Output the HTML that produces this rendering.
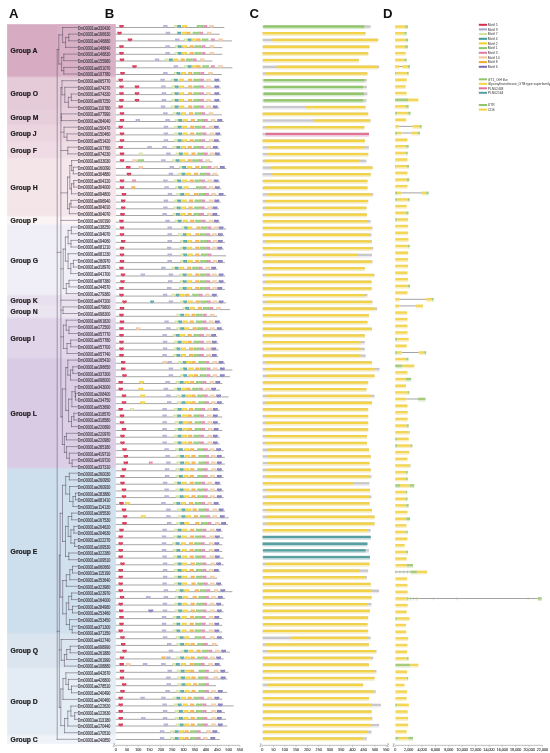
<!DOCTYPE html>
<html><head><meta charset="utf-8"><style>
html,body{margin:0;padding:0;background:#fff;width:550px;height:753px;overflow:hidden;position:relative}
</style></head><body>
<svg width="550" height="753" viewBox="0 0 550 753" style="position:absolute;left:0;top:0;will-change:transform">
<text x="9.1" y="17.5" font-family="Liberation Sans" font-weight="bold" font-size="13.2" fill="#111">A</text>
<text x="104.7" y="17.5" font-family="Liberation Sans" font-weight="bold" font-size="13.2" fill="#111">B</text>
<text x="249.5" y="17.5" font-family="Liberation Sans" font-weight="bold" font-size="13.2" fill="#111">C</text>
<text x="383.1" y="17.5" font-family="Liberation Sans" font-weight="bold" font-size="13.2" fill="#111">D</text>
<defs><linearGradient id="gb" x1="0" y1="0" x2="0" y2="1"><stop offset="0.000%" stop-color="rgb(215,172,194)"/><stop offset="7.129%" stop-color="rgb(215,172,194)"/><stop offset="7.462%" stop-color="rgb(229,202,216)"/><stop offset="11.604%" stop-color="rgb(229,202,216)"/><stop offset="11.937%" stop-color="rgb(231,206,219)"/><stop offset="13.799%" stop-color="rgb(231,206,219)"/><stop offset="14.133%" stop-color="rgb(235,213,223)"/><stop offset="16.134%" stop-color="rgb(235,213,223)"/><stop offset="16.467%" stop-color="rgb(238,219,227)"/><stop offset="18.427%" stop-color="rgb(238,219,227)"/><stop offset="18.760%" stop-color="rgb(244,229,233)"/><stop offset="26.543%" stop-color="rgb(244,229,233)"/><stop offset="26.876%" stop-color="rgb(250,244,245)"/><stop offset="27.654%" stop-color="rgb(250,244,245)"/><stop offset="27.988%" stop-color="rgb(240,238,246)"/><stop offset="37.479%" stop-color="rgb(240,238,246)"/><stop offset="37.813%" stop-color="rgb(232,224,238)"/><stop offset="38.883%" stop-color="rgb(232,224,238)"/><stop offset="39.216%" stop-color="rgb(235,229,241)"/><stop offset="40.661%" stop-color="rgb(235,229,241)"/><stop offset="40.995%" stop-color="rgb(224,213,233)"/><stop offset="46.262%" stop-color="rgb(224,213,233)"/><stop offset="46.595%" stop-color="rgb(218,203,228)"/><stop offset="61.520%" stop-color="rgb(218,203,228)"/><stop offset="61.854%" stop-color="rgb(205,222,236)"/><stop offset="84.505%" stop-color="rgb(205,222,236)"/><stop offset="84.839%" stop-color="rgb(218,229,239)"/><stop offset="89.258%" stop-color="rgb(218,229,239)"/><stop offset="89.591%" stop-color="rgb(227,236,244)"/><stop offset="98.596%" stop-color="rgb(227,236,244)"/><stop offset="98.930%" stop-color="rgb(239,243,248)"/><stop offset="100.000%" stop-color="rgb(239,243,248)"/></linearGradient><linearGradient id="gt" x1="0" y1="0" x2="0" y2="1"><stop offset="0.000%" stop-color="rgb(217,177,198)"/><stop offset="7.129%" stop-color="rgb(217,177,198)"/><stop offset="7.462%" stop-color="rgb(230,205,218)"/><stop offset="11.604%" stop-color="rgb(230,205,218)"/><stop offset="11.937%" stop-color="rgb(232,209,221)"/><stop offset="13.799%" stop-color="rgb(232,209,221)"/><stop offset="14.133%" stop-color="rgb(236,215,225)"/><stop offset="16.134%" stop-color="rgb(236,215,225)"/><stop offset="16.467%" stop-color="rgb(239,221,228)"/><stop offset="18.427%" stop-color="rgb(239,221,228)"/><stop offset="18.760%" stop-color="rgb(244,230,234)"/><stop offset="26.543%" stop-color="rgb(244,230,234)"/><stop offset="26.876%" stop-color="rgb(250,244,245)"/><stop offset="27.654%" stop-color="rgb(250,244,245)"/><stop offset="27.988%" stop-color="rgb(241,239,246)"/><stop offset="37.479%" stop-color="rgb(241,239,246)"/><stop offset="37.813%" stop-color="rgb(233,226,239)"/><stop offset="38.883%" stop-color="rgb(233,226,239)"/><stop offset="39.216%" stop-color="rgb(236,230,241)"/><stop offset="40.661%" stop-color="rgb(236,230,241)"/><stop offset="40.995%" stop-color="rgb(226,215,234)"/><stop offset="46.262%" stop-color="rgb(226,215,234)"/><stop offset="46.595%" stop-color="rgb(220,206,229)"/><stop offset="61.520%" stop-color="rgb(220,206,229)"/><stop offset="61.854%" stop-color="rgb(208,224,237)"/><stop offset="84.505%" stop-color="rgb(208,224,237)"/><stop offset="84.839%" stop-color="rgb(220,230,240)"/><stop offset="89.258%" stop-color="rgb(220,230,240)"/><stop offset="89.591%" stop-color="rgb(228,237,244)"/><stop offset="98.596%" stop-color="rgb(228,237,244)"/><stop offset="98.930%" stop-color="rgb(240,243,248)"/><stop offset="100.000%" stop-color="rgb(240,243,248)"/></linearGradient></defs>
<rect x="7.1" y="24.2" width="108.5" height="719.6" fill="url(#gb)"/>
<rect x="57.2" y="24.2" width="58.4" height="719.6" fill="url(#gt)"/>
<text x="10.6" y="53.2" font-family="Liberation Sans" font-weight="bold" font-size="6.8" fill="#1a1a1a" stroke="#1a1a1a" stroke-width="0.2">Group A</text>
<text x="10.6" y="95.5" font-family="Liberation Sans" font-weight="bold" font-size="6.8" fill="#1a1a1a" stroke="#1a1a1a" stroke-width="0.2">Group O</text>
<text x="10.6" y="119.5" font-family="Liberation Sans" font-weight="bold" font-size="6.8" fill="#1a1a1a" stroke="#1a1a1a" stroke-width="0.2">Group M</text>
<text x="10.6" y="135.8" font-family="Liberation Sans" font-weight="bold" font-size="6.8" fill="#1a1a1a" stroke="#1a1a1a" stroke-width="0.2">Group J</text>
<text x="10.6" y="152.5" font-family="Liberation Sans" font-weight="bold" font-size="6.8" fill="#1a1a1a" stroke="#1a1a1a" stroke-width="0.2">Group F</text>
<text x="10.6" y="189.9" font-family="Liberation Sans" font-weight="bold" font-size="6.8" fill="#1a1a1a" stroke="#1a1a1a" stroke-width="0.2">Group H</text>
<text x="10.6" y="223.1" font-family="Liberation Sans" font-weight="bold" font-size="6.8" fill="#1a1a1a" stroke="#1a1a1a" stroke-width="0.2">Group P</text>
<text x="10.6" y="262.5" font-family="Liberation Sans" font-weight="bold" font-size="6.8" fill="#1a1a1a" stroke="#1a1a1a" stroke-width="0.2">Group G</text>
<text x="10.6" y="302.9" font-family="Liberation Sans" font-weight="bold" font-size="6.8" fill="#1a1a1a" stroke="#1a1a1a" stroke-width="0.2">Group K</text>
<text x="10.6" y="314.3" font-family="Liberation Sans" font-weight="bold" font-size="6.8" fill="#1a1a1a" stroke="#1a1a1a" stroke-width="0.2">Group N</text>
<text x="10.6" y="340.9" font-family="Liberation Sans" font-weight="bold" font-size="6.8" fill="#1a1a1a" stroke="#1a1a1a" stroke-width="0.2">Group I</text>
<text x="10.6" y="415.9" font-family="Liberation Sans" font-weight="bold" font-size="6.8" fill="#1a1a1a" stroke="#1a1a1a" stroke-width="0.2">Group L</text>
<text x="10.6" y="553.5" font-family="Liberation Sans" font-weight="bold" font-size="6.8" fill="#1a1a1a" stroke="#1a1a1a" stroke-width="0.2">Group E</text>
<text x="10.6" y="653.3" font-family="Liberation Sans" font-weight="bold" font-size="6.8" fill="#1a1a1a" stroke="#1a1a1a" stroke-width="0.2">Group Q</text>
<text x="10.6" y="704.0" font-family="Liberation Sans" font-weight="bold" font-size="6.8" fill="#1a1a1a" stroke="#1a1a1a" stroke-width="0.2">Group D</text>
<text x="10.6" y="742.1" font-family="Liberation Sans" font-weight="bold" font-size="6.8" fill="#1a1a1a" stroke="#1a1a1a" stroke-width="0.2">Group C</text>
<path d="M62.6 27.5L77.6 27.5M68.8 34.1L77.6 34.1M68.8 40.8L77.6 40.8M68.8 34.1L68.8 40.8M65.6 47.4L77.6 47.4M65.6 37.4L68.8 37.4M65.6 37.4L65.6 47.4M62.6 42.4L65.6 42.4M62.6 27.5L62.6 42.4M63.8 54.1L77.6 54.1M63.8 60.7L77.6 60.7M63.8 54.1L63.8 60.7M63.8 67.4L77.6 67.4M63.8 74.0L77.6 74.0M63.8 67.4L63.8 74.0M61.6 57.4L63.8 57.4M61.6 70.7L63.8 70.7M61.6 57.4L61.6 70.7M58.8 34.9L62.6 34.9M58.8 64.0L61.6 64.0M58.8 34.9L58.8 64.0M57.2 49.5L58.8 49.5M62.0 80.7L77.6 80.7M64.8 87.3L77.6 87.3M71.3 94.0L77.6 94.0M71.3 100.6L77.6 100.6M71.3 94.0L71.3 100.6M68.4 107.3L77.6 107.3M68.4 97.3L71.3 97.3M68.4 97.3L68.4 107.3M64.8 102.3L68.4 102.3M64.8 87.3L64.8 102.3M62.0 94.8L64.8 94.8M62.0 80.7L62.0 94.8M60.9 87.7L62.0 87.7M61.4 113.9L77.6 113.9M61.4 120.6L77.6 120.6M61.4 113.9L61.4 120.6M60.9 117.3L61.4 117.3M64.0 127.2L77.6 127.2M67.0 133.9L77.6 133.9M67.0 140.6L77.6 140.6M67.0 133.9L67.0 140.6M64.0 137.2L67.0 137.2M64.0 127.2L64.0 137.2M60.9 132.2L64.0 132.2M67.8 147.2L77.6 147.2M67.8 153.9L77.6 153.9M67.8 147.2L67.8 153.9M60.9 150.5L67.8 150.5M71.6 160.5L77.6 160.5M73.3 167.2L77.6 167.2M73.3 173.8L77.6 173.8M73.3 167.2L73.3 173.8M71.6 170.5L73.3 170.5M71.6 160.5L71.6 170.5M73.8 180.5L77.6 180.5M73.8 187.1L77.6 187.1M73.8 180.5L73.8 187.1M71.5 193.8L77.6 193.8M71.5 183.8L73.8 183.8M71.5 183.8L71.5 193.8M69.8 165.5L71.6 165.5M69.8 188.8L71.5 188.8M69.8 165.5L69.8 188.8M71.0 200.4L77.6 200.4M71.0 207.1L77.6 207.1M71.0 200.4L71.0 207.1M69.4 213.7L77.6 213.7M69.4 203.8L71.0 203.8M69.4 203.8L69.4 213.7M67.5 177.1L69.8 177.1M67.5 208.7L69.4 208.7M67.5 177.1L67.5 208.7M60.9 192.9L67.5 192.9M60.9 220.4L77.6 220.4M71.3 227.0L77.6 227.0M71.3 233.7L77.6 233.7M71.3 227.0L71.3 233.7M71.0 240.4L77.6 240.4M71.0 247.0L77.6 247.0M71.0 240.4L71.0 247.0M68.1 230.4L71.3 230.4M68.1 243.7L71.0 243.7M68.1 230.4L68.1 243.7M68.1 253.7L77.6 253.7M73.4 260.3L77.6 260.3M73.4 267.0L77.6 267.0M73.4 260.3L73.4 267.0M70.8 273.6L77.6 273.6M70.8 263.6L73.4 263.6M70.8 263.6L70.8 273.6M68.1 268.6L70.8 268.6M68.1 253.7L68.1 268.6M65.4 237.0L68.1 237.0M65.4 261.1L68.1 261.1M65.4 237.0L65.4 261.1M69.0 280.3L77.6 280.3M69.0 286.9L77.6 286.9M69.0 280.3L69.0 286.9M66.3 293.6L77.6 293.6M66.3 283.6L69.0 283.6M66.3 283.6L66.3 293.6M63.2 249.1L65.4 249.1M63.2 288.6L66.3 288.6M63.2 249.1L63.2 288.6M60.9 268.8L63.2 268.8M60.9 300.2L77.6 300.2M63.0 306.9L77.6 306.9M63.0 313.5L77.6 313.5M63.0 306.9L63.0 313.5M60.9 310.2L63.0 310.2M66.2 320.2L77.6 320.2M69.0 326.8L77.6 326.8M69.0 333.5L77.6 333.5M69.0 326.8L69.0 333.5M66.2 330.2L69.0 330.2M66.2 320.2L66.2 330.2M70.7 340.1L77.6 340.1M70.7 346.8L77.6 346.8M70.7 340.1L70.7 346.8M67.0 353.5L77.6 353.5M67.0 343.5L70.7 343.5M67.0 343.5L67.0 353.5M63.4 325.2L66.2 325.2M63.4 348.5L67.0 348.5M63.4 325.2L63.4 348.5M60.9 336.8L63.4 336.8M67.8 360.1L77.6 360.1M72.8 366.8L77.6 366.8M72.8 373.4L77.6 373.4M72.8 366.8L72.8 373.4M70.5 380.1L77.6 380.1M70.5 370.1L72.8 370.1M70.5 370.1L70.5 380.1M67.8 375.1L70.5 375.1M67.8 360.1L67.8 375.1M75.2 386.7L77.6 386.7M75.5 393.4L77.6 393.4M75.5 400.0L77.6 400.0M75.5 393.4L75.5 400.0M75.2 396.7L75.5 396.7M75.2 386.7L75.2 396.7M71.9 406.7L77.6 406.7M71.9 391.7L75.2 391.7M71.9 391.7L71.9 406.7M73.9 413.3L77.6 413.3M73.9 420.0L77.6 420.0M73.9 413.3L73.9 420.0M71.5 426.6L77.6 426.6M71.5 416.7L73.9 416.7M71.5 416.7L71.5 426.6M68.6 399.2L71.9 399.2M68.6 421.6L71.5 421.6M68.6 399.2L68.6 421.6M65.7 367.6L67.8 367.6M65.7 410.4L68.6 410.4M65.7 367.6L65.7 410.4M66.4 433.3L77.6 433.3M66.4 439.9L77.6 439.9M66.4 433.3L66.4 439.9M66.6 446.6L77.6 446.6M69.3 453.2L77.6 453.2M72.1 459.9L77.6 459.9M72.1 466.6L77.6 466.6M72.1 459.9L72.1 466.6M69.3 463.2L72.1 463.2M69.3 453.2L69.3 463.2M66.6 458.2L69.3 458.2M66.6 446.6L66.6 458.2M64.4 436.6L66.4 436.6M64.4 452.4L66.6 452.4M64.4 436.6L64.4 452.4M62.4 389.0L65.7 389.0M62.4 444.5L64.4 444.5M62.4 389.0L62.4 444.5M60.9 416.8L62.4 416.8M69.3 473.2L77.6 473.2M69.3 479.9L77.6 479.9M69.3 473.2L69.3 479.9M69.6 486.5L77.6 486.5M75.5 493.2L77.6 493.2M75.5 499.8L77.6 499.8M75.5 493.2L75.5 499.8M73.0 506.5L77.6 506.5M73.0 496.5L75.5 496.5M73.0 496.5L73.0 506.5M69.6 501.5L73.0 501.5M69.6 486.5L69.6 501.5M65.7 476.5L69.3 476.5M65.7 494.0L69.6 494.0M65.7 476.5L65.7 494.0M71.7 513.1L77.6 513.1M71.7 519.8L77.6 519.8M71.7 513.1L71.7 519.8M73.9 526.4L77.6 526.4M73.9 533.1L77.6 533.1M73.9 526.4L73.9 533.1M74.6 539.7L77.6 539.7M74.6 546.4L77.6 546.4M74.6 539.7L74.6 546.4M70.9 529.8L73.9 529.8M70.9 543.1L74.6 543.1M70.9 529.8L70.9 543.1M68.2 516.5L71.7 516.5M68.2 536.4L70.9 536.4M68.2 516.5L68.2 536.4M68.8 553.0L77.6 553.0M68.8 559.7L77.6 559.7M68.8 553.0L68.8 559.7M65.5 526.4L68.2 526.4M65.5 556.4L68.8 556.4M65.5 526.4L65.5 556.4M62.5 485.3L65.7 485.3M62.5 541.4L65.5 541.4M62.5 485.3L62.5 541.4M72.5 566.3L77.6 566.3M72.5 573.0L77.6 573.0M72.5 566.3L72.5 573.0M69.8 579.7L77.6 579.7M69.8 569.7L72.5 569.7M69.8 569.7L69.8 579.7M66.3 586.3L77.6 586.3M66.3 574.7L69.8 574.7M66.3 574.7L66.3 586.3M71.6 593.0L77.6 593.0M71.6 599.6L77.6 599.6M71.6 593.0L71.6 599.6M72.5 606.3L77.6 606.3M72.5 612.9L77.6 612.9M72.5 606.3L72.5 612.9M68.7 596.3L71.6 596.3M68.7 609.6L72.5 609.6M68.7 596.3L68.7 609.6M69.5 619.6L77.6 619.6M72.2 626.2L77.6 626.2M72.2 632.9L77.6 632.9M72.2 626.2L72.2 632.9M69.5 629.6L72.2 629.6M69.5 619.6L69.5 629.6M66.3 602.9L68.7 602.9M66.3 624.6L69.5 624.6M66.3 602.9L66.3 624.6M62.7 580.5L66.3 580.5M62.7 613.8L66.3 613.8M62.7 580.5L62.7 613.8M60.2 513.3L62.5 513.3M60.2 597.1L62.7 597.1M60.2 513.3L60.2 597.1M59.3 555.2L60.2 555.2M61.2 639.5L77.6 639.5M70.2 646.2L77.6 646.2M70.2 652.8L77.6 652.8M70.2 646.2L70.2 652.8M66.7 659.5L77.6 659.5M66.7 649.5L70.2 649.5M66.7 649.5L66.7 659.5M64.4 666.1L77.6 666.1M64.4 654.5L66.7 654.5M64.4 654.5L64.4 666.1M61.2 660.3L64.4 660.3M61.2 639.5L61.2 660.3M59.3 649.9L61.2 649.9M65.9 672.8L77.6 672.8M68.4 679.4L77.6 679.4M71.5 686.1L77.6 686.1M71.5 692.8L77.6 692.8M71.5 686.1L71.5 692.8M68.4 689.4L71.5 689.4M68.4 679.4L68.4 689.4M65.9 684.4L68.4 684.4M65.9 672.8L65.9 684.4M63.0 699.4L77.6 699.4M63.0 678.6L65.9 678.6M63.0 678.6L63.0 699.4M70.9 706.1L77.6 706.1M74.7 712.7L77.6 712.7M74.7 719.4L77.6 719.4M74.7 712.7L74.7 719.4M70.9 716.0L74.7 716.0M70.9 706.1L70.9 716.0M67.8 726.0L77.6 726.0M67.8 711.1L70.9 711.1M67.8 711.1L67.8 726.0M64.6 732.7L77.6 732.7M64.6 718.5L67.8 718.5M64.6 718.5L64.6 732.7M60.8 689.0L63.0 689.0M60.8 725.6L64.6 725.6M60.8 689.0L60.8 725.6M59.3 707.3L60.8 707.3M57.2 739.3L77.6 739.3M60.9 87.7L60.9 416.8M57.2 252.3L60.9 252.3M59.3 555.2L59.3 707.3M57.2 631.3L59.3 631.3M57.2 49.5L57.2 739.3" stroke="rgba(75,65,90,0.6)" stroke-width="0.8" fill="none" stroke-linecap="square"/>
<text x="77.8" y="29.8" font-family="Liberation Sans" font-size="4.9" fill="rgb(80,74,84)" stroke="rgb(80,74,84)" stroke-width="0.2" textLength="32.6" lengthAdjust="spacingAndGlyphs">Dm00001ae330430</text>
<text x="77.8" y="36.4" font-family="Liberation Sans" font-size="4.9" fill="rgb(80,74,84)" stroke="rgb(80,74,84)" stroke-width="0.2" textLength="32.6" lengthAdjust="spacingAndGlyphs">Dm00001ae196630</text>
<text x="77.8" y="43.1" font-family="Liberation Sans" font-size="4.9" fill="rgb(80,74,84)" stroke="rgb(80,74,84)" stroke-width="0.2" textLength="32.6" lengthAdjust="spacingAndGlyphs">Dm00001ae146880</text>
<text x="77.8" y="49.7" font-family="Liberation Sans" font-size="4.9" fill="rgb(80,74,84)" stroke="rgb(80,74,84)" stroke-width="0.2" textLength="32.6" lengthAdjust="spacingAndGlyphs">Dm00001ae146840</text>
<text x="77.8" y="56.4" font-family="Liberation Sans" font-size="4.9" fill="rgb(80,74,84)" stroke="rgb(80,74,84)" stroke-width="0.2" textLength="32.6" lengthAdjust="spacingAndGlyphs">Dm00001ae146830</text>
<text x="77.8" y="63.0" font-family="Liberation Sans" font-size="4.9" fill="rgb(80,74,84)" stroke="rgb(80,74,84)" stroke-width="0.2" textLength="32.6" lengthAdjust="spacingAndGlyphs">Dm00001ae155980</text>
<text x="77.8" y="69.7" font-family="Liberation Sans" font-size="4.9" fill="rgb(80,74,84)" stroke="rgb(80,74,84)" stroke-width="0.2" textLength="32.6" lengthAdjust="spacingAndGlyphs">Dm00001ae051070</text>
<text x="77.8" y="76.3" font-family="Liberation Sans" font-size="4.9" fill="rgb(80,74,84)" stroke="rgb(80,74,84)" stroke-width="0.2" textLength="32.6" lengthAdjust="spacingAndGlyphs">Dm00001ae107780</text>
<text x="77.8" y="83.0" font-family="Liberation Sans" font-size="4.9" fill="rgb(80,74,84)" stroke="rgb(80,74,84)" stroke-width="0.2" textLength="32.6" lengthAdjust="spacingAndGlyphs">Dm00001ae065770</text>
<text x="77.8" y="89.6" font-family="Liberation Sans" font-size="4.9" fill="rgb(80,74,84)" stroke="rgb(80,74,84)" stroke-width="0.2" textLength="32.6" lengthAdjust="spacingAndGlyphs">Dm00001ae074370</text>
<text x="77.8" y="96.3" font-family="Liberation Sans" font-size="4.9" fill="rgb(80,74,84)" stroke="rgb(80,74,84)" stroke-width="0.2" textLength="32.6" lengthAdjust="spacingAndGlyphs">Dm00001ae074330</text>
<text x="77.8" y="102.9" font-family="Liberation Sans" font-size="4.9" fill="rgb(80,74,84)" stroke="rgb(80,74,84)" stroke-width="0.2" textLength="32.6" lengthAdjust="spacingAndGlyphs">Dm00001ae067250</text>
<text x="77.8" y="109.6" font-family="Liberation Sans" font-size="4.9" fill="rgb(80,74,84)" stroke="rgb(80,74,84)" stroke-width="0.2" textLength="32.6" lengthAdjust="spacingAndGlyphs">Dm00001ae110780</text>
<text x="77.8" y="116.2" font-family="Liberation Sans" font-size="4.9" fill="rgb(80,74,84)" stroke="rgb(80,74,84)" stroke-width="0.2" textLength="32.6" lengthAdjust="spacingAndGlyphs">Dm00001ae077990</text>
<text x="77.8" y="122.9" font-family="Liberation Sans" font-size="4.9" fill="rgb(80,74,84)" stroke="rgb(80,74,84)" stroke-width="0.2" textLength="32.6" lengthAdjust="spacingAndGlyphs">Dm00001ae284040</text>
<text x="77.8" y="129.5" font-family="Liberation Sans" font-size="4.9" fill="rgb(80,74,84)" stroke="rgb(80,74,84)" stroke-width="0.2" textLength="32.6" lengthAdjust="spacingAndGlyphs">Dm00001ae150470</text>
<text x="77.8" y="136.2" font-family="Liberation Sans" font-size="4.9" fill="rgb(80,74,84)" stroke="rgb(80,74,84)" stroke-width="0.2" textLength="32.6" lengthAdjust="spacingAndGlyphs">Dm00001ae150460</text>
<text x="77.8" y="142.9" font-family="Liberation Sans" font-size="4.9" fill="rgb(80,74,84)" stroke="rgb(80,74,84)" stroke-width="0.2" textLength="32.6" lengthAdjust="spacingAndGlyphs">Dm00001ae051420</text>
<text x="77.8" y="149.5" font-family="Liberation Sans" font-size="4.9" fill="rgb(80,74,84)" stroke="rgb(80,74,84)" stroke-width="0.2" textLength="32.6" lengthAdjust="spacingAndGlyphs">Dm00001ae107760</text>
<text x="77.8" y="156.2" font-family="Liberation Sans" font-size="4.9" fill="rgb(80,74,84)" stroke="rgb(80,74,84)" stroke-width="0.2" textLength="32.6" lengthAdjust="spacingAndGlyphs">Dm00001ae074230</text>
<text x="77.8" y="162.8" font-family="Liberation Sans" font-size="4.9" fill="rgb(80,74,84)" stroke="rgb(80,74,84)" stroke-width="0.2" textLength="32.6" lengthAdjust="spacingAndGlyphs">Dm00001ae033030</text>
<text x="77.8" y="169.5" font-family="Liberation Sans" font-size="4.9" fill="rgb(80,74,84)" stroke="rgb(80,74,84)" stroke-width="0.2" textLength="32.6" lengthAdjust="spacingAndGlyphs">Dm00001ae160090</text>
<text x="77.8" y="176.1" font-family="Liberation Sans" font-size="4.9" fill="rgb(80,74,84)" stroke="rgb(80,74,84)" stroke-width="0.2" textLength="32.6" lengthAdjust="spacingAndGlyphs">Dm00001ae304880</text>
<text x="77.8" y="182.8" font-family="Liberation Sans" font-size="4.9" fill="rgb(80,74,84)" stroke="rgb(80,74,84)" stroke-width="0.2" textLength="32.6" lengthAdjust="spacingAndGlyphs">Dm00001ae304120</text>
<text x="77.8" y="189.4" font-family="Liberation Sans" font-size="4.9" fill="rgb(80,74,84)" stroke="rgb(80,74,84)" stroke-width="0.2" textLength="32.6" lengthAdjust="spacingAndGlyphs">Dm00001ae304000</text>
<text x="77.8" y="196.1" font-family="Liberation Sans" font-size="4.9" fill="rgb(80,74,84)" stroke="rgb(80,74,84)" stroke-width="0.2" textLength="32.6" lengthAdjust="spacingAndGlyphs">Dm00001ae094800</text>
<text x="77.8" y="202.7" font-family="Liberation Sans" font-size="4.9" fill="rgb(80,74,84)" stroke="rgb(80,74,84)" stroke-width="0.2" textLength="32.6" lengthAdjust="spacingAndGlyphs">Dm00001ae096940</text>
<text x="77.8" y="209.4" font-family="Liberation Sans" font-size="4.9" fill="rgb(80,74,84)" stroke="rgb(80,74,84)" stroke-width="0.2" textLength="32.6" lengthAdjust="spacingAndGlyphs">Dm00001ae304010</text>
<text x="77.8" y="216.0" font-family="Liberation Sans" font-size="4.9" fill="rgb(80,74,84)" stroke="rgb(80,74,84)" stroke-width="0.2" textLength="32.6" lengthAdjust="spacingAndGlyphs">Dm00001ae304070</text>
<text x="77.8" y="222.7" font-family="Liberation Sans" font-size="4.9" fill="rgb(80,74,84)" stroke="rgb(80,74,84)" stroke-width="0.2" textLength="32.6" lengthAdjust="spacingAndGlyphs">Dm00001ae100190</text>
<text x="77.8" y="229.3" font-family="Liberation Sans" font-size="4.9" fill="rgb(80,74,84)" stroke="rgb(80,74,84)" stroke-width="0.2" textLength="32.6" lengthAdjust="spacingAndGlyphs">Dm00001ae138250</text>
<text x="77.8" y="236.0" font-family="Liberation Sans" font-size="4.9" fill="rgb(80,74,84)" stroke="rgb(80,74,84)" stroke-width="0.2" textLength="32.6" lengthAdjust="spacingAndGlyphs">Dm00001ae194070</text>
<text x="77.8" y="242.7" font-family="Liberation Sans" font-size="4.9" fill="rgb(80,74,84)" stroke="rgb(80,74,84)" stroke-width="0.2" textLength="32.6" lengthAdjust="spacingAndGlyphs">Dm00001ae194060</text>
<text x="77.8" y="249.3" font-family="Liberation Sans" font-size="4.9" fill="rgb(80,74,84)" stroke="rgb(80,74,84)" stroke-width="0.2" textLength="32.6" lengthAdjust="spacingAndGlyphs">Dm00001ae081210</text>
<text x="77.8" y="256.0" font-family="Liberation Sans" font-size="4.9" fill="rgb(80,74,84)" stroke="rgb(80,74,84)" stroke-width="0.2" textLength="32.6" lengthAdjust="spacingAndGlyphs">Dm00001ae081230</text>
<text x="77.8" y="262.6" font-family="Liberation Sans" font-size="4.9" fill="rgb(80,74,84)" stroke="rgb(80,74,84)" stroke-width="0.2" textLength="32.6" lengthAdjust="spacingAndGlyphs">Dm00001ae280970</text>
<text x="77.8" y="269.3" font-family="Liberation Sans" font-size="4.9" fill="rgb(80,74,84)" stroke="rgb(80,74,84)" stroke-width="0.2" textLength="32.6" lengthAdjust="spacingAndGlyphs">Dm00001ae318970</text>
<text x="77.8" y="275.9" font-family="Liberation Sans" font-size="4.9" fill="rgb(80,74,84)" stroke="rgb(80,74,84)" stroke-width="0.2" textLength="32.6" lengthAdjust="spacingAndGlyphs">Dm00001ae041700</text>
<text x="77.8" y="282.6" font-family="Liberation Sans" font-size="4.9" fill="rgb(80,74,84)" stroke="rgb(80,74,84)" stroke-width="0.2" textLength="32.6" lengthAdjust="spacingAndGlyphs">Dm00001ae087380</text>
<text x="77.8" y="289.2" font-family="Liberation Sans" font-size="4.9" fill="rgb(80,74,84)" stroke="rgb(80,74,84)" stroke-width="0.2" textLength="32.6" lengthAdjust="spacingAndGlyphs">Dm00001ae244570</text>
<text x="77.8" y="295.9" font-family="Liberation Sans" font-size="4.9" fill="rgb(80,74,84)" stroke="rgb(80,74,84)" stroke-width="0.2" textLength="32.6" lengthAdjust="spacingAndGlyphs">Dm00001ae279380</text>
<text x="77.8" y="302.5" font-family="Liberation Sans" font-size="4.9" fill="rgb(80,74,84)" stroke="rgb(80,74,84)" stroke-width="0.2" textLength="32.6" lengthAdjust="spacingAndGlyphs">Dm00001ae047200</text>
<text x="77.8" y="309.2" font-family="Liberation Sans" font-size="4.9" fill="rgb(80,74,84)" stroke="rgb(80,74,84)" stroke-width="0.2" textLength="32.6" lengthAdjust="spacingAndGlyphs">Dm00001ae079800</text>
<text x="77.8" y="315.8" font-family="Liberation Sans" font-size="4.9" fill="rgb(80,74,84)" stroke="rgb(80,74,84)" stroke-width="0.2" textLength="32.6" lengthAdjust="spacingAndGlyphs">Dm00001ae098300</text>
<text x="77.8" y="322.5" font-family="Liberation Sans" font-size="4.9" fill="rgb(80,74,84)" stroke="rgb(80,74,84)" stroke-width="0.2" textLength="32.6" lengthAdjust="spacingAndGlyphs">Dm00001ae061820</text>
<text x="77.8" y="329.1" font-family="Liberation Sans" font-size="4.9" fill="rgb(80,74,84)" stroke="rgb(80,74,84)" stroke-width="0.2" textLength="32.6" lengthAdjust="spacingAndGlyphs">Dm00001ae172500</text>
<text x="77.8" y="335.8" font-family="Liberation Sans" font-size="4.9" fill="rgb(80,74,84)" stroke="rgb(80,74,84)" stroke-width="0.2" textLength="32.6" lengthAdjust="spacingAndGlyphs">Dm00001ae057770</text>
<text x="77.8" y="342.4" font-family="Liberation Sans" font-size="4.9" fill="rgb(80,74,84)" stroke="rgb(80,74,84)" stroke-width="0.2" textLength="32.6" lengthAdjust="spacingAndGlyphs">Dm00001ae057780</text>
<text x="77.8" y="349.1" font-family="Liberation Sans" font-size="4.9" fill="rgb(80,74,84)" stroke="rgb(80,74,84)" stroke-width="0.2" textLength="32.6" lengthAdjust="spacingAndGlyphs">Dm00001ae057700</text>
<text x="77.8" y="355.8" font-family="Liberation Sans" font-size="4.9" fill="rgb(80,74,84)" stroke="rgb(80,74,84)" stroke-width="0.2" textLength="32.6" lengthAdjust="spacingAndGlyphs">Dm00001ae057740</text>
<text x="77.8" y="362.4" font-family="Liberation Sans" font-size="4.9" fill="rgb(80,74,84)" stroke="rgb(80,74,84)" stroke-width="0.2" textLength="32.6" lengthAdjust="spacingAndGlyphs">Dm00001ae165410</text>
<text x="77.8" y="369.1" font-family="Liberation Sans" font-size="4.9" fill="rgb(80,74,84)" stroke="rgb(80,74,84)" stroke-width="0.2" textLength="32.6" lengthAdjust="spacingAndGlyphs">Dm00001ae196650</text>
<text x="77.8" y="375.7" font-family="Liberation Sans" font-size="4.9" fill="rgb(80,74,84)" stroke="rgb(80,74,84)" stroke-width="0.2" textLength="32.6" lengthAdjust="spacingAndGlyphs">Dm00001ae337300</text>
<text x="77.8" y="382.4" font-family="Liberation Sans" font-size="4.9" fill="rgb(80,74,84)" stroke="rgb(80,74,84)" stroke-width="0.2" textLength="32.6" lengthAdjust="spacingAndGlyphs">Dm00001ae098000</text>
<text x="77.8" y="389.0" font-family="Liberation Sans" font-size="4.9" fill="rgb(80,74,84)" stroke="rgb(80,74,84)" stroke-width="0.2" textLength="32.6" lengthAdjust="spacingAndGlyphs">Dm00001ae343000</text>
<text x="77.8" y="395.7" font-family="Liberation Sans" font-size="4.9" fill="rgb(80,74,84)" stroke="rgb(80,74,84)" stroke-width="0.2" textLength="32.6" lengthAdjust="spacingAndGlyphs">Dm00001ae208400</text>
<text x="77.8" y="402.3" font-family="Liberation Sans" font-size="4.9" fill="rgb(80,74,84)" stroke="rgb(80,74,84)" stroke-width="0.2" textLength="32.6" lengthAdjust="spacingAndGlyphs">Dm00001ae234750</text>
<text x="77.8" y="409.0" font-family="Liberation Sans" font-size="4.9" fill="rgb(80,74,84)" stroke="rgb(80,74,84)" stroke-width="0.2" textLength="32.6" lengthAdjust="spacingAndGlyphs">Dm00001ae053690</text>
<text x="77.8" y="415.6" font-family="Liberation Sans" font-size="4.9" fill="rgb(80,74,84)" stroke="rgb(80,74,84)" stroke-width="0.2" textLength="32.6" lengthAdjust="spacingAndGlyphs">Dm00001ae318570</text>
<text x="77.8" y="422.3" font-family="Liberation Sans" font-size="4.9" fill="rgb(80,74,84)" stroke="rgb(80,74,84)" stroke-width="0.2" textLength="32.6" lengthAdjust="spacingAndGlyphs">Dm00001ae318580</text>
<text x="77.8" y="428.9" font-family="Liberation Sans" font-size="4.9" fill="rgb(80,74,84)" stroke="rgb(80,74,84)" stroke-width="0.2" textLength="32.6" lengthAdjust="spacingAndGlyphs">Dm00001ae220690</text>
<text x="77.8" y="435.6" font-family="Liberation Sans" font-size="4.9" fill="rgb(80,74,84)" stroke="rgb(80,74,84)" stroke-width="0.2" textLength="32.6" lengthAdjust="spacingAndGlyphs">Dm00001ae220970</text>
<text x="77.8" y="442.2" font-family="Liberation Sans" font-size="4.9" fill="rgb(80,74,84)" stroke="rgb(80,74,84)" stroke-width="0.2" textLength="32.6" lengthAdjust="spacingAndGlyphs">Dm00001ae220980</text>
<text x="77.8" y="448.9" font-family="Liberation Sans" font-size="4.9" fill="rgb(80,74,84)" stroke="rgb(80,74,84)" stroke-width="0.2" textLength="32.6" lengthAdjust="spacingAndGlyphs">Dm00001ae285180</text>
<text x="77.8" y="455.5" font-family="Liberation Sans" font-size="4.9" fill="rgb(80,74,84)" stroke="rgb(80,74,84)" stroke-width="0.2" textLength="32.6" lengthAdjust="spacingAndGlyphs">Dm00001ae419710</text>
<text x="77.8" y="462.2" font-family="Liberation Sans" font-size="4.9" fill="rgb(80,74,84)" stroke="rgb(80,74,84)" stroke-width="0.2" textLength="32.6" lengthAdjust="spacingAndGlyphs">Dm00001ae419720</text>
<text x="77.8" y="468.9" font-family="Liberation Sans" font-size="4.9" fill="rgb(80,74,84)" stroke="rgb(80,74,84)" stroke-width="0.2" textLength="32.6" lengthAdjust="spacingAndGlyphs">Dm00001ae337310</text>
<text x="77.8" y="475.5" font-family="Liberation Sans" font-size="4.9" fill="rgb(80,74,84)" stroke="rgb(80,74,84)" stroke-width="0.2" textLength="32.6" lengthAdjust="spacingAndGlyphs">Dm00001ae260030</text>
<text x="77.8" y="482.2" font-family="Liberation Sans" font-size="4.9" fill="rgb(80,74,84)" stroke="rgb(80,74,84)" stroke-width="0.2" textLength="32.6" lengthAdjust="spacingAndGlyphs">Dm00001ae260950</text>
<text x="77.8" y="488.8" font-family="Liberation Sans" font-size="4.9" fill="rgb(80,74,84)" stroke="rgb(80,74,84)" stroke-width="0.2" textLength="32.6" lengthAdjust="spacingAndGlyphs">Dm00001ae260930</text>
<text x="77.8" y="495.5" font-family="Liberation Sans" font-size="4.9" fill="rgb(80,74,84)" stroke="rgb(80,74,84)" stroke-width="0.2" textLength="32.6" lengthAdjust="spacingAndGlyphs">Dm00001ae283880</text>
<text x="77.8" y="502.1" font-family="Liberation Sans" font-size="4.9" fill="rgb(80,74,84)" stroke="rgb(80,74,84)" stroke-width="0.2" textLength="32.6" lengthAdjust="spacingAndGlyphs">Dm00001ae081410</text>
<text x="77.8" y="508.8" font-family="Liberation Sans" font-size="4.9" fill="rgb(80,74,84)" stroke="rgb(80,74,84)" stroke-width="0.2" textLength="32.6" lengthAdjust="spacingAndGlyphs">Dm00001ae114130</text>
<text x="77.8" y="515.4" font-family="Liberation Sans" font-size="4.9" fill="rgb(80,74,84)" stroke="rgb(80,74,84)" stroke-width="0.2" textLength="32.6" lengthAdjust="spacingAndGlyphs">Dm00001ae165530</text>
<text x="77.8" y="522.1" font-family="Liberation Sans" font-size="4.9" fill="rgb(80,74,84)" stroke="rgb(80,74,84)" stroke-width="0.2" textLength="32.6" lengthAdjust="spacingAndGlyphs">Dm00001ae167530</text>
<text x="77.8" y="528.7" font-family="Liberation Sans" font-size="4.9" fill="rgb(80,74,84)" stroke="rgb(80,74,84)" stroke-width="0.2" textLength="32.6" lengthAdjust="spacingAndGlyphs">Dm00001ae204620</text>
<text x="77.8" y="535.4" font-family="Liberation Sans" font-size="4.9" fill="rgb(80,74,84)" stroke="rgb(80,74,84)" stroke-width="0.2" textLength="32.6" lengthAdjust="spacingAndGlyphs">Dm00001ae204630</text>
<text x="77.8" y="542.0" font-family="Liberation Sans" font-size="4.9" fill="rgb(80,74,84)" stroke="rgb(80,74,84)" stroke-width="0.2" textLength="32.6" lengthAdjust="spacingAndGlyphs">Dm00001ae322270</text>
<text x="77.8" y="548.7" font-family="Liberation Sans" font-size="4.9" fill="rgb(80,74,84)" stroke="rgb(80,74,84)" stroke-width="0.2" textLength="32.6" lengthAdjust="spacingAndGlyphs">Dm00001ae109530</text>
<text x="77.8" y="555.3" font-family="Liberation Sans" font-size="4.9" fill="rgb(80,74,84)" stroke="rgb(80,74,84)" stroke-width="0.2" textLength="32.6" lengthAdjust="spacingAndGlyphs">Dm00001ae322280</text>
<text x="77.8" y="562.0" font-family="Liberation Sans" font-size="4.9" fill="rgb(80,74,84)" stroke="rgb(80,74,84)" stroke-width="0.2" textLength="32.6" lengthAdjust="spacingAndGlyphs">Dm00001ae109510</text>
<text x="77.8" y="568.6" font-family="Liberation Sans" font-size="4.9" fill="rgb(80,74,84)" stroke="rgb(80,74,84)" stroke-width="0.2" textLength="32.6" lengthAdjust="spacingAndGlyphs">Dm00001ae060660</text>
<text x="77.8" y="575.3" font-family="Liberation Sans" font-size="4.9" fill="rgb(80,74,84)" stroke="rgb(80,74,84)" stroke-width="0.2" textLength="32.6" lengthAdjust="spacingAndGlyphs">Dm00001ae115190</text>
<text x="77.8" y="582.0" font-family="Liberation Sans" font-size="4.9" fill="rgb(80,74,84)" stroke="rgb(80,74,84)" stroke-width="0.2" textLength="32.6" lengthAdjust="spacingAndGlyphs">Dm00001ae353640</text>
<text x="77.8" y="588.6" font-family="Liberation Sans" font-size="4.9" fill="rgb(80,74,84)" stroke="rgb(80,74,84)" stroke-width="0.2" textLength="32.6" lengthAdjust="spacingAndGlyphs">Dm00001ae323980</text>
<text x="77.8" y="595.3" font-family="Liberation Sans" font-size="4.9" fill="rgb(80,74,84)" stroke="rgb(80,74,84)" stroke-width="0.2" textLength="32.6" lengthAdjust="spacingAndGlyphs">Dm00001ae323970</text>
<text x="77.8" y="601.9" font-family="Liberation Sans" font-size="4.9" fill="rgb(80,74,84)" stroke="rgb(80,74,84)" stroke-width="0.2" textLength="32.6" lengthAdjust="spacingAndGlyphs">Dm00001ae164000</text>
<text x="77.8" y="608.6" font-family="Liberation Sans" font-size="4.9" fill="rgb(80,74,84)" stroke="rgb(80,74,84)" stroke-width="0.2" textLength="32.6" lengthAdjust="spacingAndGlyphs">Dm00001ae284980</text>
<text x="77.8" y="615.2" font-family="Liberation Sans" font-size="4.9" fill="rgb(80,74,84)" stroke="rgb(80,74,84)" stroke-width="0.2" textLength="32.6" lengthAdjust="spacingAndGlyphs">Dm00001ae253460</text>
<text x="77.8" y="621.9" font-family="Liberation Sans" font-size="4.9" fill="rgb(80,74,84)" stroke="rgb(80,74,84)" stroke-width="0.2" textLength="32.6" lengthAdjust="spacingAndGlyphs">Dm00001ae253450</text>
<text x="77.8" y="628.5" font-family="Liberation Sans" font-size="4.9" fill="rgb(80,74,84)" stroke="rgb(80,74,84)" stroke-width="0.2" textLength="32.6" lengthAdjust="spacingAndGlyphs">Dm00001ae371300</text>
<text x="77.8" y="635.2" font-family="Liberation Sans" font-size="4.9" fill="rgb(80,74,84)" stroke="rgb(80,74,84)" stroke-width="0.2" textLength="32.6" lengthAdjust="spacingAndGlyphs">Dm00001ae371350</text>
<text x="77.8" y="641.8" font-family="Liberation Sans" font-size="4.9" fill="rgb(80,74,84)" stroke="rgb(80,74,84)" stroke-width="0.2" textLength="32.6" lengthAdjust="spacingAndGlyphs">Dm00001ae432740</text>
<text x="77.8" y="648.5" font-family="Liberation Sans" font-size="4.9" fill="rgb(80,74,84)" stroke="rgb(80,74,84)" stroke-width="0.2" textLength="32.6" lengthAdjust="spacingAndGlyphs">Dm00001ae098990</text>
<text x="77.8" y="655.1" font-family="Liberation Sans" font-size="4.9" fill="rgb(80,74,84)" stroke="rgb(80,74,84)" stroke-width="0.2" textLength="32.6" lengthAdjust="spacingAndGlyphs">Dm00001ae261880</text>
<text x="77.8" y="661.8" font-family="Liberation Sans" font-size="4.9" fill="rgb(80,74,84)" stroke="rgb(80,74,84)" stroke-width="0.2" textLength="32.6" lengthAdjust="spacingAndGlyphs">Dm00001ae261990</text>
<text x="77.8" y="668.4" font-family="Liberation Sans" font-size="4.9" fill="rgb(80,74,84)" stroke="rgb(80,74,84)" stroke-width="0.2" textLength="32.6" lengthAdjust="spacingAndGlyphs">Dm00001ae108880</text>
<text x="77.8" y="675.1" font-family="Liberation Sans" font-size="4.9" fill="rgb(80,74,84)" stroke="rgb(80,74,84)" stroke-width="0.2" textLength="32.6" lengthAdjust="spacingAndGlyphs">Dm00001ae042670</text>
<text x="77.8" y="681.7" font-family="Liberation Sans" font-size="4.9" fill="rgb(80,74,84)" stroke="rgb(80,74,84)" stroke-width="0.2" textLength="32.6" lengthAdjust="spacingAndGlyphs">Dm00001ae426800</text>
<text x="77.8" y="688.4" font-family="Liberation Sans" font-size="4.9" fill="rgb(80,74,84)" stroke="rgb(80,74,84)" stroke-width="0.2" textLength="32.6" lengthAdjust="spacingAndGlyphs">Dm00001ae278510</text>
<text x="77.8" y="695.1" font-family="Liberation Sans" font-size="4.9" fill="rgb(80,74,84)" stroke="rgb(80,74,84)" stroke-width="0.2" textLength="32.6" lengthAdjust="spacingAndGlyphs">Dm00001ae240490</text>
<text x="77.8" y="701.7" font-family="Liberation Sans" font-size="4.9" fill="rgb(80,74,84)" stroke="rgb(80,74,84)" stroke-width="0.2" textLength="32.6" lengthAdjust="spacingAndGlyphs">Dm00001ae240460</text>
<text x="77.8" y="708.4" font-family="Liberation Sans" font-size="4.9" fill="rgb(80,74,84)" stroke="rgb(80,74,84)" stroke-width="0.2" textLength="32.6" lengthAdjust="spacingAndGlyphs">Dm00001ae122620</text>
<text x="77.8" y="715.0" font-family="Liberation Sans" font-size="4.9" fill="rgb(80,74,84)" stroke="rgb(80,74,84)" stroke-width="0.2" textLength="32.6" lengthAdjust="spacingAndGlyphs">Dm00001ae122630</text>
<text x="77.8" y="721.7" font-family="Liberation Sans" font-size="4.9" fill="rgb(80,74,84)" stroke="rgb(80,74,84)" stroke-width="0.2" textLength="32.6" lengthAdjust="spacingAndGlyphs">Dm00001ae113180</text>
<text x="77.8" y="728.3" font-family="Liberation Sans" font-size="4.9" fill="rgb(80,74,84)" stroke="rgb(80,74,84)" stroke-width="0.2" textLength="32.6" lengthAdjust="spacingAndGlyphs">Dm00001ae170440</text>
<text x="77.8" y="735.0" font-family="Liberation Sans" font-size="4.9" fill="rgb(80,74,84)" stroke="rgb(80,74,84)" stroke-width="0.2" textLength="32.6" lengthAdjust="spacingAndGlyphs">Dm00001ae170510</text>
<text x="77.8" y="741.6" font-family="Liberation Sans" font-size="4.9" fill="rgb(80,74,84)" stroke="rgb(80,74,84)" stroke-width="0.2" textLength="32.6" lengthAdjust="spacingAndGlyphs">Dm00001ae240850</text>
<path d="M115.8 27.5H224.3M115.8 34.2H219.8M115.8 40.9H231.9M115.8 47.6H222.3M115.8 54.3H222.3M115.8 61.0H212.3M115.8 67.8H232.4M115.8 74.5H221.8M115.8 81.2H220.7M115.8 87.9H220.7M115.8 94.6H220.7M115.8 101.3H220.7M115.8 108.1H219.3M115.8 114.8H221.8M115.8 121.5H223.7M115.8 128.2H220.2M115.8 134.9H221.7M115.8 141.6H220.2M115.8 148.4H219.2M115.8 155.1H221.2M115.8 161.8H212.3M115.8 168.5H226.2M115.8 175.2H218.6M115.8 181.9H220.0M115.8 188.7H221.2M115.8 195.4H226.1M115.8 202.1H220.7M115.8 208.8H218.9M115.8 215.5H219.8M115.8 222.2H220.2M115.8 229.0H226.1M115.8 235.7H224.2M115.8 242.4H224.9M115.8 249.1H223.7M115.8 255.8H226.1M115.8 262.6H224.9M115.8 269.3H217.5M115.8 276.0H225.4M115.8 282.7H225.4M115.8 289.4H224.9M115.8 296.1H218.2M115.8 302.9H226.1M115.8 309.6H229.9M115.8 316.3H217.3M115.8 323.0H221.2M115.8 329.7H223.6M115.8 336.4H217.5M115.8 343.2H218.6M115.8 349.9H218.6M115.8 356.6H218.2M115.8 363.3H225.0M115.8 370.0H232.4M115.8 376.7H229.9M115.8 383.5H222.3M115.8 390.2H219.8M115.8 396.9H228.6M115.8 403.6H223.6M115.8 410.3H219.8M115.8 417.0H222.3M115.8 423.8H220.3M115.8 430.5H222.3M115.8 437.2H219.8M115.8 443.9H219.8M115.8 450.6H223.6M115.8 457.3H224.9M115.8 464.1H224.9M115.8 470.8H223.6M115.8 477.5H223.6M115.8 484.2H221.2M115.8 490.9H223.6M115.8 497.6H223.6M115.8 504.4H220.0M115.8 511.1H225.0M115.8 517.8H228.6M115.8 524.5H227.9M115.8 531.2H222.5M115.8 537.9H223.6M115.8 544.7H222.3M115.8 551.4H222.3M115.8 558.1H223.6M115.8 564.8H223.6M115.8 571.5H220.2M115.8 578.2H217.3M115.8 585.0H222.5M115.8 591.7H232.4M115.8 598.4H224.9M115.8 605.1H223.6M115.8 611.8H223.6M115.8 618.6H222.3M115.8 625.3H222.3M115.8 632.0H222.3M115.8 638.7H223.6M115.8 645.4H218.1M115.8 652.1H229.9M115.8 658.9H223.6M115.8 665.6H221.1M115.8 672.3H228.6M115.8 679.0H227.4M115.8 685.7H216.1M115.8 692.4H227.4M115.8 699.2H222.3M115.8 705.9H233.6M115.8 712.6H224.9M115.8 719.3H226.1M115.8 726.0H227.4M115.8 732.7H219.8M115.8 739.5H219.8" stroke="rgb(105,105,105)" stroke-width="0.6" fill="none"/>
<path d="M119.3 25.0H121.1L121.5 25.5L121.8 25.0H123.7V26.8L121.5 28.0L119.3 26.8Z" fill="rgb(214,45,80)"/>
<path d="M163.2 25.0H165.0L165.4 25.5L165.7 25.0H167.6V26.8L165.4 28.0L163.2 26.8Z" fill="rgb(177,174,211)"/>
<path d="M173.9 25.0H175.6L175.9 25.5L176.2 25.0H177.9V26.8L175.9 28.0L173.9 26.8Z" fill="rgb(211,229,164)"/>
<path d="M177.3 25.0H178.9L179.2 25.5L179.5 25.0H181.1V26.8L179.2 28.0L177.3 26.8Z" fill="rgb(82,164,165)"/>
<path d="M182.2 25.0H184.3L184.7 25.5L185.1 25.0H187.2V26.8L184.7 28.0L182.2 26.8Z" fill="rgb(243,211,63)"/>
<path d="M196.8 25.0H199.5L200.1 25.5L200.6 25.0H203.4V26.8L200.1 28.0L196.8 26.8Z" fill="rgb(151,205,120)"/>
<path d="M203.4 25.0H204.9L205.3 25.5L205.6 25.0H207.2V26.8L205.3 28.0L203.4 26.8Z" fill="rgb(227,135,176)"/>
<path d="M209.3 25.0H211.2L211.6 25.5L211.9 25.0H213.8V26.8L211.6 28.0L209.3 26.8Z" fill="rgb(243,201,164)"/>
<path d="M117.3 31.7H119.1L119.5 32.2L119.8 31.7H121.7V33.5L119.5 34.7L117.3 33.5Z" fill="rgb(214,45,80)"/>
<path d="M165.7 31.7H167.5L167.9 32.2L168.3 31.7H170.1V33.5L167.9 34.7L165.7 33.5Z" fill="rgb(177,174,211)"/>
<path d="M177.3 31.7H178.9L179.2 32.2L179.5 31.7H181.1V33.5L179.2 34.7L177.3 33.5Z" fill="rgb(82,164,165)"/>
<path d="M181.7 31.7H183.8L184.2 32.2L184.6 31.7H186.7V33.5L184.2 34.7L181.7 33.5Z" fill="rgb(243,211,63)"/>
<path d="M186.5 31.7H188.2L188.5 32.2L188.8 31.7H190.5V33.5L188.5 34.7L186.5 33.5Z" fill="rgb(241,176,70)"/>
<path d="M192.7 31.7H195.5L196.0 32.2L196.6 31.7H199.3V33.5L196.0 34.7L192.7 33.5Z" fill="rgb(151,205,120)"/>
<path d="M199.3 31.7H200.9L201.2 32.2L201.5 31.7H203.1V33.5L201.2 34.7L199.3 33.5Z" fill="rgb(227,135,176)"/>
<path d="M207.0 31.7H208.9L209.3 32.2L209.7 31.7H211.5V33.5L209.3 34.7L207.0 33.5Z" fill="rgb(243,201,164)"/>
<path d="M127.8 38.4H129.7L130.0 38.9L130.4 38.4H132.2V40.2L130.0 41.4L127.8 40.2Z" fill="rgb(214,45,80)"/>
<path d="M175.0 38.4H176.8L177.2 38.9L177.5 38.4H179.4V40.2L177.2 41.4L175.0 40.2Z" fill="rgb(177,174,211)"/>
<path d="M184.0 38.4H185.6L186.0 38.9L186.3 38.4H188.0V40.2L186.0 41.4L184.0 40.2Z" fill="rgb(211,229,164)"/>
<path d="M187.8 38.4H189.4L189.7 38.9L190.0 38.4H191.6V40.2L189.7 41.4L187.8 40.2Z" fill="rgb(82,164,165)"/>
<path d="M191.7 38.4H193.8L194.2 38.9L194.6 38.4H196.7V40.2L194.2 41.4L191.7 40.2Z" fill="rgb(243,211,63)"/>
<path d="M196.5 38.4H198.2L198.5 38.9L198.8 38.4H200.5V40.2L198.5 41.4L196.5 40.2Z" fill="rgb(241,176,70)"/>
<path d="M201.8 38.4H204.5L205.1 38.9L205.6 38.4H208.4V40.2L205.1 41.4L201.8 40.2Z" fill="rgb(151,205,120)"/>
<path d="M210.9 38.4H212.5L212.8 38.9L213.1 38.4H214.7V40.2L212.8 41.4L210.9 40.2Z" fill="rgb(227,135,176)"/>
<path d="M218.3 38.4H220.2L220.6 38.9L220.9 38.4H222.8V40.2L220.6 41.4L218.3 40.2Z" fill="rgb(243,201,164)"/>
<path d="M119.3 45.2H121.1L121.5 45.7L121.8 45.2H123.7V47.0L121.5 48.2L119.3 47.0Z" fill="rgb(214,45,80)"/>
<path d="M165.4 45.2H167.3L167.6 45.7L168.0 45.2H169.8V47.0L167.6 48.2L165.4 47.0Z" fill="rgb(177,174,211)"/>
<path d="M174.7 45.2H176.4L176.7 45.7L177.0 45.2H178.7V47.0L176.7 48.2L174.7 47.0Z" fill="rgb(211,229,164)"/>
<path d="M177.8 45.2H179.4L179.7 45.7L180.0 45.2H181.6V47.0L179.7 48.2L177.8 47.0Z" fill="rgb(82,164,165)"/>
<path d="M182.2 45.2H184.3L184.7 45.7L185.1 45.2H187.2V47.0L184.7 48.2L182.2 47.0Z" fill="rgb(243,211,63)"/>
<path d="M189.7 45.2H191.4L191.7 45.7L192.1 45.2H193.7V47.0L191.7 48.2L189.7 47.0Z" fill="rgb(241,176,70)"/>
<path d="M194.7 45.2H197.5L198.0 45.7L198.6 45.2H201.3V47.0L198.0 48.2L194.7 47.0Z" fill="rgb(151,205,120)"/>
<path d="M201.6 45.2H203.2L203.5 45.7L203.8 45.2H205.4V47.0L203.5 48.2L201.6 47.0Z" fill="rgb(227,135,176)"/>
<path d="M209.6 45.2H211.4L211.8 45.7L212.2 45.2H214.1V47.0L211.8 48.2L209.6 47.0Z" fill="rgb(243,201,164)"/>
<path d="M119.3 51.9H121.1L121.5 52.4L121.8 51.9H123.7V53.7L121.5 54.9L119.3 53.7Z" fill="rgb(214,45,80)"/>
<path d="M165.4 51.9H167.3L167.6 52.4L168.0 51.9H169.8V53.7L167.6 54.9L165.4 53.7Z" fill="rgb(177,174,211)"/>
<path d="M174.7 51.9H176.4L176.7 52.4L177.0 51.9H178.7V53.7L176.7 54.9L174.7 53.7Z" fill="rgb(211,229,164)"/>
<path d="M177.8 51.9H179.4L179.7 52.4L180.0 51.9H181.6V53.7L179.7 54.9L177.8 53.7Z" fill="rgb(82,164,165)"/>
<path d="M182.2 51.9H184.3L184.7 52.4L185.1 51.9H187.2V53.7L184.7 54.9L182.2 53.7Z" fill="rgb(243,211,63)"/>
<path d="M189.7 51.9H191.4L191.7 52.4L192.1 51.9H193.7V53.7L191.7 54.9L189.7 53.7Z" fill="rgb(241,176,70)"/>
<path d="M194.7 51.9H197.5L198.0 52.4L198.6 51.9H201.3V53.7L198.0 54.9L194.7 53.7Z" fill="rgb(151,205,120)"/>
<path d="M201.6 51.9H203.2L203.5 52.4L203.8 51.9H205.4V53.7L203.5 54.9L201.6 53.7Z" fill="rgb(227,135,176)"/>
<path d="M209.6 51.9H211.4L211.8 52.4L212.2 51.9H214.1V53.7L211.8 54.9L209.6 53.7Z" fill="rgb(243,201,164)"/>
<path d="M119.8 58.6H121.6L122.0 59.1L122.3 58.6H124.2V60.4L122.0 61.6L119.8 60.4Z" fill="rgb(214,45,80)"/>
<path d="M154.9 58.6H156.8L157.1 59.1L157.5 58.6H159.3V60.4L157.1 61.6L154.9 60.4Z" fill="rgb(177,174,211)"/>
<path d="M164.6 58.6H166.3L166.6 59.1L167.0 58.6H168.6V60.4L166.6 61.6L164.6 60.4Z" fill="rgb(211,229,164)"/>
<path d="M169.0 58.6H170.6L170.9 59.1L171.2 58.6H172.8V60.4L170.9 61.6L169.0 60.4Z" fill="rgb(82,164,165)"/>
<path d="M173.4 58.6H175.5L175.9 59.1L176.3 58.6H178.4V60.4L175.9 61.6L173.4 60.4Z" fill="rgb(243,211,63)"/>
<path d="M180.7 58.6H182.4L182.7 59.1L183.0 58.6H184.7V60.4L182.7 61.6L180.7 60.4Z" fill="rgb(241,176,70)"/>
<path d="M186.0 58.6H188.7L189.3 59.1L189.8 58.6H192.6V60.4L189.3 61.6L186.0 60.4Z" fill="rgb(151,205,120)"/>
<path d="M192.8 58.6H194.4L194.7 59.1L195.0 58.6H196.6V60.4L194.7 61.6L192.8 60.4Z" fill="rgb(227,135,176)"/>
<path d="M200.0 58.6H201.9L202.3 59.1L202.6 58.6H204.5V60.4L202.3 61.6L200.0 60.4Z" fill="rgb(243,201,164)"/>
<path d="M132.3 65.3H134.2L134.5 65.8L134.9 65.3H136.7V67.1L134.5 68.3L132.3 67.1Z" fill="rgb(214,45,80)"/>
<path d="M173.7 65.3H175.6L175.9 65.8L176.3 65.3H178.1V67.1L175.9 68.3L173.7 67.1Z" fill="rgb(177,174,211)"/>
<path d="M184.0 65.3H185.6L186.0 65.8L186.3 65.3H188.0V67.1L186.0 68.3L184.0 67.1Z" fill="rgb(211,229,164)"/>
<path d="M187.8 65.3H189.4L189.7 65.8L190.0 65.3H191.6V67.1L189.7 68.3L187.8 67.1Z" fill="rgb(82,164,165)"/>
<path d="M192.2 65.3H194.3L194.7 65.8L195.1 65.3H197.2V67.1L194.7 68.3L192.2 67.1Z" fill="rgb(243,211,63)"/>
<path d="M196.5 65.3H198.2L198.5 65.8L198.8 65.3H200.5V67.1L198.5 68.3L196.5 67.1Z" fill="rgb(241,176,70)"/>
<path d="M202.3 65.3H205.0L205.6 65.8L206.1 65.3H208.9V67.1L205.6 68.3L202.3 67.1Z" fill="rgb(151,205,120)"/>
<path d="M210.9 65.3H212.5L212.8 65.8L213.1 65.3H214.7V67.1L212.8 68.3L210.9 67.1Z" fill="rgb(227,135,176)"/>
<path d="M218.3 65.3H220.2L220.6 65.8L220.9 65.3H222.8V67.1L220.6 68.3L218.3 67.1Z" fill="rgb(243,201,164)"/>
<path d="M120.3 72.0H122.1L122.5 72.5L122.8 72.0H124.7V73.8L122.5 75.0L120.3 73.8Z" fill="rgb(214,45,80)"/>
<path d="M163.2 72.0H165.0L165.4 72.5L165.7 72.0H167.6V73.8L165.4 75.0L163.2 73.8Z" fill="rgb(177,174,211)"/>
<path d="M173.9 72.0H175.6L175.9 72.5L176.2 72.0H177.9V73.8L175.9 75.0L173.9 73.8Z" fill="rgb(211,229,164)"/>
<path d="M176.5 72.0H178.1L178.4 72.5L178.7 72.0H180.3V73.8L178.4 75.0L176.5 73.8Z" fill="rgb(82,164,165)"/>
<path d="M181.0 72.0H183.1L183.5 72.5L183.9 72.0H186.0V73.8L183.5 75.0L181.0 73.8Z" fill="rgb(243,211,63)"/>
<path d="M188.2 72.0H189.9L190.2 72.5L190.5 72.0H192.2V73.8L190.2 75.0L188.2 73.8Z" fill="rgb(241,176,70)"/>
<path d="M193.5 72.0H196.3L196.8 72.5L197.3 72.0H200.1V73.8L196.8 75.0L193.5 73.8Z" fill="rgb(151,205,120)"/>
<path d="M200.4 72.0H202.0L202.3 72.5L202.6 72.0H204.2V73.8L202.3 75.0L200.4 73.8Z" fill="rgb(227,135,176)"/>
<path d="M208.3 72.0H210.2L210.6 72.5L210.9 72.0H212.8V73.8L210.6 75.0L208.3 73.8Z" fill="rgb(243,201,164)"/>
<path d="M118.5 78.7H120.4L120.7 79.2L121.1 78.7H122.9V80.5L120.7 81.7L118.5 80.5Z" fill="rgb(214,45,80)"/>
<path d="M160.4 78.7H162.3L162.6 79.2L163.0 78.7H164.8V80.5L162.6 81.7L160.4 80.5Z" fill="rgb(177,174,211)"/>
<path d="M170.7 78.7H172.3L172.7 79.2L173.0 78.7H174.7V80.5L172.7 81.7L170.7 80.5Z" fill="rgb(211,229,164)"/>
<path d="M174.0 78.7H175.6L175.9 79.2L176.2 78.7H177.8V80.5L175.9 81.7L174.0 80.5Z" fill="rgb(82,164,165)"/>
<path d="M178.9 78.7H181.0L181.4 79.2L181.8 78.7H183.9V80.5L181.4 81.7L178.9 80.5Z" fill="rgb(243,211,63)"/>
<path d="M188.2 78.7H189.9L190.2 79.2L190.5 78.7H192.2V80.5L190.2 81.7L188.2 80.5Z" fill="rgb(241,176,70)"/>
<path d="M193.5 78.7H196.3L196.8 79.2L197.3 78.7H200.1V80.5L196.8 81.7L193.5 80.5Z" fill="rgb(151,205,120)"/>
<path d="M200.1 78.7H201.7L202.0 79.2L202.3 78.7H203.9V80.5L202.0 81.7L200.1 80.5Z" fill="rgb(227,135,176)"/>
<path d="M206.3 78.7H208.2L208.5 79.2L208.9 78.7H210.8V80.5L208.5 81.7L206.3 80.5Z" fill="rgb(243,201,164)"/>
<path d="M214.4 78.7H216.4L216.8 79.2L217.2 78.7H219.2V80.5L216.8 81.7L214.4 80.5Z" fill="rgb(131,122,189)"/>
<path d="M119.3 85.5H121.1L121.5 86.0L121.8 85.5H123.7V87.3L121.5 88.5L119.3 87.3Z" fill="rgb(214,45,80)"/>
<path d="M134.8 85.5H136.7L137.0 86.0L137.4 85.5H139.2V87.3L137.0 88.5L134.8 87.3Z" fill="rgb(214,45,80)"/>
<path d="M161.2 85.5H163.0L163.4 86.0L163.7 85.5H165.6V87.3L163.4 88.5L161.2 87.3Z" fill="rgb(177,174,211)"/>
<path d="M171.4 85.5H173.1L173.4 86.0L173.7 85.5H175.4V87.3L173.4 88.5L171.4 87.3Z" fill="rgb(211,229,164)"/>
<path d="M174.8 85.5H176.4L176.7 86.0L177.0 85.5H178.6V87.3L176.7 88.5L174.8 87.3Z" fill="rgb(82,164,165)"/>
<path d="M179.2 85.5H181.3L181.7 86.0L182.1 85.5H184.2V87.3L181.7 88.5L179.2 87.3Z" fill="rgb(243,211,63)"/>
<path d="M188.2 85.5H189.9L190.2 86.0L190.5 85.5H192.2V87.3L190.2 88.5L188.2 87.3Z" fill="rgb(241,176,70)"/>
<path d="M193.5 85.5H196.3L196.8 86.0L197.3 85.5H200.1V87.3L196.8 88.5L193.5 87.3Z" fill="rgb(151,205,120)"/>
<path d="M200.1 85.5H201.7L202.0 86.0L202.3 85.5H203.9V87.3L202.0 88.5L200.1 87.3Z" fill="rgb(227,135,176)"/>
<path d="M206.3 85.5H208.2L208.5 86.0L208.9 85.5H210.8V87.3L208.5 88.5L206.3 87.3Z" fill="rgb(243,201,164)"/>
<path d="M214.4 85.5H216.4L216.8 86.0L217.2 85.5H219.2V87.3L216.8 88.5L214.4 87.3Z" fill="rgb(131,122,189)"/>
<path d="M119.3 92.2H121.1L121.5 92.7L121.8 92.2H123.7V94.0L121.5 95.2L119.3 94.0Z" fill="rgb(214,45,80)"/>
<path d="M134.8 92.2H136.7L137.0 92.7L137.4 92.2H139.2V94.0L137.0 95.2L134.8 94.0Z" fill="rgb(214,45,80)"/>
<path d="M161.7 92.2H163.5L163.9 92.7L164.2 92.2H166.1V94.0L163.9 95.2L161.7 94.0Z" fill="rgb(177,174,211)"/>
<path d="M171.4 92.2H173.1L173.4 92.7L173.7 92.2H175.4V94.0L173.4 95.2L171.4 94.0Z" fill="rgb(211,229,164)"/>
<path d="M174.8 92.2H176.4L176.7 92.7L177.0 92.2H178.6V94.0L176.7 95.2L174.8 94.0Z" fill="rgb(82,164,165)"/>
<path d="M179.2 92.2H181.3L181.7 92.7L182.1 92.2H184.2V94.0L181.7 95.2L179.2 94.0Z" fill="rgb(243,211,63)"/>
<path d="M188.2 92.2H189.9L190.2 92.7L190.5 92.2H192.2V94.0L190.2 95.2L188.2 94.0Z" fill="rgb(241,176,70)"/>
<path d="M193.5 92.2H196.3L196.8 92.7L197.3 92.2H200.1V94.0L196.8 95.2L193.5 94.0Z" fill="rgb(151,205,120)"/>
<path d="M200.1 92.2H201.7L202.0 92.7L202.3 92.2H203.9V94.0L202.0 95.2L200.1 94.0Z" fill="rgb(227,135,176)"/>
<path d="M206.3 92.2H208.2L208.5 92.7L208.9 92.2H210.8V94.0L208.5 95.2L206.3 94.0Z" fill="rgb(243,201,164)"/>
<path d="M214.4 92.2H216.4L216.8 92.7L217.2 92.2H219.2V94.0L216.8 95.2L214.4 94.0Z" fill="rgb(131,122,189)"/>
<path d="M119.3 98.9H121.1L121.5 99.4L121.8 98.9H123.7V100.7L121.5 101.9L119.3 100.7Z" fill="rgb(214,45,80)"/>
<path d="M134.8 98.9H136.7L137.0 99.4L137.4 98.9H139.2V100.7L137.0 101.9L134.8 100.7Z" fill="rgb(214,45,80)"/>
<path d="M161.7 98.9H163.5L163.9 99.4L164.2 98.9H166.1V100.7L163.9 101.9L161.7 100.7Z" fill="rgb(177,174,211)"/>
<path d="M171.4 98.9H173.1L173.4 99.4L173.7 98.9H175.4V100.7L173.4 101.9L171.4 100.7Z" fill="rgb(211,229,164)"/>
<path d="M174.8 98.9H176.4L176.7 99.4L177.0 98.9H178.6V100.7L176.7 101.9L174.8 100.7Z" fill="rgb(82,164,165)"/>
<path d="M179.2 98.9H181.3L181.7 99.4L182.1 98.9H184.2V100.7L181.7 101.9L179.2 100.7Z" fill="rgb(243,211,63)"/>
<path d="M188.2 98.9H189.9L190.2 99.4L190.5 98.9H192.2V100.7L190.2 101.9L188.2 100.7Z" fill="rgb(241,176,70)"/>
<path d="M193.5 98.9H196.3L196.8 99.4L197.3 98.9H200.1V100.7L196.8 101.9L193.5 100.7Z" fill="rgb(151,205,120)"/>
<path d="M200.1 98.9H201.7L202.0 99.4L202.3 98.9H203.9V100.7L202.0 101.9L200.1 100.7Z" fill="rgb(227,135,176)"/>
<path d="M206.3 98.9H208.2L208.5 99.4L208.9 98.9H210.8V100.7L208.5 101.9L206.3 100.7Z" fill="rgb(243,201,164)"/>
<path d="M214.4 98.9H216.4L216.8 99.4L217.2 98.9H219.2V100.7L216.8 101.9L214.4 100.7Z" fill="rgb(131,122,189)"/>
<path d="M118.5 105.6H120.4L120.7 106.1L121.1 105.6H122.9V107.4L120.7 108.6L118.5 107.4Z" fill="rgb(214,45,80)"/>
<path d="M160.9 105.6H162.8L163.1 106.1L163.5 105.6H165.3V107.4L163.1 108.6L160.9 107.4Z" fill="rgb(177,174,211)"/>
<path d="M170.7 105.6H172.3L172.7 106.1L173.0 105.6H174.7V107.4L172.7 108.6L170.7 107.4Z" fill="rgb(211,229,164)"/>
<path d="M174.8 105.6H176.4L176.7 106.1L177.0 105.6H178.6V107.4L176.7 108.6L174.8 107.4Z" fill="rgb(82,164,165)"/>
<path d="M179.2 105.6H181.3L181.7 106.1L182.1 105.6H184.2V107.4L181.7 108.6L179.2 107.4Z" fill="rgb(243,211,63)"/>
<path d="M188.2 105.6H189.9L190.2 106.1L190.5 105.6H192.2V107.4L190.2 108.6L188.2 107.4Z" fill="rgb(241,176,70)"/>
<path d="M193.5 105.6H196.3L196.8 106.1L197.3 105.6H200.1V107.4L196.8 108.6L193.5 107.4Z" fill="rgb(151,205,120)"/>
<path d="M200.1 105.6H201.7L202.0 106.1L202.3 105.6H203.9V107.4L202.0 108.6L200.1 107.4Z" fill="rgb(227,135,176)"/>
<path d="M206.3 105.6H208.2L208.5 106.1L208.9 105.6H210.8V107.4L208.5 108.6L206.3 107.4Z" fill="rgb(243,201,164)"/>
<path d="M212.9 105.6H214.9L215.3 106.1L215.7 105.6H217.7V107.4L215.3 108.6L212.9 107.4Z" fill="rgb(131,122,189)"/>
<path d="M119.8 112.3H121.6L122.0 112.8L122.3 112.3H124.2V114.1L122.0 115.3L119.8 114.1Z" fill="rgb(214,45,80)"/>
<path d="M163.2 112.3H165.0L165.4 112.8L165.7 112.3H167.6V114.1L165.4 115.3L163.2 114.1Z" fill="rgb(177,174,211)"/>
<path d="M172.7 112.3H174.4L174.7 112.8L175.0 112.3H176.7V114.1L174.7 115.3L172.7 114.1Z" fill="rgb(211,229,164)"/>
<path d="M176.5 112.3H178.1L178.4 112.8L178.7 112.3H180.3V114.1L178.4 115.3L176.5 114.1Z" fill="rgb(82,164,165)"/>
<path d="M181.0 112.3H183.1L183.5 112.8L183.9 112.3H186.0V114.1L183.5 115.3L181.0 114.1Z" fill="rgb(243,211,63)"/>
<path d="M189.0 112.3H190.7L191.0 112.8L191.3 112.3H193.0V114.1L191.0 115.3L189.0 114.1Z" fill="rgb(241,176,70)"/>
<path d="M194.7 112.3H197.5L198.0 112.8L198.6 112.3H201.3V114.1L198.0 115.3L194.7 114.1Z" fill="rgb(151,205,120)"/>
<path d="M201.3 112.3H202.9L203.2 112.8L203.5 112.3H205.1V114.1L203.2 115.3L201.3 114.1Z" fill="rgb(227,135,176)"/>
<path d="M208.8 112.3H210.7L211.1 112.8L211.4 112.3H213.3V114.1L211.1 115.3L208.8 114.1Z" fill="rgb(243,201,164)"/>
<path d="M119.8 119.0H121.6L122.0 119.5L122.3 119.0H124.2V120.8L122.0 122.0L119.8 120.8Z" fill="rgb(214,45,80)"/>
<path d="M135.6 119.0H137.4L137.8 119.5L138.1 119.0H140.0V120.8L137.8 122.0L135.6 120.8Z" fill="rgb(177,174,211)"/>
<path d="M165.4 119.0H167.3L167.6 119.5L168.0 119.0H169.8V120.8L167.6 122.0L165.4 120.8Z" fill="rgb(177,174,211)"/>
<path d="M174.7 119.0H176.4L176.7 119.5L177.0 119.0H178.7V120.8L176.7 122.0L174.7 120.8Z" fill="rgb(211,229,164)"/>
<path d="M178.3 119.0H179.9L180.2 119.5L180.5 119.0H182.1V120.8L180.2 122.0L178.3 120.8Z" fill="rgb(82,164,165)"/>
<path d="M182.7 119.0H184.8L185.2 119.5L185.6 119.0H187.7V120.8L185.2 122.0L182.7 120.8Z" fill="rgb(243,211,63)"/>
<path d="M190.7 119.0H192.4L192.7 119.5L193.1 119.0H194.7V120.8L192.7 122.0L190.7 120.8Z" fill="rgb(241,176,70)"/>
<path d="M197.3 119.0H200.0L200.6 119.5L201.1 119.0H203.9V120.8L200.6 122.0L197.3 120.8Z" fill="rgb(151,205,120)"/>
<path d="M203.9 119.0H205.4L205.8 119.5L206.1 119.0H207.7V120.8L205.8 122.0L203.9 120.8Z" fill="rgb(227,135,176)"/>
<path d="M210.8 119.0H212.7L213.1 119.5L213.4 119.0H215.3V120.8L213.1 122.0L210.8 120.8Z" fill="rgb(243,201,164)"/>
<path d="M217.4 119.0H219.4L219.8 119.5L220.2 119.0H222.2V120.8L219.8 122.0L217.4 120.8Z" fill="rgb(131,122,189)"/>
<path d="M118.5 125.8H120.4L120.7 126.3L121.1 125.8H122.9V127.6L120.7 128.8L118.5 127.6Z" fill="rgb(214,45,80)"/>
<path d="M163.7 125.8H165.5L165.9 126.3L166.2 125.8H168.1V127.6L165.9 128.8L163.7 127.6Z" fill="rgb(177,174,211)"/>
<path d="M173.9 125.8H175.6L175.9 126.3L176.2 125.8H177.9V127.6L175.9 128.8L173.9 127.6Z" fill="rgb(211,229,164)"/>
<path d="M177.8 125.8H179.4L179.7 126.3L180.0 125.8H181.6V127.6L179.7 128.8L177.8 127.6Z" fill="rgb(82,164,165)"/>
<path d="M182.2 125.8H184.3L184.7 126.3L185.1 125.8H187.2V127.6L184.7 128.8L182.2 127.6Z" fill="rgb(243,211,63)"/>
<path d="M190.2 125.8H191.9L192.2 126.3L192.6 125.8H194.2V127.6L192.2 128.8L190.2 127.6Z" fill="rgb(241,176,70)"/>
<path d="M194.7 125.8H197.5L198.0 126.3L198.6 125.8H201.3V127.6L198.0 128.8L194.7 127.6Z" fill="rgb(151,205,120)"/>
<path d="M201.6 125.8H203.2L203.5 126.3L203.8 125.8H205.4V127.6L203.5 128.8L201.6 127.6Z" fill="rgb(227,135,176)"/>
<path d="M208.8 125.8H210.7L211.1 126.3L211.4 125.8H213.3V127.6L211.1 128.8L208.8 127.6Z" fill="rgb(243,201,164)"/>
<path d="M213.9 125.8H215.9L216.3 126.3L216.7 125.8H218.7V127.6L216.3 128.8L213.9 127.6Z" fill="rgb(131,122,189)"/>
<path d="M119.8 132.5H121.6L122.0 133.0L122.3 132.5H124.2V134.3L122.0 135.5L119.8 134.3Z" fill="rgb(214,45,80)"/>
<path d="M163.7 132.5H165.5L165.9 133.0L166.2 132.5H168.1V134.3L165.9 135.5L163.7 134.3Z" fill="rgb(177,174,211)"/>
<path d="M173.9 132.5H175.6L175.9 133.0L176.2 132.5H177.9V134.3L175.9 135.5L173.9 134.3Z" fill="rgb(211,229,164)"/>
<path d="M178.3 132.5H179.9L180.2 133.0L180.5 132.5H182.1V134.3L180.2 135.5L178.3 134.3Z" fill="rgb(82,164,165)"/>
<path d="M182.7 132.5H184.8L185.2 133.0L185.6 132.5H187.7V134.3L185.2 135.5L182.7 134.3Z" fill="rgb(243,211,63)"/>
<path d="M190.2 132.5H191.9L192.2 133.0L192.6 132.5H194.2V134.3L192.2 135.5L190.2 134.3Z" fill="rgb(241,176,70)"/>
<path d="M196.0 132.5H198.8L199.3 133.0L199.8 132.5H202.6V134.3L199.3 135.5L196.0 134.3Z" fill="rgb(151,205,120)"/>
<path d="M202.6 132.5H204.2L204.5 133.0L204.8 132.5H206.4V134.3L204.5 135.5L202.6 134.3Z" fill="rgb(227,135,176)"/>
<path d="M209.6 132.5H211.4L211.8 133.0L212.2 132.5H214.1V134.3L211.8 135.5L209.6 134.3Z" fill="rgb(243,201,164)"/>
<path d="M215.4 132.5H217.4L217.8 133.0L218.2 132.5H220.2V134.3L217.8 135.5L215.4 134.3Z" fill="rgb(131,122,189)"/>
<path d="M119.8 139.2H121.6L122.0 139.7L122.3 139.2H124.2V141.0L122.0 142.2L119.8 141.0Z" fill="rgb(214,45,80)"/>
<path d="M163.7 139.2H165.5L165.9 139.7L166.2 139.2H168.1V141.0L165.9 142.2L163.7 141.0Z" fill="rgb(177,174,211)"/>
<path d="M173.9 139.2H175.6L175.9 139.7L176.2 139.2H177.9V141.0L175.9 142.2L173.9 141.0Z" fill="rgb(211,229,164)"/>
<path d="M177.8 139.2H179.4L179.7 139.7L180.0 139.2H181.6V141.0L179.7 142.2L177.8 141.0Z" fill="rgb(82,164,165)"/>
<path d="M182.2 139.2H184.3L184.7 139.7L185.1 139.2H187.2V141.0L184.7 142.2L182.2 141.0Z" fill="rgb(243,211,63)"/>
<path d="M189.7 139.2H191.4L191.7 139.7L192.1 139.2H193.7V141.0L191.7 142.2L189.7 141.0Z" fill="rgb(241,176,70)"/>
<path d="M194.7 139.2H197.5L198.0 139.7L198.6 139.2H201.3V141.0L198.0 142.2L194.7 141.0Z" fill="rgb(151,205,120)"/>
<path d="M201.3 139.2H202.9L203.2 139.7L203.5 139.2H205.1V141.0L203.2 142.2L201.3 141.0Z" fill="rgb(227,135,176)"/>
<path d="M208.8 139.2H210.7L211.1 139.7L211.4 139.2H213.3V141.0L211.1 142.2L208.8 141.0Z" fill="rgb(243,201,164)"/>
<path d="M213.9 139.2H215.9L216.3 139.7L216.7 139.2H218.7V141.0L216.3 142.2L213.9 141.0Z" fill="rgb(131,122,189)"/>
<path d="M118.5 145.9H120.4L120.7 146.4L121.1 145.9H122.9V147.7L120.7 148.9L118.5 147.7Z" fill="rgb(214,45,80)"/>
<path d="M147.4 145.9H149.2L149.6 146.4L149.9 145.9H151.8V147.7L149.6 148.9L147.4 147.7Z" fill="rgb(177,174,211)"/>
<path d="M162.4 145.9H164.3L164.6 146.4L165.0 145.9H166.8V147.7L164.6 148.9L162.4 147.7Z" fill="rgb(177,174,211)"/>
<path d="M172.7 145.9H174.4L174.7 146.4L175.0 145.9H176.7V147.7L174.7 148.9L172.7 147.7Z" fill="rgb(211,229,164)"/>
<path d="M176.5 145.9H178.1L178.4 146.4L178.7 145.9H180.3V147.7L178.4 148.9L176.5 147.7Z" fill="rgb(82,164,165)"/>
<path d="M181.0 145.9H183.1L183.5 146.4L183.9 145.9H186.0V147.7L183.5 148.9L181.0 147.7Z" fill="rgb(243,211,63)"/>
<path d="M187.7 145.9H189.4L189.7 146.4L190.0 145.9H191.7V147.7L189.7 148.9L187.7 147.7Z" fill="rgb(241,176,70)"/>
<path d="M193.5 145.9H196.3L196.8 146.4L197.3 145.9H200.1V147.7L196.8 148.9L193.5 147.7Z" fill="rgb(151,205,120)"/>
<path d="M200.1 145.9H201.7L202.0 146.4L202.3 145.9H203.9V147.7L202.0 148.9L200.1 147.7Z" fill="rgb(227,135,176)"/>
<path d="M206.3 145.9H208.2L208.5 146.4L208.9 145.9H210.8V147.7L208.5 148.9L206.3 147.7Z" fill="rgb(243,201,164)"/>
<path d="M212.9 145.9H214.9L215.3 146.4L215.7 145.9H217.7V147.7L215.3 148.9L212.9 147.7Z" fill="rgb(131,122,189)"/>
<path d="M119.8 152.6H121.6L122.0 153.1L122.3 152.6H124.2V154.4L122.0 155.6L119.8 154.4Z" fill="rgb(214,45,80)"/>
<path d="M138.8 152.6H140.5L140.8 153.1L141.1 152.6H142.8V154.4L140.8 155.6L138.8 154.4Z" fill="rgb(211,229,164)"/>
<path d="M166.2 152.6H168.1L168.4 153.1L168.8 152.6H170.6V154.4L168.4 155.6L166.2 154.4Z" fill="rgb(177,174,211)"/>
<path d="M175.7 152.6H177.4L177.7 153.1L178.0 152.6H179.7V154.4L177.7 155.6L175.7 154.4Z" fill="rgb(211,229,164)"/>
<path d="M179.0 152.6H180.6L180.9 153.1L181.3 152.6H182.8V154.4L180.9 155.6L179.0 154.4Z" fill="rgb(82,164,165)"/>
<path d="M183.5 152.6H185.6L186.0 153.1L186.4 152.6H188.5V154.4L186.0 155.6L183.5 154.4Z" fill="rgb(243,211,63)"/>
<path d="M191.5 152.6H193.2L193.5 153.1L193.8 152.6H195.5V154.4L193.5 155.6L191.5 154.4Z" fill="rgb(241,176,70)"/>
<path d="M197.3 152.6H200.0L200.6 153.1L201.1 152.6H203.9V154.4L200.6 155.6L197.3 154.4Z" fill="rgb(151,205,120)"/>
<path d="M203.9 152.6H205.4L205.8 153.1L206.1 152.6H207.7V154.4L205.8 155.6L203.9 154.4Z" fill="rgb(227,135,176)"/>
<path d="M209.7 152.6H211.6L212.0 153.1L212.3 152.6H214.2V154.4L212.0 155.6L209.7 154.4Z" fill="rgb(243,201,164)"/>
<path d="M214.9 152.6H216.9L217.3 153.1L217.7 152.6H219.7V154.4L217.3 155.6L214.9 154.4Z" fill="rgb(131,122,189)"/>
<path d="M119.8 159.3H121.6L122.0 159.8L122.3 159.3H124.2V161.1L122.0 162.3L119.8 161.1Z" fill="rgb(214,45,80)"/>
<path d="M132.3 159.3H134.2L134.5 159.8L134.9 159.3H136.8V161.1L134.5 162.3L132.3 161.1Z" fill="rgb(243,201,164)"/>
<path d="M137.5 159.3H140.3L140.8 159.8L141.3 159.3H144.1V161.1L140.8 162.3L137.5 161.1Z" fill="rgb(151,205,120)"/>
<path d="M161.2 159.3H163.0L163.4 159.8L163.7 159.3H165.6V161.1L163.4 162.3L161.2 161.1Z" fill="rgb(177,174,211)"/>
<path d="M172.2 159.3H173.9L174.2 159.8L174.5 159.3H176.2V161.1L174.2 162.3L172.2 161.1Z" fill="rgb(211,229,164)"/>
<path d="M175.8 159.3H177.4L177.7 159.8L178.0 159.3H179.6V161.1L177.7 162.3L175.8 161.1Z" fill="rgb(82,164,165)"/>
<path d="M180.2 159.3H182.3L182.7 159.8L183.1 159.3H185.2V161.1L182.7 162.3L180.2 161.1Z" fill="rgb(243,211,63)"/>
<path d="M187.7 159.3H189.4L189.7 159.8L190.0 159.3H191.7V161.1L189.7 162.3L187.7 161.1Z" fill="rgb(241,176,70)"/>
<path d="M192.2 159.3H195.0L195.5 159.8L196.1 159.3H198.8V161.1L195.5 162.3L192.2 161.1Z" fill="rgb(151,205,120)"/>
<path d="M198.8 159.3H200.4L200.7 159.8L201.0 159.3H202.6V161.1L200.7 162.3L198.8 161.1Z" fill="rgb(227,135,176)"/>
<path d="M205.5 159.3H207.4L207.8 159.8L208.2 159.3H210.0V161.1L207.8 162.3L205.5 161.1Z" fill="rgb(243,201,164)"/>
<path d="M126.1 166.1H127.9L128.3 166.6L128.6 166.1H130.5V167.9L128.3 169.1L126.1 167.9Z" fill="rgb(214,45,80)"/>
<path d="M138.6 166.1H140.4L140.8 166.6L141.2 166.1H143.1V167.9L140.8 169.1L138.6 167.9Z" fill="rgb(243,201,164)"/>
<path d="M169.5 166.1H171.3L171.7 166.6L172.0 166.1H173.9V167.9L171.7 169.1L169.5 167.9Z" fill="rgb(177,174,211)"/>
<path d="M178.9 166.1H180.6L180.9 166.6L181.3 166.1H182.9V167.9L180.9 169.1L178.9 167.9Z" fill="rgb(211,229,164)"/>
<path d="M182.3 166.1H183.9L184.2 166.6L184.5 166.1H186.1V167.9L184.2 169.1L182.3 167.9Z" fill="rgb(82,164,165)"/>
<path d="M187.2 166.1H189.3L189.7 166.6L190.1 166.1H192.2V167.9L189.7 169.1L187.2 167.9Z" fill="rgb(243,211,63)"/>
<path d="M195.3 166.1H196.9L197.3 166.6L197.6 166.1H199.3V167.9L197.3 169.1L195.3 167.9Z" fill="rgb(241,176,70)"/>
<path d="M201.0 166.1H203.8L204.3 166.6L204.8 166.1H207.6V167.9L204.3 169.1L201.0 167.9Z" fill="rgb(151,205,120)"/>
<path d="M207.6 166.1H209.2L209.5 166.6L209.8 166.1H211.4V167.9L209.5 169.1L207.6 167.9Z" fill="rgb(227,135,176)"/>
<path d="M213.5 166.1H215.4L215.7 166.6L216.1 166.1H218.0V167.9L215.7 169.1L213.5 167.9Z" fill="rgb(243,201,164)"/>
<path d="M219.9 166.1H222.0L222.3 166.6L222.7 166.1H224.7V167.9L222.3 169.1L219.9 167.9Z" fill="rgb(131,122,189)"/>
<path d="M126.8 172.8H128.7L129.0 173.3L129.4 172.8H131.2V174.6L129.0 175.8L126.8 174.6Z" fill="rgb(214,45,80)"/>
<path d="M168.7 172.8H170.6L170.9 173.3L171.3 172.8H173.1V174.6L170.9 175.8L168.7 174.6Z" fill="rgb(177,174,211)"/>
<path d="M177.7 172.8H179.4L179.7 173.3L180.0 172.8H181.7V174.6L179.7 175.8L177.7 174.6Z" fill="rgb(211,229,164)"/>
<path d="M181.6 172.8H183.2L183.5 173.3L183.8 172.8H185.4V174.6L183.5 175.8L181.6 174.6Z" fill="rgb(82,164,165)"/>
<path d="M186.0 172.8H188.1L188.5 173.3L188.9 172.8H191.0V174.6L188.5 175.8L186.0 174.6Z" fill="rgb(243,211,63)"/>
<path d="M194.0 172.8H195.7L196.0 173.3L196.3 172.8H198.0V174.6L196.0 175.8L194.0 174.6Z" fill="rgb(241,176,70)"/>
<path d="M199.8 172.8H202.5L203.1 173.3L203.6 172.8H206.4V174.6L203.1 175.8L199.8 174.6Z" fill="rgb(151,205,120)"/>
<path d="M206.4 172.8H208.0L208.3 173.3L208.6 172.8H210.2V174.6L208.3 175.8L206.4 174.6Z" fill="rgb(227,135,176)"/>
<path d="M212.6 172.8H214.5L214.8 173.3L215.2 172.8H217.1V174.6L214.8 175.8L212.6 174.6Z" fill="rgb(243,201,164)"/>
<path d="M119.8 179.5H121.6L122.0 180.0L122.3 179.5H124.2V181.3L122.0 182.5L119.8 181.3Z" fill="rgb(214,45,80)"/>
<path d="M132.1 179.5H133.7L134.0 180.0L134.3 179.5H135.9V181.3L134.0 182.5L132.1 181.3Z" fill="rgb(227,135,176)"/>
<path d="M163.2 179.5H165.0L165.4 180.0L165.7 179.5H167.6V181.3L165.4 182.5L163.2 181.3Z" fill="rgb(177,174,211)"/>
<path d="M173.9 179.5H175.6L175.9 180.0L176.2 179.5H177.9V181.3L175.9 182.5L173.9 181.3Z" fill="rgb(211,229,164)"/>
<path d="M177.3 179.5H178.9L179.2 180.0L179.5 179.5H181.1V181.3L179.2 182.5L177.3 181.3Z" fill="rgb(82,164,165)"/>
<path d="M182.2 179.5H184.3L184.7 180.0L185.1 179.5H187.2V181.3L184.7 182.5L182.2 181.3Z" fill="rgb(243,211,63)"/>
<path d="M189.7 179.5H191.4L191.7 180.0L192.1 179.5H193.7V181.3L191.7 182.5L189.7 181.3Z" fill="rgb(241,176,70)"/>
<path d="M194.7 179.5H197.5L198.0 180.0L198.6 179.5H201.3V181.3L198.0 182.5L194.7 181.3Z" fill="rgb(151,205,120)"/>
<path d="M201.3 179.5H202.9L203.2 180.0L203.5 179.5H205.1V181.3L203.2 182.5L201.3 181.3Z" fill="rgb(227,135,176)"/>
<path d="M207.5 179.5H209.4L209.8 180.0L210.2 179.5H212.0V181.3L209.8 182.5L207.5 181.3Z" fill="rgb(243,201,164)"/>
<path d="M213.7 179.5H215.7L216.1 180.0L216.5 179.5H218.5V181.3L216.1 182.5L213.7 181.3Z" fill="rgb(131,122,189)"/>
<path d="M119.8 186.2H121.6L122.0 186.7L122.3 186.2H124.2V188.0L122.0 189.2L119.8 188.0Z" fill="rgb(214,45,80)"/>
<path d="M131.3 186.2H133.0L133.3 186.7L133.6 186.2H135.3V188.0L133.3 189.2L131.3 188.0Z" fill="rgb(241,176,70)"/>
<path d="M164.4 186.2H166.3L166.6 186.7L167.0 186.2H168.8V188.0L166.6 189.2L164.4 188.0Z" fill="rgb(177,174,211)"/>
<path d="M175.2 186.2H176.9L177.2 186.7L177.5 186.2H179.2V188.0L177.2 189.2L175.2 188.0Z" fill="rgb(211,229,164)"/>
<path d="M178.3 186.2H179.9L180.2 186.7L180.5 186.2H182.1V188.0L180.2 189.2L178.3 188.0Z" fill="rgb(82,164,165)"/>
<path d="M183.5 186.2H185.6L186.0 186.7L186.4 186.2H188.5V188.0L186.0 189.2L183.5 188.0Z" fill="rgb(243,211,63)"/>
<path d="M196.0 186.2H198.8L199.3 186.7L199.8 186.2H202.6V188.0L199.3 189.2L196.0 188.0Z" fill="rgb(151,205,120)"/>
<path d="M202.6 186.2H204.2L204.5 186.7L204.8 186.2H206.4V188.0L204.5 189.2L202.6 188.0Z" fill="rgb(227,135,176)"/>
<path d="M208.8 186.2H210.7L211.1 186.7L211.4 186.2H213.3V188.0L211.1 189.2L208.8 188.0Z" fill="rgb(243,201,164)"/>
<path d="M214.9 186.2H216.9L217.3 186.7L217.7 186.2H219.7V188.0L217.3 189.2L214.9 188.0Z" fill="rgb(131,122,189)"/>
<path d="M121.8 192.9H123.6L124.0 193.4L124.3 192.9H126.2V194.7L124.0 195.9L121.8 194.7Z" fill="rgb(214,45,80)"/>
<path d="M167.7 192.9H169.6L169.9 193.4L170.3 192.9H172.1V194.7L169.9 195.9L167.7 194.7Z" fill="rgb(177,174,211)"/>
<path d="M176.4 192.9H178.1L178.4 193.4L178.8 192.9H180.4V194.7L178.4 195.9L176.4 194.7Z" fill="rgb(211,229,164)"/>
<path d="M180.3 192.9H181.9L182.2 193.4L182.5 192.9H184.1V194.7L182.2 195.9L180.3 194.7Z" fill="rgb(82,164,165)"/>
<path d="M184.7 192.9H186.8L187.2 193.4L187.6 192.9H189.7V194.7L187.2 195.9L184.7 194.7Z" fill="rgb(243,211,63)"/>
<path d="M194.0 192.9H195.7L196.0 193.4L196.3 192.9H198.0V194.7L196.0 195.9L194.0 194.7Z" fill="rgb(241,176,70)"/>
<path d="M198.5 192.9H201.3L201.8 193.4L202.3 192.9H205.1V194.7L201.8 195.9L198.5 194.7Z" fill="rgb(151,205,120)"/>
<path d="M205.1 192.9H206.7L207.0 193.4L207.3 192.9H208.9V194.7L207.0 195.9L205.1 194.7Z" fill="rgb(227,135,176)"/>
<path d="M211.3 192.9H213.2L213.6 193.4L213.9 192.9H215.8V194.7L213.6 195.9L211.3 194.7Z" fill="rgb(243,201,164)"/>
<path d="M218.7 192.9H220.7L221.1 193.4L221.5 192.9H223.5V194.7L221.1 195.9L218.7 194.7Z" fill="rgb(131,122,189)"/>
<path d="M121.0 199.6H122.9L123.2 200.1L123.6 199.6H125.4V201.4L123.2 202.6L121.0 201.4Z" fill="rgb(214,45,80)"/>
<path d="M163.7 199.6H165.5L165.9 200.1L166.2 199.6H168.1V201.4L165.9 202.6L163.7 201.4Z" fill="rgb(177,174,211)"/>
<path d="M173.9 199.6H175.6L175.9 200.1L176.2 199.6H177.9V201.4L175.9 202.6L173.9 201.4Z" fill="rgb(211,229,164)"/>
<path d="M177.3 199.6H178.9L179.2 200.1L179.5 199.6H181.1V201.4L179.2 202.6L177.3 201.4Z" fill="rgb(82,164,165)"/>
<path d="M181.7 199.6H183.8L184.2 200.1L184.6 199.6H186.7V201.4L184.2 202.6L181.7 201.4Z" fill="rgb(243,211,63)"/>
<path d="M189.0 199.6H190.7L191.0 200.1L191.3 199.6H193.0V201.4L191.0 202.6L189.0 201.4Z" fill="rgb(241,176,70)"/>
<path d="M194.7 199.6H197.5L198.0 200.1L198.6 199.6H201.3V201.4L198.0 202.6L194.7 201.4Z" fill="rgb(151,205,120)"/>
<path d="M201.3 199.6H202.9L203.2 200.1L203.5 199.6H205.1V201.4L203.2 202.6L201.3 201.4Z" fill="rgb(227,135,176)"/>
<path d="M208.8 199.6H210.7L211.1 200.1L211.4 199.6H213.3V201.4L211.1 202.6L208.8 201.4Z" fill="rgb(243,201,164)"/>
<path d="M214.4 199.6H216.4L216.8 200.1L217.2 199.6H219.2V201.4L216.8 202.6L214.4 201.4Z" fill="rgb(131,122,189)"/>
<path d="M121.0 206.4H122.9L123.2 206.9L123.6 206.4H125.4V208.2L123.2 209.4L121.0 208.2Z" fill="rgb(214,45,80)"/>
<path d="M163.2 206.4H165.0L165.4 206.9L165.7 206.4H167.6V208.2L165.4 209.4L163.2 208.2Z" fill="rgb(177,174,211)"/>
<path d="M173.4 206.4H175.1L175.4 206.9L175.7 206.4H177.4V208.2L175.4 209.4L173.4 208.2Z" fill="rgb(211,229,164)"/>
<path d="M176.8 206.4H178.4L178.7 206.9L179.0 206.4H180.6V208.2L178.7 209.4L176.8 208.2Z" fill="rgb(82,164,165)"/>
<path d="M181.2 206.4H183.3L183.7 206.9L184.1 206.4H186.2V208.2L183.7 209.4L181.2 208.2Z" fill="rgb(243,211,63)"/>
<path d="M188.5 206.4H190.2L190.5 206.9L190.8 206.4H192.5V208.2L190.5 209.4L188.5 208.2Z" fill="rgb(241,176,70)"/>
<path d="M194.2 206.4H197.0L197.5 206.9L198.1 206.4H200.8V208.2L197.5 209.4L194.2 208.2Z" fill="rgb(151,205,120)"/>
<path d="M200.8 206.4H202.4L202.7 206.9L203.0 206.4H204.6V208.2L202.7 209.4L200.8 208.2Z" fill="rgb(227,135,176)"/>
<path d="M207.5 206.4H209.4L209.8 206.9L210.2 206.4H212.0V208.2L209.8 209.4L207.5 208.2Z" fill="rgb(243,201,164)"/>
<path d="M212.6 206.4H214.7L215.0 206.9L215.4 206.4H217.4V208.2L215.0 209.4L212.6 208.2Z" fill="rgb(131,122,189)"/>
<path d="M120.3 213.1H122.1L122.5 213.6L122.8 213.1H124.7V214.9L122.5 216.1L120.3 214.9Z" fill="rgb(214,45,80)"/>
<path d="M162.4 213.1H164.3L164.6 213.6L165.0 213.1H166.8V214.9L164.6 216.1L162.4 214.9Z" fill="rgb(177,174,211)"/>
<path d="M172.7 213.1H174.4L174.7 213.6L175.0 213.1H176.7V214.9L174.7 216.1L172.7 214.9Z" fill="rgb(211,229,164)"/>
<path d="M176.0 213.1H177.6L177.9 213.6L178.2 213.1H179.8V214.9L177.9 216.1L176.0 214.9Z" fill="rgb(82,164,165)"/>
<path d="M180.5 213.1H182.6L183.0 213.6L183.4 213.1H185.5V214.9L183.0 216.1L180.5 214.9Z" fill="rgb(243,211,63)"/>
<path d="M187.7 213.1H189.4L189.7 213.6L190.0 213.1H191.7V214.9L189.7 216.1L187.7 214.9Z" fill="rgb(241,176,70)"/>
<path d="M193.5 213.1H196.3L196.8 213.6L197.3 213.1H200.1V214.9L196.8 216.1L193.5 214.9Z" fill="rgb(151,205,120)"/>
<path d="M200.1 213.1H201.7L202.0 213.6L202.3 213.1H203.9V214.9L202.0 216.1L200.1 214.9Z" fill="rgb(227,135,176)"/>
<path d="M207.0 213.1H208.9L209.3 213.6L209.7 213.1H211.5V214.9L209.3 216.1L207.0 214.9Z" fill="rgb(243,201,164)"/>
<path d="M212.4 213.1H214.4L214.8 213.6L215.2 213.1H217.2V214.9L214.8 216.1L212.4 214.9Z" fill="rgb(131,122,189)"/>
<path d="M119.3 219.8H121.1L121.5 220.3L121.8 219.8H123.7V221.6L121.5 222.8L119.3 221.6Z" fill="rgb(214,45,80)"/>
<path d="M165.4 219.8H167.3L167.6 220.3L168.0 219.8H169.8V221.6L167.6 222.8L165.4 221.6Z" fill="rgb(177,174,211)"/>
<path d="M174.7 219.8H176.4L176.7 220.3L177.0 219.8H178.7V221.6L176.7 222.8L174.7 221.6Z" fill="rgb(211,229,164)"/>
<path d="M177.8 219.8H179.4L179.7 220.3L180.0 219.8H181.6V221.6L179.7 222.8L177.8 221.6Z" fill="rgb(82,164,165)"/>
<path d="M182.7 219.8H184.8L185.2 220.3L185.6 219.8H187.7V221.6L185.2 222.8L182.7 221.6Z" fill="rgb(243,211,63)"/>
<path d="M190.2 219.8H191.9L192.2 220.3L192.6 219.8H194.2V221.6L192.2 222.8L190.2 221.6Z" fill="rgb(241,176,70)"/>
<path d="M195.2 219.8H198.0L198.5 220.3L199.1 219.8H201.8V221.6L198.5 222.8L195.2 221.6Z" fill="rgb(151,205,120)"/>
<path d="M201.8 219.8H203.4L203.7 220.3L204.1 219.8H205.6V221.6L203.7 222.8L201.8 221.6Z" fill="rgb(227,135,176)"/>
<path d="M208.8 219.8H210.7L211.1 220.3L211.4 219.8H213.3V221.6L211.1 222.8L208.8 221.6Z" fill="rgb(243,201,164)"/>
<path d="M213.9 219.8H215.9L216.3 220.3L216.7 219.8H218.7V221.6L216.3 222.8L213.9 221.6Z" fill="rgb(131,122,189)"/>
<path d="M119.8 226.5H121.6L122.0 227.0L122.3 226.5H124.2V228.3L122.0 229.5L119.8 228.3Z" fill="rgb(214,45,80)"/>
<path d="M167.5 226.5H169.3L169.7 227.0L170.0 226.5H171.9V228.3L169.7 229.5L167.5 228.3Z" fill="rgb(177,174,211)"/>
<path d="M181.5 226.5H183.1L183.5 227.0L183.8 226.5H185.5V228.3L183.5 229.5L181.5 228.3Z" fill="rgb(211,229,164)"/>
<path d="M184.1 226.5H185.7L186.0 227.0L186.3 226.5H187.9V228.3L186.0 229.5L184.1 228.3Z" fill="rgb(82,164,165)"/>
<path d="M187.2 226.5H189.3L189.7 227.0L190.1 226.5H192.2V228.3L189.7 229.5L187.2 228.3Z" fill="rgb(243,211,63)"/>
<path d="M196.5 226.5H198.2L198.5 227.0L198.8 226.5H200.5V228.3L198.5 229.5L196.5 228.3Z" fill="rgb(241,176,70)"/>
<path d="M201.0 226.5H203.8L204.3 227.0L204.8 226.5H207.6V228.3L204.3 229.5L201.0 228.3Z" fill="rgb(151,205,120)"/>
<path d="M207.6 226.5H209.2L209.5 227.0L209.8 226.5H211.4V228.3L209.5 229.5L207.6 228.3Z" fill="rgb(227,135,176)"/>
<path d="M213.5 226.5H215.4L215.7 227.0L216.1 226.5H218.0V228.3L215.7 229.5L213.5 228.3Z" fill="rgb(243,201,164)"/>
<path d="M218.7 226.5H220.7L221.1 227.0L221.5 226.5H223.5V228.3L221.1 229.5L218.7 228.3Z" fill="rgb(131,122,189)"/>
<path d="M119.8 233.2H121.6L122.0 233.7L122.3 233.2H124.2V235.0L122.0 236.2L119.8 235.0Z" fill="rgb(214,45,80)"/>
<path d="M167.5 233.2H169.3L169.7 233.7L170.0 233.2H171.9V235.0L169.7 236.2L167.5 235.0Z" fill="rgb(177,174,211)"/>
<path d="M177.7 233.2H179.4L179.7 233.7L180.0 233.2H181.7V235.0L179.7 236.2L177.7 235.0Z" fill="rgb(211,229,164)"/>
<path d="M182.8 233.2H184.4L184.7 233.7L185.0 233.2H186.6V235.0L184.7 236.2L182.8 235.0Z" fill="rgb(82,164,165)"/>
<path d="M186.0 233.2H188.1L188.5 233.7L188.9 233.2H191.0V235.0L188.5 236.2L186.0 235.0Z" fill="rgb(243,211,63)"/>
<path d="M195.3 233.2H196.9L197.3 233.7L197.6 233.2H199.3V235.0L197.3 236.2L195.3 235.0Z" fill="rgb(241,176,70)"/>
<path d="M199.8 233.2H202.5L203.1 233.7L203.6 233.2H206.4V235.0L203.1 236.2L199.8 235.0Z" fill="rgb(151,205,120)"/>
<path d="M206.4 233.2H208.0L208.3 233.7L208.6 233.2H210.2V235.0L208.3 236.2L206.4 235.0Z" fill="rgb(227,135,176)"/>
<path d="M212.2 233.2H214.1L214.5 233.7L214.8 233.2H216.7V235.0L214.5 236.2L212.2 235.0Z" fill="rgb(243,201,164)"/>
<path d="M217.9 233.2H220.0L220.3 233.7L220.7 233.2H222.7V235.0L220.3 236.2L217.9 235.0Z" fill="rgb(131,122,189)"/>
<path d="M121.0 239.9H122.9L123.2 240.4L123.6 239.9H125.4V241.7L123.2 242.9L121.0 241.7Z" fill="rgb(214,45,80)"/>
<path d="M167.5 239.9H169.3L169.7 240.4L170.0 239.9H171.9V241.7L169.7 242.9L167.5 241.7Z" fill="rgb(177,174,211)"/>
<path d="M180.2 239.9H181.9L182.2 240.4L182.5 239.9H184.2V241.7L182.2 242.9L180.2 241.7Z" fill="rgb(211,229,164)"/>
<path d="M183.3 239.9H184.9L185.2 240.4L185.5 239.9H187.1V241.7L185.2 242.9L183.3 241.7Z" fill="rgb(82,164,165)"/>
<path d="M187.2 239.9H189.3L189.7 240.4L190.1 239.9H192.2V241.7L189.7 242.9L187.2 241.7Z" fill="rgb(243,211,63)"/>
<path d="M195.3 239.9H196.9L197.3 240.4L197.6 239.9H199.3V241.7L197.3 242.9L195.3 241.7Z" fill="rgb(241,176,70)"/>
<path d="M200.3 239.9H203.0L203.6 240.4L204.1 239.9H206.9V241.7L203.6 242.9L200.3 241.7Z" fill="rgb(151,205,120)"/>
<path d="M206.9 239.9H208.5L208.8 240.4L209.1 239.9H210.7V241.7L208.8 242.9L206.9 241.7Z" fill="rgb(227,135,176)"/>
<path d="M212.7 239.9H214.6L215.0 240.4L215.3 239.9H217.2V241.7L215.0 242.9L212.7 241.7Z" fill="rgb(243,201,164)"/>
<path d="M217.9 239.9H220.0L220.3 240.4L220.7 239.9H222.7V241.7L220.3 242.9L217.9 241.7Z" fill="rgb(131,122,189)"/>
<path d="M119.8 246.7H121.6L122.0 247.2L122.3 246.7H124.2V248.5L122.0 249.7L119.8 248.5Z" fill="rgb(214,45,80)"/>
<path d="M167.0 246.7H168.8L169.2 247.2L169.5 246.7H171.4V248.5L169.2 249.7L167.0 248.5Z" fill="rgb(177,174,211)"/>
<path d="M179.7 246.7H181.4L181.7 247.2L182.0 246.7H183.7V248.5L181.7 249.7L179.7 248.5Z" fill="rgb(211,229,164)"/>
<path d="M182.8 246.7H184.4L184.7 247.2L185.0 246.7H186.6V248.5L184.7 249.7L182.8 248.5Z" fill="rgb(82,164,165)"/>
<path d="M187.2 246.7H189.3L189.7 247.2L190.1 246.7H192.2V248.5L189.7 249.7L187.2 248.5Z" fill="rgb(243,211,63)"/>
<path d="M195.3 246.7H196.9L197.3 247.2L197.6 246.7H199.3V248.5L197.3 249.7L195.3 248.5Z" fill="rgb(241,176,70)"/>
<path d="M199.8 246.7H202.5L203.1 247.2L203.6 246.7H206.4V248.5L203.1 249.7L199.8 248.5Z" fill="rgb(151,205,120)"/>
<path d="M206.4 246.7H208.0L208.3 247.2L208.6 246.7H210.2V248.5L208.3 249.7L206.4 248.5Z" fill="rgb(227,135,176)"/>
<path d="M212.2 246.7H214.1L214.5 247.2L214.8 246.7H216.7V248.5L214.5 249.7L212.2 248.5Z" fill="rgb(243,201,164)"/>
<path d="M217.4 246.7H219.4L219.8 247.2L220.2 246.7H222.2V248.5L219.8 249.7L217.4 248.5Z" fill="rgb(131,122,189)"/>
<path d="M119.8 253.4H121.6L122.0 253.9L122.3 253.4H124.2V255.2L122.0 256.4L119.8 255.2Z" fill="rgb(214,45,80)"/>
<path d="M167.5 253.4H169.3L169.7 253.9L170.0 253.4H171.9V255.2L169.7 256.4L167.5 255.2Z" fill="rgb(177,174,211)"/>
<path d="M180.2 253.4H181.9L182.2 253.9L182.5 253.4H184.2V255.2L182.2 256.4L180.2 255.2Z" fill="rgb(211,229,164)"/>
<path d="M183.3 253.4H184.9L185.2 253.9L185.5 253.4H187.1V255.2L185.2 256.4L183.3 255.2Z" fill="rgb(82,164,165)"/>
<path d="M187.7 253.4H189.8L190.2 253.9L190.6 253.4H192.7V255.2L190.2 256.4L187.7 255.2Z" fill="rgb(243,211,63)"/>
<path d="M195.3 253.4H196.9L197.3 253.9L197.6 253.4H199.3V255.2L197.3 256.4L195.3 255.2Z" fill="rgb(241,176,70)"/>
<path d="M201.0 253.4H203.8L204.3 253.9L204.8 253.4H207.6V255.2L204.3 256.4L201.0 255.2Z" fill="rgb(151,205,120)"/>
<path d="M207.6 253.4H209.2L209.5 253.9L209.8 253.4H211.4V255.2L209.5 256.4L207.6 255.2Z" fill="rgb(227,135,176)"/>
<path d="M119.8 260.1H121.6L122.0 260.6L122.3 260.1H124.2V261.9L122.0 263.1L119.8 261.9Z" fill="rgb(214,45,80)"/>
<path d="M167.5 260.1H169.3L169.7 260.6L170.0 260.1H171.9V261.9L169.7 263.1L167.5 261.9Z" fill="rgb(177,174,211)"/>
<path d="M180.2 260.1H181.9L182.2 260.6L182.5 260.1H184.2V261.9L182.2 263.1L180.2 261.9Z" fill="rgb(211,229,164)"/>
<path d="M183.3 260.1H184.9L185.2 260.6L185.5 260.1H187.1V261.9L185.2 263.1L183.3 261.9Z" fill="rgb(82,164,165)"/>
<path d="M187.7 260.1H189.8L190.2 260.6L190.6 260.1H192.7V261.9L190.2 263.1L187.7 261.9Z" fill="rgb(243,211,63)"/>
<path d="M195.3 260.1H196.9L197.3 260.6L197.6 260.1H199.3V261.9L197.3 263.1L195.3 261.9Z" fill="rgb(241,176,70)"/>
<path d="M200.3 260.1H203.0L203.6 260.6L204.1 260.1H206.9V261.9L203.6 263.1L200.3 261.9Z" fill="rgb(151,205,120)"/>
<path d="M206.9 260.1H208.5L208.8 260.6L209.1 260.1H210.7V261.9L208.8 263.1L206.9 261.9Z" fill="rgb(227,135,176)"/>
<path d="M212.7 260.1H214.6L215.0 260.6L215.3 260.1H217.2V261.9L215.0 263.1L212.7 261.9Z" fill="rgb(243,201,164)"/>
<path d="M217.9 260.1H220.0L220.3 260.6L220.7 260.1H222.7V261.9L220.3 263.1L217.9 261.9Z" fill="rgb(131,122,189)"/>
<path d="M119.3 266.8H121.1L121.5 267.3L121.8 266.8H123.7V268.6L121.5 269.8L119.3 268.6Z" fill="rgb(214,45,80)"/>
<path d="M161.2 266.8H163.0L163.4 267.3L163.7 266.8H165.6V268.6L163.4 269.8L161.2 268.6Z" fill="rgb(177,174,211)"/>
<path d="M171.4 266.8H173.1L173.4 267.3L173.7 266.8H175.4V268.6L173.4 269.8L171.4 268.6Z" fill="rgb(211,229,164)"/>
<path d="M174.8 266.8H176.4L176.7 267.3L177.0 266.8H178.6V268.6L176.7 269.8L174.8 268.6Z" fill="rgb(82,164,165)"/>
<path d="M179.2 266.8H181.3L181.7 267.3L182.1 266.8H184.2V268.6L181.7 269.8L179.2 268.6Z" fill="rgb(243,211,63)"/>
<path d="M187.2 266.8H188.9L189.2 267.3L189.5 266.8H191.2V268.6L189.2 269.8L187.2 268.6Z" fill="rgb(241,176,70)"/>
<path d="M192.2 266.8H195.0L195.5 267.3L196.1 266.8H198.8V268.6L195.5 269.8L192.2 268.6Z" fill="rgb(151,205,120)"/>
<path d="M198.8 266.8H200.4L200.7 267.3L201.0 266.8H202.6V268.6L200.7 269.8L198.8 268.6Z" fill="rgb(227,135,176)"/>
<path d="M205.5 266.8H207.4L207.8 267.3L208.2 266.8H210.0V268.6L207.8 269.8L205.5 268.6Z" fill="rgb(243,201,164)"/>
<path d="M211.2 266.8H213.2L213.6 267.3L213.9 266.8H216.0V268.6L213.6 269.8L211.2 268.6Z" fill="rgb(131,122,189)"/>
<path d="M120.8 273.5H122.6L123.0 274.0L123.3 273.5H125.2V275.3L123.0 276.5L120.8 275.3Z" fill="rgb(214,45,80)"/>
<path d="M140.6 273.5H142.5L142.8 274.0L143.2 273.5H145.0V275.3L142.8 276.5L140.6 275.3Z" fill="rgb(177,174,211)"/>
<path d="M168.7 273.5H170.6L170.9 274.0L171.3 273.5H173.1V275.3L170.9 276.5L168.7 275.3Z" fill="rgb(177,174,211)"/>
<path d="M178.9 273.5H180.6L180.9 274.0L181.3 273.5H182.9V275.3L180.9 276.5L178.9 275.3Z" fill="rgb(211,229,164)"/>
<path d="M182.8 273.5H184.4L184.7 274.0L185.0 273.5H186.6V275.3L184.7 276.5L182.8 275.3Z" fill="rgb(82,164,165)"/>
<path d="M187.2 273.5H189.3L189.7 274.0L190.1 273.5H192.2V275.3L189.7 276.5L187.2 275.3Z" fill="rgb(243,211,63)"/>
<path d="M195.3 273.5H196.9L197.3 274.0L197.6 273.5H199.3V275.3L197.3 276.5L195.3 275.3Z" fill="rgb(241,176,70)"/>
<path d="M199.8 273.5H202.5L203.1 274.0L203.6 273.5H206.4V275.3L203.1 276.5L199.8 275.3Z" fill="rgb(151,205,120)"/>
<path d="M206.4 273.5H208.0L208.3 274.0L208.6 273.5H210.2V275.3L208.3 276.5L206.4 275.3Z" fill="rgb(227,135,176)"/>
<path d="M212.2 273.5H214.1L214.5 274.0L214.8 273.5H216.7V275.3L214.5 276.5L212.2 275.3Z" fill="rgb(243,201,164)"/>
<path d="M218.7 273.5H220.7L221.1 274.0L221.5 273.5H223.5V275.3L221.1 276.5L218.7 275.3Z" fill="rgb(131,122,189)"/>
<path d="M120.3 280.3H122.1L122.5 280.8L122.8 280.3H124.7V282.1L122.5 283.3L120.3 282.1Z" fill="rgb(214,45,80)"/>
<path d="M168.0 280.3H169.8L170.2 280.8L170.5 280.3H172.4V282.1L170.2 283.3L168.0 282.1Z" fill="rgb(177,174,211)"/>
<path d="M179.7 280.3H181.4L181.7 280.8L182.0 280.3H183.7V282.1L181.7 283.3L179.7 282.1Z" fill="rgb(211,229,164)"/>
<path d="M182.8 280.3H184.4L184.7 280.8L185.0 280.3H186.6V282.1L184.7 283.3L182.8 282.1Z" fill="rgb(82,164,165)"/>
<path d="M187.2 280.3H189.3L189.7 280.8L190.1 280.3H192.2V282.1L189.7 283.3L187.2 282.1Z" fill="rgb(243,211,63)"/>
<path d="M195.3 280.3H196.9L197.3 280.8L197.6 280.3H199.3V282.1L197.3 283.3L195.3 282.1Z" fill="rgb(241,176,70)"/>
<path d="M199.8 280.3H202.5L203.1 280.8L203.6 280.3H206.4V282.1L203.1 283.3L199.8 282.1Z" fill="rgb(151,205,120)"/>
<path d="M206.4 280.3H208.0L208.3 280.8L208.6 280.3H210.2V282.1L208.3 283.3L206.4 282.1Z" fill="rgb(227,135,176)"/>
<path d="M212.2 280.3H214.1L214.5 280.8L214.8 280.3H216.7V282.1L214.5 283.3L212.2 282.1Z" fill="rgb(243,201,164)"/>
<path d="M218.7 280.3H220.7L221.1 280.8L221.5 280.3H223.5V282.1L221.1 283.3L218.7 282.1Z" fill="rgb(131,122,189)"/>
<path d="M119.3 287.0H121.1L121.5 287.5L121.8 287.0H123.7V288.8L121.5 290.0L119.3 288.8Z" fill="rgb(214,45,80)"/>
<path d="M167.0 287.0H168.8L169.2 287.5L169.5 287.0H171.4V288.8L169.2 290.0L167.0 288.8Z" fill="rgb(177,174,211)"/>
<path d="M178.9 287.0H180.6L180.9 287.5L181.3 287.0H182.9V288.8L180.9 290.0L178.9 288.8Z" fill="rgb(211,229,164)"/>
<path d="M182.8 287.0H184.4L184.7 287.5L185.0 287.0H186.6V288.8L184.7 290.0L182.8 288.8Z" fill="rgb(82,164,165)"/>
<path d="M187.2 287.0H189.3L189.7 287.5L190.1 287.0H192.2V288.8L189.7 290.0L187.2 288.8Z" fill="rgb(243,211,63)"/>
<path d="M195.3 287.0H196.9L197.3 287.5L197.6 287.0H199.3V288.8L197.3 290.0L195.3 288.8Z" fill="rgb(241,176,70)"/>
<path d="M199.8 287.0H202.5L203.1 287.5L203.6 287.0H206.4V288.8L203.1 290.0L199.8 288.8Z" fill="rgb(151,205,120)"/>
<path d="M206.4 287.0H208.0L208.3 287.5L208.6 287.0H210.2V288.8L208.3 290.0L206.4 288.8Z" fill="rgb(227,135,176)"/>
<path d="M212.2 287.0H214.1L214.5 287.5L214.8 287.0H216.7V288.8L214.5 290.0L212.2 288.8Z" fill="rgb(243,201,164)"/>
<path d="M217.4 287.0H219.4L219.8 287.5L220.2 287.0H222.2V288.8L219.8 290.0L217.4 288.8Z" fill="rgb(131,122,189)"/>
<path d="M119.3 293.7H121.1L121.5 294.2L121.8 293.7H123.7V295.5L121.5 296.7L119.3 295.5Z" fill="rgb(214,45,80)"/>
<path d="M162.9 293.7H164.8L165.1 294.2L165.5 293.7H167.3V295.5L165.1 296.7L162.9 295.5Z" fill="rgb(177,174,211)"/>
<path d="M171.4 293.7H173.1L173.4 294.2L173.7 293.7H175.4V295.5L173.4 296.7L171.4 295.5Z" fill="rgb(211,229,164)"/>
<path d="M175.8 293.7H177.4L177.7 294.2L178.0 293.7H179.6V295.5L177.7 296.7L175.8 295.5Z" fill="rgb(82,164,165)"/>
<path d="M179.7 293.7H181.8L182.2 294.2L182.6 293.7H184.7V295.5L182.2 296.7L179.7 295.5Z" fill="rgb(243,211,63)"/>
<path d="M185.2 293.7H186.9L187.2 294.2L187.5 293.7H189.2V295.5L187.2 296.7L185.2 295.5Z" fill="rgb(241,176,70)"/>
<path d="M192.2 293.7H195.0L195.5 294.2L196.1 293.7H198.8V295.5L195.5 296.7L192.2 295.5Z" fill="rgb(151,205,120)"/>
<path d="M198.8 293.7H200.4L200.7 294.2L201.0 293.7H202.6V295.5L200.7 296.7L198.8 295.5Z" fill="rgb(227,135,176)"/>
<path d="M205.0 293.7H206.9L207.3 294.2L207.6 293.7H209.5V295.5L207.3 296.7L205.0 295.5Z" fill="rgb(243,201,164)"/>
<path d="M211.9 293.7H213.9L214.3 294.2L214.7 293.7H216.7V295.5L214.3 296.7L211.9 295.5Z" fill="rgb(131,122,189)"/>
<path d="M122.3 300.4H124.1L124.5 300.9L124.9 300.4H126.7V302.2L124.5 303.4L122.3 302.2Z" fill="rgb(214,45,80)"/>
<path d="M150.2 300.4H151.8L152.1 300.9L152.4 300.4H154.0V302.2L152.1 303.4L150.2 302.2Z" fill="rgb(82,164,165)"/>
<path d="M168.7 300.4H170.6L170.9 300.9L171.3 300.4H173.1V302.2L170.9 303.4L168.7 302.2Z" fill="rgb(177,174,211)"/>
<path d="M180.2 300.4H181.9L182.2 300.9L182.5 300.4H184.2V302.2L182.2 303.4L180.2 302.2Z" fill="rgb(211,229,164)"/>
<path d="M183.3 300.4H184.9L185.2 300.9L185.5 300.4H187.1V302.2L185.2 303.4L183.3 302.2Z" fill="rgb(82,164,165)"/>
<path d="M187.7 300.4H189.8L190.2 300.9L190.6 300.4H192.7V302.2L190.2 303.4L187.7 302.2Z" fill="rgb(243,211,63)"/>
<path d="M195.8 300.4H197.4L197.8 300.9L198.1 300.4H199.8V302.2L197.8 303.4L195.8 302.2Z" fill="rgb(241,176,70)"/>
<path d="M200.3 300.4H203.0L203.6 300.9L204.1 300.4H206.9V302.2L203.6 303.4L200.3 302.2Z" fill="rgb(151,205,120)"/>
<path d="M206.9 300.4H208.5L208.8 300.9L209.1 300.4H210.7V302.2L208.8 303.4L206.9 302.2Z" fill="rgb(227,135,176)"/>
<path d="M212.7 300.4H214.6L215.0 300.9L215.3 300.4H217.2V302.2L215.0 303.4L212.7 302.2Z" fill="rgb(243,201,164)"/>
<path d="M218.7 300.4H220.7L221.1 300.9L221.5 300.4H223.5V302.2L221.1 303.4L218.7 302.2Z" fill="rgb(131,122,189)"/>
<path d="M119.8 307.1H121.6L122.0 307.6L122.3 307.1H124.2V308.9L122.0 310.1L119.8 308.9Z" fill="rgb(214,45,80)"/>
<path d="M182.7 307.1H184.4L184.7 307.6L185.0 307.1H186.7V308.9L184.7 310.1L182.7 308.9Z" fill="rgb(211,229,164)"/>
<path d="M185.3 307.1H186.9L187.2 307.6L187.5 307.1H189.1V308.9L187.2 310.1L185.3 308.9Z" fill="rgb(82,164,165)"/>
<path d="M189.7 307.1H191.8L192.2 307.6L192.6 307.1H194.7V308.9L192.2 310.1L189.7 308.9Z" fill="rgb(243,211,63)"/>
<path d="M197.8 307.1H199.4L199.8 307.6L200.1 307.1H201.8V308.9L199.8 310.1L197.8 308.9Z" fill="rgb(241,176,70)"/>
<path d="M202.8 307.1H205.5L206.1 307.6L206.6 307.1H209.4V308.9L206.1 310.1L202.8 308.9Z" fill="rgb(151,205,120)"/>
<path d="M209.4 307.1H211.0L211.3 307.6L211.6 307.1H213.2V308.9L211.3 310.1L209.4 308.9Z" fill="rgb(227,135,176)"/>
<path d="M216.3 307.1H218.2L218.6 307.6L218.9 307.1H220.8V308.9L218.6 310.1L216.3 308.9Z" fill="rgb(243,201,164)"/>
<path d="M119.3 313.8H121.1L121.5 314.3L121.8 313.8H123.7V315.6L121.5 316.8L119.3 315.6Z" fill="rgb(214,45,80)"/>
<path d="M176.4 313.8H178.1L178.4 314.3L178.8 313.8H180.4V315.6L178.4 316.8L176.4 315.6Z" fill="rgb(211,229,164)"/>
<path d="M180.3 313.8H181.9L182.2 314.3L182.5 313.8H184.1V315.6L182.2 316.8L180.3 315.6Z" fill="rgb(82,164,165)"/>
<path d="M184.7 313.8H186.8L187.2 314.3L187.6 313.8H189.7V315.6L187.2 316.8L184.7 315.6Z" fill="rgb(243,211,63)"/>
<path d="M191.5 313.8H193.2L193.5 314.3L193.8 313.8H195.5V315.6L193.5 316.8L191.5 315.6Z" fill="rgb(241,176,70)"/>
<path d="M196.0 313.8H198.8L199.3 314.3L199.8 313.8H202.6V315.6L199.3 316.8L196.0 315.6Z" fill="rgb(151,205,120)"/>
<path d="M202.9 313.8H204.5L204.8 314.3L205.1 313.8H206.7V315.6L204.8 316.8L202.9 315.6Z" fill="rgb(227,135,176)"/>
<path d="M210.1 313.8H211.9L212.3 314.3L212.7 313.8H214.6V315.6L212.3 316.8L210.1 315.6Z" fill="rgb(243,201,164)"/>
<path d="M119.8 320.6H121.6L122.0 321.1L122.3 320.6H124.2V322.4L122.0 323.6L119.8 322.4Z" fill="rgb(214,45,80)"/>
<path d="M164.4 320.6H166.3L166.6 321.1L167.0 320.6H168.8V322.4L166.6 323.6L164.4 322.4Z" fill="rgb(177,174,211)"/>
<path d="M174.7 320.6H176.4L176.7 321.1L177.0 320.6H178.7V322.4L176.7 323.6L174.7 322.4Z" fill="rgb(211,229,164)"/>
<path d="M178.3 320.6H179.9L180.2 321.1L180.5 320.6H182.1V322.4L180.2 323.6L178.3 322.4Z" fill="rgb(82,164,165)"/>
<path d="M182.7 320.6H184.8L185.2 321.1L185.6 320.6H187.7V322.4L185.2 323.6L182.7 322.4Z" fill="rgb(243,211,63)"/>
<path d="M189.7 320.6H191.4L191.7 321.1L192.1 320.6H193.7V322.4L191.7 323.6L189.7 322.4Z" fill="rgb(241,176,70)"/>
<path d="M196.0 320.6H198.8L199.3 321.1L199.8 320.6H202.6V322.4L199.3 323.6L196.0 322.4Z" fill="rgb(151,205,120)"/>
<path d="M202.6 320.6H204.2L204.5 321.1L204.8 320.6H206.4V322.4L204.5 323.6L202.6 322.4Z" fill="rgb(227,135,176)"/>
<path d="M208.8 320.6H210.7L211.1 321.1L211.4 320.6H213.3V322.4L211.1 323.6L208.8 322.4Z" fill="rgb(243,201,164)"/>
<path d="M214.9 320.6H216.9L217.3 321.1L217.7 320.6H219.7V322.4L217.3 323.6L214.9 322.4Z" fill="rgb(131,122,189)"/>
<path d="M119.3 327.3H121.1L121.5 327.8L121.8 327.3H123.7V329.1L121.5 330.3L119.3 329.1Z" fill="rgb(214,45,80)"/>
<path d="M136.0 327.3H137.9L138.3 327.8L138.7 327.3H140.5V329.1L138.3 330.3L136.0 329.1Z" fill="rgb(243,201,164)"/>
<path d="M166.2 327.3H168.1L168.4 327.8L168.8 327.3H170.6V329.1L168.4 330.3L166.2 329.1Z" fill="rgb(177,174,211)"/>
<path d="M176.4 327.3H178.1L178.4 327.8L178.8 327.3H180.4V329.1L178.4 330.3L176.4 329.1Z" fill="rgb(211,229,164)"/>
<path d="M180.3 327.3H181.9L182.2 327.8L182.5 327.3H184.1V329.1L182.2 330.3L180.3 329.1Z" fill="rgb(82,164,165)"/>
<path d="M184.2 327.3H186.3L186.7 327.8L187.1 327.3H189.2V329.1L186.7 330.3L184.2 329.1Z" fill="rgb(243,211,63)"/>
<path d="M192.7 327.3H194.4L194.7 327.8L195.1 327.3H196.7V329.1L194.7 330.3L192.7 329.1Z" fill="rgb(241,176,70)"/>
<path d="M197.3 327.3H200.0L200.6 327.8L201.1 327.3H203.9V329.1L200.6 330.3L197.3 329.1Z" fill="rgb(151,205,120)"/>
<path d="M203.9 327.3H205.4L205.8 327.8L206.1 327.3H207.7V329.1L205.8 330.3L203.9 329.1Z" fill="rgb(227,135,176)"/>
<path d="M210.1 327.3H211.9L212.3 327.8L212.7 327.3H214.6V329.1L212.3 330.3L210.1 329.1Z" fill="rgb(243,201,164)"/>
<path d="M216.9 327.3H218.9L219.3 327.8L219.7 327.3H221.7V329.1L219.3 330.3L216.9 329.1Z" fill="rgb(131,122,189)"/>
<path d="M119.3 334.0H121.1L121.5 334.5L121.8 334.0H123.7V335.8L121.5 337.0L119.3 335.8Z" fill="rgb(214,45,80)"/>
<path d="M162.4 334.0H164.3L164.6 334.5L165.0 334.0H166.8V335.8L164.6 337.0L162.4 335.8Z" fill="rgb(177,174,211)"/>
<path d="M172.7 334.0H174.4L174.7 334.5L175.0 334.0H176.7V335.8L174.7 337.0L172.7 335.8Z" fill="rgb(211,229,164)"/>
<path d="M175.8 334.0H177.4L177.7 334.5L178.0 334.0H179.6V335.8L177.7 337.0L175.8 335.8Z" fill="rgb(82,164,165)"/>
<path d="M180.2 334.0H182.3L182.7 334.5L183.1 334.0H185.2V335.8L182.7 337.0L180.2 335.8Z" fill="rgb(243,211,63)"/>
<path d="M187.7 334.0H189.4L189.7 334.5L190.0 334.0H191.7V335.8L189.7 337.0L187.7 335.8Z" fill="rgb(241,176,70)"/>
<path d="M193.5 334.0H196.3L196.8 334.5L197.3 334.0H200.1V335.8L196.8 337.0L193.5 335.8Z" fill="rgb(151,205,120)"/>
<path d="M200.1 334.0H201.7L202.0 334.5L202.3 334.0H203.9V335.8L202.0 337.0L200.1 335.8Z" fill="rgb(227,135,176)"/>
<path d="M205.9 334.0H207.8L208.2 334.5L208.6 334.0H210.4V335.8L208.2 337.0L205.9 335.8Z" fill="rgb(243,201,164)"/>
<path d="M211.2 334.0H213.2L213.6 334.5L213.9 334.0H216.0V335.8L213.6 337.0L211.2 335.8Z" fill="rgb(131,122,189)"/>
<path d="M119.3 340.7H121.1L121.5 341.2L121.8 340.7H123.7V342.5L121.5 343.7L119.3 342.5Z" fill="rgb(214,45,80)"/>
<path d="M162.9 340.7H164.8L165.1 341.2L165.5 340.7H167.3V342.5L165.1 343.7L162.9 342.5Z" fill="rgb(177,174,211)"/>
<path d="M173.9 340.7H175.6L175.9 341.2L176.2 340.7H177.9V342.5L175.9 343.7L173.9 342.5Z" fill="rgb(211,229,164)"/>
<path d="M177.8 340.7H179.4L179.7 341.2L180.0 340.7H181.6V342.5L179.7 343.7L177.8 342.5Z" fill="rgb(82,164,165)"/>
<path d="M182.2 340.7H184.3L184.7 341.2L185.1 340.7H187.2V342.5L184.7 343.7L182.2 342.5Z" fill="rgb(243,211,63)"/>
<path d="M187.7 340.7H189.4L189.7 341.2L190.0 340.7H191.7V342.5L189.7 343.7L187.7 342.5Z" fill="rgb(241,176,70)"/>
<path d="M193.5 340.7H196.3L196.8 341.2L197.3 340.7H200.1V342.5L196.8 343.7L193.5 342.5Z" fill="rgb(151,205,120)"/>
<path d="M200.1 340.7H201.7L202.0 341.2L202.3 340.7H203.9V342.5L202.0 343.7L200.1 342.5Z" fill="rgb(227,135,176)"/>
<path d="M206.3 340.7H208.2L208.5 341.2L208.9 340.7H210.8V342.5L208.5 343.7L206.3 342.5Z" fill="rgb(243,201,164)"/>
<path d="M211.9 340.7H213.9L214.3 341.2L214.7 340.7H216.7V342.5L214.3 343.7L211.9 342.5Z" fill="rgb(131,122,189)"/>
<path d="M119.3 347.4H121.1L121.5 347.9L121.8 347.4H123.7V349.2L121.5 350.4L119.3 349.2Z" fill="rgb(214,45,80)"/>
<path d="M162.9 347.4H164.8L165.1 347.9L165.5 347.4H167.3V349.2L165.1 350.4L162.9 349.2Z" fill="rgb(177,174,211)"/>
<path d="M173.9 347.4H175.6L175.9 347.9L176.2 347.4H177.9V349.2L175.9 350.4L173.9 349.2Z" fill="rgb(211,229,164)"/>
<path d="M176.5 347.4H178.1L178.4 347.9L178.7 347.4H180.3V349.2L178.4 350.4L176.5 349.2Z" fill="rgb(82,164,165)"/>
<path d="M181.0 347.4H183.1L183.5 347.9L183.9 347.4H186.0V349.2L183.5 350.4L181.0 349.2Z" fill="rgb(243,211,63)"/>
<path d="M189.0 347.4H190.7L191.0 347.9L191.3 347.4H193.0V349.2L191.0 350.4L189.0 349.2Z" fill="rgb(241,176,70)"/>
<path d="M193.5 347.4H196.3L196.8 347.9L197.3 347.4H200.1V349.2L196.8 350.4L193.5 349.2Z" fill="rgb(151,205,120)"/>
<path d="M200.1 347.4H201.7L202.0 347.9L202.3 347.4H203.9V349.2L202.0 350.4L200.1 349.2Z" fill="rgb(227,135,176)"/>
<path d="M206.3 347.4H208.2L208.5 347.9L208.9 347.4H210.8V349.2L208.5 350.4L206.3 349.2Z" fill="rgb(243,201,164)"/>
<path d="M211.4 347.4H213.4L213.8 347.9L214.2 347.4H216.2V349.2L213.8 350.4L211.4 349.2Z" fill="rgb(131,122,189)"/>
<path d="M119.3 354.1H121.1L121.5 354.6L121.8 354.1H123.7V355.9L121.5 357.1L119.3 355.9Z" fill="rgb(214,45,80)"/>
<path d="M162.4 354.1H164.3L164.6 354.6L165.0 354.1H166.8V355.9L164.6 357.1L162.4 355.9Z" fill="rgb(177,174,211)"/>
<path d="M173.2 354.1H174.9L175.2 354.6L175.5 354.1H177.2V355.9L175.2 357.1L173.2 355.9Z" fill="rgb(211,229,164)"/>
<path d="M176.5 354.1H178.1L178.4 354.6L178.7 354.1H180.3V355.9L178.4 357.1L176.5 355.9Z" fill="rgb(82,164,165)"/>
<path d="M181.0 354.1H183.1L183.5 354.6L183.9 354.1H186.0V355.9L183.5 357.1L181.0 355.9Z" fill="rgb(243,211,63)"/>
<path d="M189.0 354.1H190.7L191.0 354.6L191.3 354.1H193.0V355.9L191.0 357.1L189.0 355.9Z" fill="rgb(241,176,70)"/>
<path d="M193.5 354.1H196.3L196.8 354.6L197.3 354.1H200.1V355.9L196.8 357.1L193.5 355.9Z" fill="rgb(151,205,120)"/>
<path d="M200.1 354.1H201.7L202.0 354.6L202.3 354.1H203.9V355.9L202.0 357.1L200.1 355.9Z" fill="rgb(227,135,176)"/>
<path d="M206.3 354.1H208.2L208.5 354.6L208.9 354.1H210.8V355.9L208.5 357.1L206.3 355.9Z" fill="rgb(243,201,164)"/>
<path d="M211.9 354.1H213.9L214.3 354.6L214.7 354.1H216.7V355.9L214.3 357.1L211.9 355.9Z" fill="rgb(131,122,189)"/>
<path d="M121.0 360.9H122.9L123.2 361.4L123.6 360.9H125.4V362.7L123.2 363.9L121.0 362.7Z" fill="rgb(214,45,80)"/>
<path d="M162.4 360.9H164.3L164.6 361.4L165.0 360.9H166.9V362.7L164.6 363.9L162.4 362.7Z" fill="rgb(243,201,164)"/>
<path d="M167.5 360.9H169.3L169.7 361.4L170.0 360.9H171.9V362.7L169.7 363.9L167.5 362.7Z" fill="rgb(177,174,211)"/>
<path d="M177.7 360.9H179.4L179.7 361.4L180.0 360.9H181.7V362.7L179.7 363.9L177.7 362.7Z" fill="rgb(211,229,164)"/>
<path d="M182.8 360.9H184.4L184.7 361.4L185.0 360.9H186.6V362.7L184.7 363.9L182.8 362.7Z" fill="rgb(82,164,165)"/>
<path d="M186.0 360.9H188.1L188.5 361.4L188.9 360.9H191.0V362.7L188.5 363.9L186.0 362.7Z" fill="rgb(243,211,63)"/>
<path d="M191.5 360.9H193.2L193.5 361.4L193.8 360.9H195.5V362.7L193.5 363.9L191.5 362.7Z" fill="rgb(241,176,70)"/>
<path d="M198.5 360.9H201.3L201.8 361.4L202.3 360.9H205.1V362.7L201.8 363.9L198.5 362.7Z" fill="rgb(151,205,120)"/>
<path d="M205.4 360.9H207.0L207.3 361.4L207.6 360.9H209.2V362.7L207.3 363.9L205.4 362.7Z" fill="rgb(227,135,176)"/>
<path d="M212.6 360.9H214.5L214.8 361.4L215.2 360.9H217.1V362.7L214.8 363.9L212.6 362.7Z" fill="rgb(243,201,164)"/>
<path d="M218.7 360.9H220.7L221.1 361.4L221.5 360.9H223.5V362.7L221.1 363.9L218.7 362.7Z" fill="rgb(131,122,189)"/>
<path d="M121.0 367.6H122.9L123.2 368.1L123.6 367.6H125.4V369.4L123.2 370.6L121.0 369.4Z" fill="rgb(214,45,80)"/>
<path d="M168.7 367.6H170.6L170.9 368.1L171.3 367.6H173.1V369.4L170.9 370.6L168.7 369.4Z" fill="rgb(177,174,211)"/>
<path d="M180.2 367.6H181.9L182.2 368.1L182.5 367.6H184.2V369.4L182.2 370.6L180.2 369.4Z" fill="rgb(211,229,164)"/>
<path d="M183.3 367.6H184.9L185.2 368.1L185.5 367.6H187.1V369.4L185.2 370.6L183.3 369.4Z" fill="rgb(82,164,165)"/>
<path d="M188.5 367.6H190.6L191.0 368.1L191.4 367.6H193.5V369.4L191.0 370.6L188.5 369.4Z" fill="rgb(243,211,63)"/>
<path d="M195.3 367.6H196.9L197.3 368.1L197.6 367.6H199.3V369.4L197.3 370.6L195.3 369.4Z" fill="rgb(241,176,70)"/>
<path d="M199.8 367.6H202.5L203.1 368.1L203.6 367.6H206.4V369.4L203.1 370.6L199.8 369.4Z" fill="rgb(151,205,120)"/>
<path d="M206.6 367.6H208.2L208.5 368.1L208.8 367.6H210.4V369.4L208.5 370.6L206.6 369.4Z" fill="rgb(227,135,176)"/>
<path d="M213.1 367.6H215.0L215.3 368.1L215.7 367.6H217.6V369.4L215.3 370.6L213.1 369.4Z" fill="rgb(243,201,164)"/>
<path d="M219.9 367.6H222.0L222.3 368.1L222.7 367.6H224.7V369.4L222.3 370.6L219.9 369.4Z" fill="rgb(131,122,189)"/>
<path d="M122.3 374.3H124.1L124.5 374.8L124.9 374.3H126.7V376.1L124.5 377.3L122.3 376.1Z" fill="rgb(214,45,80)"/>
<path d="M168.7 374.3H170.6L170.9 374.8L171.3 374.3H173.1V376.1L170.9 377.3L168.7 376.1Z" fill="rgb(177,174,211)"/>
<path d="M180.2 374.3H181.9L182.2 374.8L182.5 374.3H184.2V376.1L182.2 377.3L180.2 376.1Z" fill="rgb(211,229,164)"/>
<path d="M183.3 374.3H184.9L185.2 374.8L185.5 374.3H187.1V376.1L185.2 377.3L183.3 376.1Z" fill="rgb(82,164,165)"/>
<path d="M188.5 374.3H190.6L191.0 374.8L191.4 374.3H193.5V376.1L191.0 377.3L188.5 376.1Z" fill="rgb(243,211,63)"/>
<path d="M194.0 374.3H195.7L196.0 374.8L196.3 374.3H198.0V376.1L196.0 377.3L194.0 376.1Z" fill="rgb(241,176,70)"/>
<path d="M199.8 374.3H202.5L203.1 374.8L203.6 374.3H206.4V376.1L203.1 377.3L199.8 376.1Z" fill="rgb(151,205,120)"/>
<path d="M206.6 374.3H208.2L208.5 374.8L208.8 374.3H210.4V376.1L208.5 377.3L206.6 376.1Z" fill="rgb(227,135,176)"/>
<path d="M212.6 374.3H214.5L214.8 374.8L215.2 374.3H217.1V376.1L214.8 377.3L212.6 376.1Z" fill="rgb(243,201,164)"/>
<path d="M219.9 374.3H222.0L222.3 374.8L222.7 374.3H224.7V376.1L222.3 377.3L219.9 376.1Z" fill="rgb(131,122,189)"/>
<path d="M118.5 381.0H120.4L120.7 381.5L121.1 381.0H122.9V382.8L120.7 384.0L118.5 382.8Z" fill="rgb(214,45,80)"/>
<path d="M139.1 381.0H141.2L141.6 381.5L142.0 381.0H144.1V382.8L141.6 384.0L139.1 382.8Z" fill="rgb(243,211,63)"/>
<path d="M165.4 381.0H167.3L167.6 381.5L168.0 381.0H169.8V382.8L167.6 384.0L165.4 382.8Z" fill="rgb(177,174,211)"/>
<path d="M175.7 381.0H177.4L177.7 381.5L178.0 381.0H179.7V382.8L177.7 384.0L175.7 382.8Z" fill="rgb(211,229,164)"/>
<path d="M179.8 381.0H181.4L181.7 381.5L182.0 381.0H183.6V382.8L181.7 384.0L179.8 382.8Z" fill="rgb(82,164,165)"/>
<path d="M184.2 381.0H186.3L186.7 381.5L187.1 381.0H189.2V382.8L186.7 384.0L184.2 382.8Z" fill="rgb(243,211,63)"/>
<path d="M190.2 381.0H191.9L192.2 381.5L192.6 381.0H194.2V382.8L192.2 384.0L190.2 382.8Z" fill="rgb(241,176,70)"/>
<path d="M196.0 381.0H198.8L199.3 381.5L199.8 381.0H202.6V382.8L199.3 384.0L196.0 382.8Z" fill="rgb(151,205,120)"/>
<path d="M202.6 381.0H204.2L204.5 381.5L204.8 381.0H206.4V382.8L204.5 384.0L202.6 382.8Z" fill="rgb(227,135,176)"/>
<path d="M209.6 381.0H211.4L211.8 381.5L212.2 381.0H214.1V382.8L211.8 384.0L209.6 382.8Z" fill="rgb(243,201,164)"/>
<path d="M215.4 381.0H217.4L217.8 381.5L218.2 381.0H220.2V382.8L217.8 384.0L215.4 382.8Z" fill="rgb(131,122,189)"/>
<path d="M118.5 387.7H120.4L120.7 388.2L121.1 387.7H122.9V389.5L120.7 390.7L118.5 389.5Z" fill="rgb(214,45,80)"/>
<path d="M138.3 387.7H140.4L140.8 388.2L141.2 387.7H143.3V389.5L140.8 390.7L138.3 389.5Z" fill="rgb(243,211,63)"/>
<path d="M163.7 387.7H165.5L165.9 388.2L166.2 387.7H168.1V389.5L165.9 390.7L163.7 389.5Z" fill="rgb(177,174,211)"/>
<path d="M173.9 387.7H175.6L175.9 388.2L176.2 387.7H177.9V389.5L175.9 390.7L173.9 389.5Z" fill="rgb(211,229,164)"/>
<path d="M177.3 387.7H178.9L179.2 388.2L179.5 387.7H181.1V389.5L179.2 390.7L177.3 389.5Z" fill="rgb(82,164,165)"/>
<path d="M181.7 387.7H183.8L184.2 388.2L184.6 387.7H186.7V389.5L184.2 390.7L181.7 389.5Z" fill="rgb(243,211,63)"/>
<path d="M186.5 387.7H188.2L188.5 388.2L188.8 387.7H190.5V389.5L188.5 390.7L186.5 389.5Z" fill="rgb(241,176,70)"/>
<path d="M192.2 387.7H195.0L195.5 388.2L196.1 387.7H198.8V389.5L195.5 390.7L192.2 389.5Z" fill="rgb(151,205,120)"/>
<path d="M199.1 387.7H200.7L201.0 388.2L201.3 387.7H202.9V389.5L201.0 390.7L199.1 389.5Z" fill="rgb(227,135,176)"/>
<path d="M205.5 387.7H207.4L207.8 388.2L208.2 387.7H210.0V389.5L207.8 390.7L205.5 389.5Z" fill="rgb(243,201,164)"/>
<path d="M211.2 387.7H213.2L213.6 388.2L213.9 387.7H216.0V389.5L213.6 390.7L211.2 389.5Z" fill="rgb(131,122,189)"/>
<path d="M121.8 394.4H123.6L124.0 394.9L124.3 394.4H126.2V396.2L124.0 397.4L121.8 396.2Z" fill="rgb(214,45,80)"/>
<path d="M140.1 394.4H142.2L142.6 394.9L143.0 394.4H145.1V396.2L142.6 397.4L140.1 396.2Z" fill="rgb(243,211,63)"/>
<path d="M166.2 394.4H168.1L168.4 394.9L168.8 394.4H170.6V396.2L168.4 397.4L166.2 396.2Z" fill="rgb(177,174,211)"/>
<path d="M176.4 394.4H178.1L178.4 394.9L178.8 394.4H180.4V396.2L178.4 397.4L176.4 396.2Z" fill="rgb(211,229,164)"/>
<path d="M181.6 394.4H183.2L183.5 394.9L183.8 394.4H185.4V396.2L183.5 397.4L181.6 396.2Z" fill="rgb(82,164,165)"/>
<path d="M186.0 394.4H188.1L188.5 394.9L188.9 394.4H191.0V396.2L188.5 397.4L186.0 396.2Z" fill="rgb(243,211,63)"/>
<path d="M191.5 394.4H193.2L193.5 394.9L193.8 394.4H195.5V396.2L193.5 397.4L191.5 396.2Z" fill="rgb(241,176,70)"/>
<path d="M197.3 394.4H200.0L200.6 394.9L201.1 394.4H203.9V396.2L200.6 397.4L197.3 396.2Z" fill="rgb(151,205,120)"/>
<path d="M203.9 394.4H205.4L205.8 394.9L206.1 394.4H207.7V396.2L205.8 397.4L203.9 396.2Z" fill="rgb(227,135,176)"/>
<path d="M210.1 394.4H211.9L212.3 394.9L212.7 394.4H214.6V396.2L212.3 397.4L210.1 396.2Z" fill="rgb(243,201,164)"/>
<path d="M216.2 394.4H218.2L218.6 394.9L219.0 394.4H221.0V396.2L218.6 397.4L216.2 396.2Z" fill="rgb(131,122,189)"/>
<path d="M121.8 401.2H123.6L124.0 401.7L124.3 401.2H126.2V403.0L124.0 404.2L121.8 403.0Z" fill="rgb(214,45,80)"/>
<path d="M140.1 401.2H142.2L142.6 401.7L143.0 401.2H145.1V403.0L142.6 404.2L140.1 403.0Z" fill="rgb(243,211,63)"/>
<path d="M167.0 401.2H168.8L169.2 401.7L169.5 401.2H171.4V403.0L169.2 404.2L167.0 403.0Z" fill="rgb(177,174,211)"/>
<path d="M177.2 401.2H178.9L179.2 401.7L179.5 401.2H181.2V403.0L179.2 404.2L177.2 403.0Z" fill="rgb(211,229,164)"/>
<path d="M181.6 401.2H183.2L183.5 401.7L183.8 401.2H185.4V403.0L183.5 404.2L181.6 403.0Z" fill="rgb(82,164,165)"/>
<path d="M186.0 401.2H188.1L188.5 401.7L188.9 401.2H191.0V403.0L188.5 404.2L186.0 403.0Z" fill="rgb(243,211,63)"/>
<path d="M191.5 401.2H193.2L193.5 401.7L193.8 401.2H195.5V403.0L193.5 404.2L191.5 403.0Z" fill="rgb(241,176,70)"/>
<path d="M198.5 401.2H201.3L201.8 401.7L202.3 401.2H205.1V403.0L201.8 404.2L198.5 403.0Z" fill="rgb(151,205,120)"/>
<path d="M205.1 401.2H206.7L207.0 401.7L207.3 401.2H208.9V403.0L207.0 404.2L205.1 403.0Z" fill="rgb(227,135,176)"/>
<path d="M211.0 401.2H212.8L213.2 401.7L213.6 401.2H215.5V403.0L213.2 404.2L211.0 403.0Z" fill="rgb(243,201,164)"/>
<path d="M216.9 401.2H218.9L219.3 401.7L219.7 401.2H221.7V403.0L219.3 404.2L216.9 403.0Z" fill="rgb(131,122,189)"/>
<path d="M118.5 407.9H120.4L120.7 408.4L121.1 407.9H122.9V409.7L120.7 410.9L118.5 409.7Z" fill="rgb(214,45,80)"/>
<path d="M130.0 407.9H131.7L132.0 408.4L132.3 407.9H134.0V409.7L132.0 410.9L130.0 409.7Z" fill="rgb(211,229,164)"/>
<path d="M162.4 407.9H164.3L164.6 408.4L165.0 407.9H166.8V409.7L164.6 410.9L162.4 409.7Z" fill="rgb(177,174,211)"/>
<path d="M173.9 407.9H175.6L175.9 408.4L176.2 407.9H177.9V409.7L175.9 410.9L173.9 409.7Z" fill="rgb(211,229,164)"/>
<path d="M177.8 407.9H179.4L179.7 408.4L180.0 407.9H181.6V409.7L179.7 410.9L177.8 409.7Z" fill="rgb(82,164,165)"/>
<path d="M182.2 407.9H184.3L184.7 408.4L185.1 407.9H187.2V409.7L184.7 410.9L182.2 409.7Z" fill="rgb(243,211,63)"/>
<path d="M189.0 407.9H190.7L191.0 408.4L191.3 407.9H193.0V409.7L191.0 410.9L189.0 409.7Z" fill="rgb(241,176,70)"/>
<path d="M194.7 407.9H197.5L198.0 408.4L198.6 407.9H201.3V409.7L198.0 410.9L194.7 409.7Z" fill="rgb(151,205,120)"/>
<path d="M201.3 407.9H202.9L203.2 408.4L203.5 407.9H205.1V409.7L203.2 410.9L201.3 409.7Z" fill="rgb(227,135,176)"/>
<path d="M207.5 407.9H209.4L209.8 408.4L210.2 407.9H212.0V409.7L209.8 410.9L207.5 409.7Z" fill="rgb(243,201,164)"/>
<path d="M212.9 407.9H214.9L215.3 408.4L215.7 407.9H217.7V409.7L215.3 410.9L212.9 409.7Z" fill="rgb(131,122,189)"/>
<path d="M119.8 414.6H121.6L122.0 415.1L122.3 414.6H124.2V416.4L122.0 417.6L119.8 416.4Z" fill="rgb(214,45,80)"/>
<path d="M162.4 414.6H164.3L164.6 415.1L165.0 414.6H166.8V416.4L164.6 417.6L162.4 416.4Z" fill="rgb(177,174,211)"/>
<path d="M173.2 414.6H174.9L175.2 415.1L175.5 414.6H177.2V416.4L175.2 417.6L173.2 416.4Z" fill="rgb(211,229,164)"/>
<path d="M177.3 414.6H178.9L179.2 415.1L179.5 414.6H181.1V416.4L179.2 417.6L177.3 416.4Z" fill="rgb(82,164,165)"/>
<path d="M182.2 414.6H184.3L184.7 415.1L185.1 414.6H187.2V416.4L184.7 417.6L182.2 416.4Z" fill="rgb(243,211,63)"/>
<path d="M187.7 414.6H189.4L189.7 415.1L190.0 414.6H191.7V416.4L189.7 417.6L187.7 416.4Z" fill="rgb(241,176,70)"/>
<path d="M193.5 414.6H196.3L196.8 415.1L197.3 414.6H200.1V416.4L196.8 417.6L193.5 416.4Z" fill="rgb(151,205,120)"/>
<path d="M200.1 414.6H201.7L202.0 415.1L202.3 414.6H203.9V416.4L202.0 417.6L200.1 416.4Z" fill="rgb(227,135,176)"/>
<path d="M207.0 414.6H208.9L209.3 415.1L209.7 414.6H211.5V416.4L209.3 417.6L207.0 416.4Z" fill="rgb(243,201,164)"/>
<path d="M212.9 414.6H214.9L215.3 415.1L215.7 414.6H217.7V416.4L215.3 417.6L212.9 416.4Z" fill="rgb(131,122,189)"/>
<path d="M119.8 421.3H121.6L122.0 421.8L122.3 421.3H124.2V423.1L122.0 424.3L119.8 423.1Z" fill="rgb(214,45,80)"/>
<path d="M162.4 421.3H164.3L164.6 421.8L165.0 421.3H166.8V423.1L164.6 424.3L162.4 423.1Z" fill="rgb(177,174,211)"/>
<path d="M174.7 421.3H176.4L176.7 421.8L177.0 421.3H178.7V423.1L176.7 424.3L174.7 423.1Z" fill="rgb(211,229,164)"/>
<path d="M179.0 421.3H180.6L180.9 421.8L181.3 421.3H182.8V423.1L180.9 424.3L179.0 423.1Z" fill="rgb(82,164,165)"/>
<path d="M182.7 421.3H184.8L185.2 421.8L185.6 421.3H187.7V423.1L185.2 424.3L182.7 423.1Z" fill="rgb(243,211,63)"/>
<path d="M188.2 421.3H189.9L190.2 421.8L190.5 421.3H192.2V423.1L190.2 424.3L188.2 423.1Z" fill="rgb(241,176,70)"/>
<path d="M194.7 421.3H197.5L198.0 421.8L198.6 421.3H201.3V423.1L198.0 424.3L194.7 423.1Z" fill="rgb(151,205,120)"/>
<path d="M201.3 421.3H202.9L203.2 421.8L203.5 421.3H205.1V423.1L203.2 424.3L201.3 423.1Z" fill="rgb(227,135,176)"/>
<path d="M207.5 421.3H209.4L209.8 421.8L210.2 421.3H212.0V423.1L209.8 424.3L207.5 423.1Z" fill="rgb(243,201,164)"/>
<path d="M212.9 421.3H214.9L215.3 421.8L215.7 421.3H217.7V423.1L215.3 424.3L212.9 423.1Z" fill="rgb(131,122,189)"/>
<path d="M121.8 428.0H123.6L124.0 428.5L124.3 428.0H126.2V429.8L124.0 431.0L121.8 429.8Z" fill="rgb(214,45,80)"/>
<path d="M162.4 428.0H164.3L164.6 428.5L165.0 428.0H166.8V429.8L164.6 431.0L162.4 429.8Z" fill="rgb(177,174,211)"/>
<path d="M174.7 428.0H176.4L176.7 428.5L177.0 428.0H178.7V429.8L176.7 431.0L174.7 429.8Z" fill="rgb(211,229,164)"/>
<path d="M178.3 428.0H179.9L180.2 428.5L180.5 428.0H182.1V429.8L180.2 431.0L178.3 429.8Z" fill="rgb(82,164,165)"/>
<path d="M182.7 428.0H184.8L185.2 428.5L185.6 428.0H187.7V429.8L185.2 431.0L182.7 429.8Z" fill="rgb(243,211,63)"/>
<path d="M188.2 428.0H189.9L190.2 428.5L190.5 428.0H192.2V429.8L190.2 431.0L188.2 429.8Z" fill="rgb(241,176,70)"/>
<path d="M194.7 428.0H197.5L198.0 428.5L198.6 428.0H201.3V429.8L198.0 431.0L194.7 429.8Z" fill="rgb(151,205,120)"/>
<path d="M201.3 428.0H202.9L203.2 428.5L203.5 428.0H205.1V429.8L203.2 431.0L201.3 429.8Z" fill="rgb(227,135,176)"/>
<path d="M208.0 428.0H209.9L210.3 428.5L210.7 428.0H212.5V429.8L210.3 431.0L208.0 429.8Z" fill="rgb(243,201,164)"/>
<path d="M213.7 428.0H215.7L216.1 428.5L216.5 428.0H218.5V429.8L216.1 431.0L213.7 429.8Z" fill="rgb(131,122,189)"/>
<path d="M120.3 434.7H122.1L122.5 435.2L122.8 434.7H124.7V436.5L122.5 437.7L120.3 436.5Z" fill="rgb(214,45,80)"/>
<path d="M162.4 434.7H164.3L164.6 435.2L165.0 434.7H166.8V436.5L164.6 437.7L162.4 436.5Z" fill="rgb(177,174,211)"/>
<path d="M173.9 434.7H175.6L175.9 435.2L176.2 434.7H177.9V436.5L175.9 437.7L173.9 436.5Z" fill="rgb(211,229,164)"/>
<path d="M177.8 434.7H179.4L179.7 435.2L180.0 434.7H181.6V436.5L179.7 437.7L177.8 436.5Z" fill="rgb(82,164,165)"/>
<path d="M182.2 434.7H184.3L184.7 435.2L185.1 434.7H187.2V436.5L184.7 437.7L182.2 436.5Z" fill="rgb(243,211,63)"/>
<path d="M188.2 434.7H189.9L190.2 435.2L190.5 434.7H192.2V436.5L190.2 437.7L188.2 436.5Z" fill="rgb(241,176,70)"/>
<path d="M193.5 434.7H196.3L196.8 435.2L197.3 434.7H200.1V436.5L196.8 437.7L193.5 436.5Z" fill="rgb(151,205,120)"/>
<path d="M200.1 434.7H201.7L202.0 435.2L202.3 434.7H203.9V436.5L202.0 437.7L200.1 436.5Z" fill="rgb(227,135,176)"/>
<path d="M207.5 434.7H209.4L209.8 435.2L210.2 434.7H212.0V436.5L209.8 437.7L207.5 436.5Z" fill="rgb(243,201,164)"/>
<path d="M212.9 434.7H214.9L215.3 435.2L215.7 434.7H217.7V436.5L215.3 437.7L212.9 436.5Z" fill="rgb(131,122,189)"/>
<path d="M120.3 441.5H122.1L122.5 442.0L122.8 441.5H124.7V443.3L122.5 444.5L120.3 443.3Z" fill="rgb(214,45,80)"/>
<path d="M162.4 441.5H164.3L164.6 442.0L165.0 441.5H166.8V443.3L164.6 444.5L162.4 443.3Z" fill="rgb(177,174,211)"/>
<path d="M173.9 441.5H175.6L175.9 442.0L176.2 441.5H177.9V443.3L175.9 444.5L173.9 443.3Z" fill="rgb(211,229,164)"/>
<path d="M177.8 441.5H179.4L179.7 442.0L180.0 441.5H181.6V443.3L179.7 444.5L177.8 443.3Z" fill="rgb(82,164,165)"/>
<path d="M182.2 441.5H184.3L184.7 442.0L185.1 441.5H187.2V443.3L184.7 444.5L182.2 443.3Z" fill="rgb(243,211,63)"/>
<path d="M188.2 441.5H189.9L190.2 442.0L190.5 441.5H192.2V443.3L190.2 444.5L188.2 443.3Z" fill="rgb(241,176,70)"/>
<path d="M193.5 441.5H196.3L196.8 442.0L197.3 441.5H200.1V443.3L196.8 444.5L193.5 443.3Z" fill="rgb(151,205,120)"/>
<path d="M200.1 441.5H201.7L202.0 442.0L202.3 441.5H203.9V443.3L202.0 444.5L200.1 443.3Z" fill="rgb(227,135,176)"/>
<path d="M207.5 441.5H209.4L209.8 442.0L210.2 441.5H212.0V443.3L209.8 444.5L207.5 443.3Z" fill="rgb(243,201,164)"/>
<path d="M212.9 441.5H214.9L215.3 442.0L215.7 441.5H217.7V443.3L215.3 444.5L212.9 443.3Z" fill="rgb(131,122,189)"/>
<path d="M122.3 448.2H124.1L124.5 448.7L124.9 448.2H126.7V450.0L124.5 451.2L122.3 450.0Z" fill="rgb(214,45,80)"/>
<path d="M164.4 448.2H166.3L166.6 448.7L167.0 448.2H168.8V450.0L166.6 451.2L164.4 450.0Z" fill="rgb(177,174,211)"/>
<path d="M175.2 448.2H176.9L177.2 448.7L177.5 448.2H179.2V450.0L177.2 451.2L175.2 450.0Z" fill="rgb(211,229,164)"/>
<path d="M179.0 448.2H180.6L180.9 448.7L181.3 448.2H182.8V450.0L180.9 451.2L179.0 450.0Z" fill="rgb(82,164,165)"/>
<path d="M184.2 448.2H186.3L186.7 448.7L187.1 448.2H189.2V450.0L186.7 451.2L184.2 450.0Z" fill="rgb(243,211,63)"/>
<path d="M190.2 448.2H191.9L192.2 448.7L192.6 448.2H194.2V450.0L192.2 451.2L190.2 450.0Z" fill="rgb(241,176,70)"/>
<path d="M197.3 448.2H200.0L200.6 448.7L201.1 448.2H203.9V450.0L200.6 451.2L197.3 450.0Z" fill="rgb(151,205,120)"/>
<path d="M203.9 448.2H205.4L205.8 448.7L206.1 448.2H207.7V450.0L205.8 451.2L203.9 450.0Z" fill="rgb(227,135,176)"/>
<path d="M209.7 448.2H211.6L212.0 448.7L212.3 448.2H214.2V450.0L212.0 451.2L209.7 450.0Z" fill="rgb(243,201,164)"/>
<path d="M216.2 448.2H218.2L218.6 448.7L219.0 448.2H221.0V450.0L218.6 451.2L216.2 450.0Z" fill="rgb(131,122,189)"/>
<path d="M123.6 454.9H125.4L125.8 455.4L126.1 454.9H128.0V456.7L125.8 457.9L123.6 456.7Z" fill="rgb(214,45,80)"/>
<path d="M165.4 454.9H167.3L167.6 455.4L168.0 454.9H169.8V456.7L167.6 457.9L165.4 456.7Z" fill="rgb(177,174,211)"/>
<path d="M176.4 454.9H178.1L178.4 455.4L178.8 454.9H180.4V456.7L178.4 457.9L176.4 456.7Z" fill="rgb(211,229,164)"/>
<path d="M180.3 454.9H181.9L182.2 455.4L182.5 454.9H184.1V456.7L182.2 457.9L180.3 456.7Z" fill="rgb(82,164,165)"/>
<path d="M184.7 454.9H186.8L187.2 455.4L187.6 454.9H189.7V456.7L187.2 457.9L184.7 456.7Z" fill="rgb(243,211,63)"/>
<path d="M191.5 454.9H193.2L193.5 455.4L193.8 454.9H195.5V456.7L193.5 457.9L191.5 456.7Z" fill="rgb(241,176,70)"/>
<path d="M198.5 454.9H201.3L201.8 455.4L202.3 454.9H205.1V456.7L201.8 457.9L198.5 456.7Z" fill="rgb(151,205,120)"/>
<path d="M205.1 454.9H206.7L207.0 455.4L207.3 454.9H208.9V456.7L207.0 457.9L205.1 456.7Z" fill="rgb(227,135,176)"/>
<path d="M211.0 454.9H212.8L213.2 455.4L213.6 454.9H215.5V456.7L213.2 457.9L211.0 456.7Z" fill="rgb(243,201,164)"/>
<path d="M216.9 454.9H218.9L219.3 455.4L219.7 454.9H221.7V456.7L219.3 457.9L216.9 456.7Z" fill="rgb(131,122,189)"/>
<path d="M123.6 461.6H125.4L125.8 462.1L126.1 461.6H128.0V463.4L125.8 464.6L123.6 463.4Z" fill="rgb(214,45,80)"/>
<path d="M148.9 461.6H150.5L150.8 462.1L151.1 461.6H152.7V463.4L150.8 464.6L148.9 463.4Z" fill="rgb(227,135,176)"/>
<path d="M166.2 461.6H168.1L168.4 462.1L168.8 461.6H170.6V463.4L168.4 464.6L166.2 463.4Z" fill="rgb(177,174,211)"/>
<path d="M176.4 461.6H178.1L178.4 462.1L178.8 461.6H180.4V463.4L178.4 464.6L176.4 463.4Z" fill="rgb(211,229,164)"/>
<path d="M180.3 461.6H181.9L182.2 462.1L182.5 461.6H184.1V463.4L182.2 464.6L180.3 463.4Z" fill="rgb(82,164,165)"/>
<path d="M184.7 461.6H186.8L187.2 462.1L187.6 461.6H189.7V463.4L187.2 464.6L184.7 463.4Z" fill="rgb(243,211,63)"/>
<path d="M191.5 461.6H193.2L193.5 462.1L193.8 461.6H195.5V463.4L193.5 464.6L191.5 463.4Z" fill="rgb(241,176,70)"/>
<path d="M198.5 461.6H201.3L201.8 462.1L202.3 461.6H205.1V463.4L201.8 464.6L198.5 463.4Z" fill="rgb(151,205,120)"/>
<path d="M205.1 461.6H206.7L207.0 462.1L207.3 461.6H208.9V463.4L207.0 464.6L205.1 463.4Z" fill="rgb(227,135,176)"/>
<path d="M211.0 461.6H212.8L213.2 462.1L213.6 461.6H215.5V463.4L213.2 464.6L211.0 463.4Z" fill="rgb(243,201,164)"/>
<path d="M216.9 461.6H218.9L219.3 462.1L219.7 461.6H221.7V463.4L219.3 464.6L216.9 463.4Z" fill="rgb(131,122,189)"/>
<path d="M121.8 468.3H123.6L124.0 468.8L124.3 468.3H126.2V470.1L124.0 471.3L121.8 470.1Z" fill="rgb(214,45,80)"/>
<path d="M164.9 468.3H166.8L167.1 468.8L167.5 468.3H169.3V470.1L167.1 471.3L164.9 470.1Z" fill="rgb(177,174,211)"/>
<path d="M175.7 468.3H177.4L177.7 468.8L178.0 468.3H179.7V470.1L177.7 471.3L175.7 470.1Z" fill="rgb(211,229,164)"/>
<path d="M179.8 468.3H181.4L181.7 468.8L182.0 468.3H183.6V470.1L181.7 471.3L179.8 470.1Z" fill="rgb(82,164,165)"/>
<path d="M184.2 468.3H186.3L186.7 468.8L187.1 468.3H189.2V470.1L186.7 471.3L184.2 470.1Z" fill="rgb(243,211,63)"/>
<path d="M190.2 468.3H191.9L192.2 468.8L192.6 468.3H194.2V470.1L192.2 471.3L190.2 470.1Z" fill="rgb(241,176,70)"/>
<path d="M197.3 468.3H200.0L200.6 468.8L201.1 468.3H203.9V470.1L200.6 471.3L197.3 470.1Z" fill="rgb(151,205,120)"/>
<path d="M203.9 468.3H205.4L205.8 468.8L206.1 468.3H207.7V470.1L205.8 471.3L203.9 470.1Z" fill="rgb(227,135,176)"/>
<path d="M211.3 468.3H213.2L213.6 468.8L213.9 468.3H215.8V470.1L213.6 471.3L211.3 470.1Z" fill="rgb(243,201,164)"/>
<path d="M216.9 468.3H218.9L219.3 468.8L219.7 468.3H221.7V470.1L219.3 471.3L216.9 470.1Z" fill="rgb(131,122,189)"/>
<path d="M120.3 475.0H122.1L122.5 475.5L122.8 475.0H124.7V476.8L122.5 478.0L120.3 476.8Z" fill="rgb(214,45,80)"/>
<path d="M164.9 475.0H166.8L167.1 475.5L167.5 475.0H169.3V476.8L167.1 478.0L164.9 476.8Z" fill="rgb(177,174,211)"/>
<path d="M175.7 475.0H177.4L177.7 475.5L178.0 475.0H179.7V476.8L177.7 478.0L175.7 476.8Z" fill="rgb(211,229,164)"/>
<path d="M179.0 475.0H180.6L180.9 475.5L181.3 475.0H182.8V476.8L180.9 478.0L179.0 476.8Z" fill="rgb(82,164,165)"/>
<path d="M183.5 475.0H185.6L186.0 475.5L186.4 475.0H188.5V476.8L186.0 478.0L183.5 476.8Z" fill="rgb(243,211,63)"/>
<path d="M189.7 475.0H191.4L191.7 475.5L192.1 475.0H193.7V476.8L191.7 478.0L189.7 476.8Z" fill="rgb(241,176,70)"/>
<path d="M197.3 475.0H200.0L200.6 475.5L201.1 475.0H203.9V476.8L200.6 478.0L197.3 476.8Z" fill="rgb(151,205,120)"/>
<path d="M203.9 475.0H205.4L205.8 475.5L206.1 475.0H207.7V476.8L205.8 478.0L203.9 476.8Z" fill="rgb(227,135,176)"/>
<path d="M210.1 475.0H211.9L212.3 475.5L212.7 475.0H214.6V476.8L212.3 478.0L210.1 476.8Z" fill="rgb(243,201,164)"/>
<path d="M216.9 475.0H218.9L219.3 475.5L219.7 475.0H221.7V476.8L219.3 478.0L216.9 476.8Z" fill="rgb(131,122,189)"/>
<path d="M120.3 481.8H122.1L122.5 482.3L122.8 481.8H124.7V483.6L122.5 484.8L120.3 483.6Z" fill="rgb(214,45,80)"/>
<path d="M162.9 481.8H164.8L165.1 482.3L165.5 481.8H167.3V483.6L165.1 484.8L162.9 483.6Z" fill="rgb(177,174,211)"/>
<path d="M173.9 481.8H175.6L175.9 482.3L176.2 481.8H177.9V483.6L175.9 484.8L173.9 483.6Z" fill="rgb(211,229,164)"/>
<path d="M177.3 481.8H178.9L179.2 482.3L179.5 481.8H181.1V483.6L179.2 484.8L177.3 483.6Z" fill="rgb(82,164,165)"/>
<path d="M181.7 481.8H183.8L184.2 482.3L184.6 481.8H186.7V483.6L184.2 484.8L181.7 483.6Z" fill="rgb(243,211,63)"/>
<path d="M189.7 481.8H191.4L191.7 482.3L192.1 481.8H193.7V483.6L191.7 484.8L189.7 483.6Z" fill="rgb(241,176,70)"/>
<path d="M194.7 481.8H197.5L198.0 482.3L198.6 481.8H201.3V483.6L198.0 484.8L194.7 483.6Z" fill="rgb(151,205,120)"/>
<path d="M201.3 481.8H202.9L203.2 482.3L203.5 481.8H205.1V483.6L203.2 484.8L201.3 483.6Z" fill="rgb(227,135,176)"/>
<path d="M207.5 481.8H209.4L209.8 482.3L210.2 481.8H212.0V483.6L209.8 484.8L207.5 483.6Z" fill="rgb(243,201,164)"/>
<path d="M214.9 481.8H216.9L217.3 482.3L217.7 481.8H219.7V483.6L217.3 484.8L214.9 483.6Z" fill="rgb(131,122,189)"/>
<path d="M121.8 488.5H123.6L124.0 489.0L124.3 488.5H126.2V490.3L124.0 491.5L121.8 490.3Z" fill="rgb(214,45,80)"/>
<path d="M164.4 488.5H166.3L166.6 489.0L167.0 488.5H168.8V490.3L166.6 491.5L164.4 490.3Z" fill="rgb(177,174,211)"/>
<path d="M175.7 488.5H177.4L177.7 489.0L178.0 488.5H179.7V490.3L177.7 491.5L175.7 490.3Z" fill="rgb(211,229,164)"/>
<path d="M179.8 488.5H181.4L181.7 489.0L182.0 488.5H183.6V490.3L181.7 491.5L179.8 490.3Z" fill="rgb(82,164,165)"/>
<path d="M184.2 488.5H186.3L186.7 489.0L187.1 488.5H189.2V490.3L186.7 491.5L184.2 490.3Z" fill="rgb(243,211,63)"/>
<path d="M191.5 488.5H193.2L193.5 489.0L193.8 488.5H195.5V490.3L193.5 491.5L191.5 490.3Z" fill="rgb(241,176,70)"/>
<path d="M197.3 488.5H200.0L200.6 489.0L201.1 488.5H203.9V490.3L200.6 491.5L197.3 490.3Z" fill="rgb(151,205,120)"/>
<path d="M203.9 488.5H205.4L205.8 489.0L206.1 488.5H207.7V490.3L205.8 491.5L203.9 490.3Z" fill="rgb(227,135,176)"/>
<path d="M210.1 488.5H211.9L212.3 489.0L212.7 488.5H214.6V490.3L212.3 491.5L210.1 490.3Z" fill="rgb(243,201,164)"/>
<path d="M216.9 488.5H218.9L219.3 489.0L219.7 488.5H221.7V490.3L219.3 491.5L216.9 490.3Z" fill="rgb(131,122,189)"/>
<path d="M121.8 495.2H123.6L124.0 495.7L124.3 495.2H126.2V497.0L124.0 498.2L121.8 497.0Z" fill="rgb(214,45,80)"/>
<path d="M164.4 495.2H166.3L166.6 495.7L167.0 495.2H168.8V497.0L166.6 498.2L164.4 497.0Z" fill="rgb(177,174,211)"/>
<path d="M175.7 495.2H177.4L177.7 495.7L178.0 495.2H179.7V497.0L177.7 498.2L175.7 497.0Z" fill="rgb(211,229,164)"/>
<path d="M179.8 495.2H181.4L181.7 495.7L182.0 495.2H183.6V497.0L181.7 498.2L179.8 497.0Z" fill="rgb(82,164,165)"/>
<path d="M184.2 495.2H186.3L186.7 495.7L187.1 495.2H189.2V497.0L186.7 498.2L184.2 497.0Z" fill="rgb(243,211,63)"/>
<path d="M191.5 495.2H193.2L193.5 495.7L193.8 495.2H195.5V497.0L193.5 498.2L191.5 497.0Z" fill="rgb(241,176,70)"/>
<path d="M197.3 495.2H200.0L200.6 495.7L201.1 495.2H203.9V497.0L200.6 498.2L197.3 497.0Z" fill="rgb(151,205,120)"/>
<path d="M203.9 495.2H205.4L205.8 495.7L206.1 495.2H207.7V497.0L205.8 498.2L203.9 497.0Z" fill="rgb(227,135,176)"/>
<path d="M210.1 495.2H211.9L212.3 495.7L212.7 495.2H214.6V497.0L212.3 498.2L210.1 497.0Z" fill="rgb(243,201,164)"/>
<path d="M216.9 495.2H218.9L219.3 495.7L219.7 495.2H221.7V497.0L219.3 498.2L216.9 497.0Z" fill="rgb(131,122,189)"/>
<path d="M119.3 501.9H121.1L121.5 502.4L121.8 501.9H123.7V503.7L121.5 504.9L119.3 503.7Z" fill="rgb(214,45,80)"/>
<path d="M125.0 501.9H127.1L127.5 502.4L127.9 501.9H130.0V503.7L127.5 504.9L125.0 503.7Z" fill="rgb(243,211,63)"/>
<path d="M161.2 501.9H163.0L163.4 502.4L163.7 501.9H165.6V503.7L163.4 504.9L161.2 503.7Z" fill="rgb(177,174,211)"/>
<path d="M172.7 501.9H174.4L174.7 502.4L175.0 501.9H176.7V503.7L174.7 504.9L172.7 503.7Z" fill="rgb(211,229,164)"/>
<path d="M176.5 501.9H178.1L178.4 502.4L178.7 501.9H180.3V503.7L178.4 504.9L176.5 503.7Z" fill="rgb(82,164,165)"/>
<path d="M181.0 501.9H183.1L183.5 502.4L183.9 501.9H186.0V503.7L183.5 504.9L181.0 503.7Z" fill="rgb(243,211,63)"/>
<path d="M189.0 501.9H190.7L191.0 502.4L191.3 501.9H193.0V503.7L191.0 504.9L189.0 503.7Z" fill="rgb(241,176,70)"/>
<path d="M194.7 501.9H197.5L198.0 502.4L198.6 501.9H201.3V503.7L198.0 504.9L194.7 503.7Z" fill="rgb(151,205,120)"/>
<path d="M201.3 501.9H202.9L203.2 502.4L203.5 501.9H205.1V503.7L203.2 504.9L201.3 503.7Z" fill="rgb(227,135,176)"/>
<path d="M207.5 501.9H209.4L209.8 502.4L210.2 501.9H212.0V503.7L209.8 504.9L207.5 503.7Z" fill="rgb(243,201,164)"/>
<path d="M213.7 501.9H215.7L216.1 502.4L216.5 501.9H218.5V503.7L216.1 504.9L213.7 503.7Z" fill="rgb(131,122,189)"/>
<path d="M121.8 508.6H123.6L124.0 509.1L124.3 508.6H126.2V510.4L124.0 511.6L121.8 510.4Z" fill="rgb(214,45,80)"/>
<path d="M166.2 508.6H168.1L168.4 509.1L168.8 508.6H170.6V510.4L168.4 511.6L166.2 510.4Z" fill="rgb(177,174,211)"/>
<path d="M177.2 508.6H178.9L179.2 509.1L179.5 508.6H181.2V510.4L179.2 511.6L177.2 510.4Z" fill="rgb(211,229,164)"/>
<path d="M181.6 508.6H183.2L183.5 509.1L183.8 508.6H185.4V510.4L183.5 511.6L181.6 510.4Z" fill="rgb(82,164,165)"/>
<path d="M186.0 508.6H188.1L188.5 509.1L188.9 508.6H191.0V510.4L188.5 511.6L186.0 510.4Z" fill="rgb(243,211,63)"/>
<path d="M192.7 508.6H194.4L194.7 509.1L195.1 508.6H196.7V510.4L194.7 511.6L192.7 510.4Z" fill="rgb(241,176,70)"/>
<path d="M198.5 508.6H201.3L201.8 509.1L202.3 508.6H205.1V510.4L201.8 511.6L198.5 510.4Z" fill="rgb(151,205,120)"/>
<path d="M205.1 508.6H206.7L207.0 509.1L207.3 508.6H208.9V510.4L207.0 511.6L205.1 510.4Z" fill="rgb(227,135,176)"/>
<path d="M212.6 508.6H214.5L214.8 509.1L215.2 508.6H217.1V510.4L214.8 511.6L212.6 510.4Z" fill="rgb(243,201,164)"/>
<path d="M218.7 508.6H220.7L221.1 509.1L221.5 508.6H223.5V510.4L221.1 511.6L218.7 510.4Z" fill="rgb(131,122,189)"/>
<path d="M122.8 515.3H124.6L125.0 515.8L125.4 515.3H127.2V517.1L125.0 518.3L122.8 517.1Z" fill="rgb(214,45,80)"/>
<path d="M140.8 515.3H142.9L143.3 515.8L143.7 515.3H145.8V517.1L143.3 518.3L140.8 517.1Z" fill="rgb(243,211,63)"/>
<path d="M166.2 515.3H168.1L168.4 515.8L168.8 515.3H170.6V517.1L168.4 518.3L166.2 517.1Z" fill="rgb(177,174,211)"/>
<path d="M177.7 515.3H179.4L179.7 515.8L180.0 515.3H181.7V517.1L179.7 518.3L177.7 517.1Z" fill="rgb(211,229,164)"/>
<path d="M181.6 515.3H183.2L183.5 515.8L183.8 515.3H185.4V517.1L183.5 518.3L181.6 517.1Z" fill="rgb(82,164,165)"/>
<path d="M186.0 515.3H188.1L188.5 515.8L188.9 515.3H191.0V517.1L188.5 518.3L186.0 517.1Z" fill="rgb(243,211,63)"/>
<path d="M194.0 515.3H195.7L196.0 515.8L196.3 515.3H198.0V517.1L196.0 518.3L194.0 517.1Z" fill="rgb(241,176,70)"/>
<path d="M199.8 515.3H202.5L203.1 515.8L203.6 515.3H206.4V517.1L203.1 518.3L199.8 517.1Z" fill="rgb(151,205,120)"/>
<path d="M206.4 515.3H208.0L208.3 515.8L208.6 515.3H210.2V517.1L208.3 518.3L206.4 517.1Z" fill="rgb(227,135,176)"/>
<path d="M212.6 515.3H214.5L214.8 515.8L215.2 515.3H217.1V517.1L214.8 518.3L212.6 517.1Z" fill="rgb(243,201,164)"/>
<path d="M219.9 515.3H222.0L222.3 515.8L222.7 515.3H224.7V517.1L222.3 518.3L219.9 517.1Z" fill="rgb(131,122,189)"/>
<path d="M122.3 522.1H124.1L124.5 522.6L124.9 522.1H126.7V523.9L124.5 525.1L122.3 523.9Z" fill="rgb(214,45,80)"/>
<path d="M167.0 522.1H168.8L169.2 522.6L169.5 522.1H171.4V523.9L169.2 525.1L167.0 523.9Z" fill="rgb(177,174,211)"/>
<path d="M176.4 522.1H178.1L178.4 522.6L178.8 522.1H180.4V523.9L178.4 525.1L176.4 523.9Z" fill="rgb(211,229,164)"/>
<path d="M180.3 522.1H181.9L182.2 522.6L182.5 522.1H184.1V523.9L182.2 525.1L180.3 523.9Z" fill="rgb(82,164,165)"/>
<path d="M184.2 522.1H186.3L186.7 522.6L187.1 522.1H189.2V523.9L186.7 525.1L184.2 523.9Z" fill="rgb(243,211,63)"/>
<path d="M195.3 522.1H196.9L197.3 522.6L197.6 522.1H199.3V523.9L197.3 525.1L195.3 523.9Z" fill="rgb(241,176,70)"/>
<path d="M201.0 522.1H203.8L204.3 522.6L204.8 522.1H207.6V523.9L204.3 525.1L201.0 523.9Z" fill="rgb(151,205,120)"/>
<path d="M207.6 522.1H209.2L209.5 522.6L209.8 522.1H211.4V523.9L209.5 525.1L207.6 523.9Z" fill="rgb(227,135,176)"/>
<path d="M215.1 522.1H217.0L217.3 522.6L217.7 522.1H219.6V523.9L217.3 525.1L215.1 523.9Z" fill="rgb(243,201,164)"/>
<path d="M221.2 522.1H223.2L223.6 522.6L224.0 522.1H226.0V523.9L223.6 525.1L221.2 523.9Z" fill="rgb(131,122,189)"/>
<path d="M119.3 528.8H121.1L121.5 529.3L121.8 528.8H123.7V530.6L121.5 531.8L119.3 530.6Z" fill="rgb(214,45,80)"/>
<path d="M162.4 528.8H164.3L164.6 529.3L165.0 528.8H166.8V530.6L164.6 531.8L162.4 530.6Z" fill="rgb(177,174,211)"/>
<path d="M173.9 528.8H175.6L175.9 529.3L176.2 528.8H177.9V530.6L175.9 531.8L173.9 530.6Z" fill="rgb(211,229,164)"/>
<path d="M177.8 528.8H179.4L179.7 529.3L180.0 528.8H181.6V530.6L179.7 531.8L177.8 530.6Z" fill="rgb(82,164,165)"/>
<path d="M182.2 528.8H184.3L184.7 529.3L185.1 528.8H187.2V530.6L184.7 531.8L182.2 530.6Z" fill="rgb(243,211,63)"/>
<path d="M190.2 528.8H191.9L192.2 529.3L192.6 528.8H194.2V530.6L192.2 531.8L190.2 530.6Z" fill="rgb(241,176,70)"/>
<path d="M196.0 528.8H198.8L199.3 529.3L199.8 528.8H202.6V530.6L199.3 531.8L196.0 530.6Z" fill="rgb(151,205,120)"/>
<path d="M202.6 528.8H204.2L204.5 529.3L204.8 528.8H206.4V530.6L204.5 531.8L202.6 530.6Z" fill="rgb(227,135,176)"/>
<path d="M210.1 528.8H211.9L212.3 529.3L212.7 528.8H214.6V530.6L212.3 531.8L210.1 530.6Z" fill="rgb(243,201,164)"/>
<path d="M216.2 528.8H218.2L218.6 529.3L219.0 528.8H221.0V530.6L218.6 531.8L216.2 530.6Z" fill="rgb(131,122,189)"/>
<path d="M118.5 535.5H120.4L120.7 536.0L121.1 535.5H122.9V537.3L120.7 538.5L118.5 537.3Z" fill="rgb(214,45,80)"/>
<path d="M161.9 535.5H163.8L164.1 536.0L164.5 535.5H166.3V537.3L164.1 538.5L161.9 537.3Z" fill="rgb(177,174,211)"/>
<path d="M173.2 535.5H174.9L175.2 536.0L175.5 535.5H177.2V537.3L175.2 538.5L173.2 537.3Z" fill="rgb(211,229,164)"/>
<path d="M177.3 535.5H178.9L179.2 536.0L179.5 535.5H181.1V537.3L179.2 538.5L177.3 537.3Z" fill="rgb(82,164,165)"/>
<path d="M181.7 535.5H183.8L184.2 536.0L184.6 535.5H186.7V537.3L184.2 538.5L181.7 537.3Z" fill="rgb(243,211,63)"/>
<path d="M190.2 535.5H191.9L192.2 536.0L192.6 535.5H194.2V537.3L192.2 538.5L190.2 537.3Z" fill="rgb(241,176,70)"/>
<path d="M195.2 535.5H198.0L198.5 536.0L199.1 535.5H201.8V537.3L198.5 538.5L195.2 537.3Z" fill="rgb(151,205,120)"/>
<path d="M201.8 535.5H203.4L203.7 536.0L204.1 535.5H205.6V537.3L203.7 538.5L201.8 537.3Z" fill="rgb(227,135,176)"/>
<path d="M209.6 535.5H211.4L211.8 536.0L212.2 535.5H214.1V537.3L211.8 538.5L209.6 537.3Z" fill="rgb(243,201,164)"/>
<path d="M214.9 535.5H216.9L217.3 536.0L217.7 535.5H219.7V537.3L217.3 538.5L214.9 537.3Z" fill="rgb(131,122,189)"/>
<path d="M118.5 542.2H120.4L120.7 542.7L121.1 542.2H122.9V544.0L120.7 545.2L118.5 544.0Z" fill="rgb(214,45,80)"/>
<path d="M161.9 542.2H163.8L164.1 542.7L164.5 542.2H166.3V544.0L164.1 545.2L161.9 544.0Z" fill="rgb(177,174,211)"/>
<path d="M172.2 542.2H173.9L174.2 542.7L174.5 542.2H176.2V544.0L174.2 545.2L172.2 544.0Z" fill="rgb(211,229,164)"/>
<path d="M175.8 542.2H177.4L177.7 542.7L178.0 542.2H179.6V544.0L177.7 545.2L175.8 544.0Z" fill="rgb(82,164,165)"/>
<path d="M181.0 542.2H183.1L183.5 542.7L183.9 542.2H186.0V544.0L183.5 545.2L181.0 544.0Z" fill="rgb(243,211,63)"/>
<path d="M189.0 542.2H190.7L191.0 542.7L191.3 542.2H193.0V544.0L191.0 545.2L189.0 544.0Z" fill="rgb(241,176,70)"/>
<path d="M194.2 542.2H197.0L197.5 542.7L198.1 542.2H200.8V544.0L197.5 545.2L194.2 544.0Z" fill="rgb(151,205,120)"/>
<path d="M200.8 542.2H202.4L202.7 542.7L203.0 542.2H204.6V544.0L202.7 545.2L200.8 544.0Z" fill="rgb(227,135,176)"/>
<path d="M208.8 542.2H210.7L211.1 542.7L211.4 542.2H213.3V544.0L211.1 545.2L208.8 544.0Z" fill="rgb(243,201,164)"/>
<path d="M214.4 542.2H216.4L216.8 542.7L217.2 542.2H219.2V544.0L216.8 545.2L214.4 544.0Z" fill="rgb(131,122,189)"/>
<path d="M118.5 548.9H120.4L120.7 549.4L121.1 548.9H122.9V550.7L120.7 551.9L118.5 550.7Z" fill="rgb(214,45,80)"/>
<path d="M161.9 548.9H163.8L164.1 549.4L164.5 548.9H166.3V550.7L164.1 551.9L161.9 550.7Z" fill="rgb(177,174,211)"/>
<path d="M172.7 548.9H174.4L174.7 549.4L175.0 548.9H176.7V550.7L174.7 551.9L172.7 550.7Z" fill="rgb(211,229,164)"/>
<path d="M176.5 548.9H178.1L178.4 549.4L178.7 548.9H180.3V550.7L178.4 551.9L176.5 550.7Z" fill="rgb(82,164,165)"/>
<path d="M181.7 548.9H183.8L184.2 549.4L184.6 548.9H186.7V550.7L184.2 551.9L181.7 550.7Z" fill="rgb(243,211,63)"/>
<path d="M189.7 548.9H191.4L191.7 549.4L192.1 548.9H193.7V550.7L191.7 551.9L189.7 550.7Z" fill="rgb(241,176,70)"/>
<path d="M194.7 548.9H197.5L198.0 549.4L198.6 548.9H201.3V550.7L198.0 551.9L194.7 550.7Z" fill="rgb(151,205,120)"/>
<path d="M201.3 548.9H202.9L203.2 549.4L203.5 548.9H205.1V550.7L203.2 551.9L201.3 550.7Z" fill="rgb(227,135,176)"/>
<path d="M208.8 548.9H210.7L211.1 549.4L211.4 548.9H213.3V550.7L211.1 551.9L208.8 550.7Z" fill="rgb(243,201,164)"/>
<path d="M214.4 548.9H216.4L216.8 549.4L217.2 548.9H219.2V550.7L216.8 551.9L214.4 550.7Z" fill="rgb(131,122,189)"/>
<path d="M118.5 555.6H120.4L120.7 556.1L121.1 555.6H122.9V557.4L120.7 558.6L118.5 557.4Z" fill="rgb(214,45,80)"/>
<path d="M162.4 555.6H164.3L164.6 556.1L165.0 555.6H166.8V557.4L164.6 558.6L162.4 557.4Z" fill="rgb(177,174,211)"/>
<path d="M173.2 555.6H174.9L175.2 556.1L175.5 555.6H177.2V557.4L175.2 558.6L173.2 557.4Z" fill="rgb(211,229,164)"/>
<path d="M177.3 555.6H178.9L179.2 556.1L179.5 555.6H181.1V557.4L179.2 558.6L177.3 557.4Z" fill="rgb(82,164,165)"/>
<path d="M182.2 555.6H184.3L184.7 556.1L185.1 555.6H187.2V557.4L184.7 558.6L182.2 557.4Z" fill="rgb(243,211,63)"/>
<path d="M189.7 555.6H191.4L191.7 556.1L192.1 555.6H193.7V557.4L191.7 558.6L189.7 557.4Z" fill="rgb(241,176,70)"/>
<path d="M195.2 555.6H198.0L198.5 556.1L199.1 555.6H201.8V557.4L198.5 558.6L195.2 557.4Z" fill="rgb(151,205,120)"/>
<path d="M201.8 555.6H203.4L203.7 556.1L204.1 555.6H205.6V557.4L203.7 558.6L201.8 557.4Z" fill="rgb(227,135,176)"/>
<path d="M209.6 555.6H211.4L211.8 556.1L212.2 555.6H214.1V557.4L211.8 558.6L209.6 557.4Z" fill="rgb(243,201,164)"/>
<path d="M214.9 555.6H216.9L217.3 556.1L217.7 555.6H219.7V557.4L217.3 558.6L214.9 557.4Z" fill="rgb(131,122,189)"/>
<path d="M120.3 562.4H122.1L122.5 562.9L122.8 562.4H124.7V564.2L122.5 565.4L120.3 564.2Z" fill="rgb(214,45,80)"/>
<path d="M162.9 562.4H164.8L165.1 562.9L165.5 562.4H167.3V564.2L165.1 565.4L162.9 564.2Z" fill="rgb(177,174,211)"/>
<path d="M173.9 562.4H175.6L175.9 562.9L176.2 562.4H177.9V564.2L175.9 565.4L173.9 564.2Z" fill="rgb(211,229,164)"/>
<path d="M177.8 562.4H179.4L179.7 562.9L180.0 562.4H181.6V564.2L179.7 565.4L177.8 564.2Z" fill="rgb(82,164,165)"/>
<path d="M182.2 562.4H184.3L184.7 562.9L185.1 562.4H187.2V564.2L184.7 565.4L182.2 564.2Z" fill="rgb(243,211,63)"/>
<path d="M190.7 562.4H192.4L192.7 562.9L193.1 562.4H194.7V564.2L192.7 565.4L190.7 564.2Z" fill="rgb(241,176,70)"/>
<path d="M196.0 562.4H198.8L199.3 562.9L199.8 562.4H202.6V564.2L199.3 565.4L196.0 564.2Z" fill="rgb(151,205,120)"/>
<path d="M202.6 562.4H204.2L204.5 562.9L204.8 562.4H206.4V564.2L204.5 565.4L202.6 564.2Z" fill="rgb(227,135,176)"/>
<path d="M210.6 562.4H212.4L212.8 562.9L213.2 562.4H215.1V564.2L212.8 565.4L210.6 564.2Z" fill="rgb(243,201,164)"/>
<path d="M216.2 562.4H218.2L218.6 562.9L219.0 562.4H221.0V564.2L218.6 565.4L216.2 564.2Z" fill="rgb(131,122,189)"/>
<path d="M118.5 569.1H120.4L120.7 569.6L121.1 569.1H122.9V570.9L120.7 572.1L118.5 570.9Z" fill="rgb(214,45,80)"/>
<path d="M162.9 569.1H164.8L165.1 569.6L165.5 569.1H167.3V570.9L165.1 572.1L162.9 570.9Z" fill="rgb(177,174,211)"/>
<path d="M173.9 569.1H175.6L175.9 569.6L176.2 569.1H177.9V570.9L175.9 572.1L173.9 570.9Z" fill="rgb(211,229,164)"/>
<path d="M177.8 569.1H179.4L179.7 569.6L180.0 569.1H181.6V570.9L179.7 572.1L177.8 570.9Z" fill="rgb(82,164,165)"/>
<path d="M182.2 569.1H184.3L184.7 569.6L185.1 569.1H187.2V570.9L184.7 572.1L182.2 570.9Z" fill="rgb(243,211,63)"/>
<path d="M189.7 569.1H191.4L191.7 569.6L192.1 569.1H193.7V570.9L191.7 572.1L189.7 570.9Z" fill="rgb(241,176,70)"/>
<path d="M196.0 569.1H198.8L199.3 569.6L199.8 569.1H202.6V570.9L199.3 572.1L196.0 570.9Z" fill="rgb(151,205,120)"/>
<path d="M202.6 569.1H204.2L204.5 569.6L204.8 569.1H206.4V570.9L204.5 572.1L202.6 570.9Z" fill="rgb(227,135,176)"/>
<path d="M208.8 569.1H210.7L211.1 569.6L211.4 569.1H213.3V570.9L211.1 572.1L208.8 570.9Z" fill="rgb(243,201,164)"/>
<path d="M213.9 569.1H215.9L216.3 569.6L216.7 569.1H218.7V570.9L216.3 572.1L213.9 570.9Z" fill="rgb(131,122,189)"/>
<path d="M118.5 575.8H120.4L120.7 576.3L121.1 575.8H122.9V577.6L120.7 578.8L118.5 577.6Z" fill="rgb(214,45,80)"/>
<path d="M162.9 575.8H164.8L165.1 576.3L165.5 575.8H167.3V577.6L165.1 578.8L162.9 577.6Z" fill="rgb(177,174,211)"/>
<path d="M173.9 575.8H175.6L175.9 576.3L176.2 575.8H177.9V577.6L175.9 578.8L173.9 577.6Z" fill="rgb(211,229,164)"/>
<path d="M177.8 575.8H179.4L179.7 576.3L180.0 575.8H181.6V577.6L179.7 578.8L177.8 577.6Z" fill="rgb(82,164,165)"/>
<path d="M182.2 575.8H184.3L184.7 576.3L185.1 575.8H187.2V577.6L184.7 578.8L182.2 577.6Z" fill="rgb(243,211,63)"/>
<path d="M190.7 575.8H192.4L192.7 576.3L193.1 575.8H194.7V577.6L192.7 578.8L190.7 577.6Z" fill="rgb(241,176,70)"/>
<path d="M196.0 575.8H198.8L199.3 576.3L199.8 575.8H202.6V577.6L199.3 578.8L196.0 577.6Z" fill="rgb(151,205,120)"/>
<path d="M202.6 575.8H204.2L204.5 576.3L204.8 575.8H206.4V577.6L204.5 578.8L202.6 577.6Z" fill="rgb(227,135,176)"/>
<path d="M210.1 575.8H211.9L212.3 576.3L212.7 575.8H214.6V577.6L212.3 578.8L210.1 577.6Z" fill="rgb(243,201,164)"/>
<path d="M118.5 582.5H120.4L120.7 583.0L121.1 582.5H122.9V584.3L120.7 585.5L118.5 584.3Z" fill="rgb(214,45,80)"/>
<path d="M162.4 582.5H164.3L164.6 583.0L165.0 582.5H166.8V584.3L164.6 585.5L162.4 584.3Z" fill="rgb(177,174,211)"/>
<path d="M173.9 582.5H175.6L175.9 583.0L176.2 582.5H177.9V584.3L175.9 585.5L173.9 584.3Z" fill="rgb(211,229,164)"/>
<path d="M177.8 582.5H179.4L179.7 583.0L180.0 582.5H181.6V584.3L179.7 585.5L177.8 584.3Z" fill="rgb(82,164,165)"/>
<path d="M182.2 582.5H184.3L184.7 583.0L185.1 582.5H187.2V584.3L184.7 585.5L182.2 584.3Z" fill="rgb(243,211,63)"/>
<path d="M191.5 582.5H193.2L193.5 583.0L193.8 582.5H195.5V584.3L193.5 585.5L191.5 584.3Z" fill="rgb(241,176,70)"/>
<path d="M197.3 582.5H200.0L200.6 583.0L201.1 582.5H203.9V584.3L200.6 585.5L197.3 584.3Z" fill="rgb(151,205,120)"/>
<path d="M203.9 582.5H205.4L205.8 583.0L206.1 582.5H207.7V584.3L205.8 585.5L203.9 584.3Z" fill="rgb(227,135,176)"/>
<path d="M210.1 582.5H211.9L212.3 583.0L212.7 582.5H214.6V584.3L212.3 585.5L210.1 584.3Z" fill="rgb(243,201,164)"/>
<path d="M216.2 582.5H218.2L218.6 583.0L219.0 582.5H221.0V584.3L218.6 585.5L216.2 584.3Z" fill="rgb(131,122,189)"/>
<path d="M118.5 589.2H120.4L120.7 589.7L121.1 589.2H122.9V591.0L120.7 592.2L118.5 591.0Z" fill="rgb(214,45,80)"/>
<path d="M163.7 589.2H165.5L165.9 589.7L166.2 589.2H168.1V591.0L165.9 592.2L163.7 591.0Z" fill="rgb(177,174,211)"/>
<path d="M175.7 589.2H177.4L177.7 589.7L178.0 589.2H179.7V591.0L177.7 592.2L175.7 591.0Z" fill="rgb(211,229,164)"/>
<path d="M179.8 589.2H181.4L181.7 589.7L182.0 589.2H183.6V591.0L181.7 592.2L179.8 591.0Z" fill="rgb(82,164,165)"/>
<path d="M184.2 589.2H186.3L186.7 589.7L187.1 589.2H189.2V591.0L186.7 592.2L184.2 591.0Z" fill="rgb(243,211,63)"/>
<path d="M194.8 589.2H196.4L196.8 589.7L197.1 589.2H198.8V591.0L196.8 592.2L194.8 591.0Z" fill="rgb(241,176,70)"/>
<path d="M199.8 589.2H202.5L203.1 589.7L203.6 589.2H206.4V591.0L203.1 592.2L199.8 591.0Z" fill="rgb(151,205,120)"/>
<path d="M206.4 589.2H208.0L208.3 589.7L208.6 589.2H210.2V591.0L208.3 592.2L206.4 591.0Z" fill="rgb(227,135,176)"/>
<path d="M213.8 589.2H215.7L216.1 589.7L216.4 589.2H218.3V591.0L216.1 592.2L213.8 591.0Z" fill="rgb(243,201,164)"/>
<path d="M220.4 589.2H222.5L222.8 589.7L223.2 589.2H225.2V591.0L222.8 592.2L220.4 591.0Z" fill="rgb(131,122,189)"/>
<path d="M119.8 595.9H121.6L122.0 596.4L122.3 595.9H124.2V597.7L122.0 598.9L119.8 597.7Z" fill="rgb(214,45,80)"/>
<path d="M146.1 595.9H148.0L148.3 596.4L148.7 595.9H150.5V597.7L148.3 598.9L146.1 597.7Z" fill="rgb(177,174,211)"/>
<path d="M163.7 595.9H165.5L165.9 596.4L166.2 595.9H168.1V597.7L165.9 598.9L163.7 597.7Z" fill="rgb(177,174,211)"/>
<path d="M174.7 595.9H176.4L176.7 596.4L177.0 595.9H178.7V597.7L176.7 598.9L174.7 597.7Z" fill="rgb(211,229,164)"/>
<path d="M178.3 595.9H179.9L180.2 596.4L180.5 595.9H182.1V597.7L180.2 598.9L178.3 597.7Z" fill="rgb(82,164,165)"/>
<path d="M182.7 595.9H184.8L185.2 596.4L185.6 595.9H187.7V597.7L185.2 598.9L182.7 597.7Z" fill="rgb(243,211,63)"/>
<path d="M192.7 595.9H194.4L194.7 596.4L195.1 595.9H196.7V597.7L194.7 598.9L192.7 597.7Z" fill="rgb(241,176,70)"/>
<path d="M198.5 595.9H201.3L201.8 596.4L202.3 595.9H205.1V597.7L201.8 598.9L198.5 597.7Z" fill="rgb(151,205,120)"/>
<path d="M205.1 595.9H206.7L207.0 596.4L207.3 595.9H208.9V597.7L207.0 598.9L205.1 597.7Z" fill="rgb(227,135,176)"/>
<path d="M211.3 595.9H213.2L213.6 596.4L213.9 595.9H215.8V597.7L213.6 598.9L211.3 597.7Z" fill="rgb(243,201,164)"/>
<path d="M217.9 595.9H220.0L220.3 596.4L220.7 595.9H222.7V597.7L220.3 598.9L217.9 597.7Z" fill="rgb(131,122,189)"/>
<path d="M118.5 602.7H120.4L120.7 603.2L121.1 602.7H122.9V604.5L120.7 605.7L118.5 604.5Z" fill="rgb(214,45,80)"/>
<path d="M162.7 602.7H164.5L164.9 603.2L165.2 602.7H167.1V604.5L164.9 605.7L162.7 604.5Z" fill="rgb(177,174,211)"/>
<path d="M174.2 602.7H175.9L176.2 603.2L176.5 602.7H178.2V604.5L176.2 605.7L174.2 604.5Z" fill="rgb(211,229,164)"/>
<path d="M177.8 602.7H179.4L179.7 603.2L180.0 602.7H181.6V604.5L179.7 605.7L177.8 604.5Z" fill="rgb(82,164,165)"/>
<path d="M182.5 602.7H184.6L185.0 603.2L185.4 602.7H187.5V604.5L185.0 605.7L182.5 604.5Z" fill="rgb(243,211,63)"/>
<path d="M190.7 602.7H192.4L192.7 603.2L193.1 602.7H194.7V604.5L192.7 605.7L190.7 604.5Z" fill="rgb(241,176,70)"/>
<path d="M196.5 602.7H199.3L199.8 603.2L200.3 602.7H203.1V604.5L199.8 605.7L196.5 604.5Z" fill="rgb(151,205,120)"/>
<path d="M203.1 602.7H204.7L205.0 603.2L205.3 602.7H206.9V604.5L205.0 605.7L203.1 604.5Z" fill="rgb(227,135,176)"/>
<path d="M209.8 602.7H211.7L212.1 603.2L212.4 602.7H214.3V604.5L212.1 605.7L209.8 604.5Z" fill="rgb(243,201,164)"/>
<path d="M216.2 602.7H218.2L218.6 603.2L219.0 602.7H221.0V604.5L218.6 605.7L216.2 604.5Z" fill="rgb(131,122,189)"/>
<path d="M119.0 609.4H120.9L121.2 609.9L121.6 609.4H123.4V611.2L121.2 612.4L119.0 611.2Z" fill="rgb(214,45,80)"/>
<path d="M148.4 609.4H150.5L150.8 609.9L151.2 609.4H153.2V611.2L150.8 612.4L148.4 611.2Z" fill="rgb(131,122,189)"/>
<path d="M162.7 609.4H164.5L164.9 609.9L165.2 609.4H167.1V611.2L164.9 612.4L162.7 611.2Z" fill="rgb(177,174,211)"/>
<path d="M174.7 609.4H176.4L176.7 609.9L177.0 609.4H178.7V611.2L176.7 612.4L174.7 611.2Z" fill="rgb(211,229,164)"/>
<path d="M178.3 609.4H179.9L180.2 609.9L180.5 609.4H182.1V611.2L180.2 612.4L178.3 611.2Z" fill="rgb(82,164,165)"/>
<path d="M182.7 609.4H184.8L185.2 609.9L185.6 609.4H187.7V611.2L185.2 612.4L182.7 611.2Z" fill="rgb(243,211,63)"/>
<path d="M190.7 609.4H192.4L192.7 609.9L193.1 609.4H194.7V611.2L192.7 612.4L190.7 611.2Z" fill="rgb(241,176,70)"/>
<path d="M196.0 609.4H198.8L199.3 609.9L199.8 609.4H202.6V611.2L199.3 612.4L196.0 611.2Z" fill="rgb(151,205,120)"/>
<path d="M202.6 609.4H204.2L204.5 609.9L204.8 609.4H206.4V611.2L204.5 612.4L202.6 611.2Z" fill="rgb(227,135,176)"/>
<path d="M210.1 609.4H211.9L212.3 609.9L212.7 609.4H214.6V611.2L212.3 612.4L210.1 611.2Z" fill="rgb(243,201,164)"/>
<path d="M216.9 609.4H218.9L219.3 609.9L219.7 609.4H221.7V611.2L219.3 612.4L216.9 611.2Z" fill="rgb(131,122,189)"/>
<path d="M119.3 616.1H121.1L121.5 616.6L121.8 616.1H123.7V617.9L121.5 619.1L119.3 617.9Z" fill="rgb(214,45,80)"/>
<path d="M161.9 616.1H163.8L164.1 616.6L164.5 616.1H166.3V617.9L164.1 619.1L161.9 617.9Z" fill="rgb(177,174,211)"/>
<path d="M172.7 616.1H174.4L174.7 616.6L175.0 616.1H176.7V617.9L174.7 619.1L172.7 617.9Z" fill="rgb(211,229,164)"/>
<path d="M176.5 616.1H178.1L178.4 616.6L178.7 616.1H180.3V617.9L178.4 619.1L176.5 617.9Z" fill="rgb(82,164,165)"/>
<path d="M181.7 616.1H183.8L184.2 616.6L184.6 616.1H186.7V617.9L184.2 619.1L181.7 617.9Z" fill="rgb(243,211,63)"/>
<path d="M190.2 616.1H191.9L192.2 616.6L192.6 616.1H194.2V617.9L192.2 619.1L190.2 617.9Z" fill="rgb(241,176,70)"/>
<path d="M195.2 616.1H198.0L198.5 616.6L199.1 616.1H201.8V617.9L198.5 619.1L195.2 617.9Z" fill="rgb(151,205,120)"/>
<path d="M201.8 616.1H203.4L203.7 616.6L204.1 616.1H205.6V617.9L203.7 619.1L201.8 617.9Z" fill="rgb(227,135,176)"/>
<path d="M208.8 616.1H210.7L211.1 616.6L211.4 616.1H213.3V617.9L211.1 619.1L208.8 617.9Z" fill="rgb(243,201,164)"/>
<path d="M214.4 616.1H216.4L216.8 616.6L217.2 616.1H219.2V617.9L216.8 619.1L214.4 617.9Z" fill="rgb(131,122,189)"/>
<path d="M119.3 622.8H121.1L121.5 623.3L121.8 622.8H123.7V624.6L121.5 625.8L119.3 624.6Z" fill="rgb(214,45,80)"/>
<path d="M161.9 622.8H163.8L164.1 623.3L164.5 622.8H166.3V624.6L164.1 625.8L161.9 624.6Z" fill="rgb(177,174,211)"/>
<path d="M172.7 622.8H174.4L174.7 623.3L175.0 622.8H176.7V624.6L174.7 625.8L172.7 624.6Z" fill="rgb(211,229,164)"/>
<path d="M176.5 622.8H178.1L178.4 623.3L178.7 622.8H180.3V624.6L178.4 625.8L176.5 624.6Z" fill="rgb(82,164,165)"/>
<path d="M181.7 622.8H183.8L184.2 623.3L184.6 622.8H186.7V624.6L184.2 625.8L181.7 624.6Z" fill="rgb(243,211,63)"/>
<path d="M189.7 622.8H191.4L191.7 623.3L192.1 622.8H193.7V624.6L191.7 625.8L189.7 624.6Z" fill="rgb(241,176,70)"/>
<path d="M195.2 622.8H198.0L198.5 623.3L199.1 622.8H201.8V624.6L198.5 625.8L195.2 624.6Z" fill="rgb(151,205,120)"/>
<path d="M201.8 622.8H203.4L203.7 623.3L204.1 622.8H205.6V624.6L203.7 625.8L201.8 624.6Z" fill="rgb(227,135,176)"/>
<path d="M208.8 622.8H210.7L211.1 623.3L211.4 622.8H213.3V624.6L211.1 625.8L208.8 624.6Z" fill="rgb(243,201,164)"/>
<path d="M214.4 622.8H216.4L216.8 623.3L217.2 622.8H219.2V624.6L216.8 625.8L214.4 624.6Z" fill="rgb(131,122,189)"/>
<path d="M118.5 629.5H120.4L120.7 630.0L121.1 629.5H122.9V631.3L120.7 632.5L118.5 631.3Z" fill="rgb(214,45,80)"/>
<path d="M161.9 629.5H163.8L164.1 630.0L164.5 629.5H166.3V631.3L164.1 632.5L161.9 631.3Z" fill="rgb(177,174,211)"/>
<path d="M172.7 629.5H174.4L174.7 630.0L175.0 629.5H176.7V631.3L174.7 632.5L172.7 631.3Z" fill="rgb(211,229,164)"/>
<path d="M176.5 629.5H178.1L178.4 630.0L178.7 629.5H180.3V631.3L178.4 632.5L176.5 631.3Z" fill="rgb(82,164,165)"/>
<path d="M181.7 629.5H183.8L184.2 630.0L184.6 629.5H186.7V631.3L184.2 632.5L181.7 631.3Z" fill="rgb(243,211,63)"/>
<path d="M189.7 629.5H191.4L191.7 630.0L192.1 629.5H193.7V631.3L191.7 632.5L189.7 631.3Z" fill="rgb(241,176,70)"/>
<path d="M194.7 629.5H197.5L198.0 630.0L198.6 629.5H201.3V631.3L198.0 632.5L194.7 631.3Z" fill="rgb(151,205,120)"/>
<path d="M201.3 629.5H202.9L203.2 630.0L203.5 629.5H205.1V631.3L203.2 632.5L201.3 631.3Z" fill="rgb(227,135,176)"/>
<path d="M208.8 629.5H210.7L211.1 630.0L211.4 629.5H213.3V631.3L211.1 632.5L208.8 631.3Z" fill="rgb(243,201,164)"/>
<path d="M214.4 629.5H216.4L216.8 630.0L217.2 629.5H219.2V631.3L216.8 632.5L214.4 631.3Z" fill="rgb(131,122,189)"/>
<path d="M120.3 636.3H122.1L122.5 636.8L122.8 636.3H124.7V638.1L122.5 639.3L120.3 638.1Z" fill="rgb(214,45,80)"/>
<path d="M162.9 636.3H164.8L165.1 636.8L165.5 636.3H167.3V638.1L165.1 639.3L162.9 638.1Z" fill="rgb(177,174,211)"/>
<path d="M175.7 636.3H177.4L177.7 636.8L178.0 636.3H179.7V638.1L177.7 639.3L175.7 638.1Z" fill="rgb(211,229,164)"/>
<path d="M179.8 636.3H181.4L181.7 636.8L182.0 636.3H183.6V638.1L181.7 639.3L179.8 638.1Z" fill="rgb(82,164,165)"/>
<path d="M184.2 636.3H186.3L186.7 636.8L187.1 636.3H189.2V638.1L186.7 639.3L184.2 638.1Z" fill="rgb(243,211,63)"/>
<path d="M194.7 636.3H197.5L198.0 636.8L198.6 636.3H201.3V638.1L198.0 639.3L194.7 638.1Z" fill="rgb(151,205,120)"/>
<path d="M201.6 636.3H203.2L203.5 636.8L203.8 636.3H205.4V638.1L203.5 639.3L201.6 638.1Z" fill="rgb(227,135,176)"/>
<path d="M210.1 636.3H211.9L212.3 636.8L212.7 636.3H214.6V638.1L212.3 639.3L210.1 638.1Z" fill="rgb(243,201,164)"/>
<path d="M216.9 636.3H218.9L219.3 636.8L219.7 636.3H221.7V638.1L219.3 639.3L216.9 638.1Z" fill="rgb(131,122,189)"/>
<path d="M121.0 643.0H122.9L123.2 643.5L123.6 643.0H125.4V644.8L123.2 646.0L121.0 644.8Z" fill="rgb(214,45,80)"/>
<path d="M167.0 643.0H168.8L169.2 643.5L169.5 643.0H171.4V644.8L169.2 646.0L167.0 644.8Z" fill="rgb(177,174,211)"/>
<path d="M176.4 643.0H178.1L178.4 643.5L178.8 643.0H180.4V644.8L178.4 646.0L176.4 644.8Z" fill="rgb(211,229,164)"/>
<path d="M180.3 643.0H181.9L182.2 643.5L182.5 643.0H184.1V644.8L182.2 646.0L180.3 644.8Z" fill="rgb(82,164,165)"/>
<path d="M184.7 643.0H186.8L187.2 643.5L187.6 643.0H189.7V644.8L187.2 646.0L184.7 644.8Z" fill="rgb(243,211,63)"/>
<path d="M190.7 643.0H192.4L192.7 643.5L193.1 643.0H194.7V644.8L192.7 646.0L190.7 644.8Z" fill="rgb(241,176,70)"/>
<path d="M197.3 643.0H200.0L200.6 643.5L201.1 643.0H203.9V644.8L200.6 646.0L197.3 644.8Z" fill="rgb(151,205,120)"/>
<path d="M203.9 643.0H205.4L205.8 643.5L206.1 643.0H207.7V644.8L205.8 646.0L203.9 644.8Z" fill="rgb(227,135,176)"/>
<path d="M212.1 643.0H214.0L214.3 643.5L214.7 643.0H216.6V644.8L214.3 646.0L212.1 644.8Z" fill="rgb(243,201,164)"/>
<path d="M122.3 649.7H124.1L124.5 650.2L124.9 649.7H126.7V651.5L124.5 652.7L122.3 651.5Z" fill="rgb(214,45,80)"/>
<path d="M168.7 649.7H170.6L170.9 650.2L171.3 649.7H173.1V651.5L170.9 652.7L168.7 651.5Z" fill="rgb(177,174,211)"/>
<path d="M180.7 649.7H182.4L182.7 650.2L183.0 649.7H184.7V651.5L182.7 652.7L180.7 651.5Z" fill="rgb(211,229,164)"/>
<path d="M184.1 649.7H185.7L186.0 650.2L186.3 649.7H187.9V651.5L186.0 652.7L184.1 651.5Z" fill="rgb(82,164,165)"/>
<path d="M188.5 649.7H190.6L191.0 650.2L191.4 649.7H193.5V651.5L191.0 652.7L188.5 651.5Z" fill="rgb(243,211,63)"/>
<path d="M196.5 649.7H198.2L198.5 650.2L198.8 649.7H200.5V651.5L198.5 652.7L196.5 651.5Z" fill="rgb(241,176,70)"/>
<path d="M201.8 649.7H204.5L205.1 650.2L205.6 649.7H208.4V651.5L205.1 652.7L201.8 651.5Z" fill="rgb(151,205,120)"/>
<path d="M208.4 649.7H210.0L210.3 650.2L210.6 649.7H212.2V651.5L210.3 652.7L208.4 651.5Z" fill="rgb(227,135,176)"/>
<path d="M215.1 649.7H217.0L217.3 650.2L217.7 649.7H219.6V651.5L217.3 652.7L215.1 651.5Z" fill="rgb(243,201,164)"/>
<path d="M221.2 649.7H223.2L223.6 650.2L224.0 649.7H226.0V651.5L223.6 652.7L221.2 651.5Z" fill="rgb(131,122,189)"/>
<path d="M119.8 656.4H121.6L122.0 656.9L122.3 656.4H124.2V658.2L122.0 659.4L119.8 658.2Z" fill="rgb(214,45,80)"/>
<path d="M161.4 656.4H163.1L163.4 656.9L163.7 656.4H165.4V658.2L163.4 659.4L161.4 658.2Z" fill="rgb(241,176,70)"/>
<path d="M166.2 656.4H168.1L168.4 656.9L168.8 656.4H170.6V658.2L168.4 659.4L166.2 658.2Z" fill="rgb(177,174,211)"/>
<path d="M176.4 656.4H178.1L178.4 656.9L178.8 656.4H180.4V658.2L178.4 659.4L176.4 658.2Z" fill="rgb(211,229,164)"/>
<path d="M180.3 656.4H181.9L182.2 656.9L182.5 656.4H184.1V658.2L182.2 659.4L180.3 658.2Z" fill="rgb(82,164,165)"/>
<path d="M184.7 656.4H186.8L187.2 656.9L187.6 656.4H189.7V658.2L187.2 659.4L184.7 658.2Z" fill="rgb(243,211,63)"/>
<path d="M190.7 656.4H192.4L192.7 656.9L193.1 656.4H194.7V658.2L192.7 659.4L190.7 658.2Z" fill="rgb(241,176,70)"/>
<path d="M197.3 656.4H200.0L200.6 656.9L201.1 656.4H203.9V658.2L200.6 659.4L197.3 658.2Z" fill="rgb(151,205,120)"/>
<path d="M203.9 656.4H205.4L205.8 656.9L206.1 656.4H207.7V658.2L205.8 659.4L203.9 658.2Z" fill="rgb(227,135,176)"/>
<path d="M210.1 656.4H211.9L212.3 656.9L212.7 656.4H214.6V658.2L212.3 659.4L210.1 658.2Z" fill="rgb(243,201,164)"/>
<path d="M216.2 656.4H218.2L218.6 656.9L219.0 656.4H221.0V658.2L218.6 659.4L216.2 658.2Z" fill="rgb(131,122,189)"/>
<path d="M119.5 663.1H121.4L121.7 663.6L122.1 663.1H123.9V664.9L121.7 666.1L119.5 664.9Z" fill="rgb(214,45,80)"/>
<path d="M126.0 663.1H127.9L128.3 663.6L128.6 663.1H130.5V664.9L128.3 666.1L126.0 664.9Z" fill="rgb(243,201,164)"/>
<path d="M142.9 663.1H144.7L145.1 663.6L145.4 663.1H147.3V664.9L145.1 666.1L142.9 664.9Z" fill="rgb(177,174,211)"/>
<path d="M161.2 663.1H163.0L163.4 663.6L163.7 663.1H165.6V664.9L163.4 666.1L161.2 664.9Z" fill="rgb(177,174,211)"/>
<path d="M172.2 663.1H173.9L174.2 663.6L174.5 663.1H176.2V664.9L174.2 666.1L172.2 664.9Z" fill="rgb(211,229,164)"/>
<path d="M176.0 663.1H177.6L177.9 663.6L178.2 663.1H179.8V664.9L177.9 666.1L176.0 664.9Z" fill="rgb(82,164,165)"/>
<path d="M181.0 663.1H183.1L183.5 663.6L183.9 663.1H186.0V664.9L183.5 666.1L181.0 664.9Z" fill="rgb(243,211,63)"/>
<path d="M189.7 663.1H191.4L191.7 663.6L192.1 663.1H193.7V664.9L191.7 666.1L189.7 664.9Z" fill="rgb(241,176,70)"/>
<path d="M194.2 663.1H197.0L197.5 663.6L198.1 663.1H200.8V664.9L197.5 666.1L194.2 664.9Z" fill="rgb(151,205,120)"/>
<path d="M200.8 663.1H202.4L202.7 663.6L203.0 663.1H204.6V664.9L202.7 666.1L200.8 664.9Z" fill="rgb(227,135,176)"/>
<path d="M208.3 663.1H210.2L210.6 663.6L210.9 663.1H212.8V664.9L210.6 666.1L208.3 664.9Z" fill="rgb(243,201,164)"/>
<path d="M214.7 663.1H216.7L217.1 663.6L217.5 663.1H219.5V664.9L217.1 666.1L214.7 664.9Z" fill="rgb(131,122,189)"/>
<path d="M119.8 669.8H121.6L122.0 670.3L122.3 669.8H124.2V671.6L122.0 672.8L119.8 671.6Z" fill="rgb(214,45,80)"/>
<path d="M167.5 669.8H169.3L169.7 670.3L170.0 669.8H171.9V671.6L169.7 672.8L167.5 671.6Z" fill="rgb(177,174,211)"/>
<path d="M176.7 669.8H178.4L178.7 670.3L179.0 669.8H180.7V671.6L178.7 672.8L176.7 671.6Z" fill="rgb(211,229,164)"/>
<path d="M180.8 669.8H182.4L182.7 670.3L183.0 669.8H184.6V671.6L182.7 672.8L180.8 671.6Z" fill="rgb(82,164,165)"/>
<path d="M185.0 669.8H187.1L187.5 670.3L187.9 669.8H190.0V671.6L187.5 672.8L185.0 671.6Z" fill="rgb(243,211,63)"/>
<path d="M190.2 669.8H191.9L192.2 670.3L192.6 669.8H194.2V671.6L192.2 672.8L190.2 671.6Z" fill="rgb(241,176,70)"/>
<path d="M198.5 669.8H201.3L201.8 670.3L202.3 669.8H205.1V671.6L201.8 672.8L198.5 671.6Z" fill="rgb(151,205,120)"/>
<path d="M205.1 669.8H206.7L207.0 670.3L207.3 669.8H208.9V671.6L207.0 672.8L205.1 671.6Z" fill="rgb(227,135,176)"/>
<path d="M213.8 669.8H215.7L216.1 670.3L216.4 669.8H218.3V671.6L216.1 672.8L213.8 671.6Z" fill="rgb(243,201,164)"/>
<path d="M220.4 669.8H222.5L222.8 670.3L223.2 669.8H225.2V671.6L222.8 672.8L220.4 671.6Z" fill="rgb(131,122,189)"/>
<path d="M119.8 676.6H121.6L122.0 677.1L122.3 676.6H124.2V678.4L122.0 679.6L119.8 678.4Z" fill="rgb(214,45,80)"/>
<path d="M166.2 676.6H168.1L168.4 677.1L168.8 676.6H170.6V678.4L168.4 679.6L166.2 678.4Z" fill="rgb(177,174,211)"/>
<path d="M177.2 676.6H178.9L179.2 677.1L179.5 676.6H181.2V678.4L179.2 679.6L177.2 678.4Z" fill="rgb(211,229,164)"/>
<path d="M181.1 676.6H182.6L183.0 677.1L183.3 676.6H184.9V678.4L183.0 679.6L181.1 678.4Z" fill="rgb(82,164,165)"/>
<path d="M185.5 676.6H187.6L188.0 677.1L188.4 676.6H190.5V678.4L188.0 679.6L185.5 678.4Z" fill="rgb(243,211,63)"/>
<path d="M191.5 676.6H193.2L193.5 677.1L193.8 676.6H195.5V678.4L193.5 679.6L191.5 678.4Z" fill="rgb(241,176,70)"/>
<path d="M198.0 676.6H200.8L201.3 677.1L201.8 676.6H204.6V678.4L201.3 679.6L198.0 678.4Z" fill="rgb(151,205,120)"/>
<path d="M204.6 676.6H206.2L206.5 677.1L206.8 676.6H208.4V678.4L206.5 679.6L204.6 678.4Z" fill="rgb(227,135,176)"/>
<path d="M213.6 676.6H215.5L215.8 677.1L216.2 676.6H218.1V678.4L215.8 679.6L213.6 678.4Z" fill="rgb(243,201,164)"/>
<path d="M220.7 676.6H222.7L223.1 677.1L223.5 676.6H225.5V678.4L223.1 679.6L220.7 678.4Z" fill="rgb(131,122,189)"/>
<path d="M122.0 683.3H123.9L124.2 683.8L124.6 683.3H126.4V685.1L124.2 686.3L122.0 685.1Z" fill="rgb(214,45,80)"/>
<path d="M166.5 683.3H168.3L168.7 683.8L169.0 683.3H170.9V685.1L168.7 686.3L166.5 685.1Z" fill="rgb(177,174,211)"/>
<path d="M177.4 683.3H179.1L179.4 683.8L179.8 683.3H181.4V685.1L179.4 686.3L177.4 685.1Z" fill="rgb(211,229,164)"/>
<path d="M181.6 683.3H183.2L183.5 683.8L183.8 683.3H185.4V685.1L183.5 686.3L181.6 685.1Z" fill="rgb(82,164,165)"/>
<path d="M186.0 683.3H188.1L188.5 683.8L188.9 683.3H191.0V685.1L188.5 686.3L186.0 685.1Z" fill="rgb(243,211,63)"/>
<path d="M193.2 683.3H194.9L195.2 683.8L195.6 683.3H197.2V685.1L195.2 686.3L193.2 685.1Z" fill="rgb(241,176,70)"/>
<path d="M198.5 683.3H201.3L201.8 683.8L202.3 683.3H205.1V685.1L201.8 686.3L198.5 685.1Z" fill="rgb(151,205,120)"/>
<path d="M205.1 683.3H206.7L207.0 683.8L207.3 683.3H208.9V685.1L207.0 686.3L205.1 685.1Z" fill="rgb(227,135,176)"/>
<path d="M120.3 690.0H122.1L122.5 690.5L122.8 690.0H124.7V691.8L122.5 693.0L120.3 691.8Z" fill="rgb(214,45,80)"/>
<path d="M165.4 690.0H167.3L167.6 690.5L168.0 690.0H169.8V691.8L167.6 693.0L165.4 691.8Z" fill="rgb(177,174,211)"/>
<path d="M175.7 690.0H177.4L177.7 690.5L178.0 690.0H179.7V691.8L177.7 693.0L175.7 691.8Z" fill="rgb(211,229,164)"/>
<path d="M180.3 690.0H181.9L182.2 690.5L182.5 690.0H184.1V691.8L182.2 693.0L180.3 691.8Z" fill="rgb(82,164,165)"/>
<path d="M184.7 690.0H186.8L187.2 690.5L187.6 690.0H189.7V691.8L187.2 693.0L184.7 691.8Z" fill="rgb(243,211,63)"/>
<path d="M191.5 690.0H193.2L193.5 690.5L193.8 690.0H195.5V691.8L193.5 693.0L191.5 691.8Z" fill="rgb(241,176,70)"/>
<path d="M198.5 690.0H201.3L201.8 690.5L202.3 690.0H205.1V691.8L201.8 693.0L198.5 691.8Z" fill="rgb(151,205,120)"/>
<path d="M205.1 690.0H206.7L207.0 690.5L207.3 690.0H208.9V691.8L207.0 693.0L205.1 691.8Z" fill="rgb(227,135,176)"/>
<path d="M211.3 690.0H213.2L213.6 690.5L213.9 690.0H215.8V691.8L213.6 693.0L211.3 691.8Z" fill="rgb(243,201,164)"/>
<path d="M217.9 690.0H220.0L220.3 690.5L220.7 690.0H222.7V691.8L220.3 693.0L217.9 691.8Z" fill="rgb(131,122,189)"/>
<path d="M118.5 696.7H120.4L120.7 697.2L121.1 696.7H122.9V698.5L120.7 699.7L118.5 698.5Z" fill="rgb(214,45,80)"/>
<path d="M140.4 696.7H142.2L142.6 697.2L142.9 696.7H144.8V698.5L142.6 699.7L140.4 698.5Z" fill="rgb(177,174,211)"/>
<path d="M161.2 696.7H163.0L163.4 697.2L163.7 696.7H165.6V698.5L163.4 699.7L161.2 698.5Z" fill="rgb(177,174,211)"/>
<path d="M172.7 696.7H174.4L174.7 697.2L175.0 696.7H176.7V698.5L174.7 699.7L172.7 698.5Z" fill="rgb(211,229,164)"/>
<path d="M176.5 696.7H178.1L178.4 697.2L178.7 696.7H180.3V698.5L178.4 699.7L176.5 698.5Z" fill="rgb(82,164,165)"/>
<path d="M181.0 696.7H183.1L183.5 697.2L183.9 696.7H186.0V698.5L183.5 699.7L181.0 698.5Z" fill="rgb(243,211,63)"/>
<path d="M187.7 696.7H189.4L189.7 697.2L190.0 696.7H191.7V698.5L189.7 699.7L187.7 698.5Z" fill="rgb(241,176,70)"/>
<path d="M193.5 696.7H196.3L196.8 697.2L197.3 696.7H200.1V698.5L196.8 699.7L193.5 698.5Z" fill="rgb(151,205,120)"/>
<path d="M200.1 696.7H201.7L202.0 697.2L202.3 696.7H203.9V698.5L202.0 699.7L200.1 698.5Z" fill="rgb(227,135,176)"/>
<path d="M207.5 696.7H209.4L209.8 697.2L210.2 696.7H212.0V698.5L209.8 699.7L207.5 698.5Z" fill="rgb(243,201,164)"/>
<path d="M214.4 696.7H216.4L216.8 697.2L217.2 696.7H219.2V698.5L216.8 699.7L214.4 698.5Z" fill="rgb(131,122,189)"/>
<path d="M118.5 703.4H120.4L120.7 703.9L121.1 703.4H122.9V705.2L120.7 706.4L118.5 705.2Z" fill="rgb(214,45,80)"/>
<path d="M162.4 703.4H164.3L164.6 703.9L165.0 703.4H166.8V705.2L164.6 706.4L162.4 705.2Z" fill="rgb(177,174,211)"/>
<path d="M173.9 703.4H175.6L175.9 703.9L176.2 703.4H177.9V705.2L175.9 706.4L173.9 705.2Z" fill="rgb(211,229,164)"/>
<path d="M177.8 703.4H179.4L179.7 703.9L180.0 703.4H181.6V705.2L179.7 706.4L177.8 705.2Z" fill="rgb(82,164,165)"/>
<path d="M182.7 703.4H184.8L185.2 703.9L185.6 703.4H187.7V705.2L185.2 706.4L182.7 705.2Z" fill="rgb(243,211,63)"/>
<path d="M190.2 703.4H191.9L192.2 703.9L192.6 703.4H194.2V705.2L192.2 706.4L190.2 705.2Z" fill="rgb(241,176,70)"/>
<path d="M196.0 703.4H198.8L199.3 703.9L199.8 703.4H202.6V705.2L199.3 706.4L196.0 705.2Z" fill="rgb(151,205,120)"/>
<path d="M202.6 703.4H204.2L204.5 703.9L204.8 703.4H206.4V705.2L204.5 706.4L202.6 705.2Z" fill="rgb(227,135,176)"/>
<path d="M211.3 703.4H213.2L213.6 703.9L213.9 703.4H215.8V705.2L213.6 706.4L211.3 705.2Z" fill="rgb(243,201,164)"/>
<path d="M217.9 703.4H220.0L220.3 703.9L220.7 703.4H222.7V705.2L220.3 706.4L217.9 705.2Z" fill="rgb(131,122,189)"/>
<path d="M118.5 710.1H120.4L120.7 710.6L121.1 710.1H122.9V711.9L120.7 713.1L118.5 711.9Z" fill="rgb(214,45,80)"/>
<path d="M162.9 710.1H164.8L165.1 710.6L165.5 710.1H167.3V711.9L165.1 713.1L162.9 711.9Z" fill="rgb(177,174,211)"/>
<path d="M174.7 710.1H176.4L176.7 710.6L177.0 710.1H178.7V711.9L176.7 713.1L174.7 711.9Z" fill="rgb(211,229,164)"/>
<path d="M179.0 710.1H180.6L180.9 710.6L181.3 710.1H182.8V711.9L180.9 713.1L179.0 711.9Z" fill="rgb(82,164,165)"/>
<path d="M183.5 710.1H185.6L186.0 710.6L186.4 710.1H188.5V711.9L186.0 713.1L183.5 711.9Z" fill="rgb(243,211,63)"/>
<path d="M190.2 710.1H191.9L192.2 710.6L192.6 710.1H194.2V711.9L192.2 713.1L190.2 711.9Z" fill="rgb(241,176,70)"/>
<path d="M196.0 710.1H198.8L199.3 710.6L199.8 710.1H202.6V711.9L199.3 713.1L196.0 711.9Z" fill="rgb(151,205,120)"/>
<path d="M202.6 710.1H204.2L204.5 710.6L204.8 710.1H206.4V711.9L204.5 713.1L202.6 711.9Z" fill="rgb(227,135,176)"/>
<path d="M211.3 710.1H213.2L213.6 710.6L213.9 710.1H215.8V711.9L213.6 713.1L211.3 711.9Z" fill="rgb(243,201,164)"/>
<path d="M216.9 710.1H218.9L219.3 710.6L219.7 710.1H221.7V711.9L219.3 713.1L216.9 711.9Z" fill="rgb(131,122,189)"/>
<path d="M118.5 716.9H120.4L120.7 717.4L121.1 716.9H122.9V718.7L120.7 719.9L118.5 718.7Z" fill="rgb(214,45,80)"/>
<path d="M141.1 716.9H143.0L143.3 717.4L143.7 716.9H145.5V718.7L143.3 719.9L141.1 718.7Z" fill="rgb(177,174,211)"/>
<path d="M162.9 716.9H164.8L165.1 717.4L165.5 716.9H167.3V718.7L165.1 719.9L162.9 718.7Z" fill="rgb(177,174,211)"/>
<path d="M174.7 716.9H176.4L176.7 717.4L177.0 716.9H178.7V718.7L176.7 719.9L174.7 718.7Z" fill="rgb(211,229,164)"/>
<path d="M179.0 716.9H180.6L180.9 717.4L181.3 716.9H182.8V718.7L180.9 719.9L179.0 718.7Z" fill="rgb(82,164,165)"/>
<path d="M183.5 716.9H185.6L186.0 717.4L186.4 716.9H188.5V718.7L186.0 719.9L183.5 718.7Z" fill="rgb(243,211,63)"/>
<path d="M190.7 716.9H192.4L192.7 717.4L193.1 716.9H194.7V718.7L192.7 719.9L190.7 718.7Z" fill="rgb(241,176,70)"/>
<path d="M196.8 716.9H199.5L200.1 717.4L200.6 716.9H203.4V718.7L200.1 719.9L196.8 718.7Z" fill="rgb(151,205,120)"/>
<path d="M203.4 716.9H204.9L205.3 717.4L205.6 716.9H207.2V718.7L205.3 719.9L203.4 718.7Z" fill="rgb(227,135,176)"/>
<path d="M211.3 716.9H213.2L213.6 717.4L213.9 716.9H215.8V718.7L213.6 719.9L211.3 718.7Z" fill="rgb(243,201,164)"/>
<path d="M216.9 716.9H218.9L219.3 717.4L219.7 716.9H221.7V718.7L219.3 719.9L216.9 718.7Z" fill="rgb(131,122,189)"/>
<path d="M118.5 723.6H120.4L120.7 724.1L121.1 723.6H122.9V725.4L120.7 726.6L118.5 725.4Z" fill="rgb(214,45,80)"/>
<path d="M163.7 723.6H165.5L165.9 724.1L166.2 723.6H168.1V725.4L165.9 726.6L163.7 725.4Z" fill="rgb(177,174,211)"/>
<path d="M175.7 723.6H177.4L177.7 724.1L178.0 723.6H179.7V725.4L177.7 726.6L175.7 725.4Z" fill="rgb(211,229,164)"/>
<path d="M179.8 723.6H181.4L181.7 724.1L182.0 723.6H183.6V725.4L181.7 726.6L179.8 725.4Z" fill="rgb(82,164,165)"/>
<path d="M184.2 723.6H186.3L186.7 724.1L187.1 723.6H189.2V725.4L186.7 726.6L184.2 725.4Z" fill="rgb(243,211,63)"/>
<path d="M190.7 723.6H192.4L192.7 724.1L193.1 723.6H194.7V725.4L192.7 726.6L190.7 725.4Z" fill="rgb(241,176,70)"/>
<path d="M197.3 723.6H200.0L200.6 724.1L201.1 723.6H203.9V725.4L200.6 726.6L197.3 725.4Z" fill="rgb(151,205,120)"/>
<path d="M203.9 723.6H205.4L205.8 724.1L206.1 723.6H207.7V725.4L205.8 726.6L203.9 725.4Z" fill="rgb(227,135,176)"/>
<path d="M211.3 723.6H213.2L213.6 724.1L213.9 723.6H215.8V725.4L213.6 726.6L211.3 725.4Z" fill="rgb(243,201,164)"/>
<path d="M217.9 723.6H220.0L220.3 724.1L220.7 723.6H222.7V725.4L220.3 726.6L217.9 725.4Z" fill="rgb(131,122,189)"/>
<path d="M159.9 730.3H161.8L162.1 730.8L162.5 730.3H164.3V732.1L162.1 733.3L159.9 732.1Z" fill="rgb(177,174,211)"/>
<path d="M170.2 730.3H171.8L172.2 730.8L172.5 730.3H174.2V732.1L172.2 733.3L170.2 732.1Z" fill="rgb(211,229,164)"/>
<path d="M174.8 730.3H176.4L176.7 730.8L177.0 730.3H178.6V732.1L176.7 733.3L174.8 732.1Z" fill="rgb(82,164,165)"/>
<path d="M179.2 730.3H181.3L181.7 730.8L182.1 730.3H184.2V732.1L181.7 733.3L179.2 732.1Z" fill="rgb(243,211,63)"/>
<path d="M184.7 730.3H186.4L186.7 730.8L187.0 730.3H188.7V732.1L186.7 733.3L184.7 732.1Z" fill="rgb(241,176,70)"/>
<path d="M190.2 730.3H193.0L193.5 730.8L194.1 730.3H196.8V732.1L193.5 733.3L190.2 732.1Z" fill="rgb(151,205,120)"/>
<path d="M196.8 730.3H198.4L198.7 730.8L199.0 730.3H200.6V732.1L198.7 733.3L196.8 732.1Z" fill="rgb(227,135,176)"/>
<path d="M206.3 730.3H208.2L208.5 730.8L208.9 730.3H210.8V732.1L208.5 733.3L206.3 732.1Z" fill="rgb(243,201,164)"/>
<path d="M212.4 730.3H214.4L214.8 730.8L215.2 730.3H217.2V732.1L214.8 733.3L212.4 732.1Z" fill="rgb(131,122,189)"/>
<path d="M159.9 737.0H161.8L162.1 737.5L162.5 737.0H164.3V738.8L162.1 740.0L159.9 738.8Z" fill="rgb(177,174,211)"/>
<path d="M170.2 737.0H171.8L172.2 737.5L172.5 737.0H174.2V738.8L172.2 740.0L170.2 738.8Z" fill="rgb(211,229,164)"/>
<path d="M174.8 737.0H176.4L176.7 737.5L177.0 737.0H178.6V738.8L176.7 740.0L174.8 738.8Z" fill="rgb(82,164,165)"/>
<path d="M179.2 737.0H181.3L181.7 737.5L182.1 737.0H184.2V738.8L181.7 740.0L179.2 738.8Z" fill="rgb(243,211,63)"/>
<path d="M184.7 737.0H186.4L186.7 737.5L187.0 737.0H188.7V738.8L186.7 740.0L184.7 738.8Z" fill="rgb(241,176,70)"/>
<path d="M190.2 737.0H193.0L193.5 737.5L194.1 737.0H196.8V738.8L193.5 740.0L190.2 738.8Z" fill="rgb(151,205,120)"/>
<path d="M196.8 737.0H198.4L198.7 737.5L199.0 737.0H200.6V738.8L198.7 740.0L196.8 738.8Z" fill="rgb(227,135,176)"/>
<path d="M203.0 737.0H204.9L205.3 737.5L205.6 737.0H207.5V738.8L205.3 740.0L203.0 738.8Z" fill="rgb(243,201,164)"/>
<path d="M210.4 737.0H212.4L212.8 737.5L213.2 737.0H215.2V738.8L212.8 740.0L210.4 738.8Z" fill="rgb(131,122,189)"/>
<path d="M120.3 25.7L121.5 27.4L122.7 25.7M164.2 25.7L165.4 27.4L166.6 25.7M174.8 25.7L175.9 27.4L177.0 25.7M178.1 25.7L179.2 27.4L180.3 25.7M183.3 25.7L184.7 27.4L186.1 25.7M198.2 25.7L200.1 27.4L201.9 25.7M204.2 25.7L205.3 27.4L206.3 25.7M210.3 25.7L211.6 27.4L212.8 25.7M118.2 32.4L119.5 34.1L120.7 32.4M166.7 32.4L167.9 34.1L169.1 32.4M178.1 32.4L179.2 34.1L180.3 32.4M182.8 32.4L184.2 34.1L185.6 32.4M187.4 32.4L188.5 34.1L189.6 32.4M194.2 32.4L196.0 34.1L197.9 32.4M200.2 32.4L201.2 34.1L202.3 32.4M208.0 32.4L209.3 34.1L210.6 32.4M128.8 39.1L130.0 40.8L131.3 39.1M176.0 39.1L177.2 40.8L178.4 39.1M184.8 39.1L186.0 40.8L187.1 39.1M188.7 39.1L189.7 40.8L190.8 39.1M192.8 39.1L194.2 40.8L195.6 39.1M197.4 39.1L198.5 40.8L199.6 39.1M203.2 39.1L205.1 40.8L206.9 39.1M211.7 39.1L212.8 40.8L213.9 39.1M219.3 39.1L220.6 40.8L221.8 39.1M120.3 45.9L121.5 47.6L122.7 45.9M166.4 45.9L167.6 47.6L168.9 45.9M175.6 45.9L176.7 47.6L177.8 45.9M178.6 45.9L179.7 47.6L180.8 45.9M183.3 45.9L184.7 47.6L186.1 45.9M190.6 45.9L191.7 47.6L192.9 45.9M196.2 45.9L198.0 47.6L199.9 45.9M202.5 45.9L203.5 47.6L204.6 45.9M210.5 45.9L211.8 47.6L213.1 45.9M120.3 52.6L121.5 54.3L122.7 52.6M166.4 52.6L167.6 54.3L168.9 52.6M175.6 52.6L176.7 54.3L177.8 52.6M178.6 52.6L179.7 54.3L180.8 52.6M183.3 52.6L184.7 54.3L186.1 52.6M190.6 52.6L191.7 54.3L192.9 52.6M196.2 52.6L198.0 54.3L199.9 52.6M202.5 52.6L203.5 54.3L204.6 52.6M210.5 52.6L211.8 54.3L213.1 52.6M120.8 59.3L122.0 61.0L123.2 59.3M155.9 59.3L157.1 61.0L158.3 59.3M165.5 59.3L166.6 61.0L167.8 59.3M169.8 59.3L170.9 61.0L172.0 59.3M174.5 59.3L175.9 61.0L177.3 59.3M181.6 59.3L182.7 61.0L183.8 59.3M187.4 59.3L189.3 61.0L191.1 59.3M193.7 59.3L194.7 61.0L195.8 59.3M201.0 59.3L202.3 61.0L203.5 59.3M133.3 66.0L134.5 67.7L135.8 66.0M174.7 66.0L175.9 67.7L177.2 66.0M184.8 66.0L186.0 67.7L187.1 66.0M188.7 66.0L189.7 67.7L190.8 66.0M193.3 66.0L194.7 67.7L196.1 66.0M197.4 66.0L198.5 67.7L199.6 66.0M203.7 66.0L205.6 67.7L207.4 66.0M211.7 66.0L212.8 67.7L213.9 66.0M219.3 66.0L220.6 67.7L221.8 66.0M121.3 72.7L122.5 74.4L123.7 72.7M164.2 72.7L165.4 74.4L166.6 72.7M174.8 72.7L175.9 74.4L177.0 72.7M177.4 72.7L178.4 74.4L179.5 72.7M182.1 72.7L183.5 74.4L184.9 72.7M189.1 72.7L190.2 74.4L191.3 72.7M194.9 72.7L196.8 74.4L198.6 72.7M201.2 72.7L202.3 74.4L203.3 72.7M209.3 72.7L210.6 74.4L211.8 72.7M119.5 79.4L120.7 81.1L122.0 79.4M161.4 79.4L162.6 81.1L163.9 79.4M171.5 79.4L172.7 81.1L173.8 79.4M174.9 79.4L175.9 81.1L177.0 79.4M180.0 79.4L181.4 81.1L182.8 79.4M189.1 79.4L190.2 81.1L191.3 79.4M194.9 79.4L196.8 81.1L198.6 79.4M200.9 79.4L202.0 81.1L203.1 79.4M207.3 79.4L208.5 81.1L209.8 79.4M215.5 79.4L216.8 81.1L218.2 79.4M120.3 86.2L121.5 87.9L122.7 86.2M135.8 86.2L137.0 87.9L138.3 86.2M162.2 86.2L163.4 87.9L164.6 86.2M172.3 86.2L173.4 87.9L174.5 86.2M175.6 86.2L176.7 87.9L177.7 86.2M180.3 86.2L181.7 87.9L183.1 86.2M189.1 86.2L190.2 87.9L191.3 86.2M194.9 86.2L196.8 87.9L198.6 86.2M200.9 86.2L202.0 87.9L203.1 86.2M207.3 86.2L208.5 87.9L209.8 86.2M215.5 86.2L216.8 87.9L218.2 86.2M120.3 92.9L121.5 94.6L122.7 92.9M135.8 92.9L137.0 94.6L138.3 92.9M162.7 92.9L163.9 94.6L165.1 92.9M172.3 92.9L173.4 94.6L174.5 92.9M175.6 92.9L176.7 94.6L177.7 92.9M180.3 92.9L181.7 94.6L183.1 92.9M189.1 92.9L190.2 94.6L191.3 92.9M194.9 92.9L196.8 94.6L198.6 92.9M200.9 92.9L202.0 94.6L203.1 92.9M207.3 92.9L208.5 94.6L209.8 92.9M215.5 92.9L216.8 94.6L218.2 92.9M120.3 99.6L121.5 101.3L122.7 99.6M135.8 99.6L137.0 101.3L138.3 99.6M162.7 99.6L163.9 101.3L165.1 99.6M172.3 99.6L173.4 101.3L174.5 99.6M175.6 99.6L176.7 101.3L177.7 99.6M180.3 99.6L181.7 101.3L183.1 99.6M189.1 99.6L190.2 101.3L191.3 99.6M194.9 99.6L196.8 101.3L198.6 99.6M200.9 99.6L202.0 101.3L203.1 99.6M207.3 99.6L208.5 101.3L209.8 99.6M215.5 99.6L216.8 101.3L218.2 99.6M119.5 106.3L120.7 108.0L122.0 106.3M161.9 106.3L163.1 108.0L164.4 106.3M171.5 106.3L172.7 108.0L173.8 106.3M175.6 106.3L176.7 108.0L177.7 106.3M180.3 106.3L181.7 108.0L183.1 106.3M189.1 106.3L190.2 108.0L191.3 106.3M194.9 106.3L196.8 108.0L198.6 106.3M200.9 106.3L202.0 108.0L203.1 106.3M207.3 106.3L208.5 108.0L209.8 106.3M214.0 106.3L215.3 108.0L216.7 106.3M120.8 113.0L122.0 114.7L123.2 113.0M164.2 113.0L165.4 114.7L166.6 113.0M173.6 113.0L174.7 114.7L175.8 113.0M177.4 113.0L178.4 114.7L179.5 113.0M182.1 113.0L183.5 114.7L184.9 113.0M189.9 113.0L191.0 114.7L192.1 113.0M196.2 113.0L198.0 114.7L199.9 113.0M202.2 113.0L203.2 114.7L204.3 113.0M209.8 113.0L211.1 114.7L212.3 113.0M120.8 119.7L122.0 121.4L123.2 119.7M136.6 119.7L137.8 121.4L139.0 119.7M166.4 119.7L167.6 121.4L168.9 119.7M175.6 119.7L176.7 121.4L177.8 119.7M179.1 119.7L180.2 121.4L181.3 119.7M183.8 119.7L185.2 121.4L186.6 119.7M191.6 119.7L192.7 121.4L193.9 119.7M198.7 119.7L200.6 121.4L202.4 119.7M204.7 119.7L205.8 121.4L206.8 119.7M211.8 119.7L213.1 121.4L214.3 119.7M218.5 119.7L219.8 121.4L221.2 119.7M119.5 126.5L120.7 128.2L122.0 126.5M164.7 126.5L165.9 128.2L167.1 126.5M174.8 126.5L175.9 128.2L177.0 126.5M178.6 126.5L179.7 128.2L180.8 126.5M183.3 126.5L184.7 128.2L186.1 126.5M191.1 126.5L192.2 128.2L193.4 126.5M196.2 126.5L198.0 128.2L199.9 126.5M202.5 126.5L203.5 128.2L204.6 126.5M209.8 126.5L211.1 128.2L212.3 126.5M215.0 126.5L216.3 128.2L217.6 126.5M120.8 133.2L122.0 134.9L123.2 133.2M164.7 133.2L165.9 134.9L167.1 133.2M174.8 133.2L175.9 134.9L177.0 133.2M179.1 133.2L180.2 134.9L181.3 133.2M183.8 133.2L185.2 134.9L186.6 133.2M191.1 133.2L192.2 134.9L193.4 133.2M197.5 133.2L199.3 134.9L201.1 133.2M203.4 133.2L204.5 134.9L205.6 133.2M210.5 133.2L211.8 134.9L213.1 133.2M216.5 133.2L217.8 134.9L219.2 133.2M120.8 139.9L122.0 141.6L123.2 139.9M164.7 139.9L165.9 141.6L167.1 139.9M174.8 139.9L175.9 141.6L177.0 139.9M178.6 139.9L179.7 141.6L180.8 139.9M183.3 139.9L184.7 141.6L186.1 139.9M190.6 139.9L191.7 141.6L192.9 139.9M196.2 139.9L198.0 141.6L199.9 139.9M202.2 139.9L203.2 141.6L204.3 139.9M209.8 139.9L211.1 141.6L212.3 139.9M215.0 139.9L216.3 141.6L217.6 139.9M119.5 146.6L120.7 148.3L122.0 146.6M148.4 146.6L149.6 148.3L150.8 146.6M163.4 146.6L164.6 148.3L165.9 146.6M173.6 146.6L174.7 148.3L175.8 146.6M177.4 146.6L178.4 148.3L179.5 146.6M182.1 146.6L183.5 148.3L184.9 146.6M188.6 146.6L189.7 148.3L190.8 146.6M194.9 146.6L196.8 148.3L198.6 146.6M200.9 146.6L202.0 148.3L203.1 146.6M207.3 146.6L208.5 148.3L209.8 146.6M214.0 146.6L215.3 148.3L216.7 146.6M120.8 153.3L122.0 155.0L123.2 153.3M139.7 153.3L140.8 155.0L141.9 153.3M167.2 153.3L168.4 155.0L169.6 153.3M176.6 153.3L177.7 155.0L178.8 153.3M179.9 153.3L180.9 155.0L182.0 153.3M184.6 153.3L186.0 155.0L187.4 153.3M192.4 153.3L193.5 155.0L194.6 153.3M198.7 153.3L200.6 155.0L202.4 153.3M204.7 153.3L205.8 155.0L206.8 153.3M210.7 153.3L212.0 155.0L213.2 153.3M216.0 153.3L217.3 155.0L218.7 153.3M120.8 160.0L122.0 161.7L123.2 160.0M133.3 160.0L134.5 161.7L135.8 160.0M139.0 160.0L140.8 161.7L142.7 160.0M162.2 160.0L163.4 161.7L164.6 160.0M173.1 160.0L174.2 161.7L175.3 160.0M176.6 160.0L177.7 161.7L178.7 160.0M181.3 160.0L182.7 161.7L184.1 160.0M188.6 160.0L189.7 161.7L190.8 160.0M193.7 160.0L195.5 161.7L197.4 160.0M199.7 160.0L200.7 161.7L201.8 160.0M206.5 160.0L207.8 161.7L209.1 160.0M127.0 166.8L128.3 168.5L129.5 166.8M139.5 166.8L140.8 168.5L142.1 166.8M170.4 166.8L171.7 168.5L172.9 166.8M179.8 166.8L180.9 168.5L182.1 166.8M183.1 166.8L184.2 168.5L185.3 166.8M188.3 166.8L189.7 168.5L191.1 166.8M196.1 166.8L197.3 168.5L198.4 166.8M202.5 166.8L204.3 168.5L206.2 166.8M208.5 166.8L209.5 168.5L210.6 166.8M214.5 166.8L215.7 168.5L217.0 166.8M221.0 166.8L222.3 168.5L223.7 166.8M127.8 173.5L129.0 175.2L130.2 173.5M169.7 173.5L170.9 175.2L172.1 173.5M178.6 173.5L179.7 175.2L180.8 173.5M182.4 173.5L183.5 175.2L184.5 173.5M187.1 173.5L188.5 175.2L189.9 173.5M194.9 173.5L196.0 175.2L197.1 173.5M201.2 173.5L203.1 175.2L204.9 173.5M207.2 173.5L208.3 175.2L209.3 173.5M213.6 173.5L214.8 175.2L216.1 173.5M120.8 180.2L122.0 181.9L123.2 180.2M133.0 180.2L134.0 181.9L135.1 180.2M164.2 180.2L165.4 181.9L166.6 180.2M174.8 180.2L175.9 181.9L177.0 180.2M178.1 180.2L179.2 181.9L180.3 180.2M183.3 180.2L184.7 181.9L186.1 180.2M190.6 180.2L191.7 181.9L192.9 180.2M196.2 180.2L198.0 181.9L199.9 180.2M202.2 180.2L203.2 181.9L204.3 180.2M208.5 180.2L209.8 181.9L211.1 180.2M214.7 180.2L216.1 181.9L217.4 180.2M120.8 186.9L122.0 188.6L123.2 186.9M132.2 186.9L133.3 188.6L134.4 186.9M165.4 186.9L166.6 188.6L167.9 186.9M176.1 186.9L177.2 188.6L178.3 186.9M179.1 186.9L180.2 188.6L181.3 186.9M184.6 186.9L186.0 188.6L187.4 186.9M197.5 186.9L199.3 188.6L201.1 186.9M203.4 186.9L204.5 188.6L205.6 186.9M209.8 186.9L211.1 188.6L212.3 186.9M216.0 186.9L217.3 188.6L218.7 186.9M122.8 193.6L124.0 195.3L125.2 193.6M168.7 193.6L169.9 195.3L171.1 193.6M177.3 193.6L178.4 195.3L179.6 193.6M181.1 193.6L182.2 195.3L183.3 193.6M185.8 193.6L187.2 195.3L188.6 193.6M194.9 193.6L196.0 195.3L197.1 193.6M200.0 193.6L201.8 195.3L203.7 193.6M205.9 193.6L207.0 195.3L208.1 193.6M212.3 193.6L213.6 195.3L214.8 193.6M219.7 193.6L221.1 195.3L222.4 193.6M122.0 200.3L123.2 202.0L124.5 200.3M164.7 200.3L165.9 202.0L167.1 200.3M174.8 200.3L175.9 202.0L177.0 200.3M178.1 200.3L179.2 202.0L180.3 200.3M182.8 200.3L184.2 202.0L185.6 200.3M189.9 200.3L191.0 202.0L192.1 200.3M196.2 200.3L198.0 202.0L199.9 200.3M202.2 200.3L203.2 202.0L204.3 200.3M209.8 200.3L211.1 202.0L212.3 200.3M215.5 200.3L216.8 202.0L218.2 200.3M122.0 207.1L123.2 208.8L124.5 207.1M164.2 207.1L165.4 208.8L166.6 207.1M174.3 207.1L175.4 208.8L176.5 207.1M177.6 207.1L178.7 208.8L179.8 207.1M182.3 207.1L183.7 208.8L185.1 207.1M189.4 207.1L190.5 208.8L191.6 207.1M195.7 207.1L197.5 208.8L199.4 207.1M201.7 207.1L202.7 208.8L203.8 207.1M208.5 207.1L209.8 208.8L211.1 207.1M213.7 207.1L215.0 208.8L216.4 207.1M121.3 213.8L122.5 215.5L123.7 213.8M163.4 213.8L164.6 215.5L165.9 213.8M173.6 213.8L174.7 215.5L175.8 213.8M176.9 213.8L177.9 215.5L179.0 213.8M181.6 213.8L183.0 215.5L184.4 213.8M188.6 213.8L189.7 215.5L190.8 213.8M194.9 213.8L196.8 215.5L198.6 213.8M200.9 213.8L202.0 215.5L203.1 213.8M208.0 213.8L209.3 215.5L210.6 213.8M213.5 213.8L214.8 215.5L216.2 213.8M120.3 220.5L121.5 222.2L122.7 220.5M166.4 220.5L167.6 222.2L168.9 220.5M175.6 220.5L176.7 222.2L177.8 220.5M178.6 220.5L179.7 222.2L180.8 220.5M183.8 220.5L185.2 222.2L186.6 220.5M191.1 220.5L192.2 222.2L193.4 220.5M196.7 220.5L198.5 222.2L200.4 220.5M202.7 220.5L203.7 222.2L204.8 220.5M209.8 220.5L211.1 222.2L212.3 220.5M215.0 220.5L216.3 222.2L217.6 220.5M120.8 227.2L122.0 228.9L123.2 227.2M168.4 227.2L169.7 228.9L170.9 227.2M182.3 227.2L183.5 228.9L184.6 227.2M184.9 227.2L186.0 228.9L187.0 227.2M188.3 227.2L189.7 228.9L191.1 227.2M197.4 227.2L198.5 228.9L199.6 227.2M202.5 227.2L204.3 228.9L206.2 227.2M208.5 227.2L209.5 228.9L210.6 227.2M214.5 227.2L215.7 228.9L217.0 227.2M219.7 227.2L221.1 228.9L222.4 227.2M120.8 233.9L122.0 235.6L123.2 233.9M168.4 233.9L169.7 235.6L170.9 233.9M178.6 233.9L179.7 235.6L180.8 233.9M183.6 233.9L184.7 235.6L185.8 233.9M187.1 233.9L188.5 235.6L189.9 233.9M196.1 233.9L197.3 235.6L198.4 233.9M201.2 233.9L203.1 235.6L204.9 233.9M207.2 233.9L208.3 235.6L209.3 233.9M213.2 233.9L214.5 235.6L215.7 233.9M219.0 233.9L220.3 235.6L221.7 233.9M122.0 240.6L123.2 242.3L124.5 240.6M168.4 240.6L169.7 242.3L170.9 240.6M181.1 240.6L182.2 242.3L183.3 240.6M184.1 240.6L185.2 242.3L186.3 240.6M188.3 240.6L189.7 242.3L191.1 240.6M196.1 240.6L197.3 242.3L198.4 240.6M201.7 240.6L203.6 242.3L205.4 240.6M207.7 240.6L208.8 242.3L209.8 240.6M213.7 240.6L215.0 242.3L216.2 240.6M219.0 240.6L220.3 242.3L221.7 240.6M120.8 247.4L122.0 249.1L123.2 247.4M167.9 247.4L169.2 249.1L170.4 247.4M180.6 247.4L181.7 249.1L182.8 247.4M183.6 247.4L184.7 249.1L185.8 247.4M188.3 247.4L189.7 249.1L191.1 247.4M196.1 247.4L197.3 249.1L198.4 247.4M201.2 247.4L203.1 249.1L204.9 247.4M207.2 247.4L208.3 249.1L209.3 247.4M213.2 247.4L214.5 249.1L215.7 247.4M218.5 247.4L219.8 249.1L221.2 247.4M120.8 254.1L122.0 255.8L123.2 254.1M168.4 254.1L169.7 255.8L170.9 254.1M181.1 254.1L182.2 255.8L183.3 254.1M184.1 254.1L185.2 255.8L186.3 254.1M188.8 254.1L190.2 255.8L191.6 254.1M196.1 254.1L197.3 255.8L198.4 254.1M202.5 254.1L204.3 255.8L206.2 254.1M208.5 254.1L209.5 255.8L210.6 254.1M120.8 260.8L122.0 262.5L123.2 260.8M168.4 260.8L169.7 262.5L170.9 260.8M181.1 260.8L182.2 262.5L183.3 260.8M184.1 260.8L185.2 262.5L186.3 260.8M188.8 260.8L190.2 262.5L191.6 260.8M196.1 260.8L197.3 262.5L198.4 260.8M201.7 260.8L203.6 262.5L205.4 260.8M207.7 260.8L208.8 262.5L209.8 260.8M213.7 260.8L215.0 262.5L216.2 260.8M219.0 260.8L220.3 262.5L221.7 260.8M120.3 267.5L121.5 269.2L122.7 267.5M162.2 267.5L163.4 269.2L164.6 267.5M172.3 267.5L173.4 269.2L174.5 267.5M175.6 267.5L176.7 269.2L177.7 267.5M180.3 267.5L181.7 269.2L183.1 267.5M188.1 267.5L189.2 269.2L190.3 267.5M193.7 267.5L195.5 269.2L197.4 267.5M199.7 267.5L200.7 269.2L201.8 267.5M206.5 267.5L207.8 269.2L209.1 267.5M212.2 267.5L213.6 269.2L214.9 267.5M121.8 274.2L123.0 275.9L124.2 274.2M141.6 274.2L142.8 275.9L144.0 274.2M169.7 274.2L170.9 275.9L172.1 274.2M179.8 274.2L180.9 275.9L182.1 274.2M183.6 274.2L184.7 275.9L185.8 274.2M188.3 274.2L189.7 275.9L191.1 274.2M196.1 274.2L197.3 275.9L198.4 274.2M201.2 274.2L203.1 275.9L204.9 274.2M207.2 274.2L208.3 275.9L209.3 274.2M213.2 274.2L214.5 275.9L215.7 274.2M219.7 274.2L221.1 275.9L222.4 274.2M121.3 281.0L122.5 282.7L123.7 281.0M168.9 281.0L170.2 282.7L171.4 281.0M180.6 281.0L181.7 282.7L182.8 281.0M183.6 281.0L184.7 282.7L185.8 281.0M188.3 281.0L189.7 282.7L191.1 281.0M196.1 281.0L197.3 282.7L198.4 281.0M201.2 281.0L203.1 282.7L204.9 281.0M207.2 281.0L208.3 282.7L209.3 281.0M213.2 281.0L214.5 282.7L215.7 281.0M219.7 281.0L221.1 282.7L222.4 281.0M120.3 287.7L121.5 289.4L122.7 287.7M167.9 287.7L169.2 289.4L170.4 287.7M179.8 287.7L180.9 289.4L182.1 287.7M183.6 287.7L184.7 289.4L185.8 287.7M188.3 287.7L189.7 289.4L191.1 287.7M196.1 287.7L197.3 289.4L198.4 287.7M201.2 287.7L203.1 289.4L204.9 287.7M207.2 287.7L208.3 289.4L209.3 287.7M213.2 287.7L214.5 289.4L215.7 287.7M218.5 287.7L219.8 289.4L221.2 287.7M120.3 294.4L121.5 296.1L122.7 294.4M163.9 294.4L165.1 296.1L166.4 294.4M172.3 294.4L173.4 296.1L174.5 294.4M176.6 294.4L177.7 296.1L178.7 294.4M180.8 294.4L182.2 296.1L183.6 294.4M186.1 294.4L187.2 296.1L188.3 294.4M193.7 294.4L195.5 296.1L197.4 294.4M199.7 294.4L200.7 296.1L201.8 294.4M206.0 294.4L207.3 296.1L208.5 294.4M213.0 294.4L214.3 296.1L215.7 294.4M123.3 301.1L124.5 302.8L125.7 301.1M151.0 301.1L152.1 302.8L153.2 301.1M169.7 301.1L170.9 302.8L172.1 301.1M181.1 301.1L182.2 302.8L183.3 301.1M184.1 301.1L185.2 302.8L186.3 301.1M188.8 301.1L190.2 302.8L191.6 301.1M196.6 301.1L197.8 302.8L198.9 301.1M201.7 301.1L203.6 302.8L205.4 301.1M207.7 301.1L208.8 302.8L209.8 301.1M213.7 301.1L215.0 302.8L216.2 301.1M219.7 301.1L221.1 302.8L222.4 301.1M120.8 307.8L122.0 309.5L123.2 307.8M183.6 307.8L184.7 309.5L185.8 307.8M186.2 307.8L187.2 309.5L188.3 307.8M190.8 307.8L192.2 309.5L193.6 307.8M198.6 307.8L199.8 309.5L200.9 307.8M204.2 307.8L206.1 309.5L207.9 307.8M210.2 307.8L211.3 309.5L212.3 307.8M217.3 307.8L218.6 309.5L219.8 307.8M120.3 314.5L121.5 316.2L122.7 314.5M177.3 314.5L178.4 316.2L179.6 314.5M181.1 314.5L182.2 316.2L183.3 314.5M185.8 314.5L187.2 316.2L188.6 314.5M192.4 314.5L193.5 316.2L194.6 314.5M197.5 314.5L199.3 316.2L201.1 314.5M203.7 314.5L204.8 316.2L205.8 314.5M211.0 314.5L212.3 316.2L213.6 314.5M120.8 321.3L122.0 323.0L123.2 321.3M165.4 321.3L166.6 323.0L167.9 321.3M175.6 321.3L176.7 323.0L177.8 321.3M179.1 321.3L180.2 323.0L181.3 321.3M183.8 321.3L185.2 323.0L186.6 321.3M190.6 321.3L191.7 323.0L192.9 321.3M197.5 321.3L199.3 323.0L201.1 321.3M203.4 321.3L204.5 323.0L205.6 321.3M209.8 321.3L211.1 323.0L212.3 321.3M216.0 321.3L217.3 323.0L218.7 321.3M120.3 328.0L121.5 329.7L122.7 328.0M137.0 328.0L138.3 329.7L139.6 328.0M167.2 328.0L168.4 329.7L169.6 328.0M177.3 328.0L178.4 329.7L179.6 328.0M181.1 328.0L182.2 329.7L183.3 328.0M185.3 328.0L186.7 329.7L188.1 328.0M193.6 328.0L194.7 329.7L195.9 328.0M198.7 328.0L200.6 329.7L202.4 328.0M204.7 328.0L205.8 329.7L206.8 328.0M211.0 328.0L212.3 329.7L213.6 328.0M218.0 328.0L219.3 329.7L220.7 328.0M120.3 334.7L121.5 336.4L122.7 334.7M163.4 334.7L164.6 336.4L165.9 334.7M173.6 334.7L174.7 336.4L175.8 334.7M176.6 334.7L177.7 336.4L178.7 334.7M181.3 334.7L182.7 336.4L184.1 334.7M188.6 334.7L189.7 336.4L190.8 334.7M194.9 334.7L196.8 336.4L198.6 334.7M200.9 334.7L202.0 336.4L203.1 334.7M206.9 334.7L208.2 336.4L209.5 334.7M212.2 334.7L213.6 336.4L214.9 334.7M120.3 341.4L121.5 343.1L122.7 341.4M163.9 341.4L165.1 343.1L166.4 341.4M174.8 341.4L175.9 343.1L177.0 341.4M178.6 341.4L179.7 343.1L180.8 341.4M183.3 341.4L184.7 343.1L186.1 341.4M188.6 341.4L189.7 343.1L190.8 341.4M194.9 341.4L196.8 343.1L198.6 341.4M200.9 341.4L202.0 343.1L203.1 341.4M207.3 341.4L208.5 343.1L209.8 341.4M213.0 341.4L214.3 343.1L215.7 341.4M120.3 348.1L121.5 349.8L122.7 348.1M163.9 348.1L165.1 349.8L166.4 348.1M174.8 348.1L175.9 349.8L177.0 348.1M177.4 348.1L178.4 349.8L179.5 348.1M182.1 348.1L183.5 349.8L184.9 348.1M189.9 348.1L191.0 349.8L192.1 348.1M194.9 348.1L196.8 349.8L198.6 348.1M200.9 348.1L202.0 349.8L203.1 348.1M207.3 348.1L208.5 349.8L209.8 348.1M212.4 348.1L213.8 349.8L215.1 348.1M120.3 354.8L121.5 356.5L122.7 354.8M163.4 354.8L164.6 356.5L165.9 354.8M174.1 354.8L175.2 356.5L176.3 354.8M177.4 354.8L178.4 356.5L179.5 354.8M182.1 354.8L183.5 356.5L184.9 354.8M189.9 354.8L191.0 356.5L192.1 354.8M194.9 354.8L196.8 356.5L198.6 354.8M200.9 354.8L202.0 356.5L203.1 354.8M207.3 354.8L208.5 356.5L209.8 354.8M213.0 354.8L214.3 356.5L215.7 354.8M122.0 361.6L123.2 363.3L124.5 361.6M163.4 361.6L164.6 363.3L165.9 361.6M168.4 361.6L169.7 363.3L170.9 361.6M178.6 361.6L179.7 363.3L180.8 361.6M183.6 361.6L184.7 363.3L185.8 361.6M187.1 361.6L188.5 363.3L189.9 361.6M192.4 361.6L193.5 363.3L194.6 361.6M200.0 361.6L201.8 363.3L203.7 361.6M206.2 361.6L207.3 363.3L208.4 361.6M213.6 361.6L214.8 363.3L216.1 361.6M219.7 361.6L221.1 363.3L222.4 361.6M122.0 368.3L123.2 370.0L124.5 368.3M169.7 368.3L170.9 370.0L172.1 368.3M181.1 368.3L182.2 370.0L183.3 368.3M184.1 368.3L185.2 370.0L186.3 368.3M189.6 368.3L191.0 370.0L192.4 368.3M196.1 368.3L197.3 370.0L198.4 368.3M201.2 368.3L203.1 370.0L204.9 368.3M207.5 368.3L208.5 370.0L209.6 368.3M214.1 368.3L215.3 370.0L216.6 368.3M221.0 368.3L222.3 370.0L223.7 368.3M123.3 375.0L124.5 376.7L125.7 375.0M169.7 375.0L170.9 376.7L172.1 375.0M181.1 375.0L182.2 376.7L183.3 375.0M184.1 375.0L185.2 376.7L186.3 375.0M189.6 375.0L191.0 376.7L192.4 375.0M194.9 375.0L196.0 376.7L197.1 375.0M201.2 375.0L203.1 376.7L204.9 375.0M207.5 375.0L208.5 376.7L209.6 375.0M213.6 375.0L214.8 376.7L216.1 375.0M221.0 375.0L222.3 376.7L223.7 375.0M119.5 381.7L120.7 383.4L122.0 381.7M140.2 381.7L141.6 383.4L143.0 381.7M166.4 381.7L167.6 383.4L168.9 381.7M176.6 381.7L177.7 383.4L178.8 381.7M180.6 381.7L181.7 383.4L182.8 381.7M185.3 381.7L186.7 383.4L188.1 381.7M191.1 381.7L192.2 383.4L193.4 381.7M197.5 381.7L199.3 383.4L201.1 381.7M203.4 381.7L204.5 383.4L205.6 381.7M210.5 381.7L211.8 383.4L213.1 381.7M216.5 381.7L217.8 383.4L219.2 381.7M119.5 388.4L120.7 390.1L122.0 388.4M139.4 388.4L140.8 390.1L142.2 388.4M164.7 388.4L165.9 390.1L167.1 388.4M174.8 388.4L175.9 390.1L177.0 388.4M178.1 388.4L179.2 390.1L180.3 388.4M182.8 388.4L184.2 390.1L185.6 388.4M187.4 388.4L188.5 390.1L189.6 388.4M193.7 388.4L195.5 390.1L197.4 388.4M200.0 388.4L201.0 390.1L202.1 388.4M206.5 388.4L207.8 390.1L209.1 388.4M212.2 388.4L213.6 390.1L214.9 388.4M122.8 395.1L124.0 396.8L125.2 395.1M141.2 395.1L142.6 396.8L144.0 395.1M167.2 395.1L168.4 396.8L169.6 395.1M177.3 395.1L178.4 396.8L179.6 395.1M182.4 395.1L183.5 396.8L184.5 395.1M187.1 395.1L188.5 396.8L189.9 395.1M192.4 395.1L193.5 396.8L194.6 395.1M198.7 395.1L200.6 396.8L202.4 395.1M204.7 395.1L205.8 396.8L206.8 395.1M211.0 395.1L212.3 396.8L213.6 395.1M217.2 395.1L218.6 396.8L219.9 395.1M122.8 401.9L124.0 403.6L125.2 401.9M141.2 401.9L142.6 403.6L144.0 401.9M167.9 401.9L169.2 403.6L170.4 401.9M178.1 401.9L179.2 403.6L180.3 401.9M182.4 401.9L183.5 403.6L184.5 401.9M187.1 401.9L188.5 403.6L189.9 401.9M192.4 401.9L193.5 403.6L194.6 401.9M200.0 401.9L201.8 403.6L203.7 401.9M205.9 401.9L207.0 403.6L208.1 401.9M211.9 401.9L213.2 403.6L214.5 401.9M218.0 401.9L219.3 403.6L220.7 401.9M119.5 408.6L120.7 410.3L122.0 408.6M130.9 408.6L132.0 410.3L133.1 408.6M163.4 408.6L164.6 410.3L165.9 408.6M174.8 408.6L175.9 410.3L177.0 408.6M178.6 408.6L179.7 410.3L180.8 408.6M183.3 408.6L184.7 410.3L186.1 408.6M189.9 408.6L191.0 410.3L192.1 408.6M196.2 408.6L198.0 410.3L199.9 408.6M202.2 408.6L203.2 410.3L204.3 408.6M208.5 408.6L209.8 410.3L211.1 408.6M214.0 408.6L215.3 410.3L216.7 408.6M120.8 415.3L122.0 417.0L123.2 415.3M163.4 415.3L164.6 417.0L165.9 415.3M174.1 415.3L175.2 417.0L176.3 415.3M178.1 415.3L179.2 417.0L180.3 415.3M183.3 415.3L184.7 417.0L186.1 415.3M188.6 415.3L189.7 417.0L190.8 415.3M194.9 415.3L196.8 417.0L198.6 415.3M200.9 415.3L202.0 417.0L203.1 415.3M208.0 415.3L209.3 417.0L210.6 415.3M214.0 415.3L215.3 417.0L216.7 415.3M120.8 422.0L122.0 423.7L123.2 422.0M163.4 422.0L164.6 423.7L165.9 422.0M175.6 422.0L176.7 423.7L177.8 422.0M179.9 422.0L180.9 423.7L182.0 422.0M183.8 422.0L185.2 423.7L186.6 422.0M189.1 422.0L190.2 423.7L191.3 422.0M196.2 422.0L198.0 423.7L199.9 422.0M202.2 422.0L203.2 423.7L204.3 422.0M208.5 422.0L209.8 423.7L211.1 422.0M214.0 422.0L215.3 423.7L216.7 422.0M122.8 428.7L124.0 430.4L125.2 428.7M163.4 428.7L164.6 430.4L165.9 428.7M175.6 428.7L176.7 430.4L177.8 428.7M179.1 428.7L180.2 430.4L181.3 428.7M183.8 428.7L185.2 430.4L186.6 428.7M189.1 428.7L190.2 430.4L191.3 428.7M196.2 428.7L198.0 430.4L199.9 428.7M202.2 428.7L203.2 430.4L204.3 428.7M209.0 428.7L210.3 430.4L211.6 428.7M214.7 428.7L216.1 430.4L217.4 428.7M121.3 435.4L122.5 437.1L123.7 435.4M163.4 435.4L164.6 437.1L165.9 435.4M174.8 435.4L175.9 437.1L177.0 435.4M178.6 435.4L179.7 437.1L180.8 435.4M183.3 435.4L184.7 437.1L186.1 435.4M189.1 435.4L190.2 437.1L191.3 435.4M194.9 435.4L196.8 437.1L198.6 435.4M200.9 435.4L202.0 437.1L203.1 435.4M208.5 435.4L209.8 437.1L211.1 435.4M214.0 435.4L215.3 437.1L216.7 435.4M121.3 442.2L122.5 443.9L123.7 442.2M163.4 442.2L164.6 443.9L165.9 442.2M174.8 442.2L175.9 443.9L177.0 442.2M178.6 442.2L179.7 443.9L180.8 442.2M183.3 442.2L184.7 443.9L186.1 442.2M189.1 442.2L190.2 443.9L191.3 442.2M194.9 442.2L196.8 443.9L198.6 442.2M200.9 442.2L202.0 443.9L203.1 442.2M208.5 442.2L209.8 443.9L211.1 442.2M214.0 442.2L215.3 443.9L216.7 442.2M123.3 448.9L124.5 450.6L125.7 448.9M165.4 448.9L166.6 450.6L167.9 448.9M176.1 448.9L177.2 450.6L178.3 448.9M179.9 448.9L180.9 450.6L182.0 448.9M185.3 448.9L186.7 450.6L188.1 448.9M191.1 448.9L192.2 450.6L193.4 448.9M198.7 448.9L200.6 450.6L202.4 448.9M204.7 448.9L205.8 450.6L206.8 448.9M210.7 448.9L212.0 450.6L213.2 448.9M217.2 448.9L218.6 450.6L219.9 448.9M124.5 455.6L125.8 457.3L127.0 455.6M166.4 455.6L167.6 457.3L168.9 455.6M177.3 455.6L178.4 457.3L179.6 455.6M181.1 455.6L182.2 457.3L183.3 455.6M185.8 455.6L187.2 457.3L188.6 455.6M192.4 455.6L193.5 457.3L194.6 455.6M200.0 455.6L201.8 457.3L203.7 455.6M205.9 455.6L207.0 457.3L208.1 455.6M211.9 455.6L213.2 457.3L214.5 455.6M218.0 455.6L219.3 457.3L220.7 455.6M124.5 462.3L125.8 464.0L127.0 462.3M149.8 462.3L150.8 464.0L151.9 462.3M167.2 462.3L168.4 464.0L169.6 462.3M177.3 462.3L178.4 464.0L179.6 462.3M181.1 462.3L182.2 464.0L183.3 462.3M185.8 462.3L187.2 464.0L188.6 462.3M192.4 462.3L193.5 464.0L194.6 462.3M200.0 462.3L201.8 464.0L203.7 462.3M205.9 462.3L207.0 464.0L208.1 462.3M211.9 462.3L213.2 464.0L214.5 462.3M218.0 462.3L219.3 464.0L220.7 462.3M122.8 469.0L124.0 470.7L125.2 469.0M165.9 469.0L167.1 470.7L168.4 469.0M176.6 469.0L177.7 470.7L178.8 469.0M180.6 469.0L181.7 470.7L182.8 469.0M185.3 469.0L186.7 470.7L188.1 469.0M191.1 469.0L192.2 470.7L193.4 469.0M198.7 469.0L200.6 470.7L202.4 469.0M204.7 469.0L205.8 470.7L206.8 469.0M212.3 469.0L213.6 470.7L214.8 469.0M218.0 469.0L219.3 470.7L220.7 469.0M121.3 475.7L122.5 477.4L123.7 475.7M165.9 475.7L167.1 477.4L168.4 475.7M176.6 475.7L177.7 477.4L178.8 475.7M179.9 475.7L180.9 477.4L182.0 475.7M184.6 475.7L186.0 477.4L187.4 475.7M190.6 475.7L191.7 477.4L192.9 475.7M198.7 475.7L200.6 477.4L202.4 475.7M204.7 475.7L205.8 477.4L206.8 475.7M211.0 475.7L212.3 477.4L213.6 475.7M218.0 475.7L219.3 477.4L220.7 475.7M121.3 482.5L122.5 484.2L123.7 482.5M163.9 482.5L165.1 484.2L166.4 482.5M174.8 482.5L175.9 484.2L177.0 482.5M178.1 482.5L179.2 484.2L180.3 482.5M182.8 482.5L184.2 484.2L185.6 482.5M190.6 482.5L191.7 484.2L192.9 482.5M196.2 482.5L198.0 484.2L199.9 482.5M202.2 482.5L203.2 484.2L204.3 482.5M208.5 482.5L209.8 484.2L211.1 482.5M216.0 482.5L217.3 484.2L218.7 482.5M122.8 489.2L124.0 490.9L125.2 489.2M165.4 489.2L166.6 490.9L167.9 489.2M176.6 489.2L177.7 490.9L178.8 489.2M180.6 489.2L181.7 490.9L182.8 489.2M185.3 489.2L186.7 490.9L188.1 489.2M192.4 489.2L193.5 490.9L194.6 489.2M198.7 489.2L200.6 490.9L202.4 489.2M204.7 489.2L205.8 490.9L206.8 489.2M211.0 489.2L212.3 490.9L213.6 489.2M218.0 489.2L219.3 490.9L220.7 489.2M122.8 495.9L124.0 497.6L125.2 495.9M165.4 495.9L166.6 497.6L167.9 495.9M176.6 495.9L177.7 497.6L178.8 495.9M180.6 495.9L181.7 497.6L182.8 495.9M185.3 495.9L186.7 497.6L188.1 495.9M192.4 495.9L193.5 497.6L194.6 495.9M198.7 495.9L200.6 497.6L202.4 495.9M204.7 495.9L205.8 497.6L206.8 495.9M211.0 495.9L212.3 497.6L213.6 495.9M218.0 495.9L219.3 497.6L220.7 495.9M120.3 502.6L121.5 504.3L122.7 502.6M126.1 502.6L127.5 504.3L128.9 502.6M162.2 502.6L163.4 504.3L164.6 502.6M173.6 502.6L174.7 504.3L175.8 502.6M177.4 502.6L178.4 504.3L179.5 502.6M182.1 502.6L183.5 504.3L184.9 502.6M189.9 502.6L191.0 504.3L192.1 502.6M196.2 502.6L198.0 504.3L199.9 502.6M202.2 502.6L203.2 504.3L204.3 502.6M208.5 502.6L209.8 504.3L211.1 502.6M214.7 502.6L216.1 504.3L217.4 502.6M122.8 509.3L124.0 511.0L125.2 509.3M167.2 509.3L168.4 511.0L169.6 509.3M178.1 509.3L179.2 511.0L180.3 509.3M182.4 509.3L183.5 511.0L184.5 509.3M187.1 509.3L188.5 511.0L189.9 509.3M193.6 509.3L194.7 511.0L195.9 509.3M200.0 509.3L201.8 511.0L203.7 509.3M205.9 509.3L207.0 511.0L208.1 509.3M213.6 509.3L214.8 511.0L216.1 509.3M219.7 509.3L221.1 511.0L222.4 509.3M123.8 516.0L125.0 517.7L126.2 516.0M141.9 516.0L143.3 517.7L144.7 516.0M167.2 516.0L168.4 517.7L169.6 516.0M178.6 516.0L179.7 517.7L180.8 516.0M182.4 516.0L183.5 517.7L184.5 516.0M187.1 516.0L188.5 517.7L189.9 516.0M194.9 516.0L196.0 517.7L197.1 516.0M201.2 516.0L203.1 517.7L204.9 516.0M207.2 516.0L208.3 517.7L209.3 516.0M213.6 516.0L214.8 517.7L216.1 516.0M221.0 516.0L222.3 517.7L223.7 516.0M123.3 522.8L124.5 524.5L125.7 522.8M167.9 522.8L169.2 524.5L170.4 522.8M177.3 522.8L178.4 524.5L179.6 522.8M181.1 522.8L182.2 524.5L183.3 522.8M185.3 522.8L186.7 524.5L188.1 522.8M196.1 522.8L197.3 524.5L198.4 522.8M202.5 522.8L204.3 524.5L206.2 522.8M208.5 522.8L209.5 524.5L210.6 522.8M216.1 522.8L217.3 524.5L218.6 522.8M222.3 522.8L223.6 524.5L224.9 522.8M120.3 529.5L121.5 531.2L122.7 529.5M163.4 529.5L164.6 531.2L165.9 529.5M174.8 529.5L175.9 531.2L177.0 529.5M178.6 529.5L179.7 531.2L180.8 529.5M183.3 529.5L184.7 531.2L186.1 529.5M191.1 529.5L192.2 531.2L193.4 529.5M197.5 529.5L199.3 531.2L201.1 529.5M203.4 529.5L204.5 531.2L205.6 529.5M211.0 529.5L212.3 531.2L213.6 529.5M217.2 529.5L218.6 531.2L219.9 529.5M119.5 536.2L120.7 537.9L122.0 536.2M162.9 536.2L164.1 537.9L165.4 536.2M174.1 536.2L175.2 537.9L176.3 536.2M178.1 536.2L179.2 537.9L180.3 536.2M182.8 536.2L184.2 537.9L185.6 536.2M191.1 536.2L192.2 537.9L193.4 536.2M196.7 536.2L198.5 537.9L200.4 536.2M202.7 536.2L203.7 537.9L204.8 536.2M210.5 536.2L211.8 537.9L213.1 536.2M216.0 536.2L217.3 537.9L218.7 536.2M119.5 542.9L120.7 544.6L122.0 542.9M162.9 542.9L164.1 544.6L165.4 542.9M173.1 542.9L174.2 544.6L175.3 542.9M176.6 542.9L177.7 544.6L178.7 542.9M182.1 542.9L183.5 544.6L184.9 542.9M189.9 542.9L191.0 544.6L192.1 542.9M195.7 542.9L197.5 544.6L199.4 542.9M201.7 542.9L202.7 544.6L203.8 542.9M209.8 542.9L211.1 544.6L212.3 542.9M215.5 542.9L216.8 544.6L218.2 542.9M119.5 549.6L120.7 551.3L122.0 549.6M162.9 549.6L164.1 551.3L165.4 549.6M173.6 549.6L174.7 551.3L175.8 549.6M177.4 549.6L178.4 551.3L179.5 549.6M182.8 549.6L184.2 551.3L185.6 549.6M190.6 549.6L191.7 551.3L192.9 549.6M196.2 549.6L198.0 551.3L199.9 549.6M202.2 549.6L203.2 551.3L204.3 549.6M209.8 549.6L211.1 551.3L212.3 549.6M215.5 549.6L216.8 551.3L218.2 549.6M119.5 556.3L120.7 558.0L122.0 556.3M163.4 556.3L164.6 558.0L165.9 556.3M174.1 556.3L175.2 558.0L176.3 556.3M178.1 556.3L179.2 558.0L180.3 556.3M183.3 556.3L184.7 558.0L186.1 556.3M190.6 556.3L191.7 558.0L192.9 556.3M196.7 556.3L198.5 558.0L200.4 556.3M202.7 556.3L203.7 558.0L204.8 556.3M210.5 556.3L211.8 558.0L213.1 556.3M216.0 556.3L217.3 558.0L218.7 556.3M121.3 563.1L122.5 564.8L123.7 563.1M163.9 563.1L165.1 564.8L166.4 563.1M174.8 563.1L175.9 564.8L177.0 563.1M178.6 563.1L179.7 564.8L180.8 563.1M183.3 563.1L184.7 564.8L186.1 563.1M191.6 563.1L192.7 564.8L193.9 563.1M197.5 563.1L199.3 564.8L201.1 563.1M203.4 563.1L204.5 564.8L205.6 563.1M211.5 563.1L212.8 564.8L214.1 563.1M217.2 563.1L218.6 564.8L219.9 563.1M119.5 569.8L120.7 571.5L122.0 569.8M163.9 569.8L165.1 571.5L166.4 569.8M174.8 569.8L175.9 571.5L177.0 569.8M178.6 569.8L179.7 571.5L180.8 569.8M183.3 569.8L184.7 571.5L186.1 569.8M190.6 569.8L191.7 571.5L192.9 569.8M197.5 569.8L199.3 571.5L201.1 569.8M203.4 569.8L204.5 571.5L205.6 569.8M209.8 569.8L211.1 571.5L212.3 569.8M215.0 569.8L216.3 571.5L217.6 569.8M119.5 576.5L120.7 578.2L122.0 576.5M163.9 576.5L165.1 578.2L166.4 576.5M174.8 576.5L175.9 578.2L177.0 576.5M178.6 576.5L179.7 578.2L180.8 576.5M183.3 576.5L184.7 578.2L186.1 576.5M191.6 576.5L192.7 578.2L193.9 576.5M197.5 576.5L199.3 578.2L201.1 576.5M203.4 576.5L204.5 578.2L205.6 576.5M211.0 576.5L212.3 578.2L213.6 576.5M119.5 583.2L120.7 584.9L122.0 583.2M163.4 583.2L164.6 584.9L165.9 583.2M174.8 583.2L175.9 584.9L177.0 583.2M178.6 583.2L179.7 584.9L180.8 583.2M183.3 583.2L184.7 584.9L186.1 583.2M192.4 583.2L193.5 584.9L194.6 583.2M198.7 583.2L200.6 584.9L202.4 583.2M204.7 583.2L205.8 584.9L206.8 583.2M211.0 583.2L212.3 584.9L213.6 583.2M217.2 583.2L218.6 584.9L219.9 583.2M119.5 589.9L120.7 591.6L122.0 589.9M164.7 589.9L165.9 591.6L167.1 589.9M176.6 589.9L177.7 591.6L178.8 589.9M180.6 589.9L181.7 591.6L182.8 589.9M185.3 589.9L186.7 591.6L188.1 589.9M195.6 589.9L196.8 591.6L197.9 589.9M201.2 589.9L203.1 591.6L204.9 589.9M207.2 589.9L208.3 591.6L209.3 589.9M214.8 589.9L216.1 591.6L217.3 589.9M221.5 589.9L222.8 591.6L224.2 589.9M120.8 596.6L122.0 598.3L123.2 596.6M147.1 596.6L148.3 598.3L149.6 596.6M164.7 596.6L165.9 598.3L167.1 596.6M175.6 596.6L176.7 598.3L177.8 596.6M179.1 596.6L180.2 598.3L181.3 596.6M183.8 596.6L185.2 598.3L186.6 596.6M193.6 596.6L194.7 598.3L195.9 596.6M200.0 596.6L201.8 598.3L203.7 596.6M205.9 596.6L207.0 598.3L208.1 596.6M212.3 596.6L213.6 598.3L214.8 596.6M219.0 596.6L220.3 598.3L221.7 596.6M119.5 603.4L120.7 605.1L122.0 603.4M163.7 603.4L164.9 605.1L166.1 603.4M175.1 603.4L176.2 605.1L177.3 603.4M178.6 603.4L179.7 605.1L180.8 603.4M183.6 603.4L185.0 605.1L186.4 603.4M191.6 603.4L192.7 605.1L193.9 603.4M198.0 603.4L199.8 605.1L201.6 603.4M203.9 603.4L205.0 605.1L206.1 603.4M210.8 603.4L212.1 605.1L213.3 603.4M217.2 603.4L218.6 605.1L219.9 603.4M120.0 610.1L121.2 611.8L122.5 610.1M149.5 610.1L150.8 611.8L152.2 610.1M163.7 610.1L164.9 611.8L166.1 610.1M175.6 610.1L176.7 611.8L177.8 610.1M179.1 610.1L180.2 611.8L181.3 610.1M183.8 610.1L185.2 611.8L186.6 610.1M191.6 610.1L192.7 611.8L193.9 610.1M197.5 610.1L199.3 611.8L201.1 610.1M203.4 610.1L204.5 611.8L205.6 610.1M211.0 610.1L212.3 611.8L213.6 610.1M218.0 610.1L219.3 611.8L220.7 610.1M120.3 616.8L121.5 618.5L122.7 616.8M162.9 616.8L164.1 618.5L165.4 616.8M173.6 616.8L174.7 618.5L175.8 616.8M177.4 616.8L178.4 618.5L179.5 616.8M182.8 616.8L184.2 618.5L185.6 616.8M191.1 616.8L192.2 618.5L193.4 616.8M196.7 616.8L198.5 618.5L200.4 616.8M202.7 616.8L203.7 618.5L204.8 616.8M209.8 616.8L211.1 618.5L212.3 616.8M215.5 616.8L216.8 618.5L218.2 616.8M120.3 623.5L121.5 625.2L122.7 623.5M162.9 623.5L164.1 625.2L165.4 623.5M173.6 623.5L174.7 625.2L175.8 623.5M177.4 623.5L178.4 625.2L179.5 623.5M182.8 623.5L184.2 625.2L185.6 623.5M190.6 623.5L191.7 625.2L192.9 623.5M196.7 623.5L198.5 625.2L200.4 623.5M202.7 623.5L203.7 625.2L204.8 623.5M209.8 623.5L211.1 625.2L212.3 623.5M215.5 623.5L216.8 625.2L218.2 623.5M119.5 630.2L120.7 631.9L122.0 630.2M162.9 630.2L164.1 631.9L165.4 630.2M173.6 630.2L174.7 631.9L175.8 630.2M177.4 630.2L178.4 631.9L179.5 630.2M182.8 630.2L184.2 631.9L185.6 630.2M190.6 630.2L191.7 631.9L192.9 630.2M196.2 630.2L198.0 631.9L199.9 630.2M202.2 630.2L203.2 631.9L204.3 630.2M209.8 630.2L211.1 631.9L212.3 630.2M215.5 630.2L216.8 631.9L218.2 630.2M121.3 637.0L122.5 638.7L123.7 637.0M163.9 637.0L165.1 638.7L166.4 637.0M176.6 637.0L177.7 638.7L178.8 637.0M180.6 637.0L181.7 638.7L182.8 637.0M185.3 637.0L186.7 638.7L188.1 637.0M196.2 637.0L198.0 638.7L199.9 637.0M202.5 637.0L203.5 638.7L204.6 637.0M211.0 637.0L212.3 638.7L213.6 637.0M218.0 637.0L219.3 638.7L220.7 637.0M122.0 643.7L123.2 645.4L124.5 643.7M167.9 643.7L169.2 645.4L170.4 643.7M177.3 643.7L178.4 645.4L179.6 643.7M181.1 643.7L182.2 645.4L183.3 643.7M185.8 643.7L187.2 645.4L188.6 643.7M191.6 643.7L192.7 645.4L193.9 643.7M198.7 643.7L200.6 645.4L202.4 643.7M204.7 643.7L205.8 645.4L206.8 643.7M213.1 643.7L214.3 645.4L215.6 643.7M123.3 650.4L124.5 652.1L125.7 650.4M169.7 650.4L170.9 652.1L172.1 650.4M181.6 650.4L182.7 652.1L183.8 650.4M184.9 650.4L186.0 652.1L187.0 650.4M189.6 650.4L191.0 652.1L192.4 650.4M197.4 650.4L198.5 652.1L199.6 650.4M203.2 650.4L205.1 652.1L206.9 650.4M209.2 650.4L210.3 652.1L211.3 650.4M216.1 650.4L217.3 652.1L218.6 650.4M222.3 650.4L223.6 652.1L224.9 650.4M120.8 657.1L122.0 658.8L123.2 657.1M162.3 657.1L163.4 658.8L164.5 657.1M167.2 657.1L168.4 658.8L169.6 657.1M177.3 657.1L178.4 658.8L179.6 657.1M181.1 657.1L182.2 658.8L183.3 657.1M185.8 657.1L187.2 658.8L188.6 657.1M191.6 657.1L192.7 658.8L193.9 657.1M198.7 657.1L200.6 658.8L202.4 657.1M204.7 657.1L205.8 658.8L206.8 657.1M211.0 657.1L212.3 658.8L213.6 657.1M217.2 657.1L218.6 658.8L219.9 657.1M120.5 663.8L121.7 665.5L123.0 663.8M127.0 663.8L128.3 665.5L129.5 663.8M143.8 663.8L145.1 665.5L146.3 663.8M162.2 663.8L163.4 665.5L164.6 663.8M173.1 663.8L174.2 665.5L175.3 663.8M176.9 663.8L177.9 665.5L179.0 663.8M182.1 663.8L183.5 665.5L184.9 663.8M190.6 663.8L191.7 665.5L192.9 663.8M195.7 663.8L197.5 665.5L199.4 663.8M201.7 663.8L202.7 665.5L203.8 663.8M209.3 663.8L210.6 665.5L211.8 663.8M215.7 663.8L217.1 665.5L218.4 663.8M120.8 670.5L122.0 672.2L123.2 670.5M168.4 670.5L169.7 672.2L170.9 670.5M177.6 670.5L178.7 672.2L179.8 670.5M181.6 670.5L182.7 672.2L183.8 670.5M186.1 670.5L187.5 672.2L188.9 670.5M191.1 670.5L192.2 672.2L193.4 670.5M200.0 670.5L201.8 672.2L203.7 670.5M205.9 670.5L207.0 672.2L208.1 670.5M214.8 670.5L216.1 672.2L217.3 670.5M221.5 670.5L222.8 672.2L224.2 670.5M120.8 677.3L122.0 679.0L123.2 677.3M167.2 677.3L168.4 679.0L169.6 677.3M178.1 677.3L179.2 679.0L180.3 677.3M181.9 677.3L183.0 679.0L184.0 677.3M186.6 677.3L188.0 679.0L189.4 677.3M192.4 677.3L193.5 679.0L194.6 677.3M199.5 677.3L201.3 679.0L203.2 677.3M205.4 677.3L206.5 679.0L207.6 677.3M214.6 677.3L215.8 679.0L217.1 677.3M221.7 677.3L223.1 679.0L224.4 677.3M123.0 684.0L124.2 685.7L125.5 684.0M167.4 684.0L168.7 685.7L169.9 684.0M178.3 684.0L179.4 685.7L180.6 684.0M182.4 684.0L183.5 685.7L184.5 684.0M187.1 684.0L188.5 685.7L189.9 684.0M194.1 684.0L195.2 685.7L196.4 684.0M200.0 684.0L201.8 685.7L203.7 684.0M205.9 684.0L207.0 685.7L208.1 684.0M121.3 690.7L122.5 692.4L123.7 690.7M166.4 690.7L167.6 692.4L168.9 690.7M176.6 690.7L177.7 692.4L178.8 690.7M181.1 690.7L182.2 692.4L183.3 690.7M185.8 690.7L187.2 692.4L188.6 690.7M192.4 690.7L193.5 692.4L194.6 690.7M200.0 690.7L201.8 692.4L203.7 690.7M205.9 690.7L207.0 692.4L208.1 690.7M212.3 690.7L213.6 692.4L214.8 690.7M219.0 690.7L220.3 692.4L221.7 690.7M119.5 697.4L120.7 699.1L122.0 697.4M141.3 697.4L142.6 699.1L143.8 697.4M162.2 697.4L163.4 699.1L164.6 697.4M173.6 697.4L174.7 699.1L175.8 697.4M177.4 697.4L178.4 699.1L179.5 697.4M182.1 697.4L183.5 699.1L184.9 697.4M188.6 697.4L189.7 699.1L190.8 697.4M194.9 697.4L196.8 699.1L198.6 697.4M200.9 697.4L202.0 699.1L203.1 697.4M208.5 697.4L209.8 699.1L211.1 697.4M215.5 697.4L216.8 699.1L218.2 697.4M119.5 704.1L120.7 705.8L122.0 704.1M163.4 704.1L164.6 705.8L165.9 704.1M174.8 704.1L175.9 705.8L177.0 704.1M178.6 704.1L179.7 705.8L180.8 704.1M183.8 704.1L185.2 705.8L186.6 704.1M191.1 704.1L192.2 705.8L193.4 704.1M197.5 704.1L199.3 705.8L201.1 704.1M203.4 704.1L204.5 705.8L205.6 704.1M212.3 704.1L213.6 705.8L214.8 704.1M219.0 704.1L220.3 705.8L221.7 704.1M119.5 710.8L120.7 712.5L122.0 710.8M163.9 710.8L165.1 712.5L166.4 710.8M175.6 710.8L176.7 712.5L177.8 710.8M179.9 710.8L180.9 712.5L182.0 710.8M184.6 710.8L186.0 712.5L187.4 710.8M191.1 710.8L192.2 712.5L193.4 710.8M197.5 710.8L199.3 712.5L201.1 710.8M203.4 710.8L204.5 712.5L205.6 710.8M212.3 710.8L213.6 712.5L214.8 710.8M218.0 710.8L219.3 712.5L220.7 710.8M119.5 717.6L120.7 719.3L122.0 717.6M142.1 717.6L143.3 719.3L144.5 717.6M163.9 717.6L165.1 719.3L166.4 717.6M175.6 717.6L176.7 719.3L177.8 717.6M179.9 717.6L180.9 719.3L182.0 717.6M184.6 717.6L186.0 719.3L187.4 717.6M191.6 717.6L192.7 719.3L193.9 717.6M198.2 717.6L200.1 719.3L201.9 717.6M204.2 717.6L205.3 719.3L206.3 717.6M212.3 717.6L213.6 719.3L214.8 717.6M218.0 717.6L219.3 719.3L220.7 717.6M119.5 724.3L120.7 726.0L122.0 724.3M164.7 724.3L165.9 726.0L167.1 724.3M176.6 724.3L177.7 726.0L178.8 724.3M180.6 724.3L181.7 726.0L182.8 724.3M185.3 724.3L186.7 726.0L188.1 724.3M191.6 724.3L192.7 726.0L193.9 724.3M198.7 724.3L200.6 726.0L202.4 724.3M204.7 724.3L205.8 726.0L206.8 724.3M212.3 724.3L213.6 726.0L214.8 724.3M219.0 724.3L220.3 726.0L221.7 724.3M160.9 731.0L162.1 732.7L163.4 731.0M171.0 731.0L172.2 732.7L173.3 731.0M175.6 731.0L176.7 732.7L177.7 731.0M180.3 731.0L181.7 732.7L183.1 731.0M185.6 731.0L186.7 732.7L187.8 731.0M191.7 731.0L193.5 732.7L195.4 731.0M197.7 731.0L198.7 732.7L199.8 731.0M207.3 731.0L208.5 732.7L209.8 731.0M213.5 731.0L214.8 732.7L216.2 731.0M160.9 737.7L162.1 739.4L163.4 737.7M171.0 737.7L172.2 739.4L173.3 737.7M175.6 737.7L176.7 739.4L177.7 737.7M180.3 737.7L181.7 739.4L183.1 737.7M185.6 737.7L186.7 739.4L187.8 737.7M191.7 737.7L193.5 739.4L195.4 737.7M197.7 737.7L198.7 739.4L199.8 737.7M204.0 737.7L205.3 739.4L206.5 737.7M211.5 737.7L212.8 739.4L214.2 737.7" stroke="rgba(255,255,255,0.4)" stroke-width="0.5" fill="none"/>
<rect x="262.6" y="25.3" width="108.1" height="2.5" fill="rgb(200,200,202)"/>
<rect x="262.6" y="27.8" width="108.1" height="1.3" fill="rgb(236,236,240)"/>
<rect x="263.4" y="25.3" width="101.0" height="2.5" fill="rgb(146,198,108)"/>
<rect x="263.4" y="27.8" width="101.0" height="1.3" fill="rgb(216,235,203)"/>
<rect x="262.6" y="32.0" width="103.0" height="2.5" fill="rgb(200,200,202)"/>
<rect x="262.6" y="34.5" width="103.0" height="1.3" fill="rgb(236,236,240)"/>
<rect x="262.6" y="32.0" width="102.2" height="2.5" fill="rgb(242,210,70)"/>
<rect x="262.6" y="34.5" width="102.2" height="1.3" fill="rgb(250,239,190)"/>
<rect x="262.6" y="38.7" width="115.7" height="2.5" fill="rgb(200,200,202)"/>
<rect x="262.6" y="41.2" width="115.7" height="1.3" fill="rgb(236,236,240)"/>
<rect x="272.3" y="38.7" width="104.8" height="2.5" fill="rgb(242,210,70)"/>
<rect x="272.3" y="41.2" width="104.8" height="1.3" fill="rgb(250,239,190)"/>
<rect x="262.6" y="45.5" width="106.8" height="2.5" fill="rgb(200,200,202)"/>
<rect x="262.6" y="48.0" width="106.8" height="1.3" fill="rgb(236,236,240)"/>
<rect x="263.1" y="45.5" width="106.3" height="2.5" fill="rgb(242,210,70)"/>
<rect x="263.1" y="48.0" width="106.3" height="1.3" fill="rgb(250,239,190)"/>
<rect x="262.6" y="52.2" width="105.6" height="2.5" fill="rgb(200,200,202)"/>
<rect x="262.6" y="54.7" width="105.6" height="1.3" fill="rgb(236,236,240)"/>
<rect x="262.6" y="52.2" width="105.6" height="2.5" fill="rgb(242,210,70)"/>
<rect x="262.6" y="54.7" width="105.6" height="1.3" fill="rgb(250,239,190)"/>
<rect x="262.6" y="58.9" width="96.1" height="2.5" fill="rgb(200,200,202)"/>
<rect x="262.6" y="61.4" width="96.1" height="1.3" fill="rgb(236,236,240)"/>
<rect x="263.1" y="58.9" width="95.6" height="2.5" fill="rgb(242,210,70)"/>
<rect x="263.1" y="61.4" width="95.6" height="1.3" fill="rgb(250,239,190)"/>
<rect x="262.6" y="65.6" width="116.5" height="2.5" fill="rgb(200,200,202)"/>
<rect x="262.6" y="68.1" width="116.5" height="1.3" fill="rgb(236,236,240)"/>
<rect x="276.6" y="65.6" width="100.5" height="2.5" fill="rgb(242,210,70)"/>
<rect x="276.6" y="68.1" width="100.5" height="1.3" fill="rgb(250,239,190)"/>
<rect x="262.6" y="72.3" width="104.8" height="2.5" fill="rgb(200,200,202)"/>
<rect x="262.6" y="74.8" width="104.8" height="1.3" fill="rgb(236,236,240)"/>
<rect x="265.1" y="72.3" width="102.2" height="2.5" fill="rgb(242,210,70)"/>
<rect x="265.1" y="74.8" width="102.2" height="1.3" fill="rgb(250,239,190)"/>
<rect x="262.6" y="79.0" width="104.3" height="2.5" fill="rgb(200,200,202)"/>
<rect x="262.6" y="81.5" width="104.3" height="1.3" fill="rgb(236,236,240)"/>
<rect x="263.9" y="79.0" width="100.5" height="2.5" fill="rgb(146,198,108)"/>
<rect x="263.9" y="81.5" width="100.5" height="1.3" fill="rgb(216,235,203)"/>
<rect x="262.6" y="85.8" width="104.3" height="2.5" fill="rgb(200,200,202)"/>
<rect x="262.6" y="88.3" width="104.3" height="1.3" fill="rgb(236,236,240)"/>
<rect x="263.9" y="85.8" width="99.2" height="2.5" fill="rgb(146,198,108)"/>
<rect x="263.9" y="88.3" width="99.2" height="1.3" fill="rgb(216,235,203)"/>
<rect x="262.6" y="92.5" width="104.8" height="2.5" fill="rgb(200,200,202)"/>
<rect x="262.6" y="95.0" width="104.8" height="1.3" fill="rgb(236,236,240)"/>
<rect x="263.9" y="92.5" width="100.0" height="2.5" fill="rgb(146,198,108)"/>
<rect x="263.9" y="95.0" width="100.0" height="1.3" fill="rgb(216,235,203)"/>
<rect x="262.6" y="99.2" width="103.8" height="2.5" fill="rgb(200,200,202)"/>
<rect x="262.6" y="101.7" width="103.8" height="1.3" fill="rgb(236,236,240)"/>
<rect x="263.9" y="99.2" width="99.2" height="2.5" fill="rgb(146,198,108)"/>
<rect x="263.9" y="101.7" width="99.2" height="1.3" fill="rgb(216,235,203)"/>
<rect x="262.6" y="105.9" width="103.0" height="2.5" fill="rgb(200,200,202)"/>
<rect x="262.6" y="108.4" width="103.0" height="1.3" fill="rgb(236,236,240)"/>
<rect x="305.8" y="105.9" width="59.0" height="2.5" fill="rgb(242,210,70)"/>
<rect x="305.8" y="108.4" width="59.0" height="1.3" fill="rgb(250,239,190)"/>
<rect x="262.6" y="112.6" width="105.6" height="2.5" fill="rgb(200,200,202)"/>
<rect x="262.6" y="115.1" width="105.6" height="1.3" fill="rgb(236,236,240)"/>
<rect x="262.6" y="112.6" width="105.6" height="2.5" fill="rgb(242,210,70)"/>
<rect x="262.6" y="115.1" width="105.6" height="1.3" fill="rgb(250,239,190)"/>
<rect x="262.6" y="119.3" width="108.1" height="2.5" fill="rgb(200,200,202)"/>
<rect x="262.6" y="121.8" width="108.1" height="1.3" fill="rgb(236,236,240)"/>
<rect x="313.0" y="119.3" width="56.4" height="2.5" fill="rgb(242,210,70)"/>
<rect x="313.0" y="121.8" width="56.4" height="1.3" fill="rgb(250,239,190)"/>
<rect x="262.6" y="126.1" width="101.7" height="2.5" fill="rgb(200,200,202)"/>
<rect x="262.6" y="128.6" width="101.7" height="1.3" fill="rgb(236,236,240)"/>
<rect x="265.1" y="126.1" width="99.2" height="2.5" fill="rgb(242,210,70)"/>
<rect x="265.1" y="128.6" width="99.2" height="1.3" fill="rgb(250,239,190)"/>
<rect x="262.6" y="132.8" width="106.3" height="2.5" fill="rgb(200,200,202)"/>
<rect x="262.6" y="135.3" width="106.3" height="1.3" fill="rgb(236,236,240)"/>
<rect x="265.6" y="132.8" width="103.3" height="2.5" fill="rgb(222,116,152)"/>
<rect x="265.6" y="135.3" width="103.3" height="1.3" fill="rgb(243,206,218)"/>
<rect x="262.6" y="139.5" width="102.2" height="2.5" fill="rgb(200,200,202)"/>
<rect x="262.6" y="142.0" width="102.2" height="1.3" fill="rgb(236,236,240)"/>
<rect x="262.6" y="139.5" width="102.2" height="2.5" fill="rgb(242,210,70)"/>
<rect x="262.6" y="142.0" width="102.2" height="1.3" fill="rgb(250,239,190)"/>
<rect x="262.6" y="146.2" width="106.3" height="2.5" fill="rgb(200,200,202)"/>
<rect x="262.6" y="148.7" width="106.3" height="1.3" fill="rgb(236,236,240)"/>
<rect x="267.2" y="146.2" width="97.2" height="2.5" fill="rgb(242,210,70)"/>
<rect x="267.2" y="148.7" width="97.2" height="1.3" fill="rgb(250,239,190)"/>
<rect x="262.6" y="152.9" width="105.6" height="2.5" fill="rgb(200,200,202)"/>
<rect x="262.6" y="155.4" width="105.6" height="1.3" fill="rgb(236,236,240)"/>
<rect x="267.7" y="152.9" width="100.5" height="2.5" fill="rgb(242,210,70)"/>
<rect x="267.7" y="155.4" width="100.5" height="1.3" fill="rgb(250,239,190)"/>
<rect x="262.6" y="159.6" width="103.8" height="2.5" fill="rgb(200,200,202)"/>
<rect x="262.6" y="162.1" width="103.8" height="1.3" fill="rgb(236,236,240)"/>
<rect x="264.6" y="159.6" width="94.6" height="2.5" fill="rgb(242,210,70)"/>
<rect x="264.6" y="162.1" width="94.6" height="1.3" fill="rgb(250,239,190)"/>
<rect x="262.6" y="166.4" width="109.9" height="2.5" fill="rgb(200,200,202)"/>
<rect x="262.6" y="168.9" width="109.9" height="1.3" fill="rgb(236,236,240)"/>
<rect x="270.7" y="166.4" width="101.7" height="2.5" fill="rgb(242,210,70)"/>
<rect x="270.7" y="168.9" width="101.7" height="1.3" fill="rgb(250,239,190)"/>
<rect x="262.6" y="173.1" width="108.1" height="2.5" fill="rgb(200,200,202)"/>
<rect x="262.6" y="175.6" width="108.1" height="1.3" fill="rgb(236,236,240)"/>
<rect x="272.3" y="173.1" width="98.4" height="2.5" fill="rgb(242,210,70)"/>
<rect x="272.3" y="175.6" width="98.4" height="1.3" fill="rgb(250,239,190)"/>
<rect x="262.6" y="179.8" width="104.8" height="2.5" fill="rgb(200,200,202)"/>
<rect x="262.6" y="182.3" width="104.8" height="1.3" fill="rgb(236,236,240)"/>
<rect x="263.9" y="179.8" width="103.5" height="2.5" fill="rgb(242,210,70)"/>
<rect x="263.9" y="182.3" width="103.5" height="1.3" fill="rgb(250,239,190)"/>
<rect x="262.6" y="186.5" width="104.8" height="2.5" fill="rgb(200,200,202)"/>
<rect x="262.6" y="189.0" width="104.8" height="1.3" fill="rgb(236,236,240)"/>
<rect x="263.9" y="186.5" width="103.5" height="2.5" fill="rgb(242,210,70)"/>
<rect x="263.9" y="189.0" width="103.5" height="1.3" fill="rgb(250,239,190)"/>
<rect x="262.6" y="193.2" width="110.6" height="2.5" fill="rgb(200,200,202)"/>
<rect x="262.6" y="195.7" width="110.6" height="1.3" fill="rgb(236,236,240)"/>
<rect x="267.7" y="193.2" width="104.3" height="2.5" fill="rgb(242,210,70)"/>
<rect x="267.7" y="195.7" width="104.3" height="1.3" fill="rgb(250,239,190)"/>
<rect x="262.6" y="199.9" width="105.6" height="2.5" fill="rgb(200,200,202)"/>
<rect x="262.6" y="202.4" width="105.6" height="1.3" fill="rgb(236,236,240)"/>
<rect x="265.1" y="199.9" width="103.0" height="2.5" fill="rgb(242,210,70)"/>
<rect x="265.1" y="202.4" width="103.0" height="1.3" fill="rgb(250,239,190)"/>
<rect x="262.6" y="206.7" width="103.8" height="2.5" fill="rgb(200,200,202)"/>
<rect x="262.6" y="209.2" width="103.8" height="1.3" fill="rgb(236,236,240)"/>
<rect x="265.1" y="206.7" width="101.2" height="2.5" fill="rgb(242,210,70)"/>
<rect x="265.1" y="209.2" width="101.2" height="1.3" fill="rgb(250,239,190)"/>
<rect x="262.6" y="213.4" width="104.3" height="2.5" fill="rgb(200,200,202)"/>
<rect x="262.6" y="215.9" width="104.3" height="1.3" fill="rgb(236,236,240)"/>
<rect x="263.9" y="213.4" width="103.0" height="2.5" fill="rgb(242,210,70)"/>
<rect x="263.9" y="215.9" width="103.0" height="1.3" fill="rgb(250,239,190)"/>
<rect x="262.6" y="220.1" width="108.1" height="2.5" fill="rgb(200,200,202)"/>
<rect x="262.6" y="222.6" width="108.1" height="1.3" fill="rgb(236,236,240)"/>
<rect x="263.1" y="220.1" width="105.0" height="2.5" fill="rgb(242,210,70)"/>
<rect x="263.1" y="222.6" width="105.0" height="1.3" fill="rgb(250,239,190)"/>
<rect x="262.6" y="226.8" width="109.9" height="2.5" fill="rgb(200,200,202)"/>
<rect x="262.6" y="229.3" width="109.9" height="1.3" fill="rgb(236,236,240)"/>
<rect x="263.1" y="226.8" width="108.9" height="2.5" fill="rgb(242,210,70)"/>
<rect x="263.1" y="229.3" width="108.9" height="1.3" fill="rgb(250,239,190)"/>
<rect x="262.6" y="233.5" width="108.9" height="2.5" fill="rgb(200,200,202)"/>
<rect x="262.6" y="236.0" width="108.9" height="1.3" fill="rgb(236,236,240)"/>
<rect x="263.1" y="233.5" width="106.8" height="2.5" fill="rgb(242,210,70)"/>
<rect x="263.1" y="236.0" width="106.8" height="1.3" fill="rgb(250,239,190)"/>
<rect x="262.6" y="240.2" width="109.4" height="2.5" fill="rgb(200,200,202)"/>
<rect x="262.6" y="242.7" width="109.4" height="1.3" fill="rgb(236,236,240)"/>
<rect x="265.1" y="240.2" width="105.6" height="2.5" fill="rgb(242,210,70)"/>
<rect x="265.1" y="242.7" width="105.6" height="1.3" fill="rgb(250,239,190)"/>
<rect x="262.6" y="247.0" width="110.6" height="2.5" fill="rgb(200,200,202)"/>
<rect x="262.6" y="249.5" width="110.6" height="1.3" fill="rgb(236,236,240)"/>
<rect x="263.9" y="247.0" width="107.6" height="2.5" fill="rgb(242,210,70)"/>
<rect x="263.9" y="249.5" width="107.6" height="1.3" fill="rgb(250,239,190)"/>
<rect x="262.6" y="253.7" width="109.4" height="2.5" fill="rgb(200,200,202)"/>
<rect x="262.6" y="256.2" width="109.4" height="1.3" fill="rgb(236,236,240)"/>
<rect x="265.1" y="253.7" width="92.8" height="2.5" fill="rgb(242,210,70)"/>
<rect x="265.1" y="256.2" width="92.8" height="1.3" fill="rgb(250,239,190)"/>
<rect x="262.6" y="260.4" width="109.9" height="2.5" fill="rgb(200,200,202)"/>
<rect x="262.6" y="262.9" width="109.9" height="1.3" fill="rgb(236,236,240)"/>
<rect x="263.9" y="260.4" width="107.6" height="2.5" fill="rgb(242,210,70)"/>
<rect x="263.9" y="262.9" width="107.6" height="1.3" fill="rgb(250,239,190)"/>
<rect x="262.6" y="267.1" width="102.2" height="2.5" fill="rgb(200,200,202)"/>
<rect x="262.6" y="269.6" width="102.2" height="1.3" fill="rgb(236,236,240)"/>
<rect x="264.6" y="267.1" width="100.2" height="2.5" fill="rgb(242,210,70)"/>
<rect x="264.6" y="269.6" width="100.2" height="1.3" fill="rgb(250,239,190)"/>
<rect x="262.6" y="273.8" width="111.9" height="2.5" fill="rgb(200,200,202)"/>
<rect x="262.6" y="276.3" width="111.9" height="1.3" fill="rgb(236,236,240)"/>
<rect x="265.1" y="273.8" width="108.1" height="2.5" fill="rgb(242,210,70)"/>
<rect x="265.1" y="276.3" width="108.1" height="1.3" fill="rgb(250,239,190)"/>
<rect x="262.6" y="280.6" width="108.9" height="2.5" fill="rgb(200,200,202)"/>
<rect x="262.6" y="283.1" width="108.9" height="1.3" fill="rgb(236,236,240)"/>
<rect x="265.1" y="280.6" width="106.3" height="2.5" fill="rgb(242,210,70)"/>
<rect x="265.1" y="283.1" width="106.3" height="1.3" fill="rgb(250,239,190)"/>
<rect x="262.6" y="287.3" width="108.9" height="2.5" fill="rgb(200,200,202)"/>
<rect x="262.6" y="289.8" width="108.9" height="1.3" fill="rgb(236,236,240)"/>
<rect x="263.1" y="287.3" width="108.4" height="2.5" fill="rgb(242,210,70)"/>
<rect x="263.1" y="289.8" width="108.4" height="1.3" fill="rgb(250,239,190)"/>
<rect x="262.6" y="294.0" width="104.8" height="2.5" fill="rgb(200,200,202)"/>
<rect x="262.6" y="296.5" width="104.8" height="1.3" fill="rgb(236,236,240)"/>
<rect x="263.1" y="294.0" width="101.7" height="2.5" fill="rgb(242,210,70)"/>
<rect x="263.1" y="296.5" width="101.7" height="1.3" fill="rgb(250,239,190)"/>
<rect x="262.6" y="300.7" width="109.9" height="2.5" fill="rgb(200,200,202)"/>
<rect x="262.6" y="303.2" width="109.9" height="1.3" fill="rgb(236,236,240)"/>
<rect x="266.4" y="300.7" width="105.6" height="2.5" fill="rgb(242,210,70)"/>
<rect x="266.4" y="303.2" width="105.6" height="1.3" fill="rgb(250,239,190)"/>
<rect x="262.6" y="307.4" width="114.5" height="2.5" fill="rgb(200,200,202)"/>
<rect x="262.6" y="309.9" width="114.5" height="1.3" fill="rgb(236,236,240)"/>
<rect x="263.1" y="307.4" width="111.4" height="2.5" fill="rgb(242,210,70)"/>
<rect x="263.1" y="309.9" width="111.4" height="1.3" fill="rgb(250,239,190)"/>
<rect x="262.6" y="314.1" width="106.3" height="2.5" fill="rgb(200,200,202)"/>
<rect x="262.6" y="316.6" width="106.3" height="1.3" fill="rgb(236,236,240)"/>
<rect x="263.1" y="314.1" width="105.8" height="2.5" fill="rgb(242,210,70)"/>
<rect x="263.1" y="316.6" width="105.8" height="1.3" fill="rgb(250,239,190)"/>
<rect x="262.6" y="320.9" width="104.8" height="2.5" fill="rgb(200,200,202)"/>
<rect x="262.6" y="323.4" width="104.8" height="1.3" fill="rgb(236,236,240)"/>
<rect x="263.1" y="320.9" width="104.3" height="2.5" fill="rgb(242,210,70)"/>
<rect x="263.1" y="323.4" width="104.3" height="1.3" fill="rgb(250,239,190)"/>
<rect x="262.6" y="327.6" width="109.4" height="2.5" fill="rgb(200,200,202)"/>
<rect x="262.6" y="330.1" width="109.4" height="1.3" fill="rgb(236,236,240)"/>
<rect x="263.1" y="327.6" width="107.6" height="2.5" fill="rgb(242,210,70)"/>
<rect x="263.1" y="330.1" width="107.6" height="1.3" fill="rgb(250,239,190)"/>
<rect x="262.6" y="334.3" width="102.2" height="2.5" fill="rgb(200,200,202)"/>
<rect x="262.6" y="336.8" width="102.2" height="1.3" fill="rgb(236,236,240)"/>
<rect x="263.1" y="334.3" width="101.7" height="2.5" fill="rgb(242,210,70)"/>
<rect x="263.1" y="336.8" width="101.7" height="1.3" fill="rgb(250,239,190)"/>
<rect x="262.6" y="341.0" width="102.2" height="2.5" fill="rgb(200,200,202)"/>
<rect x="262.6" y="343.5" width="102.2" height="1.3" fill="rgb(236,236,240)"/>
<rect x="263.1" y="341.0" width="97.4" height="2.5" fill="rgb(242,210,70)"/>
<rect x="263.1" y="343.5" width="97.4" height="1.3" fill="rgb(250,239,190)"/>
<rect x="262.6" y="347.7" width="102.2" height="2.5" fill="rgb(200,200,202)"/>
<rect x="262.6" y="350.2" width="102.2" height="1.3" fill="rgb(236,236,240)"/>
<rect x="263.1" y="347.7" width="97.4" height="2.5" fill="rgb(242,210,70)"/>
<rect x="263.1" y="350.2" width="97.4" height="1.3" fill="rgb(250,239,190)"/>
<rect x="262.6" y="354.4" width="103.0" height="2.5" fill="rgb(200,200,202)"/>
<rect x="262.6" y="356.9" width="103.0" height="1.3" fill="rgb(236,236,240)"/>
<rect x="263.1" y="354.4" width="97.4" height="2.5" fill="rgb(242,210,70)"/>
<rect x="263.1" y="356.9" width="97.4" height="1.3" fill="rgb(250,239,190)"/>
<rect x="262.6" y="361.2" width="109.4" height="2.5" fill="rgb(200,200,202)"/>
<rect x="262.6" y="363.7" width="109.4" height="1.3" fill="rgb(236,236,240)"/>
<rect x="265.6" y="361.2" width="106.3" height="2.5" fill="rgb(242,210,70)"/>
<rect x="265.6" y="363.7" width="106.3" height="1.3" fill="rgb(250,239,190)"/>
<rect x="262.6" y="367.9" width="117.0" height="2.5" fill="rgb(200,200,202)"/>
<rect x="262.6" y="370.4" width="117.0" height="1.3" fill="rgb(236,236,240)"/>
<rect x="265.6" y="367.9" width="108.9" height="2.5" fill="rgb(242,210,70)"/>
<rect x="265.6" y="370.4" width="108.9" height="1.3" fill="rgb(250,239,190)"/>
<rect x="262.6" y="374.6" width="111.9" height="2.5" fill="rgb(200,200,202)"/>
<rect x="262.6" y="377.1" width="111.9" height="1.3" fill="rgb(236,236,240)"/>
<rect x="266.4" y="374.6" width="108.1" height="2.5" fill="rgb(242,210,70)"/>
<rect x="266.4" y="377.1" width="108.1" height="1.3" fill="rgb(250,239,190)"/>
<rect x="262.6" y="381.3" width="105.6" height="2.5" fill="rgb(200,200,202)"/>
<rect x="262.6" y="383.8" width="105.6" height="1.3" fill="rgb(236,236,240)"/>
<rect x="263.1" y="381.3" width="105.0" height="2.5" fill="rgb(242,210,70)"/>
<rect x="263.1" y="383.8" width="105.0" height="1.3" fill="rgb(250,239,190)"/>
<rect x="262.6" y="388.0" width="103.8" height="2.5" fill="rgb(200,200,202)"/>
<rect x="262.6" y="390.5" width="103.8" height="1.3" fill="rgb(236,236,240)"/>
<rect x="263.1" y="388.0" width="103.3" height="2.5" fill="rgb(242,210,70)"/>
<rect x="263.1" y="390.5" width="103.3" height="1.3" fill="rgb(250,239,190)"/>
<rect x="262.6" y="394.7" width="111.9" height="2.5" fill="rgb(200,200,202)"/>
<rect x="262.6" y="397.2" width="111.9" height="1.3" fill="rgb(236,236,240)"/>
<rect x="266.4" y="394.7" width="104.3" height="2.5" fill="rgb(242,210,70)"/>
<rect x="266.4" y="397.2" width="104.3" height="1.3" fill="rgb(250,239,190)"/>
<rect x="262.6" y="401.5" width="109.4" height="2.5" fill="rgb(200,200,202)"/>
<rect x="262.6" y="404.0" width="109.4" height="1.3" fill="rgb(236,236,240)"/>
<rect x="265.6" y="401.5" width="106.3" height="2.5" fill="rgb(242,210,70)"/>
<rect x="265.6" y="404.0" width="106.3" height="1.3" fill="rgb(250,239,190)"/>
<rect x="262.6" y="408.2" width="105.6" height="2.5" fill="rgb(200,200,202)"/>
<rect x="262.6" y="410.7" width="105.6" height="1.3" fill="rgb(236,236,240)"/>
<rect x="263.1" y="408.2" width="105.0" height="2.5" fill="rgb(242,210,70)"/>
<rect x="263.1" y="410.7" width="105.0" height="1.3" fill="rgb(250,239,190)"/>
<rect x="262.6" y="414.9" width="105.6" height="2.5" fill="rgb(200,200,202)"/>
<rect x="262.6" y="417.4" width="105.6" height="1.3" fill="rgb(236,236,240)"/>
<rect x="265.1" y="414.9" width="103.0" height="2.5" fill="rgb(242,210,70)"/>
<rect x="265.1" y="417.4" width="103.0" height="1.3" fill="rgb(250,239,190)"/>
<rect x="262.6" y="421.6" width="105.6" height="2.5" fill="rgb(200,200,202)"/>
<rect x="262.6" y="424.1" width="105.6" height="1.3" fill="rgb(236,236,240)"/>
<rect x="265.1" y="421.6" width="103.0" height="2.5" fill="rgb(242,210,70)"/>
<rect x="265.1" y="424.1" width="103.0" height="1.3" fill="rgb(250,239,190)"/>
<rect x="262.6" y="428.3" width="105.6" height="2.5" fill="rgb(200,200,202)"/>
<rect x="262.6" y="430.8" width="105.6" height="1.3" fill="rgb(236,236,240)"/>
<rect x="265.1" y="428.3" width="103.0" height="2.5" fill="rgb(242,210,70)"/>
<rect x="265.1" y="430.8" width="103.0" height="1.3" fill="rgb(250,239,190)"/>
<rect x="262.6" y="435.0" width="104.3" height="2.5" fill="rgb(200,200,202)"/>
<rect x="262.6" y="437.5" width="104.3" height="1.3" fill="rgb(236,236,240)"/>
<rect x="265.1" y="435.0" width="101.7" height="2.5" fill="rgb(242,210,70)"/>
<rect x="265.1" y="437.5" width="101.7" height="1.3" fill="rgb(250,239,190)"/>
<rect x="262.6" y="441.8" width="104.3" height="2.5" fill="rgb(200,200,202)"/>
<rect x="262.6" y="444.3" width="104.3" height="1.3" fill="rgb(236,236,240)"/>
<rect x="265.6" y="441.8" width="101.2" height="2.5" fill="rgb(242,210,70)"/>
<rect x="265.6" y="444.3" width="101.2" height="1.3" fill="rgb(250,239,190)"/>
<rect x="262.6" y="448.5" width="106.3" height="2.5" fill="rgb(200,200,202)"/>
<rect x="262.6" y="451.0" width="106.3" height="1.3" fill="rgb(236,236,240)"/>
<rect x="267.7" y="448.5" width="101.2" height="2.5" fill="rgb(242,210,70)"/>
<rect x="267.7" y="451.0" width="101.2" height="1.3" fill="rgb(250,239,190)"/>
<rect x="262.6" y="455.2" width="108.1" height="2.5" fill="rgb(200,200,202)"/>
<rect x="262.6" y="457.7" width="108.1" height="1.3" fill="rgb(236,236,240)"/>
<rect x="267.7" y="455.2" width="103.0" height="2.5" fill="rgb(242,210,70)"/>
<rect x="267.7" y="457.7" width="103.0" height="1.3" fill="rgb(250,239,190)"/>
<rect x="262.6" y="461.9" width="106.8" height="2.5" fill="rgb(200,200,202)"/>
<rect x="262.6" y="464.4" width="106.8" height="1.3" fill="rgb(236,236,240)"/>
<rect x="267.7" y="461.9" width="101.7" height="2.5" fill="rgb(242,210,70)"/>
<rect x="267.7" y="464.4" width="101.7" height="1.3" fill="rgb(250,239,190)"/>
<rect x="262.6" y="468.6" width="108.1" height="2.5" fill="rgb(200,200,202)"/>
<rect x="262.6" y="471.1" width="108.1" height="1.3" fill="rgb(236,236,240)"/>
<rect x="266.4" y="468.6" width="104.3" height="2.5" fill="rgb(242,210,70)"/>
<rect x="266.4" y="471.1" width="104.3" height="1.3" fill="rgb(250,239,190)"/>
<rect x="262.6" y="475.3" width="108.9" height="2.5" fill="rgb(200,200,202)"/>
<rect x="262.6" y="477.8" width="108.9" height="1.3" fill="rgb(236,236,240)"/>
<rect x="265.6" y="475.3" width="103.8" height="2.5" fill="rgb(242,210,70)"/>
<rect x="265.6" y="477.8" width="103.8" height="1.3" fill="rgb(250,239,190)"/>
<rect x="262.6" y="482.1" width="106.8" height="2.5" fill="rgb(200,200,202)"/>
<rect x="262.6" y="484.6" width="106.8" height="1.3" fill="rgb(236,236,240)"/>
<rect x="263.9" y="482.1" width="89.0" height="2.5" fill="rgb(242,210,70)"/>
<rect x="263.9" y="484.6" width="89.0" height="1.3" fill="rgb(250,239,190)"/>
<rect x="262.6" y="488.8" width="107.3" height="2.5" fill="rgb(200,200,202)"/>
<rect x="262.6" y="491.3" width="107.3" height="1.3" fill="rgb(236,236,240)"/>
<rect x="266.4" y="488.8" width="103.5" height="2.5" fill="rgb(242,210,70)"/>
<rect x="266.4" y="491.3" width="103.5" height="1.3" fill="rgb(250,239,190)"/>
<rect x="262.6" y="495.5" width="108.9" height="2.5" fill="rgb(200,200,202)"/>
<rect x="262.6" y="498.0" width="108.9" height="1.3" fill="rgb(236,236,240)"/>
<rect x="266.4" y="495.5" width="103.0" height="2.5" fill="rgb(242,210,70)"/>
<rect x="266.4" y="498.0" width="103.0" height="1.3" fill="rgb(250,239,190)"/>
<rect x="262.6" y="502.2" width="106.8" height="2.5" fill="rgb(200,200,202)"/>
<rect x="262.6" y="504.7" width="106.8" height="1.3" fill="rgb(236,236,240)"/>
<rect x="263.1" y="502.2" width="106.3" height="2.5" fill="rgb(242,210,70)"/>
<rect x="263.1" y="504.7" width="106.3" height="1.3" fill="rgb(250,239,190)"/>
<rect x="262.6" y="508.9" width="109.4" height="2.5" fill="rgb(200,200,202)"/>
<rect x="262.6" y="511.4" width="109.4" height="1.3" fill="rgb(236,236,240)"/>
<rect x="266.4" y="508.9" width="105.6" height="2.5" fill="rgb(242,210,70)"/>
<rect x="266.4" y="511.4" width="105.6" height="1.3" fill="rgb(250,239,190)"/>
<rect x="262.6" y="515.6" width="111.9" height="2.5" fill="rgb(200,200,202)"/>
<rect x="262.6" y="518.1" width="111.9" height="1.3" fill="rgb(236,236,240)"/>
<rect x="266.4" y="515.6" width="108.1" height="2.5" fill="rgb(242,210,70)"/>
<rect x="266.4" y="518.1" width="108.1" height="1.3" fill="rgb(250,239,190)"/>
<rect x="262.6" y="522.4" width="111.9" height="2.5" fill="rgb(200,200,202)"/>
<rect x="262.6" y="524.9" width="111.9" height="1.3" fill="rgb(236,236,240)"/>
<rect x="266.4" y="522.4" width="108.1" height="2.5" fill="rgb(242,210,70)"/>
<rect x="266.4" y="524.9" width="108.1" height="1.3" fill="rgb(250,239,190)"/>
<rect x="262.6" y="529.1" width="108.1" height="2.5" fill="rgb(200,200,202)"/>
<rect x="262.6" y="531.6" width="108.1" height="1.3" fill="rgb(236,236,240)"/>
<rect x="263.1" y="529.1" width="105.0" height="2.5" fill="rgb(242,210,70)"/>
<rect x="263.1" y="531.6" width="105.0" height="1.3" fill="rgb(250,239,190)"/>
<rect x="262.6" y="535.8" width="108.1" height="2.5" fill="rgb(200,200,202)"/>
<rect x="262.6" y="538.3" width="108.1" height="1.3" fill="rgb(236,236,240)"/>
<rect x="262.6" y="535.8" width="108.1" height="2.5" fill="rgb(86,160,162)"/>
<rect x="262.6" y="538.3" width="108.1" height="1.3" fill="rgb(195,221,222)"/>
<rect x="262.6" y="542.5" width="104.8" height="2.5" fill="rgb(200,200,202)"/>
<rect x="262.6" y="545.0" width="104.8" height="1.3" fill="rgb(236,236,240)"/>
<rect x="262.6" y="542.5" width="104.8" height="2.5" fill="rgb(86,160,162)"/>
<rect x="262.6" y="545.0" width="104.8" height="1.3" fill="rgb(195,221,222)"/>
<rect x="262.6" y="549.2" width="106.3" height="2.5" fill="rgb(200,200,202)"/>
<rect x="262.6" y="551.7" width="106.3" height="1.3" fill="rgb(236,236,240)"/>
<rect x="263.1" y="549.2" width="102.5" height="2.5" fill="rgb(86,160,162)"/>
<rect x="263.1" y="551.7" width="102.5" height="1.3" fill="rgb(195,221,222)"/>
<rect x="262.6" y="555.9" width="107.3" height="2.5" fill="rgb(200,200,202)"/>
<rect x="262.6" y="558.4" width="107.3" height="1.3" fill="rgb(236,236,240)"/>
<rect x="263.1" y="555.9" width="106.8" height="2.5" fill="rgb(86,160,162)"/>
<rect x="263.1" y="558.4" width="106.8" height="1.3" fill="rgb(195,221,222)"/>
<rect x="262.6" y="562.7" width="106.8" height="2.5" fill="rgb(200,200,202)"/>
<rect x="262.6" y="565.2" width="106.8" height="1.3" fill="rgb(236,236,240)"/>
<rect x="265.6" y="562.7" width="103.8" height="2.5" fill="rgb(242,210,70)"/>
<rect x="265.6" y="565.2" width="103.8" height="1.3" fill="rgb(250,239,190)"/>
<rect x="262.6" y="569.4" width="105.6" height="2.5" fill="rgb(200,200,202)"/>
<rect x="262.6" y="571.9" width="105.6" height="1.3" fill="rgb(236,236,240)"/>
<rect x="263.1" y="569.4" width="96.1" height="2.5" fill="rgb(242,210,70)"/>
<rect x="263.1" y="571.9" width="96.1" height="1.3" fill="rgb(250,239,190)"/>
<rect x="262.6" y="576.1" width="104.3" height="2.5" fill="rgb(200,200,202)"/>
<rect x="262.6" y="578.6" width="104.3" height="1.3" fill="rgb(236,236,240)"/>
<rect x="263.1" y="576.1" width="101.7" height="2.5" fill="rgb(242,210,70)"/>
<rect x="263.1" y="578.6" width="101.7" height="1.3" fill="rgb(250,239,190)"/>
<rect x="262.6" y="582.8" width="108.1" height="2.5" fill="rgb(200,200,202)"/>
<rect x="262.6" y="585.3" width="108.1" height="1.3" fill="rgb(236,236,240)"/>
<rect x="263.1" y="582.8" width="107.6" height="2.5" fill="rgb(242,210,70)"/>
<rect x="263.1" y="585.3" width="107.6" height="1.3" fill="rgb(250,239,190)"/>
<rect x="262.6" y="589.5" width="116.5" height="2.5" fill="rgb(200,200,202)"/>
<rect x="262.6" y="592.0" width="116.5" height="1.3" fill="rgb(236,236,240)"/>
<rect x="263.1" y="589.5" width="108.9" height="2.5" fill="rgb(242,210,70)"/>
<rect x="263.1" y="592.0" width="108.9" height="1.3" fill="rgb(250,239,190)"/>
<rect x="262.6" y="596.2" width="108.9" height="2.5" fill="rgb(200,200,202)"/>
<rect x="262.6" y="598.7" width="108.9" height="1.3" fill="rgb(236,236,240)"/>
<rect x="263.1" y="596.2" width="108.4" height="2.5" fill="rgb(242,210,70)"/>
<rect x="263.1" y="598.7" width="108.4" height="1.3" fill="rgb(250,239,190)"/>
<rect x="262.6" y="603.0" width="108.9" height="2.5" fill="rgb(200,200,202)"/>
<rect x="262.6" y="605.5" width="108.9" height="1.3" fill="rgb(236,236,240)"/>
<rect x="263.1" y="603.0" width="105.0" height="2.5" fill="rgb(242,210,70)"/>
<rect x="263.1" y="605.5" width="105.0" height="1.3" fill="rgb(250,239,190)"/>
<rect x="262.6" y="609.7" width="107.3" height="2.5" fill="rgb(200,200,202)"/>
<rect x="262.6" y="612.2" width="107.3" height="1.3" fill="rgb(236,236,240)"/>
<rect x="263.1" y="609.7" width="106.8" height="2.5" fill="rgb(242,210,70)"/>
<rect x="263.1" y="612.2" width="106.8" height="1.3" fill="rgb(250,239,190)"/>
<rect x="262.6" y="616.4" width="105.6" height="2.5" fill="rgb(200,200,202)"/>
<rect x="262.6" y="618.9" width="105.6" height="1.3" fill="rgb(236,236,240)"/>
<rect x="263.1" y="616.4" width="105.0" height="2.5" fill="rgb(242,210,70)"/>
<rect x="263.1" y="618.9" width="105.0" height="1.3" fill="rgb(250,239,190)"/>
<rect x="262.6" y="623.1" width="104.8" height="2.5" fill="rgb(200,200,202)"/>
<rect x="262.6" y="625.6" width="104.8" height="1.3" fill="rgb(236,236,240)"/>
<rect x="263.1" y="623.1" width="104.3" height="2.5" fill="rgb(242,210,70)"/>
<rect x="263.1" y="625.6" width="104.3" height="1.3" fill="rgb(250,239,190)"/>
<rect x="262.6" y="629.8" width="105.6" height="2.5" fill="rgb(200,200,202)"/>
<rect x="262.6" y="632.3" width="105.6" height="1.3" fill="rgb(236,236,240)"/>
<rect x="263.1" y="629.8" width="105.0" height="2.5" fill="rgb(242,210,70)"/>
<rect x="263.1" y="632.3" width="105.0" height="1.3" fill="rgb(250,239,190)"/>
<rect x="262.6" y="636.6" width="108.1" height="2.5" fill="rgb(200,200,202)"/>
<rect x="262.6" y="639.1" width="108.1" height="1.3" fill="rgb(236,236,240)"/>
<rect x="290.6" y="636.6" width="77.6" height="2.5" fill="rgb(242,210,70)"/>
<rect x="290.6" y="639.1" width="77.6" height="1.3" fill="rgb(250,239,190)"/>
<rect x="262.6" y="643.3" width="106.3" height="2.5" fill="rgb(200,200,202)"/>
<rect x="262.6" y="645.8" width="106.3" height="1.3" fill="rgb(236,236,240)"/>
<rect x="265.6" y="643.3" width="103.3" height="2.5" fill="rgb(242,210,70)"/>
<rect x="265.6" y="645.8" width="103.3" height="1.3" fill="rgb(250,239,190)"/>
<rect x="262.6" y="650.0" width="113.9" height="2.5" fill="rgb(200,200,202)"/>
<rect x="262.6" y="652.5" width="113.9" height="1.3" fill="rgb(236,236,240)"/>
<rect x="267.2" y="650.0" width="107.8" height="2.5" fill="rgb(242,210,70)"/>
<rect x="267.2" y="652.5" width="107.8" height="1.3" fill="rgb(250,239,190)"/>
<rect x="262.6" y="656.7" width="110.6" height="2.5" fill="rgb(200,200,202)"/>
<rect x="262.6" y="659.2" width="110.6" height="1.3" fill="rgb(236,236,240)"/>
<rect x="263.1" y="656.7" width="107.6" height="2.5" fill="rgb(242,210,70)"/>
<rect x="263.1" y="659.2" width="107.6" height="1.3" fill="rgb(250,239,190)"/>
<rect x="262.6" y="663.4" width="106.3" height="2.5" fill="rgb(200,200,202)"/>
<rect x="262.6" y="665.9" width="106.3" height="1.3" fill="rgb(236,236,240)"/>
<rect x="263.1" y="663.4" width="105.8" height="2.5" fill="rgb(242,210,70)"/>
<rect x="263.1" y="665.9" width="105.8" height="1.3" fill="rgb(250,239,190)"/>
<rect x="262.6" y="670.1" width="113.9" height="2.5" fill="rgb(200,200,202)"/>
<rect x="262.6" y="672.6" width="113.9" height="1.3" fill="rgb(236,236,240)"/>
<rect x="263.1" y="670.1" width="111.4" height="2.5" fill="rgb(242,210,70)"/>
<rect x="263.1" y="672.6" width="111.4" height="1.3" fill="rgb(250,239,190)"/>
<rect x="262.6" y="676.9" width="111.9" height="2.5" fill="rgb(200,200,202)"/>
<rect x="262.6" y="679.4" width="111.9" height="1.3" fill="rgb(236,236,240)"/>
<rect x="263.1" y="676.9" width="111.4" height="2.5" fill="rgb(242,210,70)"/>
<rect x="263.1" y="679.4" width="111.4" height="1.3" fill="rgb(250,239,190)"/>
<rect x="262.6" y="683.6" width="100.5" height="2.5" fill="rgb(200,200,202)"/>
<rect x="262.6" y="686.1" width="100.5" height="1.3" fill="rgb(236,236,240)"/>
<rect x="267.2" y="683.6" width="95.9" height="2.5" fill="rgb(242,210,70)"/>
<rect x="267.2" y="686.1" width="95.9" height="1.3" fill="rgb(250,239,190)"/>
<rect x="262.6" y="690.3" width="113.2" height="2.5" fill="rgb(200,200,202)"/>
<rect x="262.6" y="692.8" width="113.2" height="1.3" fill="rgb(236,236,240)"/>
<rect x="263.1" y="690.3" width="110.1" height="2.5" fill="rgb(242,210,70)"/>
<rect x="263.1" y="692.8" width="110.1" height="1.3" fill="rgb(250,239,190)"/>
<rect x="262.6" y="697.0" width="106.3" height="2.5" fill="rgb(200,200,202)"/>
<rect x="262.6" y="699.5" width="106.3" height="1.3" fill="rgb(236,236,240)"/>
<rect x="263.1" y="697.0" width="105.8" height="2.5" fill="rgb(242,210,70)"/>
<rect x="263.1" y="699.5" width="105.8" height="1.3" fill="rgb(250,239,190)"/>
<rect x="262.6" y="703.7" width="118.3" height="2.5" fill="rgb(200,200,202)"/>
<rect x="262.6" y="706.2" width="118.3" height="1.3" fill="rgb(236,236,240)"/>
<rect x="263.1" y="703.7" width="108.9" height="2.5" fill="rgb(242,210,70)"/>
<rect x="263.1" y="706.2" width="108.9" height="1.3" fill="rgb(250,239,190)"/>
<rect x="262.6" y="710.4" width="108.9" height="2.5" fill="rgb(200,200,202)"/>
<rect x="262.6" y="712.9" width="108.9" height="1.3" fill="rgb(236,236,240)"/>
<rect x="263.1" y="710.4" width="108.4" height="2.5" fill="rgb(242,210,70)"/>
<rect x="263.1" y="712.9" width="108.4" height="1.3" fill="rgb(250,239,190)"/>
<rect x="262.6" y="717.2" width="109.9" height="2.5" fill="rgb(200,200,202)"/>
<rect x="262.6" y="719.7" width="109.9" height="1.3" fill="rgb(236,236,240)"/>
<rect x="263.1" y="717.2" width="108.4" height="2.5" fill="rgb(242,210,70)"/>
<rect x="263.1" y="719.7" width="108.4" height="1.3" fill="rgb(250,239,190)"/>
<rect x="262.6" y="723.9" width="116.5" height="2.5" fill="rgb(200,200,202)"/>
<rect x="262.6" y="726.4" width="116.5" height="1.3" fill="rgb(236,236,240)"/>
<rect x="263.1" y="723.9" width="107.6" height="2.5" fill="rgb(242,210,70)"/>
<rect x="263.1" y="726.4" width="107.6" height="1.3" fill="rgb(250,239,190)"/>
<rect x="262.6" y="730.6" width="108.9" height="2.5" fill="rgb(200,200,202)"/>
<rect x="262.6" y="733.1" width="108.9" height="1.3" fill="rgb(236,236,240)"/>
<rect x="263.1" y="730.6" width="103.8" height="2.5" fill="rgb(242,210,70)"/>
<rect x="263.1" y="733.1" width="103.8" height="1.3" fill="rgb(250,239,190)"/>
<rect x="262.6" y="737.3" width="104.3" height="2.5" fill="rgb(200,200,202)"/>
<rect x="262.6" y="739.8" width="104.3" height="1.3" fill="rgb(236,236,240)"/>
<rect x="263.1" y="737.3" width="100.0" height="2.5" fill="rgb(242,210,70)"/>
<rect x="263.1" y="739.8" width="100.0" height="1.3" fill="rgb(250,239,190)"/>
<rect x="395.1" y="25.3" width="10.0" height="2.6" fill="rgb(243,214,88)"/>
<rect x="395.1" y="27.9" width="10.0" height="1.2" fill="rgb(250,238,188)"/>
<rect x="405.1" y="25.3" width="2.8" height="2.6" fill="rgb(165,204,125)"/>
<rect x="405.1" y="27.9" width="2.8" height="1.2" fill="rgb(219,234,203)"/>
<rect x="395.1" y="32.0" width="9.2" height="2.6" fill="rgb(243,214,88)"/>
<rect x="395.1" y="34.6" width="9.2" height="1.2" fill="rgb(250,238,188)"/>
<rect x="404.3" y="32.0" width="2.4" height="2.6" fill="rgb(165,204,125)"/>
<rect x="404.3" y="34.6" width="2.4" height="1.2" fill="rgb(219,234,203)"/>
<rect x="395.1" y="38.6" width="10.6" height="2.6" fill="rgb(243,214,88)"/>
<rect x="395.1" y="41.2" width="10.6" height="1.2" fill="rgb(250,238,188)"/>
<rect x="405.7" y="38.6" width="2.4" height="2.6" fill="rgb(165,204,125)"/>
<rect x="405.7" y="41.2" width="2.4" height="1.2" fill="rgb(219,234,203)"/>
<rect x="395.1" y="45.3" width="10.0" height="2.6" fill="rgb(243,214,88)"/>
<rect x="395.1" y="47.9" width="10.0" height="1.2" fill="rgb(250,238,188)"/>
<rect x="405.1" y="45.3" width="2.8" height="2.6" fill="rgb(165,204,125)"/>
<rect x="405.1" y="47.9" width="2.8" height="1.2" fill="rgb(219,234,203)"/>
<rect x="395.1" y="51.9" width="10.6" height="2.6" fill="rgb(243,214,88)"/>
<rect x="395.1" y="54.5" width="10.6" height="1.2" fill="rgb(250,238,188)"/>
<rect x="395.1" y="58.6" width="9.2" height="2.6" fill="rgb(243,214,88)"/>
<rect x="395.1" y="61.2" width="9.2" height="1.2" fill="rgb(250,238,188)"/>
<rect x="404.3" y="58.6" width="2.4" height="2.6" fill="rgb(165,204,125)"/>
<rect x="404.3" y="61.2" width="2.4" height="1.2" fill="rgb(219,234,203)"/>
<path d="M399.1 66.5H402.1" stroke="rgb(100,100,105)" stroke-width="0.6"/>
<rect x="395.1" y="65.2" width="4.0" height="2.6" fill="rgb(243,214,88)"/>
<rect x="395.1" y="67.8" width="4.0" height="1.2" fill="rgb(250,238,188)"/>
<rect x="402.1" y="65.2" width="5.9" height="2.6" fill="rgb(243,214,88)"/>
<rect x="402.1" y="67.8" width="5.9" height="1.2" fill="rgb(250,238,188)"/>
<rect x="408.0" y="65.2" width="2.0" height="2.6" fill="rgb(165,204,125)"/>
<rect x="408.0" y="67.8" width="2.0" height="1.2" fill="rgb(219,234,203)"/>
<rect x="395.1" y="71.9" width="1.5" height="2.6" fill="rgb(165,204,125)"/>
<rect x="395.1" y="74.5" width="1.5" height="1.2" fill="rgb(219,234,203)"/>
<rect x="396.6" y="71.9" width="10.3" height="2.6" fill="rgb(243,214,88)"/>
<rect x="396.6" y="74.5" width="10.3" height="1.2" fill="rgb(250,238,188)"/>
<rect x="406.9" y="71.9" width="1.8" height="2.6" fill="rgb(165,204,125)"/>
<rect x="406.9" y="74.5" width="1.8" height="1.2" fill="rgb(219,234,203)"/>
<rect x="395.1" y="78.5" width="11.6" height="2.6" fill="rgb(243,214,88)"/>
<rect x="395.1" y="81.1" width="11.6" height="1.2" fill="rgb(250,238,188)"/>
<rect x="395.1" y="85.2" width="10.6" height="2.6" fill="rgb(243,214,88)"/>
<rect x="395.1" y="87.8" width="10.6" height="1.2" fill="rgb(250,238,188)"/>
<rect x="395.1" y="91.8" width="11.6" height="2.6" fill="rgb(243,214,88)"/>
<rect x="395.1" y="94.4" width="11.6" height="1.2" fill="rgb(250,238,188)"/>
<rect x="395.1" y="98.5" width="13.0" height="2.6" fill="rgb(165,204,125)"/>
<rect x="395.1" y="101.1" width="13.0" height="1.2" fill="rgb(219,234,203)"/>
<rect x="408.1" y="98.5" width="10.3" height="2.6" fill="rgb(243,214,88)"/>
<rect x="408.1" y="101.1" width="10.3" height="1.2" fill="rgb(250,238,188)"/>
<rect x="395.1" y="105.1" width="10.6" height="2.6" fill="rgb(243,214,88)"/>
<rect x="395.1" y="107.7" width="10.6" height="1.2" fill="rgb(250,238,188)"/>
<rect x="405.7" y="105.1" width="3.0" height="2.6" fill="rgb(165,204,125)"/>
<rect x="405.7" y="107.7" width="3.0" height="1.2" fill="rgb(219,234,203)"/>
<rect x="395.1" y="111.8" width="2.2" height="2.6" fill="rgb(165,204,125)"/>
<rect x="395.1" y="114.4" width="2.2" height="1.2" fill="rgb(219,234,203)"/>
<rect x="397.3" y="111.8" width="10.8" height="2.6" fill="rgb(243,214,88)"/>
<rect x="397.3" y="114.4" width="10.8" height="1.2" fill="rgb(250,238,188)"/>
<rect x="408.1" y="111.8" width="2.5" height="2.6" fill="rgb(165,204,125)"/>
<rect x="408.1" y="114.4" width="2.5" height="1.2" fill="rgb(219,234,203)"/>
<rect x="395.2" y="118.4" width="11.0" height="2.6" fill="rgb(243,214,88)"/>
<rect x="395.2" y="121.0" width="11.0" height="1.2" fill="rgb(250,238,188)"/>
<path d="M398.7 126.4H412.4" stroke="rgb(100,100,105)" stroke-width="0.6"/>
<rect x="395.2" y="125.1" width="3.5" height="2.6" fill="rgb(243,214,88)"/>
<rect x="395.2" y="127.7" width="3.5" height="1.2" fill="rgb(250,238,188)"/>
<rect x="412.4" y="125.1" width="6.9" height="2.6" fill="rgb(243,214,88)"/>
<rect x="412.4" y="127.7" width="6.9" height="1.2" fill="rgb(250,238,188)"/>
<rect x="419.3" y="125.1" width="2.5" height="2.6" fill="rgb(165,204,125)"/>
<rect x="419.3" y="127.7" width="2.5" height="1.2" fill="rgb(219,234,203)"/>
<path d="M401.2 133.0H411.2" stroke="rgb(100,100,105)" stroke-width="0.6"/>
<rect x="395.2" y="131.7" width="1.8" height="2.6" fill="rgb(165,204,125)"/>
<rect x="395.2" y="134.3" width="1.8" height="1.2" fill="rgb(219,234,203)"/>
<rect x="397.0" y="131.7" width="4.2" height="2.6" fill="rgb(243,214,88)"/>
<rect x="397.0" y="134.3" width="4.2" height="1.2" fill="rgb(250,238,188)"/>
<rect x="411.2" y="131.7" width="6.2" height="2.6" fill="rgb(243,214,88)"/>
<rect x="411.2" y="134.3" width="6.2" height="1.2" fill="rgb(250,238,188)"/>
<rect x="417.4" y="131.7" width="2.5" height="2.6" fill="rgb(165,204,125)"/>
<rect x="417.4" y="134.3" width="2.5" height="1.2" fill="rgb(219,234,203)"/>
<rect x="395.2" y="138.4" width="12.3" height="2.6" fill="rgb(243,214,88)"/>
<rect x="395.2" y="141.0" width="12.3" height="1.2" fill="rgb(250,238,188)"/>
<rect x="395.2" y="145.0" width="11.0" height="2.6" fill="rgb(243,214,88)"/>
<rect x="395.2" y="147.6" width="11.0" height="1.2" fill="rgb(250,238,188)"/>
<rect x="406.2" y="145.0" width="2.5" height="2.6" fill="rgb(165,204,125)"/>
<rect x="406.2" y="147.6" width="2.5" height="1.2" fill="rgb(219,234,203)"/>
<rect x="395.2" y="151.7" width="10.4" height="2.6" fill="rgb(243,214,88)"/>
<rect x="395.2" y="154.3" width="10.4" height="1.2" fill="rgb(250,238,188)"/>
<rect x="405.6" y="151.7" width="2.1" height="2.6" fill="rgb(165,204,125)"/>
<rect x="405.6" y="154.3" width="2.1" height="1.2" fill="rgb(219,234,203)"/>
<rect x="395.2" y="158.3" width="12.3" height="2.6" fill="rgb(243,214,88)"/>
<rect x="395.2" y="160.9" width="12.3" height="1.2" fill="rgb(250,238,188)"/>
<rect x="395.2" y="165.0" width="1.0" height="2.6" fill="rgb(165,204,125)"/>
<rect x="395.2" y="167.6" width="1.0" height="1.2" fill="rgb(219,234,203)"/>
<rect x="396.2" y="165.0" width="10.6" height="2.6" fill="rgb(243,214,88)"/>
<rect x="396.2" y="167.6" width="10.6" height="1.2" fill="rgb(250,238,188)"/>
<rect x="406.8" y="165.0" width="2.2" height="2.6" fill="rgb(165,204,125)"/>
<rect x="406.8" y="167.6" width="2.2" height="1.2" fill="rgb(219,234,203)"/>
<rect x="395.2" y="171.6" width="12.3" height="2.6" fill="rgb(243,214,88)"/>
<rect x="395.2" y="174.2" width="12.3" height="1.2" fill="rgb(250,238,188)"/>
<rect x="395.2" y="178.3" width="11.6" height="2.6" fill="rgb(243,214,88)"/>
<rect x="395.2" y="180.9" width="11.6" height="1.2" fill="rgb(250,238,188)"/>
<rect x="406.8" y="178.3" width="2.5" height="2.6" fill="rgb(165,204,125)"/>
<rect x="406.8" y="180.9" width="2.5" height="1.2" fill="rgb(219,234,203)"/>
<rect x="395.2" y="184.9" width="12.3" height="2.6" fill="rgb(243,214,88)"/>
<rect x="395.2" y="187.5" width="12.3" height="1.2" fill="rgb(250,238,188)"/>
<path d="M401.2 192.9H421.2" stroke="rgb(100,100,105)" stroke-width="0.6"/>
<rect x="395.2" y="191.6" width="1.8" height="2.6" fill="rgb(165,204,125)"/>
<rect x="395.2" y="194.2" width="1.8" height="1.2" fill="rgb(219,234,203)"/>
<rect x="397.0" y="191.6" width="4.2" height="2.6" fill="rgb(243,214,88)"/>
<rect x="397.0" y="194.2" width="4.2" height="1.2" fill="rgb(250,238,188)"/>
<rect x="421.2" y="191.6" width="5.0" height="2.6" fill="rgb(243,214,88)"/>
<rect x="421.2" y="194.2" width="5.0" height="1.2" fill="rgb(250,238,188)"/>
<rect x="426.2" y="191.6" width="2.5" height="2.6" fill="rgb(165,204,125)"/>
<rect x="426.2" y="194.2" width="2.5" height="1.2" fill="rgb(219,234,203)"/>
<rect x="395.2" y="198.2" width="1.7" height="2.6" fill="rgb(165,204,125)"/>
<rect x="395.2" y="200.8" width="1.7" height="1.2" fill="rgb(219,234,203)"/>
<rect x="396.9" y="198.2" width="10.6" height="2.6" fill="rgb(243,214,88)"/>
<rect x="396.9" y="200.8" width="10.6" height="1.2" fill="rgb(250,238,188)"/>
<rect x="407.5" y="198.2" width="2.2" height="2.6" fill="rgb(165,204,125)"/>
<rect x="407.5" y="200.8" width="2.2" height="1.2" fill="rgb(219,234,203)"/>
<rect x="395.2" y="204.9" width="11.6" height="2.6" fill="rgb(243,214,88)"/>
<rect x="395.2" y="207.5" width="11.6" height="1.2" fill="rgb(250,238,188)"/>
<rect x="395.2" y="211.5" width="11.0" height="2.6" fill="rgb(243,214,88)"/>
<rect x="395.2" y="214.1" width="11.0" height="1.2" fill="rgb(250,238,188)"/>
<rect x="406.2" y="211.5" width="2.3" height="2.6" fill="rgb(165,204,125)"/>
<rect x="406.2" y="214.1" width="2.3" height="1.2" fill="rgb(219,234,203)"/>
<rect x="395.2" y="218.2" width="1.7" height="2.6" fill="rgb(165,204,125)"/>
<rect x="395.2" y="220.8" width="1.7" height="1.2" fill="rgb(219,234,203)"/>
<rect x="396.9" y="218.2" width="11.2" height="2.6" fill="rgb(243,214,88)"/>
<rect x="396.9" y="220.8" width="11.2" height="1.2" fill="rgb(250,238,188)"/>
<rect x="395.2" y="224.8" width="12.9" height="2.6" fill="rgb(243,214,88)"/>
<rect x="395.2" y="227.4" width="12.9" height="1.2" fill="rgb(250,238,188)"/>
<rect x="395.2" y="231.5" width="12.9" height="2.6" fill="rgb(243,214,88)"/>
<rect x="395.2" y="234.1" width="12.9" height="1.2" fill="rgb(250,238,188)"/>
<rect x="395.2" y="238.1" width="13.3" height="2.6" fill="rgb(243,214,88)"/>
<rect x="395.2" y="240.7" width="13.3" height="1.2" fill="rgb(250,238,188)"/>
<rect x="395.2" y="244.8" width="12.3" height="2.6" fill="rgb(243,214,88)"/>
<rect x="395.2" y="247.4" width="12.3" height="1.2" fill="rgb(250,238,188)"/>
<rect x="407.5" y="244.8" width="2.2" height="2.6" fill="rgb(165,204,125)"/>
<rect x="407.5" y="247.4" width="2.2" height="1.2" fill="rgb(219,234,203)"/>
<rect x="395.2" y="251.4" width="12.9" height="2.6" fill="rgb(243,214,88)"/>
<rect x="395.2" y="254.0" width="12.9" height="1.2" fill="rgb(250,238,188)"/>
<rect x="395.2" y="258.1" width="12.9" height="2.6" fill="rgb(243,214,88)"/>
<rect x="395.2" y="260.7" width="12.9" height="1.2" fill="rgb(250,238,188)"/>
<rect x="395.2" y="264.7" width="12.9" height="2.6" fill="rgb(243,214,88)"/>
<rect x="395.2" y="267.3" width="12.9" height="1.2" fill="rgb(250,238,188)"/>
<rect x="395.2" y="271.4" width="12.3" height="2.6" fill="rgb(243,214,88)"/>
<rect x="395.2" y="274.0" width="12.3" height="1.2" fill="rgb(250,238,188)"/>
<rect x="395.2" y="278.0" width="12.9" height="2.6" fill="rgb(243,214,88)"/>
<rect x="395.2" y="280.6" width="12.9" height="1.2" fill="rgb(250,238,188)"/>
<rect x="395.2" y="284.7" width="12.3" height="2.6" fill="rgb(243,214,88)"/>
<rect x="395.2" y="287.3" width="12.3" height="1.2" fill="rgb(250,238,188)"/>
<rect x="407.5" y="284.7" width="2.5" height="2.6" fill="rgb(165,204,125)"/>
<rect x="407.5" y="287.3" width="2.5" height="1.2" fill="rgb(219,234,203)"/>
<rect x="395.2" y="291.3" width="12.3" height="2.6" fill="rgb(243,214,88)"/>
<rect x="395.2" y="293.9" width="12.3" height="1.2" fill="rgb(250,238,188)"/>
<path d="M399.4 299.3H426.2" stroke="rgb(100,100,105)" stroke-width="0.6"/>
<rect x="395.2" y="298.0" width="4.2" height="2.6" fill="rgb(243,214,88)"/>
<rect x="395.2" y="300.6" width="4.2" height="1.2" fill="rgb(250,238,188)"/>
<rect x="426.2" y="298.0" width="5.6" height="2.6" fill="rgb(243,214,88)"/>
<rect x="426.2" y="300.6" width="5.6" height="1.2" fill="rgb(250,238,188)"/>
<rect x="431.8" y="298.0" width="1.8" height="2.6" fill="rgb(165,204,125)"/>
<rect x="431.8" y="300.6" width="1.8" height="1.2" fill="rgb(219,234,203)"/>
<path d="M399.4 305.9H415.6" stroke="rgb(100,100,105)" stroke-width="0.6"/>
<rect x="395.2" y="304.6" width="4.2" height="2.6" fill="rgb(243,214,88)"/>
<rect x="395.2" y="307.2" width="4.2" height="1.2" fill="rgb(250,238,188)"/>
<rect x="415.6" y="304.6" width="7.4" height="2.6" fill="rgb(243,214,88)"/>
<rect x="415.6" y="307.2" width="7.4" height="1.2" fill="rgb(250,238,188)"/>
<rect x="395.2" y="311.3" width="12.0" height="2.6" fill="rgb(243,214,88)"/>
<rect x="395.2" y="313.9" width="12.0" height="1.2" fill="rgb(250,238,188)"/>
<rect x="395.2" y="317.9" width="12.3" height="2.6" fill="rgb(243,214,88)"/>
<rect x="395.2" y="320.5" width="12.3" height="1.2" fill="rgb(250,238,188)"/>
<rect x="395.2" y="324.6" width="12.3" height="2.6" fill="rgb(243,214,88)"/>
<rect x="395.2" y="327.2" width="12.3" height="1.2" fill="rgb(250,238,188)"/>
<rect x="395.2" y="331.2" width="12.3" height="2.6" fill="rgb(243,214,88)"/>
<rect x="395.2" y="333.8" width="12.3" height="1.2" fill="rgb(250,238,188)"/>
<rect x="395.2" y="337.9" width="2.3" height="2.6" fill="rgb(165,204,125)"/>
<rect x="395.2" y="340.5" width="2.3" height="1.2" fill="rgb(219,234,203)"/>
<rect x="397.5" y="337.9" width="11.2" height="2.6" fill="rgb(243,214,88)"/>
<rect x="397.5" y="340.5" width="11.2" height="1.2" fill="rgb(250,238,188)"/>
<rect x="395.2" y="344.5" width="11.6" height="2.6" fill="rgb(243,214,88)"/>
<rect x="395.2" y="347.1" width="11.6" height="1.2" fill="rgb(250,238,188)"/>
<path d="M401.8 352.5H418.7" stroke="rgb(100,100,105)" stroke-width="0.6"/>
<rect x="395.2" y="351.2" width="1.8" height="2.6" fill="rgb(165,204,125)"/>
<rect x="395.2" y="353.8" width="1.8" height="1.2" fill="rgb(219,234,203)"/>
<rect x="397.0" y="351.2" width="4.8" height="2.6" fill="rgb(243,214,88)"/>
<rect x="397.0" y="353.8" width="4.8" height="1.2" fill="rgb(250,238,188)"/>
<rect x="418.7" y="351.2" width="5.5" height="2.6" fill="rgb(243,214,88)"/>
<rect x="418.7" y="353.8" width="5.5" height="1.2" fill="rgb(250,238,188)"/>
<rect x="424.2" y="351.2" width="2.0" height="2.6" fill="rgb(165,204,125)"/>
<rect x="424.2" y="353.8" width="2.0" height="1.2" fill="rgb(219,234,203)"/>
<rect x="395.2" y="357.8" width="11.0" height="2.6" fill="rgb(243,214,88)"/>
<rect x="395.2" y="360.4" width="11.0" height="1.2" fill="rgb(250,238,188)"/>
<rect x="406.2" y="357.8" width="2.3" height="2.6" fill="rgb(165,204,125)"/>
<rect x="406.2" y="360.4" width="2.3" height="1.2" fill="rgb(219,234,203)"/>
<rect x="395.2" y="364.5" width="7.3" height="2.6" fill="rgb(165,204,125)"/>
<rect x="395.2" y="367.1" width="7.3" height="1.2" fill="rgb(219,234,203)"/>
<rect x="402.5" y="364.5" width="11.8" height="2.6" fill="rgb(243,214,88)"/>
<rect x="402.5" y="367.1" width="11.8" height="1.2" fill="rgb(250,238,188)"/>
<rect x="395.2" y="371.1" width="12.3" height="2.6" fill="rgb(243,214,88)"/>
<rect x="395.2" y="373.7" width="12.3" height="1.2" fill="rgb(250,238,188)"/>
<rect x="395.2" y="377.8" width="10.4" height="2.6" fill="rgb(243,214,88)"/>
<rect x="395.2" y="380.4" width="10.4" height="1.2" fill="rgb(250,238,188)"/>
<rect x="405.6" y="377.8" width="5.6" height="2.6" fill="rgb(165,204,125)"/>
<rect x="405.6" y="380.4" width="5.6" height="1.2" fill="rgb(219,234,203)"/>
<rect x="395.2" y="384.4" width="10.8" height="2.6" fill="rgb(243,214,88)"/>
<rect x="395.2" y="387.0" width="10.8" height="1.2" fill="rgb(250,238,188)"/>
<rect x="395.2" y="391.1" width="12.3" height="2.6" fill="rgb(243,214,88)"/>
<rect x="395.2" y="393.7" width="12.3" height="1.2" fill="rgb(250,238,188)"/>
<rect x="407.5" y="391.1" width="1.8" height="2.6" fill="rgb(165,204,125)"/>
<rect x="407.5" y="393.7" width="1.8" height="1.2" fill="rgb(219,234,203)"/>
<path d="M406.2 399.0H418.0" stroke="rgb(100,100,105)" stroke-width="0.6"/>
<rect x="395.2" y="397.7" width="11.0" height="2.6" fill="rgb(243,214,88)"/>
<rect x="395.2" y="400.3" width="11.0" height="1.2" fill="rgb(250,238,188)"/>
<rect x="418.0" y="397.7" width="7.5" height="2.6" fill="rgb(165,204,125)"/>
<rect x="418.0" y="400.3" width="7.5" height="1.2" fill="rgb(219,234,203)"/>
<rect x="395.2" y="404.4" width="12.3" height="2.6" fill="rgb(243,214,88)"/>
<rect x="395.2" y="407.0" width="12.3" height="1.2" fill="rgb(250,238,188)"/>
<rect x="395.2" y="411.0" width="12.5" height="2.6" fill="rgb(243,214,88)"/>
<rect x="395.2" y="413.6" width="12.5" height="1.2" fill="rgb(250,238,188)"/>
<rect x="395.2" y="417.7" width="12.5" height="2.6" fill="rgb(243,214,88)"/>
<rect x="395.2" y="420.3" width="12.5" height="1.2" fill="rgb(250,238,188)"/>
<rect x="395.2" y="424.3" width="11.6" height="2.6" fill="rgb(243,214,88)"/>
<rect x="395.2" y="426.9" width="11.6" height="1.2" fill="rgb(250,238,188)"/>
<rect x="406.8" y="424.3" width="1.9" height="2.6" fill="rgb(165,204,125)"/>
<rect x="406.8" y="426.9" width="1.9" height="1.2" fill="rgb(219,234,203)"/>
<rect x="395.2" y="431.0" width="13.5" height="2.6" fill="rgb(243,214,88)"/>
<rect x="395.2" y="433.6" width="13.5" height="1.2" fill="rgb(250,238,188)"/>
<rect x="408.7" y="431.0" width="0.8" height="2.6" fill="rgb(165,204,125)"/>
<rect x="408.7" y="433.6" width="0.8" height="1.2" fill="rgb(219,234,203)"/>
<rect x="395.2" y="437.6" width="1.7" height="2.6" fill="rgb(165,204,125)"/>
<rect x="395.2" y="440.2" width="1.7" height="1.2" fill="rgb(219,234,203)"/>
<rect x="396.9" y="437.6" width="11.8" height="2.6" fill="rgb(243,214,88)"/>
<rect x="396.9" y="440.2" width="11.8" height="1.2" fill="rgb(250,238,188)"/>
<rect x="395.2" y="444.3" width="2.3" height="2.6" fill="rgb(165,204,125)"/>
<rect x="395.2" y="446.9" width="2.3" height="1.2" fill="rgb(219,234,203)"/>
<rect x="397.5" y="444.3" width="13.1" height="2.6" fill="rgb(243,214,88)"/>
<rect x="397.5" y="446.9" width="13.1" height="1.2" fill="rgb(250,238,188)"/>
<rect x="410.6" y="444.3" width="1.8" height="2.6" fill="rgb(165,204,125)"/>
<rect x="410.6" y="446.9" width="1.8" height="1.2" fill="rgb(219,234,203)"/>
<rect x="395.2" y="450.9" width="14.1" height="2.6" fill="rgb(243,214,88)"/>
<rect x="395.2" y="453.5" width="14.1" height="1.2" fill="rgb(250,238,188)"/>
<rect x="395.2" y="457.6" width="12.3" height="2.6" fill="rgb(243,214,88)"/>
<rect x="395.2" y="460.2" width="12.3" height="1.2" fill="rgb(250,238,188)"/>
<rect x="395.2" y="464.2" width="14.7" height="2.6" fill="rgb(243,214,88)"/>
<rect x="395.2" y="466.8" width="14.7" height="1.2" fill="rgb(250,238,188)"/>
<rect x="409.9" y="464.2" width="0.6" height="2.6" fill="rgb(165,204,125)"/>
<rect x="409.9" y="466.8" width="0.6" height="1.2" fill="rgb(219,234,203)"/>
<rect x="395.2" y="470.9" width="10.4" height="2.6" fill="rgb(243,214,88)"/>
<rect x="395.2" y="473.5" width="10.4" height="1.2" fill="rgb(250,238,188)"/>
<rect x="405.6" y="470.9" width="2.1" height="2.6" fill="rgb(165,204,125)"/>
<rect x="405.6" y="473.5" width="2.1" height="1.2" fill="rgb(219,234,203)"/>
<rect x="395.2" y="477.5" width="10.4" height="2.6" fill="rgb(243,214,88)"/>
<rect x="395.2" y="480.1" width="10.4" height="1.2" fill="rgb(250,238,188)"/>
<rect x="405.6" y="477.5" width="2.1" height="2.6" fill="rgb(165,204,125)"/>
<rect x="405.6" y="480.1" width="2.1" height="1.2" fill="rgb(219,234,203)"/>
<rect x="395.2" y="484.2" width="4.8" height="2.6" fill="rgb(165,204,125)"/>
<rect x="395.2" y="486.8" width="4.8" height="1.2" fill="rgb(219,234,203)"/>
<rect x="400.0" y="484.2" width="10.0" height="2.6" fill="rgb(243,214,88)"/>
<rect x="400.0" y="486.8" width="10.0" height="1.2" fill="rgb(250,238,188)"/>
<rect x="410.0" y="484.2" width="4.3" height="2.6" fill="rgb(165,204,125)"/>
<rect x="410.0" y="486.8" width="4.3" height="1.2" fill="rgb(219,234,203)"/>
<rect x="395.2" y="490.8" width="10.4" height="2.6" fill="rgb(243,214,88)"/>
<rect x="395.2" y="493.4" width="10.4" height="1.2" fill="rgb(250,238,188)"/>
<rect x="405.6" y="490.8" width="1.6" height="2.6" fill="rgb(165,204,125)"/>
<rect x="405.6" y="493.4" width="1.6" height="1.2" fill="rgb(219,234,203)"/>
<rect x="395.2" y="497.5" width="10.8" height="2.6" fill="rgb(243,214,88)"/>
<rect x="395.2" y="500.1" width="10.8" height="1.2" fill="rgb(250,238,188)"/>
<rect x="406.0" y="497.5" width="1.5" height="2.6" fill="rgb(165,204,125)"/>
<rect x="406.0" y="500.1" width="1.5" height="1.2" fill="rgb(219,234,203)"/>
<rect x="395.2" y="504.1" width="11.0" height="2.6" fill="rgb(243,214,88)"/>
<rect x="395.2" y="506.7" width="11.0" height="1.2" fill="rgb(250,238,188)"/>
<rect x="406.2" y="504.1" width="2.5" height="2.6" fill="rgb(165,204,125)"/>
<rect x="406.2" y="506.7" width="2.5" height="1.2" fill="rgb(219,234,203)"/>
<rect x="395.2" y="510.8" width="12.3" height="2.6" fill="rgb(243,214,88)"/>
<rect x="395.2" y="513.4" width="12.3" height="1.2" fill="rgb(250,238,188)"/>
<rect x="395.2" y="517.4" width="11.0" height="2.6" fill="rgb(243,214,88)"/>
<rect x="395.2" y="520.0" width="11.0" height="1.2" fill="rgb(250,238,188)"/>
<rect x="406.2" y="517.4" width="3.8" height="2.6" fill="rgb(165,204,125)"/>
<rect x="406.2" y="520.0" width="3.8" height="1.2" fill="rgb(219,234,203)"/>
<rect x="395.2" y="524.1" width="11.3" height="2.6" fill="rgb(243,214,88)"/>
<rect x="395.2" y="526.7" width="11.3" height="1.2" fill="rgb(250,238,188)"/>
<rect x="395.2" y="530.7" width="11.0" height="2.6" fill="rgb(243,214,88)"/>
<rect x="395.2" y="533.3" width="11.0" height="1.2" fill="rgb(250,238,188)"/>
<rect x="406.2" y="530.7" width="1.5" height="2.6" fill="rgb(165,204,125)"/>
<rect x="406.2" y="533.3" width="1.5" height="1.2" fill="rgb(219,234,203)"/>
<rect x="395.2" y="537.4" width="12.3" height="2.6" fill="rgb(243,214,88)"/>
<rect x="395.2" y="540.0" width="12.3" height="1.2" fill="rgb(250,238,188)"/>
<rect x="395.2" y="544.0" width="9.5" height="2.6" fill="rgb(243,214,88)"/>
<rect x="395.2" y="546.6" width="9.5" height="1.2" fill="rgb(250,238,188)"/>
<rect x="395.2" y="550.7" width="11.0" height="2.6" fill="rgb(243,214,88)"/>
<rect x="395.2" y="553.3" width="11.0" height="1.2" fill="rgb(250,238,188)"/>
<rect x="406.2" y="550.7" width="1.9" height="2.6" fill="rgb(165,204,125)"/>
<rect x="406.2" y="553.3" width="1.9" height="1.2" fill="rgb(219,234,203)"/>
<rect x="395.2" y="557.3" width="11.5" height="2.6" fill="rgb(243,214,88)"/>
<rect x="395.2" y="559.9" width="11.5" height="1.2" fill="rgb(250,238,188)"/>
<rect x="395.4" y="564.0" width="11.3" height="2.6" fill="rgb(243,214,88)"/>
<rect x="395.4" y="566.6" width="11.3" height="1.2" fill="rgb(250,238,188)"/>
<rect x="406.7" y="564.0" width="6.3" height="2.6" fill="rgb(165,204,125)"/>
<rect x="406.7" y="566.6" width="6.3" height="1.2" fill="rgb(219,234,203)"/>
<path d="M395.4 571.9H410.4" stroke="rgb(100,100,105)" stroke-width="0.6"/>
<rect x="395.4" y="570.6" width="1.0" height="2.6" fill="rgb(165,204,125)"/>
<rect x="395.4" y="573.2" width="1.0" height="1.2" fill="rgb(219,234,203)"/>
<rect x="399.5" y="570.6" width="0.8" height="2.6" fill="rgb(165,204,125)"/>
<rect x="399.5" y="573.2" width="0.8" height="1.2" fill="rgb(219,234,203)"/>
<rect x="403.5" y="570.6" width="0.8" height="2.6" fill="rgb(165,204,125)"/>
<rect x="403.5" y="573.2" width="0.8" height="1.2" fill="rgb(219,234,203)"/>
<rect x="407.0" y="570.6" width="0.8" height="2.6" fill="rgb(165,204,125)"/>
<rect x="407.0" y="573.2" width="0.8" height="1.2" fill="rgb(219,234,203)"/>
<rect x="410.4" y="570.6" width="6.5" height="2.6" fill="rgb(165,204,125)"/>
<rect x="410.4" y="573.2" width="6.5" height="1.2" fill="rgb(219,234,203)"/>
<rect x="416.9" y="570.6" width="10.2" height="2.6" fill="rgb(243,214,88)"/>
<rect x="416.9" y="573.2" width="10.2" height="1.2" fill="rgb(250,238,188)"/>
<rect x="395.4" y="577.3" width="11.8" height="2.6" fill="rgb(243,214,88)"/>
<rect x="395.4" y="579.9" width="11.8" height="1.2" fill="rgb(250,238,188)"/>
<rect x="395.4" y="583.9" width="12.1" height="2.6" fill="rgb(243,214,88)"/>
<rect x="395.4" y="586.5" width="12.1" height="1.2" fill="rgb(250,238,188)"/>
<rect x="395.4" y="590.6" width="12.3" height="2.6" fill="rgb(243,214,88)"/>
<rect x="395.4" y="593.2" width="12.3" height="1.2" fill="rgb(250,238,188)"/>
<path d="M408.5 598.5H537.6" stroke="rgb(100,100,105)" stroke-width="0.6"/>
<rect x="395.4" y="597.2" width="11.3" height="2.6" fill="rgb(243,214,88)"/>
<rect x="395.4" y="599.8" width="11.3" height="1.2" fill="rgb(250,238,188)"/>
<rect x="406.7" y="597.2" width="1.8" height="2.6" fill="rgb(165,204,125)"/>
<rect x="406.7" y="599.8" width="1.8" height="1.2" fill="rgb(219,234,203)"/>
<rect x="410.5" y="597.2" width="0.7" height="2.6" fill="rgb(165,204,125)"/>
<rect x="410.5" y="599.8" width="0.7" height="1.2" fill="rgb(219,234,203)"/>
<rect x="413.5" y="597.2" width="0.7" height="2.6" fill="rgb(165,204,125)"/>
<rect x="413.5" y="599.8" width="0.7" height="1.2" fill="rgb(219,234,203)"/>
<rect x="416.5" y="597.2" width="0.7" height="2.6" fill="rgb(165,204,125)"/>
<rect x="416.5" y="599.8" width="0.7" height="1.2" fill="rgb(219,234,203)"/>
<rect x="433.4" y="597.2" width="0.5" height="2.6" fill="rgb(165,204,125)"/>
<rect x="433.4" y="599.8" width="0.5" height="1.2" fill="rgb(219,234,203)"/>
<rect x="456.7" y="597.2" width="0.5" height="2.6" fill="rgb(165,204,125)"/>
<rect x="456.7" y="599.8" width="0.5" height="1.2" fill="rgb(219,234,203)"/>
<rect x="527.8" y="597.2" width="0.5" height="2.6" fill="rgb(165,204,125)"/>
<rect x="527.8" y="599.8" width="0.5" height="1.2" fill="rgb(219,234,203)"/>
<rect x="537.6" y="597.2" width="4.1" height="2.6" fill="rgb(165,204,125)"/>
<rect x="537.6" y="599.8" width="4.1" height="1.2" fill="rgb(219,234,203)"/>
<rect x="395.4" y="603.9" width="12.3" height="2.6" fill="rgb(243,214,88)"/>
<rect x="395.4" y="606.5" width="12.3" height="1.2" fill="rgb(250,238,188)"/>
<rect x="395.4" y="610.5" width="11.3" height="2.6" fill="rgb(243,214,88)"/>
<rect x="395.4" y="613.1" width="11.3" height="1.2" fill="rgb(250,238,188)"/>
<rect x="395.4" y="617.2" width="1.9" height="2.6" fill="rgb(165,204,125)"/>
<rect x="395.4" y="619.8" width="1.9" height="1.2" fill="rgb(219,234,203)"/>
<rect x="397.3" y="617.2" width="12.3" height="2.6" fill="rgb(243,214,88)"/>
<rect x="397.3" y="619.8" width="12.3" height="1.2" fill="rgb(250,238,188)"/>
<rect x="395.4" y="623.8" width="10.6" height="2.6" fill="rgb(243,214,88)"/>
<rect x="395.4" y="626.4" width="10.6" height="1.2" fill="rgb(250,238,188)"/>
<rect x="395.4" y="630.5" width="10.9" height="2.6" fill="rgb(243,214,88)"/>
<rect x="395.4" y="633.1" width="10.9" height="1.2" fill="rgb(250,238,188)"/>
<rect x="395.4" y="637.1" width="12.1" height="2.6" fill="rgb(243,214,88)"/>
<rect x="395.4" y="639.7" width="12.1" height="1.2" fill="rgb(250,238,188)"/>
<rect x="407.5" y="637.1" width="0.7" height="2.6" fill="rgb(165,204,125)"/>
<rect x="407.5" y="639.7" width="0.7" height="1.2" fill="rgb(219,234,203)"/>
<rect x="395.4" y="643.8" width="12.1" height="2.6" fill="rgb(243,214,88)"/>
<rect x="395.4" y="646.4" width="12.1" height="1.2" fill="rgb(250,238,188)"/>
<rect x="395.4" y="650.4" width="11.8" height="2.6" fill="rgb(243,214,88)"/>
<rect x="395.4" y="653.0" width="11.8" height="1.2" fill="rgb(250,238,188)"/>
<rect x="395.4" y="657.1" width="11.3" height="2.6" fill="rgb(243,214,88)"/>
<rect x="395.4" y="659.7" width="11.3" height="1.2" fill="rgb(250,238,188)"/>
<rect x="406.7" y="657.1" width="1.9" height="2.6" fill="rgb(165,204,125)"/>
<rect x="406.7" y="659.7" width="1.9" height="1.2" fill="rgb(219,234,203)"/>
<rect x="395.4" y="663.7" width="15.0" height="2.6" fill="rgb(165,204,125)"/>
<rect x="395.4" y="666.3" width="15.0" height="1.2" fill="rgb(219,234,203)"/>
<rect x="410.4" y="663.7" width="8.0" height="2.6" fill="rgb(243,214,88)"/>
<rect x="410.4" y="666.3" width="8.0" height="1.2" fill="rgb(250,238,188)"/>
<rect x="395.4" y="670.4" width="11.8" height="2.6" fill="rgb(243,214,88)"/>
<rect x="395.4" y="673.0" width="11.8" height="1.2" fill="rgb(250,238,188)"/>
<rect x="395.4" y="677.0" width="11.3" height="2.6" fill="rgb(243,214,88)"/>
<rect x="395.4" y="679.6" width="11.3" height="1.2" fill="rgb(250,238,188)"/>
<rect x="406.7" y="677.0" width="1.5" height="2.6" fill="rgb(165,204,125)"/>
<rect x="406.7" y="679.6" width="1.5" height="1.2" fill="rgb(219,234,203)"/>
<rect x="395.4" y="683.7" width="9.1" height="2.6" fill="rgb(243,214,88)"/>
<rect x="395.4" y="686.3" width="9.1" height="1.2" fill="rgb(250,238,188)"/>
<rect x="395.4" y="690.3" width="11.8" height="2.6" fill="rgb(243,214,88)"/>
<rect x="395.4" y="692.9" width="11.8" height="1.2" fill="rgb(250,238,188)"/>
<rect x="395.4" y="697.0" width="11.3" height="2.6" fill="rgb(243,214,88)"/>
<rect x="395.4" y="699.6" width="11.3" height="1.2" fill="rgb(250,238,188)"/>
<rect x="395.4" y="703.6" width="1.9" height="2.6" fill="rgb(165,204,125)"/>
<rect x="395.4" y="706.2" width="1.9" height="1.2" fill="rgb(219,234,203)"/>
<rect x="397.3" y="703.6" width="11.6" height="2.6" fill="rgb(243,214,88)"/>
<rect x="397.3" y="706.2" width="11.6" height="1.2" fill="rgb(250,238,188)"/>
<rect x="395.4" y="710.3" width="12.3" height="2.6" fill="rgb(243,214,88)"/>
<rect x="395.4" y="712.9" width="12.3" height="1.2" fill="rgb(250,238,188)"/>
<rect x="395.4" y="716.9" width="12.1" height="2.6" fill="rgb(243,214,88)"/>
<rect x="395.4" y="719.5" width="12.1" height="1.2" fill="rgb(250,238,188)"/>
<rect x="407.5" y="716.9" width="0.5" height="2.6" fill="rgb(165,204,125)"/>
<rect x="407.5" y="719.5" width="0.5" height="1.2" fill="rgb(219,234,203)"/>
<rect x="395.4" y="723.6" width="12.8" height="2.6" fill="rgb(243,214,88)"/>
<rect x="395.4" y="726.2" width="12.8" height="1.2" fill="rgb(250,238,188)"/>
<rect x="395.4" y="730.2" width="11.3" height="2.6" fill="rgb(243,214,88)"/>
<rect x="395.4" y="732.8" width="11.3" height="1.2" fill="rgb(250,238,188)"/>
<rect x="395.4" y="736.9" width="3.3" height="2.6" fill="rgb(165,204,125)"/>
<rect x="395.4" y="739.5" width="3.3" height="1.2" fill="rgb(219,234,203)"/>
<rect x="398.7" y="736.9" width="9.5" height="2.6" fill="rgb(243,214,88)"/>
<rect x="398.7" y="739.5" width="9.5" height="1.2" fill="rgb(250,238,188)"/>
<rect x="408.2" y="736.9" width="4.8" height="2.6" fill="rgb(165,204,125)"/>
<rect x="408.2" y="739.5" width="4.8" height="1.2" fill="rgb(219,234,203)"/>
<rect x="478.8" y="23.8" width="8.2" height="2" fill="rgb(214,45,80)"/>
<text x="487.8" y="26.0" font-family="Liberation Sans" font-size="3.3" fill="#333" stroke="#333" stroke-width="0.0">Motif 5</text>
<rect x="478.8" y="28.4" width="8.2" height="2" fill="rgb(169,166,207)"/>
<text x="487.8" y="30.6" font-family="Liberation Sans" font-size="3.3" fill="#333" stroke="#333" stroke-width="0.0">Motif 9</text>
<rect x="478.8" y="33.1" width="8.2" height="2" fill="rgb(207,227,154)"/>
<text x="487.8" y="35.3" font-family="Liberation Sans" font-size="3.3" fill="#333" stroke="#333" stroke-width="0.0">Motif 7</text>
<rect x="478.8" y="37.8" width="8.2" height="2" fill="rgb(63,154,156)"/>
<text x="487.8" y="40.0" font-family="Liberation Sans" font-size="3.3" fill="#333" stroke="#333" stroke-width="0.0">Motif 4</text>
<rect x="478.8" y="42.4" width="8.2" height="2" fill="rgb(242,207,42)"/>
<text x="487.8" y="44.6" font-family="Liberation Sans" font-size="3.3" fill="#333" stroke="#333" stroke-width="0.0">Motif 2</text>
<rect x="478.8" y="47.1" width="8.2" height="2" fill="rgb(140,200,106)"/>
<text x="487.8" y="49.3" font-family="Liberation Sans" font-size="3.3" fill="#333" stroke="#333" stroke-width="0.0">Motif 1</text>
<rect x="478.8" y="51.8" width="8.2" height="2" fill="rgb(224,122,168)"/>
<text x="487.8" y="54.0" font-family="Liberation Sans" font-size="3.3" fill="#333" stroke="#333" stroke-width="0.0">Motif 3</text>
<rect x="478.8" y="56.4" width="8.2" height="2" fill="rgb(242,195,154)"/>
<text x="487.8" y="58.6" font-family="Liberation Sans" font-size="3.3" fill="#333" stroke="#333" stroke-width="0.0">Motif 10</text>
<rect x="478.8" y="61.1" width="8.2" height="2" fill="rgb(240,168,50)"/>
<text x="487.8" y="63.3" font-family="Liberation Sans" font-size="3.3" fill="#333" stroke="#333" stroke-width="0.0">Motif 8</text>
<rect x="478.8" y="65.8" width="8.2" height="2" fill="rgb(118,108,182)"/>
<text x="487.8" y="68.0" font-family="Liberation Sans" font-size="3.3" fill="#333" stroke="#333" stroke-width="0.0">Motif 6</text>
<rect x="478.8" y="78.3" width="8.2" height="2" fill="rgb(146,198,108)"/>
<text x="487.8" y="80.5" font-family="Liberation Sans" font-size="3.3" fill="#333" stroke="#333" stroke-width="0.0">GT1_OtH like</text>
<rect x="478.8" y="82.8" width="8.2" height="2" fill="rgb(242,210,70)"/>
<text x="487.8" y="85.0" font-family="Liberation Sans" font-size="3.3" fill="#333" stroke="#333" stroke-width="0.0">Glycosyltransferase_GTB type superfamily</text>
<rect x="478.8" y="87.3" width="8.2" height="2" fill="rgb(222,116,152)"/>
<text x="487.8" y="89.5" font-family="Liberation Sans" font-size="3.3" fill="#333" stroke="#333" stroke-width="0.0">PLN02448</text>
<rect x="478.8" y="91.8" width="8.2" height="2" fill="rgb(86,160,162)"/>
<text x="487.8" y="94.0" font-family="Liberation Sans" font-size="3.3" fill="#333" stroke="#333" stroke-width="0.0">PLN02164</text>
<rect x="478.8" y="104.0" width="8.2" height="2" fill="rgb(146,198,108)"/>
<text x="487.8" y="106.2" font-family="Liberation Sans" font-size="3.3" fill="#333" stroke="#333" stroke-width="0.0">UTR</text>
<rect x="478.8" y="108.6" width="8.2" height="2" fill="rgb(242,210,70)"/>
<text x="487.8" y="110.8" font-family="Liberation Sans" font-size="3.3" fill="#333" stroke="#333" stroke-width="0.0">CDS</text>
<path d="M115.8 745.3H239.9" stroke="#666" stroke-width="0.4"/>
<text x="115.8" y="751.4" text-anchor="middle" font-family="Liberation Sans" font-size="3.7" fill="#3a3a3a" stroke="#3a3a3a" stroke-width="0.1">0</text>
<text x="127.0" y="751.4" text-anchor="middle" font-family="Liberation Sans" font-size="3.7" fill="#3a3a3a" stroke="#3a3a3a" stroke-width="0.1">50</text>
<text x="138.3" y="751.4" text-anchor="middle" font-family="Liberation Sans" font-size="3.7" fill="#3a3a3a" stroke="#3a3a3a" stroke-width="0.1">100</text>
<text x="149.6" y="751.4" text-anchor="middle" font-family="Liberation Sans" font-size="3.7" fill="#3a3a3a" stroke="#3a3a3a" stroke-width="0.1">150</text>
<text x="160.9" y="751.4" text-anchor="middle" font-family="Liberation Sans" font-size="3.7" fill="#3a3a3a" stroke="#3a3a3a" stroke-width="0.1">200</text>
<text x="172.2" y="751.4" text-anchor="middle" font-family="Liberation Sans" font-size="3.7" fill="#3a3a3a" stroke="#3a3a3a" stroke-width="0.1">250</text>
<text x="183.5" y="751.4" text-anchor="middle" font-family="Liberation Sans" font-size="3.7" fill="#3a3a3a" stroke="#3a3a3a" stroke-width="0.1">300</text>
<text x="194.8" y="751.4" text-anchor="middle" font-family="Liberation Sans" font-size="3.7" fill="#3a3a3a" stroke="#3a3a3a" stroke-width="0.1">350</text>
<text x="206.1" y="751.4" text-anchor="middle" font-family="Liberation Sans" font-size="3.7" fill="#3a3a3a" stroke="#3a3a3a" stroke-width="0.1">400</text>
<text x="217.4" y="751.4" text-anchor="middle" font-family="Liberation Sans" font-size="3.7" fill="#3a3a3a" stroke="#3a3a3a" stroke-width="0.1">450</text>
<text x="228.7" y="751.4" text-anchor="middle" font-family="Liberation Sans" font-size="3.7" fill="#3a3a3a" stroke="#3a3a3a" stroke-width="0.1">500</text>
<text x="239.9" y="751.4" text-anchor="middle" font-family="Liberation Sans" font-size="3.7" fill="#3a3a3a" stroke="#3a3a3a" stroke-width="0.1">550</text>
<path d="M115.8 745.3V745.9M118.0 745.3V745.9M120.3 745.3V745.9M122.5 745.3V745.9M124.8 745.3V745.9M127.0 745.3V745.9M129.3 745.3V745.9M131.6 745.3V745.9M133.8 745.3V745.9M136.1 745.3V745.9M138.3 745.3V745.9M140.6 745.3V745.9M142.9 745.3V745.9M145.1 745.3V745.9M147.4 745.3V745.9M149.6 745.3V745.9M151.9 745.3V745.9M154.1 745.3V745.9M156.4 745.3V745.9M158.7 745.3V745.9M160.9 745.3V745.9M163.2 745.3V745.9M165.4 745.3V745.9M167.7 745.3V745.9M169.9 745.3V745.9M172.2 745.3V745.9M174.5 745.3V745.9M176.7 745.3V745.9M179.0 745.3V745.9M181.2 745.3V745.9M183.5 745.3V745.9M185.8 745.3V745.9M188.0 745.3V745.9M190.3 745.3V745.9M192.5 745.3V745.9M194.8 745.3V745.9M197.0 745.3V745.9M199.3 745.3V745.9M201.6 745.3V745.9M203.8 745.3V745.9M206.1 745.3V745.9M208.3 745.3V745.9M210.6 745.3V745.9M212.8 745.3V745.9M215.1 745.3V745.9M217.4 745.3V745.9M219.6 745.3V745.9M221.9 745.3V745.9M224.1 745.3V745.9M226.4 745.3V745.9M228.7 745.3V745.9M230.9 745.3V745.9M233.2 745.3V745.9M235.4 745.3V745.9M237.7 745.3V745.9M239.9 745.3V745.9M115.8 745.3V747.0M127.0 745.3V747.0M138.3 745.3V747.0M149.6 745.3V747.0M160.9 745.3V747.0M172.2 745.3V747.0M183.5 745.3V747.0M194.8 745.3V747.0M206.1 745.3V747.0M217.4 745.3V747.0M228.7 745.3V747.0M239.9 745.3V747.0" stroke="#777" stroke-width="0.3"/>
<path d="M113.2 743.9h1.6l-1.6 2.4h1.6" stroke="#555" stroke-width="0.4" fill="none"/>
<path d="M262.4 745.3H386.3" stroke="#666" stroke-width="0.4"/>
<text x="262.4" y="751.4" text-anchor="middle" font-family="Liberation Sans" font-size="3.7" fill="#3a3a3a" stroke="#3a3a3a" stroke-width="0.1">0</text>
<text x="273.6" y="751.4" text-anchor="middle" font-family="Liberation Sans" font-size="3.7" fill="#3a3a3a" stroke="#3a3a3a" stroke-width="0.1">50</text>
<text x="284.9" y="751.4" text-anchor="middle" font-family="Liberation Sans" font-size="3.7" fill="#3a3a3a" stroke="#3a3a3a" stroke-width="0.1">100</text>
<text x="296.1" y="751.4" text-anchor="middle" font-family="Liberation Sans" font-size="3.7" fill="#3a3a3a" stroke="#3a3a3a" stroke-width="0.1">150</text>
<text x="307.4" y="751.4" text-anchor="middle" font-family="Liberation Sans" font-size="3.7" fill="#3a3a3a" stroke="#3a3a3a" stroke-width="0.1">200</text>
<text x="318.7" y="751.4" text-anchor="middle" font-family="Liberation Sans" font-size="3.7" fill="#3a3a3a" stroke="#3a3a3a" stroke-width="0.1">250</text>
<text x="329.9" y="751.4" text-anchor="middle" font-family="Liberation Sans" font-size="3.7" fill="#3a3a3a" stroke="#3a3a3a" stroke-width="0.1">300</text>
<text x="341.2" y="751.4" text-anchor="middle" font-family="Liberation Sans" font-size="3.7" fill="#3a3a3a" stroke="#3a3a3a" stroke-width="0.1">350</text>
<text x="352.5" y="751.4" text-anchor="middle" font-family="Liberation Sans" font-size="3.7" fill="#3a3a3a" stroke="#3a3a3a" stroke-width="0.1">400</text>
<text x="363.7" y="751.4" text-anchor="middle" font-family="Liberation Sans" font-size="3.7" fill="#3a3a3a" stroke="#3a3a3a" stroke-width="0.1">450</text>
<text x="375.0" y="751.4" text-anchor="middle" font-family="Liberation Sans" font-size="3.7" fill="#3a3a3a" stroke="#3a3a3a" stroke-width="0.1">500</text>
<text x="386.3" y="751.4" text-anchor="middle" font-family="Liberation Sans" font-size="3.7" fill="#3a3a3a" stroke="#3a3a3a" stroke-width="0.1">550</text>
<path d="M262.4 745.3V745.9M264.6 745.3V745.9M266.9 745.3V745.9M269.1 745.3V745.9M271.4 745.3V745.9M273.6 745.3V745.9M275.9 745.3V745.9M278.1 745.3V745.9M280.4 745.3V745.9M282.6 745.3V745.9M284.9 745.3V745.9M287.1 745.3V745.9M289.4 745.3V745.9M291.6 745.3V745.9M293.9 745.3V745.9M296.1 745.3V745.9M298.4 745.3V745.9M300.7 745.3V745.9M302.9 745.3V745.9M305.2 745.3V745.9M307.4 745.3V745.9M309.7 745.3V745.9M311.9 745.3V745.9M314.2 745.3V745.9M316.4 745.3V745.9M318.7 745.3V745.9M320.9 745.3V745.9M323.2 745.3V745.9M325.4 745.3V745.9M327.7 745.3V745.9M329.9 745.3V745.9M332.2 745.3V745.9M334.5 745.3V745.9M336.7 745.3V745.9M339.0 745.3V745.9M341.2 745.3V745.9M343.5 745.3V745.9M345.7 745.3V745.9M348.0 745.3V745.9M350.2 745.3V745.9M352.5 745.3V745.9M354.7 745.3V745.9M357.0 745.3V745.9M359.2 745.3V745.9M361.5 745.3V745.9M363.7 745.3V745.9M366.0 745.3V745.9M368.2 745.3V745.9M370.5 745.3V745.9M372.8 745.3V745.9M375.0 745.3V745.9M377.3 745.3V745.9M379.5 745.3V745.9M381.8 745.3V745.9M384.0 745.3V745.9M386.3 745.3V745.9M262.4 745.3V747.0M273.6 745.3V747.0M284.9 745.3V747.0M296.1 745.3V747.0M307.4 745.3V747.0M318.7 745.3V747.0M329.9 745.3V747.0M341.2 745.3V747.0M352.5 745.3V747.0M363.7 745.3V747.0M375.0 745.3V747.0M386.3 745.3V747.0" stroke="#777" stroke-width="0.3"/>
<path d="M259.8 743.9h1.6l-1.6 2.4h1.6" stroke="#555" stroke-width="0.4" fill="none"/>
<path d="M387.1 743.9h1.6l-1.6 2.4h1.6" stroke="#555" stroke-width="0.4" fill="none"/>
<path d="M395.4 745.3H542.4" stroke="#666" stroke-width="0.4"/>
<text x="395.4" y="751.4" text-anchor="middle" font-family="Liberation Sans" font-size="3.7" fill="#3a3a3a" stroke="#3a3a3a" stroke-width="0.1">0</text>
<text x="408.7" y="751.4" text-anchor="middle" font-family="Liberation Sans" font-size="3.7" fill="#3a3a3a" stroke="#3a3a3a" stroke-width="0.1">2,000</text>
<text x="422.1" y="751.4" text-anchor="middle" font-family="Liberation Sans" font-size="3.7" fill="#3a3a3a" stroke="#3a3a3a" stroke-width="0.1">4,000</text>
<text x="435.5" y="751.4" text-anchor="middle" font-family="Liberation Sans" font-size="3.7" fill="#3a3a3a" stroke="#3a3a3a" stroke-width="0.1">6,000</text>
<text x="448.8" y="751.4" text-anchor="middle" font-family="Liberation Sans" font-size="3.7" fill="#3a3a3a" stroke="#3a3a3a" stroke-width="0.1">8,000</text>
<text x="462.2" y="751.4" text-anchor="middle" font-family="Liberation Sans" font-size="3.7" fill="#3a3a3a" stroke="#3a3a3a" stroke-width="0.1">10,000</text>
<text x="475.6" y="751.4" text-anchor="middle" font-family="Liberation Sans" font-size="3.7" fill="#3a3a3a" stroke="#3a3a3a" stroke-width="0.1">12,000</text>
<text x="489.0" y="751.4" text-anchor="middle" font-family="Liberation Sans" font-size="3.7" fill="#3a3a3a" stroke="#3a3a3a" stroke-width="0.1">14,000</text>
<text x="502.3" y="751.4" text-anchor="middle" font-family="Liberation Sans" font-size="3.7" fill="#3a3a3a" stroke="#3a3a3a" stroke-width="0.1">16,000</text>
<text x="515.7" y="751.4" text-anchor="middle" font-family="Liberation Sans" font-size="3.7" fill="#3a3a3a" stroke="#3a3a3a" stroke-width="0.1">18,000</text>
<text x="529.1" y="751.4" text-anchor="middle" font-family="Liberation Sans" font-size="3.7" fill="#3a3a3a" stroke="#3a3a3a" stroke-width="0.1">20,000</text>
<text x="542.4" y="751.4" text-anchor="middle" font-family="Liberation Sans" font-size="3.7" fill="#3a3a3a" stroke="#3a3a3a" stroke-width="0.1">22,000</text>
<path d="M395.4 745.3V745.9M398.7 745.3V745.9M402.0 745.3V745.9M405.4 745.3V745.9M408.7 745.3V745.9M412.1 745.3V745.9M415.4 745.3V745.9M418.8 745.3V745.9M422.1 745.3V745.9M425.4 745.3V745.9M428.8 745.3V745.9M432.1 745.3V745.9M435.5 745.3V745.9M438.8 745.3V745.9M442.2 745.3V745.9M445.5 745.3V745.9M448.8 745.3V745.9M452.2 745.3V745.9M455.5 745.3V745.9M458.9 745.3V745.9M462.2 745.3V745.9M465.6 745.3V745.9M468.9 745.3V745.9M472.2 745.3V745.9M475.6 745.3V745.9M478.9 745.3V745.9M482.3 745.3V745.9M485.6 745.3V745.9M489.0 745.3V745.9M492.3 745.3V745.9M495.6 745.3V745.9M499.0 745.3V745.9M502.3 745.3V745.9M505.7 745.3V745.9M509.0 745.3V745.9M512.4 745.3V745.9M515.7 745.3V745.9M519.0 745.3V745.9M522.4 745.3V745.9M525.7 745.3V745.9M529.1 745.3V745.9M532.4 745.3V745.9M535.8 745.3V745.9M539.1 745.3V745.9M542.4 745.3V745.9M395.4 745.3V747.0M408.7 745.3V747.0M422.1 745.3V747.0M435.5 745.3V747.0M448.8 745.3V747.0M462.2 745.3V747.0M475.6 745.3V747.0M489.0 745.3V747.0M502.3 745.3V747.0M515.7 745.3V747.0M529.1 745.3V747.0M542.4 745.3V747.0" stroke="#777" stroke-width="0.3"/>
<path d="M392.8 743.9h1.6l-1.6 2.4h1.6" stroke="#555" stroke-width="0.4" fill="none"/>
</svg>
</body></html>
